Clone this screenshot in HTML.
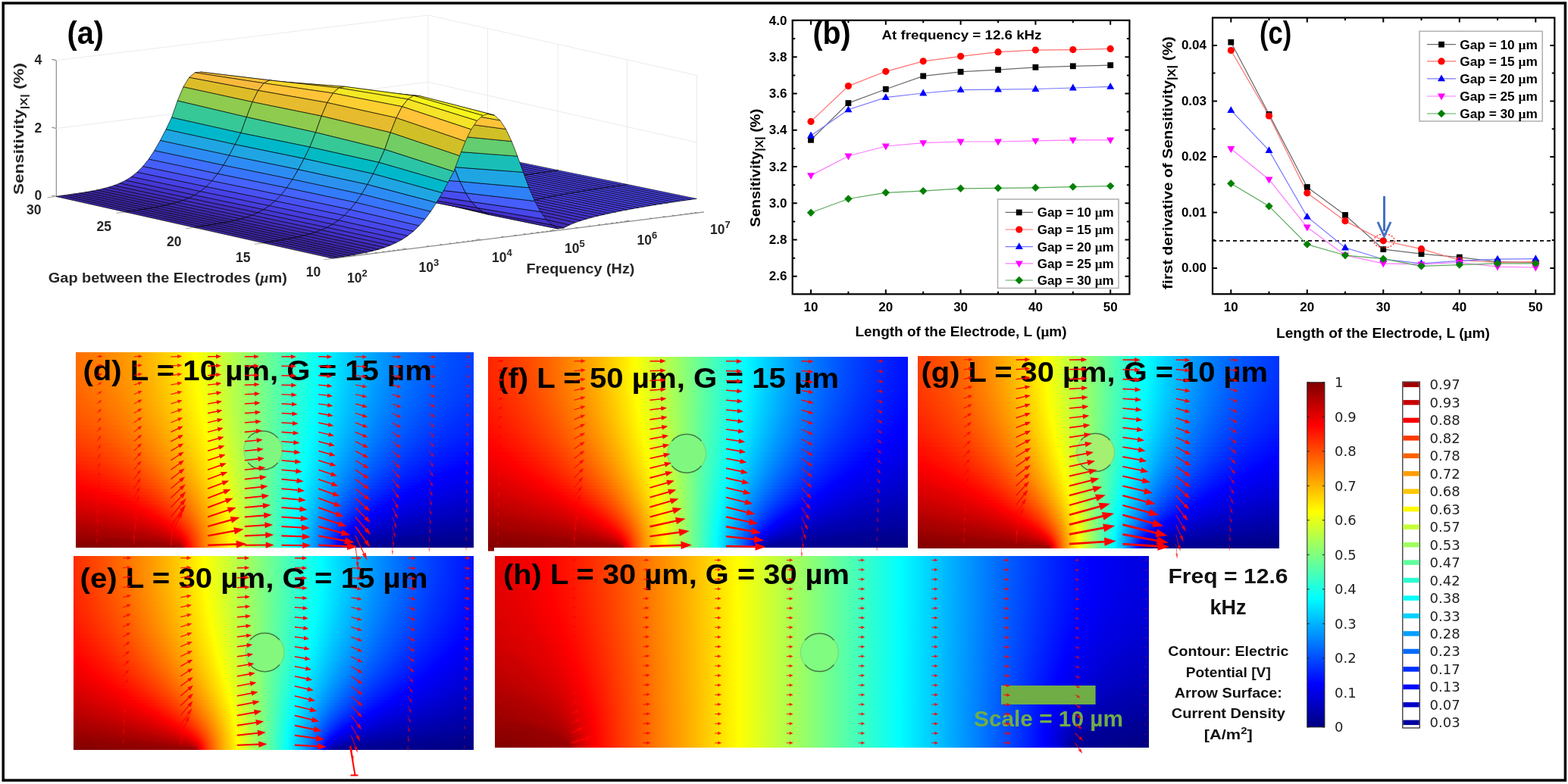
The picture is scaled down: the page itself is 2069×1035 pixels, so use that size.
<!DOCTYPE html><html><head><meta charset="utf-8"><style>
*{margin:0;padding:0}
html{overflow:hidden;background:#fff}
body{width:2069px;height:1035px;overflow:hidden;background:#fff;position:relative}
.fp{position:absolute;overflow:hidden}
.fp i{position:absolute;left:0;right:0;display:block}
svg{position:absolute;left:0;top:0}
text{font-family:"Liberation Sans",Arial,sans-serif}
.cb{font-size:18px;fill:#222;font-family:"DejaVu Sans",sans-serif}
.fq{font-size:27px;font-weight:bold;fill:#111}
.ct{font-size:17.5px;font-weight:bold;fill:#111}
.pl{font-size:37px;font-weight:bold;fill:#000}
.sc{font-size:30px;font-weight:bold;fill:#70ad47}
.lab{fill:#000;font-weight:bold}
.tk{font-size:17.5px;font-weight:bold;fill:#262626}
.al{font-size:18px;font-weight:bold;fill:#262626}
.ptk{font-size:17px;font-weight:bold;fill:#000}
.pal{font-size:19px;font-weight:bold;fill:#000}
.lg{font-size:17px;font-weight:bold;fill:#000}
.ann{font-size:17px;font-weight:bold;fill:#000}
</style></head><body>
<div class="fp" style="left:99.6px;top:464.6px;width:525.5px;height:258.7px"><i style="top:0px;height:7px;background:linear-gradient(90deg,#ff6e00 0px,#ff8000 33.6px,#ff9900 67.6px,#ffb200 94.4px,#ffcc00 117.4px,#ffe500 138.1px,#ffff00 157.2px,#e6ff19 175.2px,#ccff33 192.4px,#b3ff4c 209.1px,#99ff66 225.4px,#80ff80 241.4px,#66ff99 257.4px,#4dffb2 273.5px,#33ffcc 289.7px,#1affe5 306.3px,#00ffff 323.4px,#00e6ff 341.2px,#00ccff 359.9px,#00b3ff 380.1px,#0099ff 402.1px,#0080ff 427.1px,#0066ff 456.7px,#004dff 496.1px,#0040ff 525.5px)"></i><i style="top:6px;height:7px;background:linear-gradient(90deg,#ff6e00 0px,#ff8000 34px,#ff9900 67.9px,#ffb200 94.6px,#ffcc00 117.6px,#ffe500 138.3px,#ffff00 157.3px,#e6ff19 175.3px,#ccff33 192.5px,#b3ff4c 209.1px,#99ff66 225.4px,#80ff80 241.4px,#66ff99 257.4px,#4dffb2 273.4px,#33ffcc 289.7px,#1affe5 306.2px,#00ffff 323.3px,#00e6ff 341px,#00ccff 359.8px,#00b3ff 379.9px,#0099ff 401.9px,#0080ff 426.8px,#0066ff 456.4px,#004dff 495.6px,#003fff 525.5px)"></i><i style="top:12px;height:7px;background:linear-gradient(90deg,#ff6d00 0px,#ff8000 34.8px,#ff9900 68.5px,#ffb200 95.1px,#ffcc00 118px,#ffe500 138.5px,#ffff00 157.6px,#e6ff19 175.5px,#ccff33 192.6px,#b3ff4c 209.2px,#99ff66 225.4px,#80ff80 241.5px,#66ff99 257.4px,#4dffb2 273.4px,#33ffcc 289.6px,#1affe5 306.1px,#00ffff 323.1px,#00e6ff 340.8px,#00ccff 359.5px,#00b3ff 379.6px,#0099ff 401.5px,#0080ff 426.4px,#0066ff 455.9px,#004dff 494.8px,#003fff 525.5px)"></i><i style="top:18px;height:7px;background:linear-gradient(90deg,#ff6d00 0px,#ff8000 36px,#ff9900 69.3px,#ffb200 95.7px,#ffcc00 118.5px,#ffe500 139px,#ffff00 157.9px,#e6ff19 175.8px,#ccff33 192.8px,#b3ff4c 209.4px,#99ff66 225.5px,#80ff80 241.5px,#66ff99 257.4px,#4dffb2 273.3px,#33ffcc 289.4px,#1affe5 305.9px,#00ffff 322.8px,#00e6ff 340.5px,#00ccff 359.1px,#00b3ff 379.1px,#0099ff 401px,#0080ff 425.7px,#0066ff 455px,#004dff 493.5px,#003eff 525.5px)"></i><i style="top:24px;height:7px;background:linear-gradient(90deg,#ff6c00 0px,#ff8000 37.5px,#ff9900 70.4px,#ffb200 96.6px,#ffcc00 119.2px,#ffe500 139.6px,#ffff00 158.4px,#e6ff19 176.1px,#ccff33 193.1px,#b3ff4c 209.6px,#99ff66 225.7px,#80ff80 241.5px,#66ff99 257.3px,#4dffb2 273.2px,#33ffcc 289.3px,#1affe5 305.6px,#00ffff 322.5px,#00e6ff 340.1px,#00ccff 358.6px,#00b3ff 378.5px,#0099ff 400.2px,#0080ff 424.7px,#0066ff 453.8px,#004dff 491.9px,#003dff 525.5px)"></i><i style="top:30px;height:7px;background:linear-gradient(90deg,#ff6a00 0px,#ff8000 39.4px,#ff9900 71.8px,#ffb200 97.7px,#ffcc00 120.1px,#ffe500 140.3px,#ffff00 159px,#e6ff19 176.6px,#ccff33 193.5px,#b3ff4c 209.8px,#99ff66 225.8px,#80ff80 241.6px,#66ff99 257.3px,#4dffb2 273.1px,#33ffcc 289px,#1affe5 305.3px,#00ffff 322.1px,#00e6ff 339.5px,#00ccff 358px,#00b3ff 377.7px,#0099ff 399.3px,#0080ff 423.6px,#0066ff 452.4px,#004dff 489.9px,#003cff 525.5px)"></i><i style="top:36px;height:7px;background:linear-gradient(90deg,#ff6900 0px,#ff8000 41.6px,#ff9900 73.4px,#ffb200 99px,#ffcc00 121.1px,#ffe500 141.1px,#ffff00 159.6px,#e6ff19 177.1px,#ccff33 193.9px,#b3ff4c 210.1px,#99ff66 226px,#80ff80 241.7px,#66ff99 257.3px,#4dffb2 272.9px,#33ffcc 288.8px,#1affe5 304.9px,#00ffff 321.6px,#00e6ff 338.9px,#00ccff 357.2px,#00b3ff 376.8px,#0099ff 398.2px,#0080ff 422.3px,#0066ff 450.7px,#004dff 487.6px,#003bff 525.5px)"></i><i style="top:42px;height:7px;background:linear-gradient(90deg,#ff6700 0px,#ff8000 44.1px,#ff9900 75.2px,#ffb200 100.4px,#ffcc00 122.3px,#ffe500 142.1px,#ffff00 160.4px,#e6ff19 177.7px,#ccff33 194.3px,#b3ff4c 210.4px,#99ff66 226.2px,#80ff80 241.7px,#66ff99 257.2px,#4dffb2 272.7px,#33ffcc 288.5px,#1affe5 304.5px,#00ffff 321px,#00e6ff 338.2px,#00ccff 356.3px,#00b3ff 375.7px,#0099ff 396.9px,#0080ff 420.7px,#0066ff 448.8px,#004dff 484.9px,#0039ff 525.5px)"></i><i style="top:48px;height:7px;background:linear-gradient(90deg,#ff6500 0px,#ff6600 2.2px,#ff8000 46.9px,#ff9900 77.3px,#ffb200 102.1px,#ffcc00 123.7px,#ffe500 143.2px,#ffff00 161.3px,#e6ff19 178.4px,#ccff33 194.9px,#b3ff4c 210.8px,#99ff66 226.4px,#80ff80 241.8px,#66ff99 257.1px,#4dffb2 272.5px,#33ffcc 288.1px,#1affe5 304px,#00ffff 320.4px,#00e6ff 337.4px,#00ccff 355.3px,#00b3ff 374.5px,#0099ff 395.4px,#0080ff 419px,#0066ff 446.6px,#004dff 481.9px,#0038ff 525.5px)"></i><i style="top:54px;height:7px;background:linear-gradient(90deg,#ff6300 0px,#ff6600 7.4px,#ff8000 49.9px,#ff9900 79.6px,#ffb200 103.9px,#ffcc00 125.1px,#ffe500 144.4px,#ffff00 162.3px,#e6ff19 179.2px,#ccff33 195.5px,#b3ff4c 211.2px,#99ff66 226.6px,#80ff80 241.9px,#66ff99 257.1px,#4dffb2 272.3px,#33ffcc 287.7px,#1affe5 303.5px,#00ffff 319.6px,#00e6ff 336.5px,#00ccff 354.2px,#00b3ff 373.1px,#0099ff 393.8px,#0080ff 417px,#0066ff 444.2px,#004dff 478.7px,#0036ff 525.5px)"></i><i style="top:60px;height:7px;background:linear-gradient(90deg,#ff6000 0px,#ff6600 12.8px,#ff8000 53.2px,#ff9900 82.1px,#ffb200 105.9px,#ffcc00 126.8px,#ffe500 145.7px,#ffff00 163.4px,#e6ff19 180.1px,#ccff33 196.1px,#b3ff4c 211.7px,#99ff66 226.9px,#80ff80 242px,#66ff99 257px,#4dffb2 272.1px,#33ffcc 287.3px,#1affe5 302.9px,#00ffff 318.8px,#00e6ff 335.5px,#00ccff 353px,#00b3ff 371.7px,#0099ff 392px,#0080ff 414.9px,#0066ff 441.6px,#004dff 475.2px,#0034ff 525.5px)"></i><i style="top:66px;height:7px;background:linear-gradient(90deg,#ff5e00 0px,#ff6600 18.3px,#ff8000 56.7px,#ff9900 84.8px,#ffb200 108px,#ffcc00 128.5px,#ffe500 147.2px,#ffff00 164.5px,#e6ff19 181px,#ccff33 196.8px,#b3ff4c 212.2px,#99ff66 227.2px,#80ff80 242.1px,#66ff99 256.9px,#4dffb2 271.8px,#33ffcc 286.9px,#1affe5 302.2px,#00ffff 318px,#00e6ff 334.4px,#00ccff 351.6px,#00b3ff 370.1px,#0099ff 390.1px,#0080ff 412.6px,#0066ff 438.7px,#004dff 471.4px,#0033ff 520.8px,#0031ff 525.5px)"></i><i style="top:72px;height:7px;background:linear-gradient(90deg,#ff5b00 0px,#ff6600 23.9px,#ff8000 60.4px,#ff9900 87.6px,#ffb200 110.3px,#ffcc00 130.4px,#ffe500 148.7px,#ffff00 165.8px,#e6ff19 182px,#ccff33 197.5px,#b3ff4c 212.7px,#99ff66 227.5px,#80ff80 242.2px,#66ff99 256.8px,#4dffb2 271.5px,#33ffcc 286.4px,#1affe5 301.5px,#00ffff 317.1px,#00e6ff 333.2px,#00ccff 350.2px,#00b3ff 368.3px,#0099ff 388.1px,#0080ff 410.1px,#0066ff 435.7px,#004dff 467.4px,#0033ff 514px,#002fff 525.5px)"></i><i style="top:78px;height:7px;background:linear-gradient(90deg,#ff5700 0px,#ff6600 29.6px,#ff8000 64.3px,#ff9900 90.6px,#ffb200 112.8px,#ffcc00 132.4px,#ffe500 150.3px,#ffff00 167.1px,#e6ff19 183px,#ccff33 198.3px,#b3ff4c 213.2px,#99ff66 227.9px,#80ff80 242.3px,#66ff99 256.7px,#4dffb2 271.2px,#33ffcc 285.8px,#1affe5 300.8px,#00ffff 316.1px,#00e6ff 332px,#00ccff 348.7px,#00b3ff 366.5px,#0099ff 385.9px,#0080ff 407.5px,#0066ff 432.4px,#004dff 463.2px,#0033ff 507.2px,#002cff 525.5px)"></i><i style="top:84px;height:7px;background:linear-gradient(90deg,#ff5400 0px,#ff6600 35.4px,#ff8000 68.3px,#ff9900 93.8px,#ffb200 115.3px,#ffcc00 134.5px,#ffe500 152px,#ffff00 168.5px,#e6ff19 184.1px,#ccff33 199.2px,#b3ff4c 213.8px,#99ff66 228.2px,#80ff80 242.4px,#66ff99 256.6px,#4dffb2 270.9px,#33ffcc 285.3px,#1affe5 300px,#00ffff 315px,#00e6ff 330.7px,#00ccff 347.1px,#00b3ff 364.6px,#0099ff 383.6px,#0080ff 404.7px,#0066ff 429px,#004dff 458.8px,#0033ff 500.5px,#0029ff 525.5px)"></i><i style="top:90px;height:7px;background:linear-gradient(90deg,#ff5000 0px,#ff6600 41.2px,#ff8000 72.5px,#ff9900 97px,#ffb200 118px,#ffcc00 136.7px,#ffe500 153.8px,#ffff00 169.9px,#e6ff19 185.2px,#ccff33 200px,#b3ff4c 214.4px,#99ff66 228.6px,#80ff80 242.6px,#66ff99 256.5px,#4dffb2 270.5px,#33ffcc 284.7px,#1affe5 299.1px,#00ffff 313.9px,#00e6ff 329.3px,#00ccff 345.4px,#00b3ff 362.5px,#0099ff 381.1px,#0080ff 401.7px,#0066ff 425.5px,#004dff 454.3px,#0033ff 493.7px,#0026ff 525.5px)"></i><i style="top:96px;height:7px;background:linear-gradient(90deg,#ff4c00 0px,#ff4c00 1.2px,#ff6600 47.1px,#ff8000 76.8px,#ff9900 100.4px,#ffb200 120.7px,#ffcc00 138.9px,#ffe500 155.7px,#ffff00 171.4px,#e6ff19 186.4px,#ccff33 200.9px,#b3ff4c 215px,#99ff66 228.9px,#80ff80 242.7px,#66ff99 256.4px,#4dffb2 270.2px,#33ffcc 284.1px,#1affe5 298.3px,#00ffff 312.8px,#00e6ff 327.9px,#00ccff 343.6px,#00b3ff 360.4px,#0099ff 378.6px,#0080ff 398.7px,#0066ff 421.7px,#004dff 449.6px,#0033ff 487px,#0022ff 525.5px)"></i><i style="top:102px;height:7px;background:linear-gradient(90deg,#ff4800 0px,#ff4c00 11.7px,#ff6600 53px,#ff8000 81.2px,#ff9900 103.9px,#ffb200 123.6px,#ffcc00 141.3px,#ffe500 157.6px,#ffff00 173px,#e6ff19 187.6px,#ccff33 201.8px,#b3ff4c 215.7px,#99ff66 229.3px,#80ff80 242.8px,#66ff99 256.3px,#4dffb2 269.8px,#33ffcc 283.5px,#1affe5 297.4px,#00ffff 311.6px,#00e6ff 326.4px,#00ccff 341.8px,#00b3ff 358.2px,#0099ff 375.9px,#0080ff 395.5px,#0066ff 417.9px,#004dff 444.8px,#0033ff 480.2px,#001fff 525.5px)"></i><i style="top:108px;height:7px;background:linear-gradient(90deg,#ff4300 0px,#ff4c00 21.3px,#ff6600 58.8px,#ff8000 85.6px,#ff9900 107.5px,#ffb200 126.5px,#ffcc00 143.7px,#ffe500 159.6px,#ffff00 174.6px,#e6ff19 188.9px,#ccff33 202.8px,#b3ff4c 216.4px,#99ff66 229.7px,#80ff80 243px,#66ff99 256.2px,#4dffb2 269.4px,#33ffcc 282.8px,#1affe5 296.4px,#00ffff 310.4px,#00e6ff 324.8px,#00ccff 339.9px,#00b3ff 355.9px,#0099ff 373.2px,#0080ff 392.2px,#0066ff 413.9px,#004dff 439.8px,#0033ff 473.5px,#001bff 525.5px)"></i><i style="top:114px;height:7px;background:linear-gradient(90deg,#ff3e00 0px,#ff4c00 30.2px,#ff6600 64.7px,#ff8000 90.1px,#ff9900 111.1px,#ffb200 129.5px,#ffcc00 146.1px,#ffe500 161.6px,#ffff00 176.2px,#e6ff19 190.2px,#ccff33 203.8px,#b3ff4c 217px,#99ff66 230.1px,#80ff80 243.1px,#66ff99 256.1px,#4dffb2 269px,#33ffcc 282.2px,#1affe5 295.5px,#00ffff 309.1px,#00e6ff 323.2px,#00ccff 337.9px,#00b3ff 353.5px,#0099ff 370.3px,#0080ff 388.8px,#0066ff 409.8px,#004dff 434.8px,#0033ff 466.7px,#001aff 516.7px,#0017ff 525.5px)"></i><i style="top:120px;height:7px;background:linear-gradient(90deg,#ff3900 0px,#ff4c00 38.8px,#ff6600 70.6px,#ff8000 94.7px,#ff9900 114.8px,#ffb200 132.5px,#ffcc00 148.6px,#ffe500 163.6px,#ffff00 177.8px,#e6ff19 191.5px,#ccff33 204.7px,#b3ff4c 217.7px,#99ff66 230.5px,#80ff80 243.2px,#66ff99 255.9px,#4dffb2 268.6px,#33ffcc 281.5px,#1affe5 294.5px,#00ffff 307.8px,#00e6ff 321.6px,#00ccff 335.9px,#00b3ff 351.1px,#0099ff 367.4px,#0080ff 385.3px,#0066ff 405.6px,#004dff 429.6px,#0033ff 459.9px,#001aff 505.1px,#0012ff 525.5px)"></i><i style="top:126px;height:7px;background:linear-gradient(90deg,#ff3400 0px,#ff4c00 47px,#ff6600 76.5px,#ff8000 99.3px,#ff9900 118.6px,#ffb200 135.6px,#ffcc00 151.2px,#ffe500 165.7px,#ffff00 179.5px,#e6ff19 192.8px,#ccff33 205.8px,#b3ff4c 218.4px,#99ff66 230.9px,#80ff80 243.4px,#66ff99 255.8px,#4dffb2 268.2px,#33ffcc 280.8px,#1affe5 293.5px,#00ffff 306.5px,#00e6ff 319.9px,#00ccff 333.9px,#00b3ff 348.6px,#0099ff 364.4px,#0080ff 381.8px,#0066ff 401.3px,#004dff 424.3px,#0033ff 453.1px,#001aff 494.5px,#000eff 525.5px)"></i><i style="top:132px;height:7px;background:linear-gradient(90deg,#ff2e00 0px,#ff3300 13.2px,#ff4c00 54.9px,#ff6600 82.3px,#ff8000 103.9px,#ff9900 122.4px,#ffb200 138.7px,#ffcc00 153.8px,#ffe500 167.8px,#ffff00 181.2px,#e6ff19 194.2px,#ccff33 206.8px,#b3ff4c 219.1px,#99ff66 231.4px,#80ff80 243.5px,#66ff99 255.6px,#4dffb2 267.8px,#33ffcc 280.1px,#1affe5 292.5px,#00ffff 305.2px,#00e6ff 318.3px,#00ccff 331.8px,#00b3ff 346.1px,#0099ff 361.4px,#0080ff 378.2px,#0066ff 397px,#004dff 419px,#0033ff 446.3px,#001aff 484.4px,#0009ff 525.5px)"></i><i style="top:138px;height:7px;background:linear-gradient(90deg,#ff2800 0px,#ff3300 26px,#ff4c00 62.6px,#ff6600 88.1px,#ff8000 108.6px,#ff9900 126.1px,#ffb200 141.9px,#ffcc00 156.3px,#ffe500 169.9px,#ffff00 182.9px,#e6ff19 195.5px,#ccff33 207.8px,#b3ff4c 219.8px,#99ff66 231.8px,#80ff80 243.6px,#66ff99 255.5px,#4dffb2 267.4px,#33ffcc 279.4px,#1affe5 291.5px,#00ffff 303.9px,#00e6ff 316.6px,#00ccff 329.7px,#00b3ff 343.6px,#0099ff 358.4px,#0080ff 374.5px,#0066ff 392.6px,#004dff 413.6px,#0033ff 439.5px,#001aff 474.8px,#0004ff 525.5px)"></i><i style="top:144px;height:5px;background:linear-gradient(90deg,#ff2300 0px,#ff3300 35.5px,#ff4c00 68.8px,#ff6600 92.9px,#ff8000 112.4px,#ff9900 129.3px,#ffb200 144.5px,#ffcc00 158.5px,#ffe500 171.7px,#ffff00 184.3px,#e6ff19 196.6px,#ccff33 208.6px,#b3ff4c 220.4px,#99ff66 232.1px,#80ff80 243.8px,#66ff99 255.4px,#4dffb2 267px,#33ffcc 278.8px,#1affe5 290.7px,#00ffff 302.7px,#00e6ff 315.1px,#00ccff 328px,#00b3ff 341.4px,#0099ff 355.8px,#0080ff 371.4px,#0066ff 388.8px,#004dff 409.1px,#0033ff 433.8px,#001aff 467px,#0000ff 524.9px)"></i><i style="top:148px;height:5px;background:linear-gradient(90deg,#ff1e00 0px,#ff3300 42.7px,#ff4c00 73.7px,#ff6600 96.7px,#ff8000 115.5px,#ff9900 131.8px,#ffb200 146.6px,#ffcc00 160.2px,#ffe500 173.1px,#ffff00 185.5px,#e6ff19 197.5px,#ccff33 209.3px,#b3ff4c 220.9px,#99ff66 232.4px,#80ff80 243.8px,#66ff99 255.3px,#4dffb2 266.8px,#33ffcc 278.3px,#1affe5 290px,#00ffff 301.8px,#00e6ff 314px,#00ccff 326.6px,#00b3ff 339.7px,#0099ff 353.7px,#0080ff 368.9px,#0066ff 385.8px,#004dff 405.4px,#0033ff 429.3px,#001aff 460.9px,#0000ff 512.7px,#0000fb 525.5px)"></i><i style="top:152px;height:5px;background:linear-gradient(90deg,#ff1a00 0px,#ff3300 49.5px,#ff4c00 78.5px,#ff6600 100.4px,#ff8000 118.5px,#ff9900 134.3px,#ffb200 148.6px,#ffcc00 161.9px,#ffe500 174.5px,#ffff00 186.6px,#e6ff19 198.4px,#ccff33 209.9px,#b3ff4c 221.3px,#99ff66 232.7px,#80ff80 243.9px,#66ff99 255.2px,#4dffb2 266.5px,#33ffcc 277.8px,#1affe5 289.3px,#00ffff 300.9px,#00e6ff 312.9px,#00ccff 325.2px,#00b3ff 338px,#0099ff 351.6px,#0080ff 366.4px,#0066ff 382.8px,#004dff 401.8px,#0033ff 424.8px,#001aff 454.9px,#0000ff 502.1px,#0000f8 525.5px)"></i><i style="top:156px;height:5px;background:linear-gradient(90deg,#ff1500 0px,#ff1900 12.1px,#ff3300 56px,#ff4c00 83.3px,#ff6600 104.2px,#ff8000 121.6px,#ff9900 136.8px,#ffb200 150.7px,#ffcc00 163.6px,#ffe500 175.9px,#ffff00 187.7px,#e6ff19 199.3px,#ccff33 210.6px,#b3ff4c 221.8px,#99ff66 232.9px,#80ff80 244px,#66ff99 255.1px,#4dffb2 266.2px,#33ffcc 277.4px,#1affe5 288.6px,#00ffff 300.1px,#00e6ff 311.7px,#00ccff 323.7px,#00b3ff 336.3px,#0099ff 349.5px,#0080ff 363.9px,#0066ff 379.8px,#004dff 398.1px,#0033ff 420.2px,#001aff 448.9px,#0000ff 492.4px,#0000f4 525.5px)"></i><i style="top:160px;height:5px;background:linear-gradient(90deg,#ff1100 0px,#ff1900 23.3px,#ff3300 62.4px,#ff4c00 88px,#ff6600 107.9px,#ff8000 124.6px,#ff9900 139.3px,#ffb200 152.7px,#ffcc00 165.3px,#ffe500 177.3px,#ffff00 188.8px,#e6ff19 200.1px,#ccff33 211.3px,#b3ff4c 222.3px,#99ff66 233.2px,#80ff80 244.1px,#66ff99 255px,#4dffb2 265.9px,#33ffcc 276.9px,#1affe5 288px,#00ffff 299.2px,#00e6ff 310.6px,#00ccff 322.3px,#00b3ff 334.6px,#0099ff 347.5px,#0080ff 361.4px,#0066ff 376.8px,#004dff 394.4px,#0033ff 415.7px,#001aff 443.1px,#0000ff 483.4px,#0000f0 525.5px)"></i><i style="top:164px;height:5px;background:linear-gradient(90deg,#ff0c00 0px,#ff1900 33.2px,#ff3300 68.5px,#ff4c00 92.6px,#ff6600 111.6px,#ff8000 127.6px,#ff9900 141.8px,#ffb200 154.8px,#ffcc00 167px,#ffe500 178.6px,#ffff00 189.9px,#e6ff19 201px,#ccff33 211.9px,#b3ff4c 222.7px,#99ff66 233.5px,#80ff80 244.2px,#66ff99 254.9px,#4dffb2 265.6px,#33ffcc 276.4px,#1affe5 287.3px,#00ffff 298.3px,#00e6ff 309.5px,#00ccff 321px,#00b3ff 332.9px,#0099ff 345.4px,#0080ff 358.9px,#0066ff 373.8px,#004dff 390.8px,#0033ff 411.2px,#001aff 437.2px,#0000ff 474.9px,#0000ec 525.5px)"></i><i style="top:168px;height:5px;background:linear-gradient(90deg,#ff0700 0px,#ff1900 42.2px,#ff3300 74.4px,#ff4c00 97.1px,#ff6600 115.2px,#ff8000 130.5px,#ff9900 144.2px,#ffb200 156.8px,#ffcc00 168.6px,#ffe500 180px,#ffff00 191px,#e6ff19 201.8px,#ccff33 212.5px,#b3ff4c 223.1px,#99ff66 233.7px,#80ff80 244.3px,#66ff99 254.8px,#4dffb2 265.4px,#33ffcc 276px,#1affe5 286.6px,#00ffff 297.4px,#00e6ff 308.4px,#00ccff 319.6px,#00b3ff 331.2px,#0099ff 343.4px,#0080ff 356.4px,#0066ff 370.8px,#004dff 387.1px,#0033ff 406.6px,#001aff 431.5px,#0000ff 466.7px,#0000e8 525.5px)"></i><i style="top:172px;height:5px;background:linear-gradient(90deg,#ff0200 0px,#ff1900 50.6px,#ff3300 80.2px,#ff4c00 101.6px,#ff6600 118.8px,#ff8000 133.4px,#ff9900 146.6px,#ffb200 158.7px,#ffcc00 170.2px,#ffe500 181.3px,#ffff00 192.1px,#e6ff19 202.7px,#ccff33 213.1px,#b3ff4c 223.6px,#99ff66 234px,#80ff80 244.3px,#66ff99 254.7px,#4dffb2 265.1px,#33ffcc 275.5px,#1affe5 286px,#00ffff 296.5px,#00e6ff 307.3px,#00ccff 318.2px,#00b3ff 329.5px,#0099ff 341.3px,#0080ff 353.9px,#0066ff 367.8px,#004dff 383.5px,#0033ff 402.1px,#001aff 425.7px,#0000ff 458.7px,#0000e6 519.7px,#0000e4 525.5px)"></i><i style="top:176px;height:5px;background:linear-gradient(90deg,#fc0000 0px,#ff0000 11.2px,#ff1900 58.6px,#ff3300 85.9px,#ff4c00 106px,#ff6600 122.3px,#ff8000 136.3px,#ff9900 148.9px,#ffb200 160.7px,#ffcc00 171.8px,#ffe500 182.6px,#ffff00 193.1px,#e6ff19 203.5px,#ccff33 213.8px,#b3ff4c 224px,#99ff66 234.2px,#80ff80 244.4px,#66ff99 254.6px,#4dffb2 264.8px,#33ffcc 275.1px,#1affe5 285.3px,#00ffff 295.7px,#00e6ff 306.2px,#00ccff 316.9px,#00b3ff 327.8px,#0099ff 339.3px,#0080ff 351.5px,#0066ff 364.8px,#004dff 379.9px,#0033ff 397.7px,#001aff 420.1px,#0000ff 451px,#0000e6 504.2px,#0000e0 525.5px)"></i><i style="top:180px;height:5px;background:linear-gradient(90deg,#f60000 0px,#ff0000 25.5px,#ff1900 66.1px,#ff3300 91.4px,#ff4c00 110.3px,#ff6600 125.7px,#ff8000 139.1px,#ff9900 151.2px,#ffb200 162.6px,#ffcc00 173.4px,#ffe500 183.8px,#ffff00 194.1px,#e6ff19 204.3px,#ccff33 214.4px,#b3ff4c 224.4px,#99ff66 234.4px,#80ff80 244.5px,#66ff99 254.5px,#4dffb2 264.6px,#33ffcc 274.6px,#1affe5 284.7px,#00ffff 294.9px,#00e6ff 305.1px,#00ccff 315.5px,#00b3ff 326.2px,#0099ff 337.3px,#0080ff 349.1px,#0066ff 361.9px,#004dff 376.3px,#0033ff 393.2px,#001aff 414.5px,#0000ff 443.5px,#0000e6 491.1px,#0000dc 525.5px)"></i><i style="top:184px;height:5px;background:linear-gradient(90deg,#f10000 0px,#ff0000 37.5px,#ff1900 73.4px,#ff3300 96.7px,#ff4c00 114.5px,#ff6600 129.1px,#ff8000 141.9px,#ff9900 153.5px,#ffb200 164.4px,#ffcc00 174.9px,#ffe500 185.1px,#ffff00 195.1px,#e6ff19 205px,#ccff33 214.9px,#b3ff4c 224.8px,#99ff66 234.7px,#80ff80 244.5px,#66ff99 254.4px,#4dffb2 264.3px,#33ffcc 274.2px,#1affe5 284.1px,#00ffff 294.1px,#00e6ff 304.1px,#00ccff 314.2px,#00b3ff 324.6px,#0099ff 335.4px,#0080ff 346.7px,#0066ff 359px,#004dff 372.7px,#0033ff 388.8px,#001aff 408.9px,#0000ff 436.1px,#0000e6 479.2px,#0000d7 525.5px)"></i><i style="top:188px;height:5px;background:linear-gradient(90deg,#eb0000 0px,#ff0000 48.3px,#ff1900 80.3px,#ff3300 102px,#ff4c00 118.6px,#ff6600 132.4px,#ff8000 144.6px,#ff9900 155.7px,#ffb200 166.2px,#ffcc00 176.4px,#ffe500 186.3px,#ffff00 196.1px,#e6ff19 205.8px,#ccff33 215.5px,#b3ff4c 225.2px,#99ff66 234.9px,#80ff80 244.6px,#66ff99 254.3px,#4dffb2 264.1px,#33ffcc 273.8px,#1affe5 283.5px,#00ffff 293.3px,#00e6ff 303.1px,#00ccff 313px,#00b3ff 323.1px,#0099ff 333.5px,#0080ff 344.4px,#0066ff 356.1px,#004dff 369.2px,#0033ff 384.5px,#001aff 403.4px,#0000ff 428.9px,#0000e6 468.2px,#0000d3 525.5px)"></i><i style="top:192px;height:5px;background:linear-gradient(90deg,#e60000 0px,#ff0000 58.2px,#ff1900 87.1px,#ff3300 107px,#ff4c00 122.6px,#ff6600 135.6px,#ff8000 147.2px,#ff9900 157.8px,#ffb200 168px,#ffcc00 177.8px,#ffe500 187.4px,#ffff00 197px,#e6ff19 206.5px,#ccff33 216px,#b3ff4c 225.6px,#99ff66 235.1px,#80ff80 244.7px,#66ff99 254.2px,#4dffb2 263.8px,#33ffcc 273.4px,#1affe5 282.9px,#00ffff 292.5px,#00e6ff 302.1px,#00ccff 311.8px,#00b3ff 321.6px,#0099ff 331.6px,#0080ff 342.1px,#0066ff 353.3px,#004dff 365.8px,#0033ff 380.2px,#001aff 398px,#0000ff 421.7px,#0000e6 457.8px,#0000cf 525.5px)"></i><i style="top:196px;height:5px;background:linear-gradient(90deg,#e00000 0px,#e50000 20.2px,#ff0000 67.4px,#ff1900 93.5px,#ff3300 112px,#ff4c00 126.5px,#ff6600 138.7px,#ff8000 149.7px,#ff9900 159.9px,#ffb200 169.7px,#ffcc00 179.2px,#ffe500 188.5px,#ffff00 197.9px,#e6ff19 207.2px,#ccff33 216.5px,#b3ff4c 225.9px,#99ff66 235.3px,#80ff80 244.7px,#66ff99 254.2px,#4dffb2 263.6px,#33ffcc 273px,#1affe5 282.4px,#00ffff 291.8px,#00e6ff 301.1px,#00ccff 310.6px,#00b3ff 320.1px,#0099ff 329.8px,#0080ff 339.9px,#0066ff 350.6px,#004dff 362.4px,#0033ff 376px,#001aff 392.6px,#0000ff 414.7px,#0000e6 447.8px,#0000cc 515.2px,#0000ca 525.5px)"></i><i style="top:200px;height:4px;background:linear-gradient(90deg,#db0000 0px,#e50000 34.5px,#ff0000 75.1px,#ff1900 99px,#ff3300 116.2px,#ff4c00 129.8px,#ff6600 141.4px,#ff8000 151.9px,#ff9900 161.7px,#ffb200 171.1px,#ffcc00 180.3px,#ffe500 189.5px,#ffff00 198.6px,#e6ff19 207.8px,#ccff33 217px,#b3ff4c 226.2px,#99ff66 235.5px,#80ff80 244.8px,#66ff99 254.1px,#4dffb2 263.4px,#33ffcc 272.7px,#1affe5 281.9px,#00ffff 291.1px,#00e6ff 300.3px,#00ccff 309.6px,#00b3ff 318.8px,#0099ff 328.3px,#0080ff 338px,#0066ff 348.3px,#004dff 359.5px,#0033ff 372.4px,#001aff 388px,#0000ff 408.7px,#0000e6 439.4px,#0000cc 497.4px,#0000c6 525.5px)"></i><i style="top:203px;height:4px;background:linear-gradient(90deg,#d70000 0px,#e50000 45.1px,#ff0000 81.4px,#ff1900 103.6px,#ff3300 119.7px,#ff4c00 132.5px,#ff6600 143.6px,#ff8000 153.6px,#ff9900 163.1px,#ffb200 172.3px,#ffcc00 181.3px,#ffe500 190.3px,#ffff00 199.2px,#e6ff19 208.3px,#ccff33 217.3px,#b3ff4c 226.5px,#99ff66 235.6px,#80ff80 244.8px,#66ff99 254px,#4dffb2 263.2px,#33ffcc 272.4px,#1affe5 281.5px,#00ffff 290.6px,#00e6ff 299.7px,#00ccff 308.7px,#00b3ff 317.8px,#0099ff 327px,#0080ff 336.4px,#0066ff 346.3px,#004dff 357.1px,#0033ff 369.3px,#001aff 384.1px,#0000ff 403.6px,#0000e6 432.3px,#0000cc 484.5px,#0000c3 525.5px)"></i><i style="top:206px;height:4px;background:linear-gradient(90deg,#d20000 0px,#e50000 54.8px,#ff0000 87.5px,#ff1900 108px,#ff3300 123px,#ff4c00 135.2px,#ff6600 145.7px,#ff8000 155.3px,#ff9900 164.5px,#ffb200 173.4px,#ffcc00 182.2px,#ffe500 191px,#ffff00 199.8px,#e6ff19 208.7px,#ccff33 217.7px,#b3ff4c 226.7px,#99ff66 235.8px,#80ff80 244.9px,#66ff99 254px,#4dffb2 263.1px,#33ffcc 272.1px,#1affe5 281.2px,#00ffff 290.1px,#00e6ff 299.1px,#00ccff 307.9px,#00b3ff 316.8px,#0099ff 325.8px,#0080ff 334.9px,#0066ff 344.5px,#004dff 354.7px,#0033ff 366.4px,#001aff 380.3px,#0000ff 398.6px,#0000e6 425.4px,#0000cc 472.7px,#0000bf 525.5px)"></i><i style="top:209px;height:4px;background:linear-gradient(90deg,#cd0000 0px,#e50000 63.8px,#ff0000 93.4px,#ff1900 112.3px,#ff3300 126.3px,#ff4c00 137.8px,#ff6600 147.8px,#ff8000 157px,#ff9900 165.8px,#ffb200 174.5px,#ffcc00 183.1px,#ffe500 191.7px,#ffff00 200.4px,#e6ff19 209.2px,#ccff33 218px,#b3ff4c 226.9px,#99ff66 235.9px,#80ff80 244.9px,#66ff99 253.9px,#4dffb2 262.9px,#33ffcc 271.9px,#1affe5 280.8px,#00ffff 289.7px,#00e6ff 298.4px,#00ccff 307.2px,#00b3ff 315.9px,#0099ff 324.6px,#0080ff 333.4px,#0066ff 342.6px,#004dff 352.5px,#0033ff 363.5px,#001aff 376.6px,#0000ff 393.7px,#0000e6 418.6px,#0000cc 461.7px,#0000bc 525.5px)"></i><i style="top:212px;height:4px;background:linear-gradient(90deg,#c90000 0px,#cc0000 15.7px,#e50000 72.3px,#ff0000 99.1px,#ff1900 116.5px,#ff3300 129.5px,#ff4c00 140.2px,#ff6600 149.7px,#ff8000 158.6px,#ff9900 167.1px,#ffb200 175.5px,#ffcc00 183.9px,#ffe500 192.4px,#ffff00 200.9px,#e6ff19 209.6px,#ccff33 218.3px,#b3ff4c 227.1px,#99ff66 236px,#80ff80 244.9px,#66ff99 253.9px,#4dffb2 262.8px,#33ffcc 271.6px,#1affe5 280.5px,#00ffff 289.2px,#00e6ff 297.9px,#00ccff 306.4px,#00b3ff 314.9px,#0099ff 323.4px,#0080ff 332px,#0066ff 340.9px,#004dff 350.2px,#0033ff 360.6px,#001aff 373px,#0000ff 388.9px,#0000e6 411.9px,#0000cc 451.3px,#0000b8 525.5px)"></i><i style="top:215px;height:4px;background:linear-gradient(90deg,#c40000 0px,#cc0000 33px,#e50000 80.3px,#ff0000 104.5px,#ff1900 120.5px,#ff3300 132.5px,#ff4c00 142.6px,#ff6600 151.6px,#ff8000 160.1px,#ff9900 168.3px,#ffb200 176.5px,#ffcc00 184.7px,#ffe500 193px,#ffff00 201.5px,#e6ff19 210px,#ccff33 218.6px,#b3ff4c 227.3px,#99ff66 236.1px,#80ff80 245px,#66ff99 253.8px,#4dffb2 262.6px,#33ffcc 271.4px,#1affe5 280.1px,#00ffff 288.8px,#00e6ff 297.3px,#00ccff 305.7px,#00b3ff 314.1px,#0099ff 322.4px,#0080ff 330.7px,#0066ff 339.2px,#004dff 348.1px,#0033ff 357.9px,#001aff 369.4px,#0000ff 384.2px,#0000e6 405.4px,#0000cc 441.3px,#0000b4 525.5px)"></i><i style="top:218px;height:4px;background:linear-gradient(90deg,#c00000 0px,#cc0000 47.3px,#e50000 88px,#ff0000 109.8px,#ff1900 124.3px,#ff3300 135.5px,#ff4c00 144.9px,#ff6600 153.4px,#ff8000 161.5px,#ff9900 169.5px,#ffb200 177.5px,#ffcc00 185.5px,#ffe500 193.6px,#ffff00 201.9px,#e6ff19 210.4px,#ccff33 218.9px,#b3ff4c 227.5px,#99ff66 236.2px,#80ff80 245px,#66ff99 253.8px,#4dffb2 262.5px,#33ffcc 271.2px,#1affe5 279.8px,#00ffff 288.4px,#00e6ff 296.8px,#00ccff 305.1px,#00b3ff 313.2px,#0099ff 321.3px,#0080ff 329.4px,#0066ff 337.6px,#004dff 346.1px,#0033ff 355.3px,#001aff 366px,#0000ff 379.6px,#0000e6 399px,#0000cc 431.7px,#0000b2 511.7px,#0000b1 525.5px)"></i><i style="top:221px;height:4px;background:linear-gradient(90deg,#bb0000 0px,#cc0000 60px,#e50000 95.3px,#ff0000 114.8px,#ff1900 128px,#ff3300 138.2px,#ff4c00 147px,#ff6600 155.1px,#ff8000 162.9px,#ff9900 170.6px,#ffb200 178.3px,#ffcc00 186.2px,#ffe500 194.2px,#ffff00 202.4px,#e6ff19 210.7px,#ccff33 219.2px,#b3ff4c 227.7px,#99ff66 236.3px,#80ff80 245px,#66ff99 253.7px,#4dffb2 262.4px,#33ffcc 271px,#1affe5 279.5px,#00ffff 288px,#00e6ff 296.3px,#00ccff 304.4px,#00b3ff 312.5px,#0099ff 320.4px,#0080ff 328.2px,#0066ff 336px,#004dff 344.1px,#0033ff 352.8px,#001aff 362.7px,#0000ff 375.2px,#0000e6 392.8px,#0000cc 422.3px,#0000b2 489.6px,#0000ad 525.5px)"></i><i style="top:224px;height:4px;background:linear-gradient(90deg,#b60000 0px,#cc0000 71.6px,#e50000 102.3px,#ff0000 119.6px,#ff1900 131.5px,#ff3300 140.9px,#ff4c00 149px,#ff6600 156.7px,#ff8000 164.1px,#ff9900 171.6px,#ffb200 179.2px,#ffcc00 186.9px,#ffe500 194.8px,#ffff00 202.8px,#e6ff19 211px,#ccff33 219.4px,#b3ff4c 227.9px,#99ff66 236.4px,#80ff80 245px,#66ff99 253.7px,#4dffb2 262.3px,#33ffcc 270.8px,#1affe5 279.3px,#00ffff 287.6px,#00e6ff 295.8px,#00ccff 303.9px,#00b3ff 311.7px,#0099ff 319.4px,#0080ff 327px,#0066ff 334.6px,#004dff 342.3px,#0033ff 350.5px,#001aff 359.6px,#0000ff 370.9px,#0000e6 386.8px,#0000cc 413.2px,#0000b2 471.3px,#0000a9 525.5px)"></i><i style="top:227px;height:4px;background:linear-gradient(90deg,#b10000 0px,#b20000 9.9px,#cc0000 82.3px,#e50000 108.8px,#ff0000 124.1px,#ff1900 134.7px,#ff3300 143.3px,#ff4c00 150.9px,#ff6600 158.2px,#ff8000 165.3px,#ff9900 172.5px,#ffb200 179.9px,#ffcc00 187.5px,#ffe500 195.2px,#ffff00 203.2px,#e6ff19 211.3px,#ccff33 219.6px,#b3ff4c 228px,#99ff66 236.5px,#80ff80 245.1px,#66ff99 253.6px,#4dffb2 262.2px,#33ffcc 270.6px,#1affe5 279px,#00ffff 287.3px,#00e6ff 295.4px,#00ccff 303.3px,#00b3ff 311.1px,#0099ff 318.6px,#0080ff 326px,#0066ff 333.3px,#004dff 340.6px,#0033ff 348.2px,#001aff 356.7px,#0000ff 366.9px,#0000e6 381px,#0000cc 404.5px,#0000b2 454.9px,#0000a6 525.5px)"></i><i style="top:230px;height:4px;background:linear-gradient(90deg,#ac0000 0px,#b20000 36.7px,#cc0000 92.3px,#e50000 115px,#ff0000 128.3px,#ff1900 137.8px,#ff3300 145.6px,#ff4c00 152.7px,#ff6600 159.5px,#ff8000 166.4px,#ff9900 173.4px,#ffb200 180.6px,#ffcc00 188px,#ffe500 195.7px,#ffff00 203.6px,#e6ff19 211.6px,#ccff33 219.8px,#b3ff4c 228.2px,#99ff66 236.6px,#80ff80 245.1px,#66ff99 253.6px,#4dffb2 262.1px,#33ffcc 270.5px,#1affe5 278.8px,#00ffff 287px,#00e6ff 295px,#00ccff 302.8px,#00b3ff 310.4px,#0099ff 317.8px,#0080ff 325px,#0066ff 332px,#004dff 339px,#0033ff 346.2px,#001aff 353.9px,#0000ff 363.1px,#0000e6 375.5px,#0000cc 396px,#0000b2 439.6px,#0000a2 525.5px)"></i><i style="top:233px;height:4px;background:linear-gradient(90deg,#a80000 0px,#b20000 57px,#cc0000 101.6px,#e50000 120.8px,#ff0000 132.2px,#ff1900 140.6px,#ff3300 147.7px,#ff4c00 154.3px,#ff6600 160.8px,#ff8000 167.4px,#ff9900 174.2px,#ffb200 181.2px,#ffcc00 188.6px,#ffe500 196.1px,#ffff00 203.9px,#e6ff19 211.9px,#ccff33 220px,#b3ff4c 228.3px,#99ff66 236.7px,#80ff80 245.1px,#66ff99 253.6px,#4dffb2 262px,#33ffcc 270.3px,#1affe5 278.6px,#00ffff 286.7px,#00e6ff 294.6px,#00ccff 302.4px,#00b3ff 309.9px,#0099ff 317.1px,#0080ff 324.1px,#0066ff 330.9px,#004dff 337.6px,#0033ff 344.3px,#001aff 351.3px,#0000ff 359.5px,#0000e6 370.3px,#0000cc 387.9px,#0000b2 425.2px,#00009e 525.5px)"></i><i style="top:236px;height:4px;background:linear-gradient(90deg,#a30000 0px,#b20000 74.4px,#cc0000 110.3px,#e50000 126.2px,#ff0000 135.8px,#ff1900 143.1px,#ff3300 149.5px,#ff4c00 155.7px,#ff6600 161.9px,#ff8000 168.3px,#ff9900 174.9px,#ffb200 181.8px,#ffcc00 189px,#ffe500 196.5px,#ffff00 204.2px,#e6ff19 212.1px,#ccff33 220.2px,#b3ff4c 228.4px,#99ff66 236.7px,#80ff80 245.1px,#66ff99 253.5px,#4dffb2 261.9px,#33ffcc 270.2px,#1affe5 278.4px,#00ffff 286.5px,#00e6ff 294.3px,#00ccff 302px,#00b3ff 309.4px,#0099ff 316.5px,#0080ff 323.3px,#0066ff 329.9px,#004dff 336.3px,#0033ff 342.6px,#001aff 349px,#0000ff 356.2px,#0000e6 365.5px,#0000cc 380.2px,#0000b2 411.4px,#00009a 525.5px)"></i><i style="top:239px;height:4px;background:linear-gradient(90deg,#9e0000 0px,#b20000 89.9px,#cc0000 118.2px,#e50000 131px,#ff0000 139px,#ff1900 145.4px,#ff3300 151.2px,#ff4c00 156.9px,#ff6600 162.9px,#ff8000 169px,#ff9900 175.5px,#ffb200 182.3px,#ffcc00 189.4px,#ffe500 196.8px,#ffff00 204.4px,#e6ff19 212.3px,#ccff33 220.3px,#b3ff4c 228.5px,#99ff66 236.8px,#80ff80 245.1px,#66ff99 253.5px,#4dffb2 261.8px,#33ffcc 270.1px,#1affe5 278.3px,#00ffff 286.3px,#00e6ff 294.1px,#00ccff 301.6px,#00b3ff 308.9px,#0099ff 315.9px,#0080ff 322.6px,#0066ff 329px,#004dff 335.1px,#0033ff 341px,#001aff 346.9px,#0000ff 353.3px,#0000e6 361.1px,#0000cc 373.1px,#0000b2 398.4px,#000099 493.9px,#000097 525.5px)"></i><i style="top:242px;height:4px;background:linear-gradient(90deg,#990000 0px,#990000 4.1px,#b20000 103.9px,#cc0000 125.3px,#e50000 135.3px,#ff0000 141.8px,#ff1900 147.3px,#ff3300 152.6px,#ff4c00 158px,#ff6600 163.7px,#ff8000 169.7px,#ff9900 176px,#ffb200 182.7px,#ffcc00 189.7px,#ffe500 197.1px,#ffff00 204.6px,#e6ff19 212.4px,#ccff33 220.4px,#b3ff4c 228.6px,#99ff66 236.8px,#80ff80 245.2px,#66ff99 253.5px,#4dffb2 261.8px,#33ffcc 270px,#1affe5 278.1px,#00ffff 286.1px,#00e6ff 293.8px,#00ccff 301.3px,#00b3ff 308.6px,#0099ff 315.5px,#0080ff 322px,#0066ff 328.2px,#004dff 334.1px,#0033ff 339.7px,#001aff 345.2px,#0000ff 350.7px,#0000e6 357.2px,#0000cc 366.6px,#0000b2 386.3px,#000099 457.9px,#000093 525.5px)"></i><i style="top:245px;height:4px;background:linear-gradient(90deg,#940000 0px,#990000 54.1px,#b20000 116.2px,#cc0000 131.5px,#e50000 138.8px,#ff0000 144.1px,#ff1900 148.9px,#ff3300 153.8px,#ff4c00 158.9px,#ff6600 164.4px,#ff8000 170.2px,#ff9900 176.5px,#ffb200 183.1px,#ffcc00 190px,#ffe500 197.3px,#ffff00 204.8px,#e6ff19 212.6px,#ccff33 220.5px,#b3ff4c 228.7px,#99ff66 236.9px,#80ff80 245.2px,#66ff99 253.5px,#4dffb2 261.7px,#33ffcc 269.9px,#1affe5 278px,#00ffff 285.9px,#00e6ff 293.6px,#00ccff 301.1px,#00b3ff 308.2px,#0099ff 315.1px,#0080ff 321.5px,#0066ff 327.6px,#004dff 333.3px,#0033ff 338.6px,#001aff 343.6px,#0000ff 348.6px,#0000e6 353.9px,#0000cc 361px,#0000b2 375.2px,#000099 427.7px,#00008f 525.5px)"></i><i style="top:248px;height:4px;background:linear-gradient(90deg,#8f0000 0px,#990000 87.7px,#b20000 126.6px,#cc0000 136.5px,#e50000 141.8px,#ff0000 146px,#ff1900 150.2px,#ff3300 154.7px,#ff4c00 159.6px,#ff6600 164.9px,#ff8000 170.7px,#ff9900 176.8px,#ffb200 183.3px,#ffcc00 190.2px,#ffe500 197.5px,#ffff00 205px,#e6ff19 212.7px,#ccff33 220.6px,#b3ff4c 228.7px,#99ff66 236.9px,#80ff80 245.2px,#66ff99 253.5px,#4dffb2 261.7px,#33ffcc 269.9px,#1affe5 277.9px,#00ffff 285.8px,#00e6ff 293.5px,#00ccff 300.9px,#00b3ff 308px,#0099ff 314.8px,#0080ff 321.1px,#0066ff 327.1px,#004dff 332.7px,#0033ff 337.8px,#001aff 342.4px,#0000ff 346.8px,#0000e6 351.2px,#0000cc 356.3px,#0000b2 365.7px,#000099 400.6px,#00008b 525.5px)"></i><i style="top:251px;height:4px;background:linear-gradient(90deg,#8a0000 0px,#990000 114.3px,#b20000 134.7px,#cc0000 140.3px,#e50000 143.9px,#ff0000 147.4px,#ff1900 151.2px,#ff3300 155.4px,#ff4c00 160.1px,#ff6600 165.3px,#ff8000 171px,#ff9900 177.1px,#ffb200 183.5px,#ffcc00 190.4px,#ffe500 197.6px,#ffff00 205.1px,#e6ff19 212.8px,#ccff33 220.7px,#b3ff4c 228.8px,#99ff66 236.9px,#80ff80 245.2px,#66ff99 253.4px,#4dffb2 261.7px,#33ffcc 269.8px,#1affe5 277.9px,#00ffff 285.7px,#00e6ff 293.4px,#00ccff 300.7px,#00b3ff 307.8px,#0099ff 314.5px,#0080ff 320.9px,#0066ff 326.7px,#004dff 332.2px,#0033ff 337.1px,#001aff 341.6px,#0000ff 345.6px,#0000e6 349.2px,#0000cc 352.9px,#0000b2 358.3px,#000099 377.1px,#000087 525.5px)"></i><i style="top:254px;height:4px;background:linear-gradient(90deg,#850000 0px,#990000 133.2px,#b20000 140.1px,#cc0000 142.6px,#e50000 145.2px,#ff0000 148.2px,#ff1900 151.8px,#ff3300 155.8px,#ff4c00 160.5px,#ff6600 165.6px,#ff8000 171.2px,#ff9900 177.2px,#ffb200 183.7px,#ffcc00 190.5px,#ffe500 197.7px,#ffff00 205.1px,#e6ff19 212.8px,#ccff33 220.7px,#b3ff4c 228.8px,#99ff66 236.9px,#80ff80 245.2px,#66ff99 253.4px,#4dffb2 261.7px,#33ffcc 269.8px,#1affe5 277.8px,#00ffff 285.7px,#00e6ff 293.3px,#00ccff 300.7px,#00b3ff 307.7px,#0099ff 314.4px,#0080ff 320.7px,#0066ff 326.5px,#004dff 331.9px,#0033ff 336.7px,#001aff 341px,#0000ff 344.8px,#0000e6 348px,#0000cc 350.7px,#0000b2 353.3px,#000099 359.7px,#000084 525.5px)"></i><i style="top:257px;height:3px;background:linear-gradient(90deg,#810000 0px,#990000 140.4px,#b20000 141.6px,#cc0000 143.4px,#e50000 145.6px,#ff0000 148.5px,#ff1900 152px,#ff3300 156px,#ff4c00 160.6px,#ff6600 165.7px,#ff8000 171.2px,#ff9900 177.3px,#ffb200 183.7px,#ffcc00 190.5px,#ffe500 197.7px,#ffff00 205.1px,#e6ff19 212.8px,#ccff33 220.7px,#b3ff4c 228.8px,#99ff66 237px,#80ff80 245.2px,#66ff99 253.4px,#4dffb2 261.7px,#33ffcc 269.8px,#1affe5 277.8px,#00ffff 285.7px,#00e6ff 293.3px,#00ccff 300.6px,#00b3ff 307.7px,#0099ff 314.4px,#0080ff 320.6px,#0066ff 326.5px,#004dff 331.8px,#0033ff 336.6px,#001aff 340.8px,#0000ff 344.5px,#0000e6 347.6px,#0000cc 350px,#0000b2 351.8px,#000099 353.1px,#000081 525.5px)"></i></div>
<div class="fp" style="left:644.0px;top:470.7px;width:554.3px;height:252.8px"><i style="top:0px;height:7px;background:linear-gradient(90deg,#ff2400 0px,#ff3300 23.5px,#ff4c00 55.6px,#ff6600 81.9px,#ff8000 104.7px,#ff9900 125.1px,#ffb200 143.8px,#ffcc00 161.2px,#ffe500 177.6px,#ffff00 193.3px,#e6ff19 208.5px,#ccff33 223.2px,#b3ff4c 237.7px,#99ff66 251.9px,#80ff80 266px,#66ff99 280.2px,#4dffb2 294.4px,#33ffcc 308.7px,#1affe5 323.4px,#00ffff 338.4px,#00e6ff 353.9px,#00ccff 370.1px,#00b3ff 387.1px,#0099ff 405.3px,#0080ff 425px,#0066ff 446.7px,#004dff 471.2px,#0033ff 500.1px,#001aff 536.4px,#000fff 554.3px)"></i><i style="top:6px;height:7px;background:linear-gradient(90deg,#ff2400 0px,#ff3300 23.8px,#ff4c00 55.8px,#ff6600 82.1px,#ff8000 104.8px,#ff9900 125.2px,#ffb200 143.9px,#ffcc00 161.3px,#ffe500 177.7px,#ffff00 193.4px,#e6ff19 208.5px,#ccff33 223.3px,#b3ff4c 237.7px,#99ff66 251.9px,#80ff80 266px,#66ff99 280.1px,#4dffb2 294.3px,#33ffcc 308.7px,#1affe5 323.3px,#00ffff 338.3px,#00e6ff 353.8px,#00ccff 370px,#00b3ff 387px,#0099ff 405.2px,#0080ff 424.8px,#0066ff 446.5px,#004dff 471px,#0033ff 499.9px,#001aff 536.1px,#000fff 554.3px)"></i><i style="top:12px;height:7px;background:linear-gradient(90deg,#ff2400 0px,#ff3300 24.3px,#ff4c00 56.3px,#ff6600 82.5px,#ff8000 105.2px,#ff9900 125.5px,#ffb200 144.1px,#ffcc00 161.5px,#ffe500 177.9px,#ffff00 193.6px,#e6ff19 208.7px,#ccff33 223.4px,#b3ff4c 237.8px,#99ff66 251.9px,#80ff80 266px,#66ff99 280.1px,#4dffb2 294.3px,#33ffcc 308.6px,#1affe5 323.2px,#00ffff 338.1px,#00e6ff 353.6px,#00ccff 369.8px,#00b3ff 386.8px,#0099ff 404.9px,#0080ff 424.5px,#0066ff 446.2px,#004dff 470.6px,#0033ff 499.4px,#001aff 535.6px,#000fff 554.3px)"></i><i style="top:18px;height:7px;background:linear-gradient(90deg,#ff2300 0px,#ff3300 25.1px,#ff4c00 56.9px,#ff6600 83.1px,#ff8000 105.7px,#ff9900 126px,#ffb200 144.5px,#ffcc00 161.8px,#ffe500 178.2px,#ffff00 193.8px,#e6ff19 208.9px,#ccff33 223.5px,#b3ff4c 237.9px,#99ff66 252px,#80ff80 266px,#66ff99 280.1px,#4dffb2 294.2px,#33ffcc 308.5px,#1affe5 323px,#00ffff 337.9px,#00e6ff 353.4px,#00ccff 369.4px,#00b3ff 386.4px,#0099ff 404.5px,#0080ff 424px,#0066ff 445.6px,#004dff 470px,#0033ff 498.7px,#001aff 534.7px,#000eff 554.3px)"></i><i style="top:24px;height:7px;background:linear-gradient(90deg,#ff2200 0px,#ff3300 26.3px,#ff4c00 57.9px,#ff6600 83.9px,#ff8000 106.4px,#ff9900 126.6px,#ffb200 145.1px,#ffcc00 162.3px,#ffe500 178.6px,#ffff00 194.1px,#e6ff19 209.1px,#ccff33 223.7px,#b3ff4c 238px,#99ff66 252.1px,#80ff80 266.1px,#66ff99 280px,#4dffb2 294.1px,#33ffcc 308.3px,#1affe5 322.8px,#00ffff 337.6px,#00e6ff 353px,#00ccff 369px,#00b3ff 385.9px,#0099ff 403.9px,#0080ff 423.4px,#0066ff 444.9px,#004dff 469.2px,#0033ff 497.7px,#001aff 533.5px,#000eff 554.3px)"></i><i style="top:30px;height:7px;background:linear-gradient(90deg,#ff2100 0px,#ff3300 27.7px,#ff4c00 59px,#ff6600 84.9px,#ff8000 107.3px,#ff9900 127.3px,#ffb200 145.7px,#ffcc00 162.9px,#ffe500 179.1px,#ffff00 194.5px,#e6ff19 209.4px,#ccff33 223.9px,#b3ff4c 238.1px,#99ff66 252.2px,#80ff80 266.1px,#66ff99 280px,#4dffb2 293.9px,#33ffcc 308.1px,#1affe5 322.5px,#00ffff 337.2px,#00e6ff 352.5px,#00ccff 368.5px,#00b3ff 385.3px,#0099ff 403.2px,#0080ff 422.6px,#0066ff 443.9px,#004dff 468.1px,#0033ff 496.5px,#001aff 532.1px,#000dff 554.3px)"></i><i style="top:36px;height:7px;background:linear-gradient(90deg,#ff2000 0px,#ff3300 29.3px,#ff4c00 60.4px,#ff6600 86.1px,#ff8000 108.3px,#ff9900 128.3px,#ffb200 146.5px,#ffcc00 163.6px,#ffe500 179.7px,#ffff00 195px,#e6ff19 209.8px,#ccff33 224.2px,#b3ff4c 238.3px,#99ff66 252.3px,#80ff80 266.1px,#66ff99 279.9px,#4dffb2 293.8px,#33ffcc 307.8px,#1affe5 322.1px,#00ffff 336.8px,#00e6ff 352px,#00ccff 367.8px,#00b3ff 384.5px,#0099ff 402.3px,#0080ff 421.6px,#0066ff 442.8px,#004dff 466.9px,#0033ff 495.1px,#001aff 530.3px,#000cff 554.3px)"></i><i style="top:42px;height:7px;background:linear-gradient(90deg,#ff1f00 0px,#ff3300 31.3px,#ff4c00 62.1px,#ff6600 87.5px,#ff8000 109.6px,#ff9900 129.4px,#ffb200 147.5px,#ffcc00 164.4px,#ffe500 180.3px,#ffff00 195.6px,#e6ff19 210.3px,#ccff33 224.6px,#b3ff4c 238.6px,#99ff66 252.4px,#80ff80 266.1px,#66ff99 279.8px,#4dffb2 293.6px,#33ffcc 307.5px,#1affe5 321.7px,#00ffff 336.3px,#00e6ff 351.3px,#00ccff 367.1px,#00b3ff 383.6px,#0099ff 401.3px,#0080ff 420.4px,#0066ff 441.5px,#004dff 465.4px,#0033ff 493.4px,#001aff 528.3px,#000bff 554.3px)"></i><i style="top:48px;height:7px;background:linear-gradient(90deg,#ff1d00 0px,#ff3300 33.5px,#ff4c00 64px,#ff6600 89.1px,#ff8000 111px,#ff9900 130.6px,#ffb200 148.6px,#ffcc00 165.3px,#ffe500 181.1px,#ffff00 196.2px,#e6ff19 210.8px,#ccff33 225px,#b3ff4c 238.8px,#99ff66 252.5px,#80ff80 266.1px,#66ff99 279.7px,#4dffb2 293.3px,#33ffcc 307.2px,#1affe5 321.2px,#00ffff 335.7px,#00e6ff 350.6px,#00ccff 366.2px,#00b3ff 382.6px,#0099ff 400.1px,#0080ff 419.1px,#0066ff 440px,#004dff 463.7px,#0033ff 491.4px,#001aff 526px,#0009ff 554.3px)"></i><i style="top:54px;height:7px;background:linear-gradient(90deg,#ff1c00 0px,#ff3300 36px,#ff4c00 66.1px,#ff6600 90.9px,#ff8000 112.6px,#ff9900 132px,#ffb200 149.8px,#ffcc00 166.3px,#ffe500 182px,#ffff00 197px,#e6ff19 211.4px,#ccff33 225.4px,#b3ff4c 239.1px,#99ff66 252.7px,#80ff80 266.1px,#66ff99 279.6px,#4dffb2 293.1px,#33ffcc 306.8px,#1affe5 320.7px,#00ffff 335px,#00e6ff 349.8px,#00ccff 365.2px,#00b3ff 381.5px,#0099ff 398.8px,#0080ff 417.6px,#0066ff 438.4px,#004dff 461.8px,#0033ff 489.3px,#001aff 523.3px,#0008ff 554.3px)"></i><i style="top:60px;height:7px;background:linear-gradient(90deg,#ff1a00 0px,#ff3300 38.8px,#ff4c00 68.4px,#ff6600 93px,#ff8000 114.3px,#ff9900 133.5px,#ffb200 151.1px,#ffcc00 167.5px,#ffe500 183px,#ffff00 197.7px,#e6ff19 212px,#ccff33 225.9px,#b3ff4c 239.4px,#99ff66 252.8px,#80ff80 266.2px,#66ff99 279.4px,#4dffb2 292.8px,#33ffcc 306.3px,#1affe5 320.1px,#00ffff 334.3px,#00e6ff 348.9px,#00ccff 364.1px,#00b3ff 380.2px,#0099ff 397.4px,#0080ff 416px,#0066ff 436.5px,#004dff 459.7px,#0033ff 486.8px,#001aff 520.5px,#0006ff 554.3px)"></i><i style="top:66px;height:7px;background:linear-gradient(90deg,#ff1700 0px,#ff1900 3.7px,#ff3300 41.8px,#ff4c00 70.9px,#ff6600 95.2px,#ff8000 116.3px,#ff9900 135.2px,#ffb200 152.6px,#ffcc00 168.7px,#ffe500 184px,#ffff00 198.6px,#e6ff19 212.7px,#ccff33 226.4px,#b3ff4c 239.8px,#99ff66 253px,#80ff80 266.2px,#66ff99 279.3px,#4dffb2 292.5px,#33ffcc 305.9px,#1affe5 319.5px,#00ffff 333.4px,#00e6ff 347.9px,#00ccff 363px,#00b3ff 378.9px,#0099ff 395.8px,#0080ff 414.2px,#0066ff 434.5px,#004dff 457.4px,#0033ff 484.2px,#001aff 517.3px,#0004ff 554.3px)"></i><i style="top:72px;height:7px;background:linear-gradient(90deg,#ff1500 0px,#ff1900 7.8px,#ff3300 45px,#ff4c00 73.7px,#ff6600 97.5px,#ff8000 118.4px,#ff9900 137px,#ffb200 154.1px,#ffcc00 170.1px,#ffe500 185.2px,#ffff00 199.6px,#e6ff19 213.4px,#ccff33 226.9px,#b3ff4c 240.2px,#99ff66 253.2px,#80ff80 266.2px,#66ff99 279.2px,#4dffb2 292.2px,#33ffcc 305.4px,#1affe5 318.8px,#00ffff 332.6px,#00e6ff 346.8px,#00ccff 361.7px,#00b3ff 377.4px,#0099ff 394.1px,#0080ff 412.2px,#0066ff 432.3px,#004dff 454.9px,#0033ff 481.3px,#001aff 513.9px,#0002ff 554.3px)"></i><i style="top:78px;height:7px;background:linear-gradient(90deg,#ff1300 0px,#ff1900 12.2px,#ff3300 48.5px,#ff4c00 76.6px,#ff6600 100.1px,#ff8000 120.6px,#ff9900 139px,#ffb200 155.8px,#ffcc00 171.5px,#ffe500 186.4px,#ffff00 200.6px,#e6ff19 214.2px,#ccff33 227.5px,#b3ff4c 240.6px,#99ff66 253.4px,#80ff80 266.2px,#66ff99 279px,#4dffb2 291.8px,#33ffcc 304.8px,#1affe5 318.1px,#00ffff 331.6px,#00e6ff 345.7px,#00ccff 360.3px,#00b3ff 375.8px,#0099ff 392.3px,#0080ff 410.1px,#0066ff 429.9px,#004dff 452.2px,#0033ff 478.2px,#001aff 510.2px,#0000ff 553.8px)"></i><i style="top:84px;height:7px;background:linear-gradient(90deg,#ff1000 0px,#ff1900 16.9px,#ff3300 52.3px,#ff4c00 79.8px,#ff6600 102.9px,#ff8000 123px,#ff9900 141.1px,#ffb200 157.6px,#ffcc00 173.1px,#ffe500 187.7px,#ffff00 201.6px,#e6ff19 215.1px,#ccff33 228.2px,#b3ff4c 241px,#99ff66 253.7px,#80ff80 266.3px,#66ff99 278.8px,#4dffb2 291.5px,#33ffcc 304.3px,#1affe5 317.3px,#00ffff 330.6px,#00e6ff 344.5px,#00ccff 358.9px,#00b3ff 374.1px,#0099ff 390.3px,#0080ff 407.9px,#0066ff 427.3px,#004dff 449.3px,#0033ff 474.9px,#001aff 506.3px,#0000ff 548.7px,#0000fc 554.3px)"></i><i style="top:90px;height:7px;background:linear-gradient(90deg,#ff0d00 0px,#ff1900 21.8px,#ff3300 56.2px,#ff4c00 83.2px,#ff6600 105.8px,#ff8000 125.5px,#ff9900 143.3px,#ffb200 159.6px,#ffcc00 174.7px,#ffe500 189px,#ffff00 202.7px,#e6ff19 216px,#ccff33 228.8px,#b3ff4c 241.5px,#99ff66 253.9px,#80ff80 266.3px,#66ff99 278.6px,#4dffb2 291.1px,#33ffcc 303.7px,#1affe5 316.5px,#00ffff 329.6px,#00e6ff 343.2px,#00ccff 357.3px,#00b3ff 372.3px,#0099ff 388.2px,#0080ff 405.5px,#0066ff 424.6px,#004dff 446.2px,#0033ff 471.3px,#001aff 502.1px,#0000ff 543.4px,#0000fa 554.3px)"></i><i style="top:96px;height:7px;background:linear-gradient(90deg,#ff0a00 0px,#ff1900 27px,#ff3300 60.4px,#ff4c00 86.7px,#ff6600 108.9px,#ff8000 128.2px,#ff9900 145.6px,#ffb200 161.6px,#ffcc00 176.4px,#ffe500 190.5px,#ffff00 203.9px,#e6ff19 216.9px,#ccff33 229.5px,#b3ff4c 241.9px,#99ff66 254.2px,#80ff80 266.3px,#66ff99 278.5px,#4dffb2 290.7px,#33ffcc 303px,#1affe5 315.6px,#00ffff 328.5px,#00e6ff 341.8px,#00ccff 355.7px,#00b3ff 370.4px,#0099ff 386px,#0080ff 403px,#0066ff 421.7px,#004dff 442.9px,#0033ff 467.6px,#001aff 497.7px,#0000ff 537.8px,#0000f7 554.3px)"></i><i style="top:102px;height:7px;background:linear-gradient(90deg,#ff0700 0px,#ff1900 32.4px,#ff3300 64.8px,#ff4c00 90.5px,#ff6600 112.1px,#ff8000 131.1px,#ff9900 148.1px,#ffb200 163.7px,#ffcc00 178.2px,#ffe500 192px,#ffff00 205.2px,#e6ff19 217.9px,#ccff33 230.3px,#b3ff4c 242.4px,#99ff66 254.4px,#80ff80 266.3px,#66ff99 278.3px,#4dffb2 290.2px,#33ffcc 302.4px,#1affe5 314.7px,#00ffff 327.3px,#00e6ff 340.4px,#00ccff 354px,#00b3ff 368.4px,#0099ff 383.7px,#0080ff 400.3px,#0066ff 418.7px,#004dff 439.4px,#0033ff 463.6px,#001aff 493.1px,#0000ff 532px,#0000f4 554.3px)"></i><i style="top:108px;height:7px;background:linear-gradient(90deg,#ff0300 0px,#ff1900 38px,#ff3300 69.4px,#ff4c00 94.4px,#ff6600 115.5px,#ff8000 134px,#ff9900 150.6px,#ffb200 165.9px,#ffcc00 180.1px,#ffe500 193.6px,#ffff00 206.4px,#e6ff19 218.9px,#ccff33 231px,#b3ff4c 242.9px,#99ff66 254.7px,#80ff80 266.4px,#66ff99 278.1px,#4dffb2 289.8px,#33ffcc 301.7px,#1affe5 313.7px,#00ffff 326.1px,#00e6ff 338.9px,#00ccff 352.2px,#00b3ff 366.3px,#0099ff 381.3px,#0080ff 397.5px,#0066ff 415.5px,#004dff 435.8px,#0033ff 459.4px,#001aff 488.2px,#0000ff 525.9px,#0000f1 554.3px)"></i><i style="top:114px;height:7px;background:linear-gradient(90deg,#fe0000 0px,#ff0000 1.3px,#ff1900 43.8px,#ff3300 74.2px,#ff4c00 98.5px,#ff6600 119.1px,#ff8000 137.1px,#ff9900 153.3px,#ffb200 168.2px,#ffcc00 182.1px,#ffe500 195.2px,#ffff00 207.8px,#e6ff19 219.9px,#ccff33 231.8px,#b3ff4c 243.4px,#99ff66 255px,#80ff80 266.4px,#66ff99 277.8px,#4dffb2 289.3px,#33ffcc 301px,#1affe5 312.8px,#00ffff 324.9px,#00e6ff 337.4px,#00ccff 350.4px,#00b3ff 364.1px,#0099ff 378.7px,#0080ff 394.6px,#0066ff 412.1px,#004dff 431.9px,#0033ff 455px,#001aff 483.1px,#0000ff 519.6px,#0000ee 554.3px)"></i><i style="top:120px;height:7px;background:linear-gradient(90deg,#fa0000 0px,#ff0000 9.3px,#ff1900 49.8px,#ff3300 79.2px,#ff4c00 102.8px,#ff6600 122.8px,#ff8000 140.3px,#ff9900 156.1px,#ffb200 170.5px,#ffcc00 184.1px,#ffe500 196.9px,#ffff00 209.1px,#e6ff19 221px,#ccff33 232.6px,#b3ff4c 244px,#99ff66 255.2px,#80ff80 266.4px,#66ff99 277.6px,#4dffb2 288.9px,#33ffcc 300.2px,#1affe5 311.8px,#00ffff 323.6px,#00e6ff 335.8px,#00ccff 348.5px,#00b3ff 361.8px,#0099ff 376.1px,#0080ff 391.5px,#0066ff 408.6px,#004dff 427.9px,#0033ff 450.4px,#001aff 477.7px,#0000ff 513.1px,#0000ea 554.3px)"></i><i style="top:126px;height:7px;background:linear-gradient(90deg,#f60000 0px,#ff0000 17.4px,#ff1900 56px,#ff3300 84.4px,#ff4c00 107.3px,#ff6600 126.6px,#ff8000 143.6px,#ff9900 158.9px,#ffb200 173px,#ffcc00 186.1px,#ffe500 198.6px,#ffff00 210.5px,#e6ff19 222.1px,#ccff33 233.4px,#b3ff4c 244.5px,#99ff66 255.5px,#80ff80 266.5px,#66ff99 277.4px,#4dffb2 288.4px,#33ffcc 299.5px,#1affe5 310.7px,#00ffff 322.3px,#00e6ff 334.1px,#00ccff 346.5px,#00b3ff 359.5px,#0099ff 373.4px,#0080ff 388.4px,#0066ff 405px,#004dff 423.7px,#0033ff 445.6px,#001aff 472.1px,#0000ff 506.4px,#0000e7 554.3px)"></i><i style="top:132px;height:7px;background:linear-gradient(90deg,#f20000 0px,#ff0000 25.6px,#ff1900 62.4px,#ff3300 89.7px,#ff4c00 111.9px,#ff6600 130.6px,#ff8000 147.1px,#ff9900 161.9px,#ffb200 175.5px,#ffcc00 188.2px,#ffe500 200.3px,#ffff00 212px,#e6ff19 223.2px,#ccff33 234.2px,#b3ff4c 245.1px,#99ff66 255.8px,#80ff80 266.5px,#66ff99 277.2px,#4dffb2 287.9px,#33ffcc 298.7px,#1affe5 309.7px,#00ffff 320.9px,#00e6ff 332.5px,#00ccff 344.5px,#00b3ff 357.1px,#0099ff 370.6px,#0080ff 385.1px,#0066ff 401.2px,#004dff 419.4px,#0033ff 440.6px,#001aff 466.3px,#0000ff 499.4px,#0000e6 547.4px,#0000e3 554.3px)"></i><i style="top:138px;height:5px;background:linear-gradient(90deg,#ee0000 0px,#ff0000 32.6px,#ff1900 67.9px,#ff3300 94.3px,#ff4c00 115.8px,#ff6600 134px,#ff8000 150px,#ff9900 164.4px,#ffb200 177.6px,#ffcc00 190px,#ffe500 201.8px,#ffff00 213.2px,#e6ff19 224.2px,#ccff33 234.9px,#b3ff4c 245.6px,#99ff66 256.1px,#80ff80 266.5px,#66ff99 277px,#4dffb2 287.5px,#33ffcc 298.1px,#1affe5 308.8px,#00ffff 319.8px,#00e6ff 331.1px,#00ccff 342.8px,#00b3ff 355.1px,#0099ff 368.2px,#0080ff 382.3px,#0066ff 398px,#004dff 415.7px,#0033ff 436.3px,#001aff 461.3px,#0000ff 493.4px,#0000e6 539.4px,#0000df 554.3px)"></i><i style="top:142px;height:5px;background:linear-gradient(90deg,#eb0000 0px,#ff0000 38.2px,#ff1900 72.3px,#ff3300 98.1px,#ff4c00 119px,#ff6600 136.8px,#ff8000 152.3px,#ff9900 166.4px,#ffb200 179.3px,#ffcc00 191.5px,#ffe500 203px,#ffff00 214.1px,#e6ff19 224.9px,#ccff33 235.5px,#b3ff4c 245.9px,#99ff66 256.3px,#80ff80 266.5px,#66ff99 276.8px,#4dffb2 287.1px,#33ffcc 297.5px,#1affe5 308.1px,#00ffff 318.9px,#00e6ff 329.9px,#00ccff 341.4px,#00b3ff 353.4px,#0099ff 366.2px,#0080ff 380.1px,#0066ff 395.4px,#004dff 412.6px,#0033ff 432.8px,#001aff 457.2px,#0000ff 488.5px,#0000e6 532.9px,#0000dd 554.3px)"></i><i style="top:146px;height:5px;background:linear-gradient(90deg,#e80000 0px,#ff0000 43.8px,#ff1900 76.9px,#ff3300 101.9px,#ff4c00 122.3px,#ff6600 139.6px,#ff8000 154.7px,#ff9900 168.4px,#ffb200 181.1px,#ffcc00 192.9px,#ffe500 204.2px,#ffff00 215.1px,#e6ff19 225.7px,#ccff33 236.1px,#b3ff4c 246.3px,#99ff66 256.5px,#80ff80 266.6px,#66ff99 276.7px,#4dffb2 286.8px,#33ffcc 297px,#1affe5 307.4px,#00ffff 317.9px,#00e6ff 328.8px,#00ccff 340px,#00b3ff 351.8px,#0099ff 364.3px,#0080ff 377.8px,#0066ff 392.7px,#004dff 409.5px,#0033ff 429.2px,#001aff 453px,#0000ff 483.5px,#0000e6 526.5px,#0000da 554.3px)"></i><i style="top:150px;height:5px;background:linear-gradient(90deg,#e50000 0px,#e50000 1.3px,#ff0000 49.6px,#ff1900 81.5px,#ff3300 105.8px,#ff4c00 125.6px,#ff6600 142.4px,#ff8000 157.2px,#ff9900 170.5px,#ffb200 182.8px,#ffcc00 194.4px,#ffe500 205.4px,#ffff00 216.1px,#e6ff19 226.5px,#ccff33 236.6px,#b3ff4c 246.7px,#99ff66 256.7px,#80ff80 266.6px,#66ff99 276.5px,#4dffb2 286.5px,#33ffcc 296.5px,#1affe5 306.7px,#00ffff 317px,#00e6ff 327.6px,#00ccff 338.6px,#00b3ff 350.1px,#0099ff 362.3px,#0080ff 375.4px,#0066ff 390px,#004dff 406.4px,#0033ff 425.5px,#001aff 448.7px,#0000ff 478.4px,#0000e6 519.9px,#0000d7 554.3px)"></i><i style="top:154px;height:5px;background:linear-gradient(90deg,#e20000 0px,#e50000 9.5px,#ff0000 55.3px,#ff1900 86.2px,#ff3300 109.8px,#ff4c00 129px,#ff6600 145.3px,#ff8000 159.6px,#ff9900 172.6px,#ffb200 184.6px,#ffcc00 195.9px,#ffe500 206.6px,#ffff00 217.1px,#e6ff19 227.2px,#ccff33 237.2px,#b3ff4c 247.1px,#99ff66 256.9px,#80ff80 266.6px,#66ff99 276.3px,#4dffb2 286.1px,#33ffcc 296px,#1affe5 305.9px,#00ffff 316.1px,#00e6ff 326.5px,#00ccff 337.2px,#00b3ff 348.4px,#0099ff 360.3px,#0080ff 373.1px,#0066ff 387.2px,#004dff 403.2px,#0033ff 421.8px,#001aff 444.3px,#0000ff 473.2px,#0000e6 513.3px,#0000d4 554.3px)"></i><i style="top:158px;height:5px;background:linear-gradient(90deg,#de0000 0px,#e50000 17.6px,#ff0000 61.2px,#ff1900 91px,#ff3300 113.8px,#ff4c00 132.4px,#ff6600 148.2px,#ff8000 162.1px,#ff9900 174.7px,#ffb200 186.3px,#ffcc00 197.3px,#ffe500 207.9px,#ffff00 218px,#e6ff19 228px,#ccff33 237.8px,#b3ff4c 247.4px,#99ff66 257px,#80ff80 266.6px,#66ff99 276.2px,#4dffb2 285.8px,#33ffcc 295.5px,#1affe5 305.2px,#00ffff 315.2px,#00e6ff 325.3px,#00ccff 335.8px,#00b3ff 346.7px,#0099ff 358.3px,#0080ff 370.7px,#0066ff 384.4px,#004dff 399.9px,#0033ff 418px,#001aff 439.9px,#0000ff 467.9px,#0000e6 506.7px,#0000d1 554.3px)"></i><i style="top:162px;height:5px;background:linear-gradient(90deg,#db0000 0px,#e50000 25.5px,#ff0000 67.1px,#ff1900 95.9px,#ff3300 117.9px,#ff4c00 135.8px,#ff6600 151.1px,#ff8000 164.6px,#ff9900 176.8px,#ffb200 188.1px,#ffcc00 198.8px,#ffe500 209.1px,#ffff00 219px,#e6ff19 228.7px,#ccff33 238.3px,#b3ff4c 247.8px,#99ff66 257.2px,#80ff80 266.6px,#66ff99 276px,#4dffb2 285.5px,#33ffcc 294.9px,#1affe5 304.5px,#00ffff 314.2px,#00e6ff 324.1px,#00ccff 334.4px,#00b3ff 345px,#0099ff 356.2px,#0080ff 368.3px,#0066ff 381.6px,#004dff 396.6px,#0033ff 414.1px,#001aff 435.3px,#0000ff 462.4px,#0000e6 499.9px,#0000ce 554.3px)"></i><i style="top:166px;height:5px;background:linear-gradient(90deg,#d70000 0px,#e50000 33.5px,#ff0000 73.1px,#ff1900 100.8px,#ff3300 122px,#ff4c00 139.3px,#ff6600 154.1px,#ff8000 167.1px,#ff9900 178.9px,#ffb200 189.9px,#ffcc00 200.3px,#ffe500 210.3px,#ffff00 220px,#e6ff19 229.5px,#ccff33 238.9px,#b3ff4c 248.2px,#99ff66 257.4px,#80ff80 266.7px,#66ff99 275.9px,#4dffb2 285.1px,#33ffcc 294.4px,#1affe5 303.8px,#00ffff 313.3px,#00e6ff 323px,#00ccff 333px,#00b3ff 343.3px,#0099ff 354.2px,#0080ff 365.9px,#0066ff 378.8px,#004dff 393.2px,#0033ff 410.1px,#001aff 430.7px,#0000ff 456.9px,#0000e6 493.1px,#0000cc 551.7px,#0000cb 554.3px)"></i><i style="top:170px;height:5px;background:linear-gradient(90deg,#d40000 0px,#e50000 41.4px,#ff0000 79.2px,#ff1900 105.8px,#ff3300 126.2px,#ff4c00 142.8px,#ff6600 157px,#ff8000 169.6px,#ff9900 181px,#ffb200 191.6px,#ffcc00 201.7px,#ffe500 211.5px,#ffff00 220.9px,#e6ff19 230.2px,#ccff33 239.4px,#b3ff4c 248.5px,#99ff66 257.6px,#80ff80 266.7px,#66ff99 275.7px,#4dffb2 284.8px,#33ffcc 293.9px,#1affe5 303.1px,#00ffff 312.4px,#00e6ff 321.8px,#00ccff 331.6px,#00b3ff 341.6px,#0099ff 352.2px,#0080ff 363.5px,#0066ff 375.9px,#004dff 389.9px,#0033ff 406.2px,#001aff 425.9px,#0000ff 451.3px,#0000e6 486.1px,#0000cc 541.6px,#0000c8 554.3px)"></i><i style="top:174px;height:5px;background:linear-gradient(90deg,#d00000 0px,#e50000 49.3px,#ff0000 85.3px,#ff1900 110.8px,#ff3300 130.4px,#ff4c00 146.4px,#ff6600 160px,#ff8000 172.1px,#ff9900 183.1px,#ffb200 193.4px,#ffcc00 203.2px,#ffe500 212.6px,#ffff00 221.9px,#e6ff19 231px,#ccff33 240px,#b3ff4c 248.9px,#99ff66 257.8px,#80ff80 266.7px,#66ff99 275.6px,#4dffb2 284.5px,#33ffcc 293.4px,#1affe5 302.4px,#00ffff 311.5px,#00e6ff 320.7px,#00ccff 330.2px,#00b3ff 339.9px,#0099ff 350.2px,#0080ff 361.1px,#0066ff 373px,#004dff 386.5px,#0033ff 402.1px,#001aff 421.2px,#0000ff 445.5px,#0000e6 479px,#0000cc 531.7px,#0000c5 554.3px)"></i><i style="top:178px;height:5px;background:linear-gradient(90deg,#cc0000 0px,#e50000 57.2px,#ff0000 91.6px,#ff1900 115.9px,#ff3300 134.6px,#ff4c00 149.9px,#ff6600 162.9px,#ff8000 174.5px,#ff9900 185.1px,#ffb200 195.1px,#ffcc00 204.6px,#ffe500 213.8px,#ffff00 222.8px,#e6ff19 231.7px,#ccff33 240.5px,#b3ff4c 249.3px,#99ff66 258px,#80ff80 266.7px,#66ff99 275.4px,#4dffb2 284.2px,#33ffcc 292.9px,#1affe5 301.7px,#00ffff 310.6px,#00e6ff 319.6px,#00ccff 328.8px,#00b3ff 338.3px,#0099ff 348.2px,#0080ff 358.7px,#0066ff 370.2px,#004dff 383.1px,#0033ff 398.1px,#001aff 416.3px,#0000ff 439.7px,#0000e6 471.8px,#0000cc 521.9px,#0000c2 554.3px)"></i><i style="top:182px;height:5px;background:linear-gradient(90deg,#c80000 0px,#cc0000 11.3px,#e50000 65.2px,#ff0000 97.8px,#ff1900 121px,#ff3300 138.8px,#ff4c00 153.4px,#ff6600 165.9px,#ff8000 177px,#ff9900 187.2px,#ffb200 196.8px,#ffcc00 206px,#ffe500 214.9px,#ffff00 223.7px,#e6ff19 232.4px,#ccff33 241px,#b3ff4c 249.6px,#99ff66 258.2px,#80ff80 266.7px,#66ff99 275.3px,#4dffb2 283.8px,#33ffcc 292.4px,#1affe5 301px,#00ffff 309.7px,#00e6ff 318.5px,#00ccff 327.4px,#00b3ff 336.6px,#0099ff 346.2px,#0080ff 356.3px,#0066ff 367.3px,#004dff 379.7px,#0033ff 394px,#001aff 411.4px,#0000ff 433.7px,#0000e6 464.5px,#0000cc 512.1px,#0000be 554.3px)"></i><i style="top:186px;height:5px;background:linear-gradient(90deg,#c50000 0px,#cc0000 23.1px,#e50000 73.3px,#ff0000 104.2px,#ff1900 126.2px,#ff3300 143.1px,#ff4c00 156.9px,#ff6600 168.8px,#ff8000 179.4px,#ff9900 189.2px,#ffb200 198.5px,#ffcc00 207.4px,#ffe500 216.1px,#ffff00 224.6px,#e6ff19 233.1px,#ccff33 241.5px,#b3ff4c 249.9px,#99ff66 258.3px,#80ff80 266.7px,#66ff99 275.1px,#4dffb2 283.5px,#33ffcc 292px,#1affe5 300.4px,#00ffff 308.9px,#00e6ff 317.4px,#00ccff 326.1px,#00b3ff 335px,#0099ff 344.2px,#0080ff 354px,#0066ff 364.5px,#004dff 376.3px,#0033ff 389.9px,#001aff 406.4px,#0000ff 427.7px,#0000e6 457.1px,#0000cc 502.3px,#0000bb 554.3px)"></i><i style="top:190px;height:5px;background:linear-gradient(90deg,#c10000 0px,#cc0000 34.6px,#e50000 81.4px,#ff0000 110.6px,#ff1900 131.3px,#ff3300 147.3px,#ff4c00 160.4px,#ff6600 171.7px,#ff8000 181.8px,#ff9900 191.2px,#ffb200 200.1px,#ffcc00 208.7px,#ffe500 217.1px,#ffff00 225.5px,#e6ff19 233.8px,#ccff33 242px,#b3ff4c 250.3px,#99ff66 258.5px,#80ff80 266.8px,#66ff99 275px,#4dffb2 283.2px,#33ffcc 291.5px,#1affe5 299.8px,#00ffff 308px,#00e6ff 316.4px,#00ccff 324.8px,#00b3ff 333.4px,#0099ff 342.3px,#0080ff 351.7px,#0066ff 361.7px,#004dff 372.9px,#0033ff 385.8px,#001aff 401.5px,#0000ff 421.6px,#0000e6 449.5px,#0000cc 492.4px,#0000b8 554.3px)"></i><i style="top:194px;height:4px;background:linear-gradient(90deg,#bd0000 0px,#cc0000 44.5px,#e50000 88.5px,#ff0000 116.2px,#ff1900 135.8px,#ff3300 151px,#ff4c00 163.4px,#ff6600 174.2px,#ff8000 183.8px,#ff9900 192.9px,#ffb200 201.5px,#ffcc00 209.8px,#ffe500 218.1px,#ffff00 226.2px,#e6ff19 234.3px,#ccff33 242.4px,#b3ff4c 250.5px,#99ff66 258.6px,#80ff80 266.8px,#66ff99 274.9px,#4dffb2 283px,#33ffcc 291.1px,#1affe5 299.2px,#00ffff 307.3px,#00e6ff 315.5px,#00ccff 323.7px,#00b3ff 332.1px,#0099ff 340.7px,#0080ff 349.7px,#0066ff 359.3px,#004dff 370px,#0033ff 382.2px,#001aff 397.1px,#0000ff 416.3px,#0000e6 442.8px,#0000cc 483.7px,#0000b4 554.3px)"></i><i style="top:197px;height:4px;background:linear-gradient(90deg,#ba0000 0px,#cc0000 52.9px,#e50000 94.7px,#ff0000 121px,#ff1900 139.7px,#ff3300 154.1px,#ff4c00 166px,#ff6600 176.2px,#ff8000 185.6px,#ff9900 194.3px,#ffb200 202.6px,#ffcc00 210.8px,#ffe500 218.8px,#ffff00 226.8px,#e6ff19 234.8px,#ccff33 242.8px,#b3ff4c 250.8px,#99ff66 258.8px,#80ff80 266.8px,#66ff99 274.8px,#4dffb2 282.8px,#33ffcc 290.8px,#1affe5 298.8px,#00ffff 306.8px,#00e6ff 314.8px,#00ccff 322.8px,#00b3ff 331px,#0099ff 339.3px,#0080ff 348px,#0066ff 357.3px,#004dff 367.5px,#0033ff 379.2px,#001aff 393.4px,#0000ff 411.6px,#0000e6 437px,#0000cc 476.1px,#0000b2 551.3px,#0000b2 554.3px)"></i><i style="top:200px;height:4px;background:linear-gradient(90deg,#b70000 0px,#cc0000 61.3px,#e50000 100.8px,#ff0000 125.8px,#ff1900 143.5px,#ff3300 157.2px,#ff4c00 168.5px,#ff6600 178.3px,#ff8000 187.2px,#ff9900 195.6px,#ffb200 203.8px,#ffcc00 211.7px,#ffe500 219.6px,#ffff00 227.4px,#e6ff19 235.2px,#ccff33 243.1px,#b3ff4c 251px,#99ff66 258.9px,#80ff80 266.8px,#66ff99 274.7px,#4dffb2 282.6px,#33ffcc 290.5px,#1affe5 298.3px,#00ffff 306.2px,#00e6ff 314px,#00ccff 321.9px,#00b3ff 329.9px,#0099ff 338px,#0080ff 346.4px,#0066ff 355.3px,#004dff 365.1px,#0033ff 376.2px,#001aff 389.7px,#0000ff 407px,#0000e6 431.1px,#0000cc 468.4px,#0000b2 538.9px,#0000af 554.3px)"></i><i style="top:203px;height:4px;background:linear-gradient(90deg,#b40000 0px,#cc0000 69.7px,#e50000 107.1px,#ff0000 130.6px,#ff1900 147.3px,#ff3300 160.2px,#ff4c00 170.9px,#ff6600 180.3px,#ff8000 188.9px,#ff9900 197px,#ffb200 204.8px,#ffcc00 212.6px,#ffe500 220.3px,#ffff00 228px,#e6ff19 235.7px,#ccff33 243.4px,#b3ff4c 251.2px,#99ff66 259px,#80ff80 266.8px,#66ff99 274.6px,#4dffb2 282.4px,#33ffcc 290.2px,#1affe5 297.9px,#00ffff 305.6px,#00e6ff 313.4px,#00ccff 321.1px,#00b3ff 328.8px,#0099ff 336.7px,#0080ff 344.8px,#0066ff 353.4px,#004dff 362.7px,#0033ff 373.2px,#001aff 386px,#0000ff 402.3px,#0000e6 425.2px,#0000cc 460.7px,#0000b2 527px,#0000ad 554.3px)"></i><i style="top:206px;height:4px;background:linear-gradient(90deg,#b10000 0px,#b20000 7.9px,#cc0000 78.1px,#e50000 113.3px,#ff0000 135.4px,#ff1900 151.1px,#ff3300 163.2px,#ff4c00 173.3px,#ff6600 182.2px,#ff8000 190.4px,#ff9900 198.3px,#ffb200 205.9px,#ffcc00 213.4px,#ffe500 221px,#ffff00 228.5px,#e6ff19 236.1px,#ccff33 243.7px,#b3ff4c 251.4px,#99ff66 259.1px,#80ff80 266.8px,#66ff99 274.5px,#4dffb2 282.2px,#33ffcc 289.9px,#1affe5 297.5px,#00ffff 305.1px,#00e6ff 312.7px,#00ccff 320.2px,#00b3ff 327.8px,#0099ff 335.4px,#0080ff 343.3px,#0066ff 351.5px,#004dff 360.3px,#0033ff 370.3px,#001aff 382.3px,#0000ff 397.7px,#0000e6 419.2px,#0000cc 452.8px,#0000b2 515.2px,#0000aa 554.3px)"></i><i style="top:209px;height:4px;background:linear-gradient(90deg,#ae0000 0px,#b20000 22px,#cc0000 86.6px,#e50000 119.5px,#ff0000 140.2px,#ff1900 154.8px,#ff3300 166.2px,#ff4c00 175.6px,#ff6600 184.1px,#ff8000 192px,#ff9900 199.5px,#ffb200 206.9px,#ffcc00 214.3px,#ffe500 221.6px,#ffff00 229px,#e6ff19 236.5px,#ccff33 244px,#b3ff4c 251.6px,#99ff66 259.2px,#80ff80 266.8px,#66ff99 274.4px,#4dffb2 282px,#33ffcc 289.6px,#1affe5 297.1px,#00ffff 304.6px,#00e6ff 312.1px,#00ccff 319.4px,#00b3ff 326.8px,#0099ff 334.2px,#0080ff 341.8px,#0066ff 349.6px,#004dff 358px,#0033ff 367.5px,#001aff 378.7px,#0000ff 393.1px,#0000e6 413.3px,#0000cc 444.8px,#0000b2 503.5px,#0000a7 554.3px)"></i><i style="top:212px;height:4px;background:linear-gradient(90deg,#ab0000 0px,#b20000 35.5px,#cc0000 95.1px,#e50000 125.7px,#ff0000 144.9px,#ff1900 158.4px,#ff3300 169px,#ff4c00 177.9px,#ff6600 185.9px,#ff8000 193.4px,#ff9900 200.7px,#ffb200 207.9px,#ffcc00 215px,#ffe500 222.3px,#ffff00 229.5px,#e6ff19 236.9px,#ccff33 244.3px,#b3ff4c 251.8px,#99ff66 259.3px,#80ff80 266.8px,#66ff99 274.4px,#4dffb2 281.9px,#33ffcc 289.4px,#1affe5 296.8px,#00ffff 304.1px,#00e6ff 311.4px,#00ccff 318.7px,#00b3ff 325.9px,#0099ff 333.1px,#0080ff 340.4px,#0066ff 347.9px,#004dff 355.8px,#0033ff 364.7px,#001aff 375.2px,#0000ff 388.5px,#0000e6 407.3px,#0000cc 436.8px,#0000b2 491.8px,#0000a4 554.3px)"></i><i style="top:215px;height:4px;background:linear-gradient(90deg,#a70000 0px,#b20000 48.7px,#cc0000 103.6px,#e50000 131.9px,#ff0000 149.5px,#ff1900 162px,#ff3300 171.7px,#ff4c00 180.1px,#ff6600 187.6px,#ff8000 194.8px,#ff9900 201.8px,#ffb200 208.8px,#ffcc00 215.8px,#ffe500 222.8px,#ffff00 230px,#e6ff19 237.2px,#ccff33 244.6px,#b3ff4c 251.9px,#99ff66 259.4px,#80ff80 266.8px,#66ff99 274.3px,#4dffb2 281.7px,#33ffcc 289.1px,#1affe5 296.4px,#00ffff 303.7px,#00e6ff 310.9px,#00ccff 318px,#00b3ff 325px,#0099ff 332px,#0080ff 339px,#0066ff 346.2px,#004dff 353.7px,#0033ff 362px,#001aff 371.7px,#0000ff 384px,#0000e6 401.3px,#0000cc 428.7px,#0000b2 480px,#0000a2 554.3px)"></i><i style="top:218px;height:4px;background:linear-gradient(90deg,#a40000 0px,#b20000 61.8px,#cc0000 112.1px,#e50000 137.9px,#ff0000 154px,#ff1900 165.4px,#ff3300 174.4px,#ff4c00 182.1px,#ff6600 189.3px,#ff8000 196.1px,#ff9900 202.9px,#ffb200 209.6px,#ffcc00 216.5px,#ffe500 223.4px,#ffff00 230.4px,#e6ff19 237.6px,#ccff33 244.8px,#b3ff4c 252.1px,#99ff66 259.5px,#80ff80 266.8px,#66ff99 274.2px,#4dffb2 281.6px,#33ffcc 288.9px,#1affe5 296.1px,#00ffff 303.3px,#00e6ff 310.3px,#00ccff 317.3px,#00b3ff 324.2px,#0099ff 330.9px,#0080ff 337.7px,#0066ff 344.6px,#004dff 351.7px,#0033ff 359.5px,#001aff 368.4px,#0000ff 379.6px,#0000e6 395.4px,#0000cc 420.5px,#0000b2 468.1px,#00009f 554.3px)"></i><i style="top:221px;height:4px;background:linear-gradient(90deg,#a10000 0px,#b20000 74.8px,#cc0000 120.6px,#e50000 143.9px,#ff0000 158.3px,#ff1900 168.6px,#ff3300 176.8px,#ff4c00 184.1px,#ff6600 190.8px,#ff8000 197.3px,#ff9900 203.9px,#ffb200 210.4px,#ffcc00 217.1px,#ffe500 223.9px,#ffff00 230.8px,#e6ff19 237.9px,#ccff33 245px,#b3ff4c 252.3px,#99ff66 259.5px,#80ff80 266.8px,#66ff99 274.1px,#4dffb2 281.4px,#33ffcc 288.7px,#1affe5 295.8px,#00ffff 302.9px,#00e6ff 309.8px,#00ccff 316.7px,#00b3ff 323.4px,#0099ff 330px,#0080ff 336.5px,#0066ff 343.1px,#004dff 349.8px,#0033ff 357px,#001aff 365.2px,#0000ff 375.4px,#0000e6 389.6px,#0000cc 412.4px,#0000b2 456.1px,#00009c 554.3px)"></i><i style="top:224px;height:4px;background:linear-gradient(90deg,#9e0000 0px,#b20000 87.8px,#cc0000 128.9px,#e50000 149.7px,#ff0000 162.5px,#ff1900 171.7px,#ff3300 179.2px,#ff4c00 185.9px,#ff6600 192.2px,#ff8000 198.5px,#ff9900 204.8px,#ffb200 211.2px,#ffcc00 217.7px,#ffe500 224.4px,#ffff00 231.2px,#e6ff19 238.2px,#ccff33 245.2px,#b3ff4c 252.4px,#99ff66 259.6px,#80ff80 266.8px,#66ff99 274.1px,#4dffb2 281.3px,#33ffcc 288.5px,#1affe5 295.6px,#00ffff 302.5px,#00e6ff 309.4px,#00ccff 316.1px,#00b3ff 322.7px,#0099ff 329.1px,#0080ff 335.4px,#0066ff 341.7px,#004dff 348px,#0033ff 354.7px,#001aff 362.2px,#0000ff 371.3px,#0000e6 383.9px,#0000cc 404.2px,#0000b2 443.8px,#000099 554.3px)"></i><i style="top:227px;height:4px;background:linear-gradient(90deg,#9a0000 0px,#b20000 100.8px,#cc0000 137.2px,#e50000 155.3px,#ff0000 166.4px,#ff1900 174.6px,#ff3300 181.4px,#ff4c00 187.6px,#ff6600 193.5px,#ff8000 199.5px,#ff9900 205.6px,#ffb200 211.8px,#ffcc00 218.2px,#ffe500 224.8px,#ffff00 231.6px,#e6ff19 238.4px,#ccff33 245.4px,#b3ff4c 252.5px,#99ff66 259.7px,#80ff80 266.8px,#66ff99 274px,#4dffb2 281.2px,#33ffcc 288.3px,#1affe5 295.3px,#00ffff 302.2px,#00e6ff 309px,#00ccff 315.6px,#00b3ff 322px,#0099ff 328.3px,#0080ff 334.4px,#0066ff 340.4px,#004dff 346.4px,#0033ff 352.6px,#001aff 359.4px,#0000ff 367.5px,#0000e6 378.5px,#0000cc 396.2px,#0000b2 431.5px,#000099 531.8px,#000097 554.3px)"></i><i style="top:230px;height:4px;background:linear-gradient(90deg,#970000 0px,#990000 17.5px,#b20000 113.8px,#cc0000 145.2px,#e50000 160.6px,#ff0000 170.1px,#ff1900 177.2px,#ff3300 183.3px,#ff4c00 189.1px,#ff6600 194.7px,#ff8000 200.5px,#ff9900 206.4px,#ffb200 212.4px,#ffcc00 218.7px,#ffe500 225.2px,#ffff00 231.9px,#e6ff19 238.7px,#ccff33 245.6px,#b3ff4c 252.6px,#99ff66 259.7px,#80ff80 266.8px,#66ff99 274px,#4dffb2 281.1px,#33ffcc 288.1px,#1affe5 295.1px,#00ffff 301.9px,#00e6ff 308.6px,#00ccff 315.1px,#00b3ff 321.4px,#0099ff 327.5px,#0080ff 333.5px,#0066ff 339.2px,#004dff 344.9px,#0033ff 350.7px,#001aff 356.8px,#0000ff 363.9px,#0000e6 373.3px,#0000cc 388.4px,#0000b2 419px,#000099 507.4px,#000094 554.3px)"></i><i style="top:233px;height:4px;background:linear-gradient(90deg,#940000 0px,#990000 45.2px,#b20000 126.6px,#cc0000 152.8px,#e50000 165.5px,#ff0000 173.5px,#ff1900 179.6px,#ff3300 185.1px,#ff4c00 190.4px,#ff6600 195.8px,#ff8000 201.3px,#ff9900 207px,#ffb200 213px,#ffcc00 219.2px,#ffe500 225.5px,#ffff00 232.1px,#e6ff19 238.9px,#ccff33 245.7px,#b3ff4c 252.7px,#99ff66 259.8px,#80ff80 266.9px,#66ff99 273.9px,#4dffb2 281px,#33ffcc 288px,#1affe5 294.9px,#00ffff 301.7px,#00e6ff 308.3px,#00ccff 314.7px,#00b3ff 320.9px,#0099ff 326.9px,#0080ff 332.6px,#0066ff 338.2px,#004dff 343.6px,#0033ff 348.9px,#001aff 354.4px,#0000ff 360.6px,#0000e6 368.5px,#0000cc 381px,#0000b2 406.6px,#000099 483.4px,#000091 554.3px)"></i><i style="top:236px;height:4px;background:linear-gradient(90deg,#900000 0px,#990000 71.7px,#b20000 139px,#cc0000 159.9px,#e50000 169.9px,#ff0000 176.4px,#ff1900 181.7px,#ff3300 186.7px,#ff4c00 191.6px,#ff6600 196.7px,#ff8000 202px,#ff9900 207.6px,#ffb200 213.4px,#ffcc00 219.5px,#ffe500 225.8px,#ffff00 232.3px,#e6ff19 239px,#ccff33 245.9px,#b3ff4c 252.8px,#99ff66 259.8px,#80ff80 266.9px,#66ff99 273.9px,#4dffb2 280.9px,#33ffcc 287.9px,#1affe5 294.7px,#00ffff 301.4px,#00e6ff 308px,#00ccff 314.3px,#00b3ff 320.5px,#0099ff 326.3px,#0080ff 331.9px,#0066ff 337.3px,#004dff 342.4px,#0033ff 347.4px,#001aff 352.3px,#0000ff 357.6px,#0000e6 364.1px,#0000cc 374.1px,#0000b2 394.5px,#000099 459px,#00008e 554.3px)"></i><i style="top:239px;height:4px;background:linear-gradient(90deg,#8d0000 0px,#990000 98.1px,#b20000 150.7px,#cc0000 166.2px,#e50000 173.8px,#ff0000 179px,#ff1900 183.5px,#ff3300 188px,#ff4c00 192.6px,#ff6600 197.5px,#ff8000 202.6px,#ff9900 208.1px,#ffb200 213.8px,#ffcc00 219.8px,#ffe500 226.1px,#ffff00 232.5px,#e6ff19 239.2px,#ccff33 246px,#b3ff4c 252.9px,#99ff66 259.8px,#80ff80 266.9px,#66ff99 273.9px,#4dffb2 280.9px,#33ffcc 287.8px,#1affe5 294.6px,#00ffff 301.3px,#00e6ff 307.7px,#00ccff 314px,#00b3ff 320.1px,#0099ff 325.9px,#0080ff 331.4px,#0066ff 336.6px,#004dff 341.5px,#0033ff 346.1px,#001aff 350.6px,#0000ff 355.2px,#0000e6 360.4px,#0000cc 367.8px,#0000b2 383.1px,#000099 434.1px,#00008b 554.3px)"></i><i style="top:242px;height:4px;background:linear-gradient(90deg,#8a0000 0px,#990000 124.1px,#b20000 161.2px,#cc0000 171.6px,#e50000 176.9px,#ff0000 181px,#ff1900 184.9px,#ff3300 189px,#ff4c00 193.4px,#ff6600 198px,#ff8000 203.1px,#ff9900 208.4px,#ffb200 214.1px,#ffcc00 220.1px,#ffe500 226.3px,#ffff00 232.7px,#e6ff19 239.3px,#ccff33 246px,#b3ff4c 252.9px,#99ff66 259.9px,#80ff80 266.9px,#66ff99 273.9px,#4dffb2 280.8px,#33ffcc 287.7px,#1affe5 294.5px,#00ffff 301.1px,#00e6ff 307.6px,#00ccff 313.8px,#00b3ff 319.8px,#0099ff 325.5px,#0080ff 330.9px,#0066ff 336px,#004dff 340.7px,#0033ff 345.1px,#001aff 349.2px,#0000ff 353.1px,#0000e6 357.3px,#0000cc 362.5px,#0000b2 372.8px,#000099 409px,#000088 554.3px)"></i><i style="top:245px;height:4px;background:linear-gradient(90deg,#870000 0px,#990000 148.6px,#b20000 169.8px,#cc0000 175.7px,#e50000 179.3px,#ff0000 182.5px,#ff1900 186px,#ff3300 189.8px,#ff4c00 193.9px,#ff6600 198.5px,#ff8000 203.4px,#ff9900 208.7px,#ffb200 214.3px,#ffcc00 220.2px,#ffe500 226.4px,#ffff00 232.8px,#e6ff19 239.4px,#ccff33 246.1px,#b3ff4c 253px,#99ff66 259.9px,#80ff80 266.9px,#66ff99 273.8px,#4dffb2 280.8px,#33ffcc 287.6px,#1affe5 294.4px,#00ffff 301px,#00e6ff 307.4px,#00ccff 313.6px,#00b3ff 319.6px,#0099ff 325.2px,#0080ff 330.6px,#0066ff 335.5px,#004dff 340.1px,#0033ff 344.3px,#001aff 348.2px,#0000ff 351.7px,#0000e6 354.9px,#0000cc 358.5px,#0000b2 364.3px,#000099 385.2px,#000086 554.3px)"></i><i style="top:248px;height:4px;background:linear-gradient(90deg,#830000 0px,#990000 168.2px,#b20000 175.8px,#cc0000 178.3px,#e50000 180.7px,#ff0000 183.5px,#ff1900 186.6px,#ff3300 190.2px,#ff4c00 194.3px,#ff6600 198.8px,#ff8000 203.6px,#ff9900 208.9px,#ffb200 214.5px,#ffcc00 220.3px,#ffe500 226.5px,#ffff00 232.9px,#e6ff19 239.4px,#ccff33 246.1px,#b3ff4c 253px,#99ff66 259.9px,#80ff80 266.9px,#66ff99 273.8px,#4dffb2 280.8px,#33ffcc 287.6px,#1affe5 294.3px,#00ffff 300.9px,#00e6ff 307.3px,#00ccff 313.5px,#00b3ff 319.4px,#0099ff 325.1px,#0080ff 330.4px,#0066ff 335.3px,#004dff 339.8px,#0033ff 343.9px,#001aff 347.5px,#0000ff 350.7px,#0000e6 353.5px,#0000cc 355.9px,#0000b2 358.4px,#000099 366px,#000083 554.3px)"></i><i style="top:251px;height:3px;background:linear-gradient(90deg,#810000 0px,#990000 176.5px,#b20000 177.7px,#cc0000 179.3px,#e50000 181.3px,#ff0000 183.8px,#ff1900 186.9px,#ff3300 190.4px,#ff4c00 194.4px,#ff6600 198.9px,#ff8000 203.7px,#ff9900 208.9px,#ffb200 214.5px,#ffcc00 220.4px,#ffe500 226.5px,#ffff00 232.9px,#e6ff19 239.4px,#ccff33 246.2px,#b3ff4c 253px,#99ff66 259.9px,#80ff80 266.9px,#66ff99 273.8px,#4dffb2 280.7px,#33ffcc 287.6px,#1affe5 294.3px,#00ffff 300.9px,#00e6ff 307.3px,#00ccff 313.5px,#00b3ff 319.4px,#0099ff 325px,#0080ff 330.3px,#0066ff 335.2px,#004dff 339.7px,#0033ff 343.7px,#001aff 347.3px,#0000ff 350.4px,#0000e6 352.9px,#0000cc 355px,#0000b2 356.6px,#000099 357.8px,#000080 554.3px)"></i></div>
<div class="fp" style="left:1211.4px;top:469.5px;width:477.0px;height:254.3px"><i style="top:0px;height:7px;background:linear-gradient(90deg,#ff3c00 0px,#ff4c00 27.1px,#ff6600 57.9px,#ff8000 82.1px,#ff9900 102.8px,#ffb200 121.1px,#ffcc00 137.8px,#ffe500 153.4px,#ffff00 168.1px,#e6ff19 182.1px,#ccff33 195.7px,#b3ff4c 209px,#99ff66 222px,#80ff80 234.9px,#66ff99 247.9px,#4dffb2 260.9px,#33ffcc 274.1px,#1affe5 287.6px,#00ffff 301.6px,#00e6ff 316.2px,#00ccff 331.5px,#00b3ff 348px,#0099ff 366px,#0080ff 386.1px,#0066ff 409.3px,#004dff 438px,#0034ff 477px)"></i><i style="top:6px;height:7px;background:linear-gradient(90deg,#ff3c00 0px,#ff4c00 27.5px,#ff6600 58.1px,#ff8000 82.3px,#ff9900 102.9px,#ffb200 121.2px,#ffcc00 137.9px,#ffe500 153.5px,#ffff00 168.1px,#e6ff19 182.2px,#ccff33 195.8px,#b3ff4c 209px,#99ff66 222px,#80ff80 234.9px,#66ff99 247.8px,#4dffb2 260.8px,#33ffcc 274px,#1affe5 287.6px,#00ffff 301.5px,#00e6ff 316.1px,#00ccff 331.4px,#00b3ff 347.9px,#0099ff 365.8px,#0080ff 385.9px,#0066ff 409.1px,#004dff 437.7px,#0034ff 477px)"></i><i style="top:12px;height:7px;background:linear-gradient(90deg,#ff3c00 0px,#ff4c00 28.1px,#ff6600 58.7px,#ff8000 82.8px,#ff9900 103.3px,#ffb200 121.5px,#ffcc00 138.2px,#ffe500 153.7px,#ffff00 168.3px,#e6ff19 182.3px,#ccff33 195.9px,#b3ff4c 209.1px,#99ff66 222.1px,#80ff80 234.9px,#66ff99 247.8px,#4dffb2 260.8px,#33ffcc 273.9px,#1affe5 287.4px,#00ffff 301.3px,#00e6ff 315.8px,#00ccff 331.2px,#00b3ff 347.6px,#0099ff 365.5px,#0080ff 385.5px,#0066ff 408.6px,#004dff 437.1px,#0033ff 477px)"></i><i style="top:18px;height:7px;background:linear-gradient(90deg,#ff3b00 0px,#ff4c00 29.1px,#ff6600 59.4px,#ff8000 83.4px,#ff9900 103.8px,#ffb200 122px,#ffcc00 138.6px,#ffe500 154px,#ffff00 168.6px,#e6ff19 182.6px,#ccff33 196px,#b3ff4c 209.2px,#99ff66 222.1px,#80ff80 234.9px,#66ff99 247.8px,#4dffb2 260.7px,#33ffcc 273.8px,#1affe5 287.2px,#00ffff 301.1px,#00e6ff 315.5px,#00ccff 330.8px,#00b3ff 347.1px,#0099ff 365px,#0080ff 384.9px,#0066ff 407.9px,#004dff 436.3px,#0033ff 476.6px)"></i><i style="top:24px;height:7px;background:linear-gradient(90deg,#ff3a00 0px,#ff4c00 30.4px,#ff6600 60.4px,#ff8000 84.2px,#ff9900 104.5px,#ffb200 122.6px,#ffcc00 139.1px,#ffe500 154.5px,#ffff00 169px,#e6ff19 182.8px,#ccff33 196.2px,#b3ff4c 209.3px,#99ff66 222.2px,#80ff80 234.9px,#66ff99 247.7px,#4dffb2 260.5px,#33ffcc 273.6px,#1affe5 286.9px,#00ffff 300.7px,#00e6ff 315.1px,#00ccff 330.3px,#00b3ff 346.6px,#0099ff 364.3px,#0080ff 384.1px,#0066ff 407px,#004dff 435.1px,#0033ff 474.9px,#0032ff 477px)"></i><i style="top:30px;height:7px;background:linear-gradient(90deg,#ff3900 0px,#ff4c00 32px,#ff6600 61.6px,#ff8000 85.2px,#ff9900 105.4px,#ffb200 123.4px,#ffcc00 139.8px,#ffe500 155px,#ffff00 169.4px,#e6ff19 183.2px,#ccff33 196.5px,#b3ff4c 209.5px,#99ff66 222.3px,#80ff80 235px,#66ff99 247.6px,#4dffb2 260.4px,#33ffcc 273.3px,#1affe5 286.6px,#00ffff 300.3px,#00e6ff 314.6px,#00ccff 329.7px,#00b3ff 345.8px,#0099ff 363.4px,#0080ff 383.1px,#0066ff 405.8px,#004dff 433.6px,#0033ff 472.7px,#0031ff 477px)"></i><i style="top:36px;height:7px;background:linear-gradient(90deg,#ff3800 0px,#ff4c00 33.9px,#ff6600 63.1px,#ff8000 86.5px,#ff9900 106.5px,#ffb200 124.3px,#ffcc00 140.5px,#ffe500 155.7px,#ffff00 170px,#e6ff19 183.6px,#ccff33 196.8px,#b3ff4c 209.7px,#99ff66 222.4px,#80ff80 235px,#66ff99 247.5px,#4dffb2 260.2px,#33ffcc 273px,#1affe5 286.2px,#00ffff 299.8px,#00e6ff 313.9px,#00ccff 328.9px,#00b3ff 344.9px,#0099ff 362.4px,#0080ff 381.9px,#0066ff 404.4px,#004dff 431.9px,#0033ff 470.1px,#0030ff 477px)"></i><i style="top:42px;height:7px;background:linear-gradient(90deg,#ff3600 0px,#ff4c00 36.1px,#ff6600 64.8px,#ff8000 87.9px,#ff9900 107.7px,#ffb200 125.3px,#ffcc00 141.4px,#ffe500 156.4px,#ffff00 170.6px,#e6ff19 184.1px,#ccff33 197.2px,#b3ff4c 210px,#99ff66 222.5px,#80ff80 235px,#66ff99 247.4px,#4dffb2 260px,#33ffcc 272.7px,#1affe5 285.7px,#00ffff 299.2px,#00e6ff 313.2px,#00ccff 328.1px,#00b3ff 343.9px,#0099ff 361.2px,#0080ff 380.5px,#0066ff 402.8px,#004dff 429.9px,#0033ff 467.3px,#002eff 477px)"></i><i style="top:48px;height:7px;background:linear-gradient(90deg,#ff3400 0px,#ff4c00 38.5px,#ff6600 66.8px,#ff8000 89.5px,#ff9900 109.1px,#ffb200 126.5px,#ffcc00 142.4px,#ffe500 157.3px,#ffff00 171.3px,#e6ff19 184.7px,#ccff33 197.6px,#b3ff4c 210.2px,#99ff66 222.7px,#80ff80 235px,#66ff99 247.3px,#4dffb2 259.7px,#33ffcc 272.3px,#1affe5 285.2px,#00ffff 298.5px,#00e6ff 312.4px,#00ccff 327.1px,#00b3ff 342.8px,#0099ff 359.9px,#0080ff 379px,#0066ff 401px,#004dff 427.7px,#0033ff 464.1px,#002cff 477px)"></i><i style="top:54px;height:7px;background:linear-gradient(90deg,#ff3200 0px,#ff3300 1.6px,#ff4c00 41.2px,#ff6600 68.9px,#ff8000 91.3px,#ff9900 110.6px,#ffb200 127.8px,#ffcc00 143.6px,#ffe500 158.2px,#ffff00 172.1px,#e6ff19 185.3px,#ccff33 198.1px,#b3ff4c 210.6px,#99ff66 222.8px,#80ff80 235px,#66ff99 247.2px,#4dffb2 259.4px,#33ffcc 271.8px,#1affe5 284.6px,#00ffff 297.7px,#00e6ff 311.5px,#00ccff 326px,#00b3ff 341.5px,#0099ff 358.4px,#0080ff 377.3px,#0066ff 398.9px,#004dff 425.2px,#0033ff 460.6px,#002aff 477px)"></i><i style="top:60px;height:7px;background:linear-gradient(90deg,#ff3000 0px,#ff3300 6.1px,#ff4c00 44.2px,#ff6600 71.3px,#ff8000 93.3px,#ff9900 112.3px,#ffb200 129.3px,#ffcc00 144.8px,#ffe500 159.3px,#ffff00 172.9px,#e6ff19 186px,#ccff33 198.6px,#b3ff4c 210.9px,#99ff66 223px,#80ff80 235px,#66ff99 247px,#4dffb2 259.1px,#33ffcc 271.4px,#1affe5 283.9px,#00ffff 296.9px,#00e6ff 310.5px,#00ccff 324.8px,#00b3ff 340.1px,#0099ff 356.8px,#0080ff 375.4px,#0066ff 396.7px,#004dff 422.4px,#0033ff 456.8px,#0028ff 477px)"></i><i style="top:66px;height:7px;background:linear-gradient(90deg,#ff2e00 0px,#ff3300 10.8px,#ff4c00 47.4px,#ff6600 73.9px,#ff8000 95.5px,#ff9900 114.2px,#ffb200 130.9px,#ffcc00 146.2px,#ffe500 160.4px,#ffff00 173.9px,#e6ff19 186.7px,#ccff33 199.2px,#b3ff4c 211.3px,#99ff66 223.2px,#80ff80 235px,#66ff99 246.8px,#4dffb2 258.7px,#33ffcc 270.8px,#1affe5 283.2px,#00ffff 296px,#00e6ff 309.3px,#00ccff 323.5px,#00b3ff 338.5px,#0099ff 355px,#0080ff 373.3px,#0066ff 394.3px,#004dff 419.5px,#0033ff 452.8px,#0026ff 477px)"></i><i style="top:72px;height:7px;background:linear-gradient(90deg,#ff2b00 0px,#ff3300 15.6px,#ff4c00 50.8px,#ff6600 76.6px,#ff8000 97.8px,#ff9900 116.2px,#ffb200 132.6px,#ffcc00 147.7px,#ffe500 161.7px,#ffff00 174.9px,#e6ff19 187.5px,#ccff33 199.8px,#b3ff4c 211.7px,#99ff66 223.4px,#80ff80 235px,#66ff99 246.7px,#4dffb2 258.4px,#33ffcc 270.3px,#1affe5 282.4px,#00ffff 295px,#00e6ff 308.2px,#00ccff 322px,#00b3ff 336.9px,#0099ff 353.1px,#0080ff 371px,#0066ff 391.6px,#004dff 416.3px,#0033ff 448.6px,#0023ff 477px)"></i><i style="top:78px;height:7px;background:linear-gradient(90deg,#ff2800 0px,#ff3300 20.7px,#ff4c00 54.4px,#ff6600 79.6px,#ff8000 100.3px,#ff9900 118.4px,#ffb200 134.5px,#ffcc00 149.2px,#ffe500 163px,#ffff00 176px,#e6ff19 188.4px,#ccff33 200.4px,#b3ff4c 212.1px,#99ff66 223.6px,#80ff80 235.1px,#66ff99 246.5px,#4dffb2 258px,#33ffcc 269.7px,#1affe5 281.6px,#00ffff 294px,#00e6ff 306.9px,#00ccff 320.5px,#00b3ff 335.1px,#0099ff 351px,#0080ff 368.6px,#0066ff 388.8px,#004dff 412.9px,#0033ff 444.1px,#0021ff 477px)"></i><i style="top:84px;height:7px;background:linear-gradient(90deg,#ff2500 0px,#ff3300 25.9px,#ff4c00 58.2px,#ff6600 82.7px,#ff8000 103px,#ff9900 120.6px,#ffb200 136.4px,#ffcc00 150.9px,#ffe500 164.4px,#ffff00 177.1px,#e6ff19 189.3px,#ccff33 201.1px,#b3ff4c 212.6px,#99ff66 223.9px,#80ff80 235.1px,#66ff99 246.3px,#4dffb2 257.5px,#33ffcc 269px,#1affe5 280.7px,#00ffff 292.9px,#00e6ff 305.5px,#00ccff 318.9px,#00b3ff 333.2px,#0099ff 348.8px,#0080ff 366.1px,#0066ff 385.8px,#004dff 409.3px,#0033ff 439.5px,#001eff 477px)"></i><i style="top:90px;height:7px;background:linear-gradient(90deg,#ff2100 0px,#ff3300 31.2px,#ff4c00 62.2px,#ff6600 86px,#ff8000 105.8px,#ff9900 123px,#ffb200 138.5px,#ffcc00 152.7px,#ffe500 165.9px,#ffff00 178.3px,#e6ff19 190.3px,#ccff33 201.8px,#b3ff4c 213px,#99ff66 224.1px,#80ff80 235.1px,#66ff99 246.1px,#4dffb2 257.1px,#33ffcc 268.3px,#1affe5 279.8px,#00ffff 291.7px,#00e6ff 304.1px,#00ccff 317.2px,#00b3ff 331.2px,#0099ff 346.4px,#0080ff 363.4px,#0066ff 382.7px,#004dff 405.6px,#0033ff 434.7px,#001aff 477px)"></i><i style="top:96px;height:7px;background:linear-gradient(90deg,#ff1e00 0px,#ff3300 36.6px,#ff4c00 66.4px,#ff6600 89.5px,#ff8000 108.8px,#ff9900 125.6px,#ffb200 140.7px,#ffcc00 154.5px,#ffe500 167.4px,#ffff00 179.6px,#e6ff19 191.3px,#ccff33 202.5px,#b3ff4c 213.5px,#99ff66 224.4px,#80ff80 235.1px,#66ff99 245.8px,#4dffb2 256.6px,#33ffcc 267.6px,#1affe5 278.9px,#00ffff 290.5px,#00e6ff 302.6px,#00ccff 315.4px,#00b3ff 329.1px,#0099ff 344px,#0080ff 360.5px,#0066ff 379.4px,#004dff 401.6px,#0033ff 429.7px,#001aff 471px,#0017ff 477px)"></i><i style="top:102px;height:7px;background:linear-gradient(90deg,#ff1a00 0px,#ff3300 42.2px,#ff4c00 70.8px,#ff6600 93.1px,#ff8000 111.9px,#ff9900 128.2px,#ffb200 143px,#ffcc00 156.4px,#ffe500 169px,#ffff00 180.9px,#e6ff19 192.3px,#ccff33 203.3px,#b3ff4c 214.1px,#99ff66 224.6px,#80ff80 235.1px,#66ff99 245.6px,#4dffb2 256.2px,#33ffcc 266.9px,#1affe5 277.8px,#00ffff 289.2px,#00e6ff 301px,#00ccff 313.5px,#00b3ff 326.9px,#0099ff 341.4px,#0080ff 357.5px,#0066ff 375.9px,#004dff 397.5px,#0033ff 424.6px,#001aff 463.2px,#0013ff 477px)"></i><i style="top:108px;height:7px;background:linear-gradient(90deg,#ff1600 0px,#ff1900 7.7px,#ff3300 47.9px,#ff4c00 75.2px,#ff6600 96.9px,#ff8000 115.1px,#ff9900 131px,#ffb200 145.3px,#ffcc00 158.5px,#ffe500 170.7px,#ffff00 182.3px,#e6ff19 193.4px,#ccff33 204.1px,#b3ff4c 214.6px,#99ff66 224.9px,#80ff80 235.1px,#66ff99 245.4px,#4dffb2 255.7px,#33ffcc 266.1px,#1affe5 276.8px,#00ffff 287.8px,#00e6ff 299.4px,#00ccff 311.6px,#00b3ff 324.6px,#0099ff 338.7px,#0080ff 354.4px,#0066ff 372.3px,#004dff 393.2px,#0033ff 419.3px,#001aff 455.7px,#000fff 477px)"></i><i style="top:114px;height:7px;background:linear-gradient(90deg,#ff1200 0px,#ff1900 16.4px,#ff3300 53.7px,#ff4c00 79.9px,#ff6600 100.8px,#ff8000 118.4px,#ff9900 133.9px,#ffb200 147.8px,#ffcc00 160.5px,#ffe500 172.5px,#ffff00 183.7px,#e6ff19 194.5px,#ccff33 205px,#b3ff4c 215.2px,#99ff66 225.2px,#80ff80 235.2px,#66ff99 245.1px,#4dffb2 255.1px,#33ffcc 265.3px,#1affe5 275.7px,#00ffff 286.5px,#00e6ff 297.7px,#00ccff 309.5px,#00b3ff 322.2px,#0099ff 335.9px,#0080ff 351.2px,#0066ff 368.5px,#004dff 388.8px,#0033ff 413.9px,#001aff 448.2px,#000bff 477px)"></i><i style="top:120px;height:7px;background:linear-gradient(90deg,#ff0d00 0px,#ff1900 24.8px,#ff3300 59.6px,#ff4c00 84.7px,#ff6600 104.8px,#ff8000 121.9px,#ff9900 136.8px,#ffb200 150.3px,#ffcc00 162.7px,#ffe500 174.3px,#ffff00 185.2px,#e6ff19 195.7px,#ccff33 205.8px,#b3ff4c 215.7px,#99ff66 225.5px,#80ff80 235.2px,#66ff99 244.8px,#4dffb2 254.6px,#33ffcc 264.5px,#1affe5 274.6px,#00ffff 285px,#00e6ff 295.9px,#00ccff 307.4px,#00b3ff 319.7px,#0099ff 333.1px,#0080ff 347.8px,#0066ff 364.6px,#004dff 384.2px,#0033ff 408.4px,#001aff 440.7px,#0007ff 477px)"></i><i style="top:126px;height:7px;background:linear-gradient(90deg,#ff0900 0px,#ff1900 33px,#ff3300 65.6px,#ff4c00 89.6px,#ff6600 108.9px,#ff8000 125.4px,#ff9900 139.9px,#ffb200 152.9px,#ffcc00 164.9px,#ffe500 176.1px,#ffff00 186.7px,#e6ff19 196.9px,#ccff33 206.7px,#b3ff4c 216.3px,#99ff66 225.8px,#80ff80 235.2px,#66ff99 244.6px,#4dffb2 254px,#33ffcc 263.6px,#1affe5 273.5px,#00ffff 283.6px,#00e6ff 294.1px,#00ccff 305.3px,#00b3ff 317.2px,#0099ff 330.1px,#0080ff 344.4px,#0066ff 360.6px,#004dff 379.5px,#0033ff 402.7px,#001aff 433.3px,#0002ff 477px)"></i><i style="top:132px;height:7px;background:linear-gradient(90deg,#ff0400 0px,#ff1900 41.1px,#ff3300 71.7px,#ff4c00 94.6px,#ff6600 113.2px,#ff8000 129.1px,#ff9900 143px,#ffb200 155.6px,#ffcc00 167.2px,#ffe500 178px,#ffff00 188.2px,#e6ff19 198.1px,#ccff33 207.6px,#b3ff4c 216.9px,#99ff66 226.1px,#80ff80 235.2px,#66ff99 244.3px,#4dffb2 253.5px,#33ffcc 262.8px,#1affe5 272.3px,#00ffff 282.1px,#00e6ff 292.3px,#00ccff 303.1px,#00b3ff 314.6px,#0099ff 327px,#0080ff 340.8px,#0066ff 356.4px,#004dff 374.7px,#0033ff 396.9px,#001aff 425.9px,#0000ff 471.2px,#0000fd 477px)"></i><i style="top:138px;height:5px;background:linear-gradient(90deg,#ff0000 0px,#ff0000 1px,#ff1900 47.8px,#ff3300 76.9px,#ff4c00 98.9px,#ff6600 116.8px,#ff8000 132.2px,#ff9900 145.7px,#ffb200 157.9px,#ffcc00 169.1px,#ffe500 179.6px,#ffff00 189.5px,#e6ff19 199.1px,#ccff33 208.4px,#b3ff4c 217.4px,#99ff66 226.3px,#80ff80 235.2px,#66ff99 244.1px,#4dffb2 253px,#33ffcc 262.1px,#1affe5 271.3px,#00ffff 280.8px,#00e6ff 290.8px,#00ccff 301.2px,#00b3ff 312.3px,#0099ff 324.4px,#0080ff 337.8px,#0066ff 352.9px,#004dff 370.5px,#0033ff 391.9px,#001aff 419.7px,#0000ff 461.4px,#0000f9 477px)"></i><i style="top:142px;height:5px;background:linear-gradient(90deg,#fb0000 0px,#ff0000 9.9px,#ff1900 53.1px,#ff3300 81px,#ff4c00 102.4px,#ff6600 119.8px,#ff8000 134.7px,#ff9900 147.9px,#ffb200 159.7px,#ffcc00 170.6px,#ffe500 180.9px,#ffff00 190.6px,#e6ff19 199.9px,#ccff33 209px,#b3ff4c 217.8px,#99ff66 226.6px,#80ff80 235.2px,#66ff99 243.9px,#4dffb2 252.6px,#33ffcc 261.5px,#1affe5 270.5px,#00ffff 279.8px,#00e6ff 289.5px,#00ccff 299.7px,#00b3ff 310.5px,#0099ff 322.3px,#0080ff 335.3px,#0066ff 350px,#004dff 367.2px,#0033ff 387.9px,#001aff 414.7px,#0000ff 453.9px,#0000f5 477px)"></i><i style="top:146px;height:5px;background:linear-gradient(90deg,#f80000 0px,#ff0000 18.2px,#ff1900 58.5px,#ff3300 85.3px,#ff4c00 105.9px,#ff6600 122.8px,#ff8000 137.3px,#ff9900 150px,#ffb200 161.6px,#ffcc00 172.2px,#ffe500 182.2px,#ffff00 191.6px,#e6ff19 200.7px,#ccff33 209.6px,#b3ff4c 218.2px,#99ff66 226.8px,#80ff80 235.2px,#66ff99 243.7px,#4dffb2 252.2px,#33ffcc 260.9px,#1affe5 269.7px,#00ffff 278.8px,#00e6ff 288.2px,#00ccff 298.1px,#00b3ff 308.7px,#0099ff 320.2px,#0080ff 332.8px,#0066ff 347.1px,#004dff 363.7px,#0033ff 383.9px,#001aff 409.7px,#0000ff 446.8px,#0000f2 477px)"></i><i style="top:150px;height:5px;background:linear-gradient(90deg,#f40000 0px,#ff0000 26.1px,#ff1900 63.8px,#ff3300 89.5px,#ff4c00 109.4px,#ff6600 125.8px,#ff8000 139.9px,#ff9900 152.3px,#ffb200 163.5px,#ffcc00 173.8px,#ffe500 183.5px,#ffff00 192.7px,#e6ff19 201.6px,#ccff33 210.2px,#b3ff4c 218.6px,#99ff66 227px,#80ff80 235.3px,#66ff99 243.5px,#4dffb2 251.9px,#33ffcc 260.3px,#1affe5 268.9px,#00ffff 277.7px,#00e6ff 286.9px,#00ccff 296.6px,#00b3ff 306.9px,#0099ff 318px,#0080ff 330.3px,#0066ff 344.1px,#004dff 360.3px,#0033ff 379.8px,#001aff 404.6px,#0000ff 439.8px,#0000ee 477px)"></i><i style="top:154px;height:5px;background:linear-gradient(90deg,#f00000 0px,#ff0000 33.7px,#ff1900 69.1px,#ff3300 93.8px,#ff4c00 113.1px,#ff6600 128.9px,#ff8000 142.5px,#ff9900 154.5px,#ffb200 165.4px,#ffcc00 175.4px,#ffe500 184.8px,#ffff00 193.8px,#e6ff19 202.4px,#ccff33 210.8px,#b3ff4c 219.1px,#99ff66 227.2px,#80ff80 235.3px,#66ff99 243.3px,#4dffb2 251.5px,#33ffcc 259.7px,#1affe5 268.1px,#00ffff 276.7px,#00e6ff 285.6px,#00ccff 295px,#00b3ff 305px,#0099ff 315.8px,#0080ff 327.7px,#0066ff 341.2px,#004dff 356.8px,#0033ff 375.6px,#001aff 399.5px,#0000ff 432.9px,#0000eb 477px)"></i><i style="top:158px;height:5px;background:linear-gradient(90deg,#ec0000 0px,#ff0000 41px,#ff1900 74.5px,#ff3300 98.2px,#ff4c00 116.7px,#ff6600 132px,#ff8000 145.1px,#ff9900 156.7px,#ffb200 167.3px,#ffcc00 177px,#ffe500 186.1px,#ffff00 194.8px,#e6ff19 203.3px,#ccff33 211.4px,#b3ff4c 219.5px,#99ff66 227.4px,#80ff80 235.3px,#66ff99 243.2px,#4dffb2 251.1px,#33ffcc 259.1px,#1affe5 267.3px,#00ffff 275.7px,#00e6ff 284.4px,#00ccff 293.5px,#00b3ff 303.2px,#0099ff 313.6px,#0080ff 325.1px,#0066ff 338.1px,#004dff 353.2px,#0033ff 371.4px,#001aff 394.4px,#0000ff 426.2px,#0000e7 477px)"></i><i style="top:162px;height:5px;background:linear-gradient(90deg,#e80000 0px,#ff0000 48.2px,#ff1900 79.8px,#ff3300 102.6px,#ff4c00 120.4px,#ff6600 135.1px,#ff8000 147.8px,#ff9900 159px,#ffb200 169.2px,#ffcc00 178.6px,#ffe500 187.5px,#ffff00 195.9px,#e6ff19 204.1px,#ccff33 212.1px,#b3ff4c 219.9px,#99ff66 227.6px,#80ff80 235.3px,#66ff99 243px,#4dffb2 250.7px,#33ffcc 258.5px,#1affe5 266.5px,#00ffff 274.6px,#00e6ff 283.1px,#00ccff 291.9px,#00b3ff 301.3px,#0099ff 311.4px,#0080ff 322.5px,#0066ff 335.1px,#004dff 349.6px,#0033ff 367.1px,#001aff 389.3px,#0000ff 419.5px,#0000e6 470.4px,#0000e3 477px)"></i><i style="top:166px;height:5px;background:linear-gradient(90deg,#e40000 0px,#e50000 3.6px,#ff0000 55.2px,#ff1900 85.2px,#ff3300 107px,#ff4c00 124.1px,#ff6600 138.3px,#ff8000 150.5px,#ff9900 161.3px,#ffb200 171.1px,#ffcc00 180.2px,#ffe500 188.8px,#ffff00 197px,#e6ff19 204.9px,#ccff33 212.7px,#b3ff4c 220.3px,#99ff66 227.8px,#80ff80 235.3px,#66ff99 242.8px,#4dffb2 250.3px,#33ffcc 257.9px,#1affe5 265.7px,#00ffff 273.6px,#00e6ff 281.8px,#00ccff 290.3px,#00b3ff 299.4px,#0099ff 309.2px,#0080ff 319.9px,#0066ff 332px,#004dff 346px,#0033ff 362.8px,#001aff 384.1px,#0000ff 412.9px,#0000e6 459.4px,#0000e0 477px)"></i><i style="top:170px;height:5px;background:linear-gradient(90deg,#e00000 0px,#e50000 15.7px,#ff0000 62.2px,#ff1900 90.6px,#ff3300 111.4px,#ff4c00 127.8px,#ff6600 141.4px,#ff8000 153.1px,#ff9900 163.5px,#ffb200 173px,#ffcc00 181.8px,#ffe500 190.1px,#ffff00 198.1px,#e6ff19 205.8px,#ccff33 213.3px,#b3ff4c 220.7px,#99ff66 228px,#80ff80 235.3px,#66ff99 242.6px,#4dffb2 249.9px,#33ffcc 257.3px,#1affe5 264.8px,#00ffff 272.5px,#00e6ff 280.5px,#00ccff 288.8px,#00b3ff 297.5px,#0099ff 306.9px,#0080ff 317.3px,#0066ff 328.9px,#004dff 342.4px,#0033ff 358.5px,#001aff 378.9px,#0000ff 406.3px,#0000e6 449.2px,#0000dc 477px)"></i><i style="top:174px;height:5px;background:linear-gradient(90deg,#dc0000 0px,#e50000 26.6px,#ff0000 69.1px,#ff1900 96px,#ff3300 115.9px,#ff4c00 131.6px,#ff6600 144.6px,#ff8000 155.8px,#ff9900 165.8px,#ffb200 174.9px,#ffcc00 183.4px,#ffe500 191.4px,#ffff00 199.1px,#e6ff19 206.6px,#ccff33 213.9px,#b3ff4c 221.1px,#99ff66 228.2px,#80ff80 235.3px,#66ff99 242.4px,#4dffb2 249.5px,#33ffcc 256.7px,#1affe5 264px,#00ffff 271.5px,#00e6ff 279.2px,#00ccff 287.2px,#00b3ff 295.6px,#0099ff 304.7px,#0080ff 314.6px,#0066ff 325.8px,#004dff 338.7px,#0033ff 354.2px,#001aff 373.6px,#0000ff 399.7px,#0000e6 439.5px,#0000d8 477px)"></i><i style="top:178px;height:5px;background:linear-gradient(90deg,#d80000 0px,#e50000 36.8px,#ff0000 76px,#ff1900 101.5px,#ff3300 120.4px,#ff4c00 135.3px,#ff6600 147.8px,#ff8000 158.5px,#ff9900 168.1px,#ffb200 176.8px,#ffcc00 185px,#ffe500 192.7px,#ffff00 200.2px,#e6ff19 207.4px,#ccff33 214.5px,#b3ff4c 221.5px,#99ff66 228.4px,#80ff80 235.3px,#66ff99 242.2px,#4dffb2 249.2px,#33ffcc 256.2px,#1affe5 263.2px,#00ffff 270.5px,#00e6ff 277.9px,#00ccff 285.6px,#00b3ff 293.8px,#0099ff 302.5px,#0080ff 312px,#0066ff 322.7px,#004dff 335px,#0033ff 349.8px,#001aff 368.3px,#0000ff 393.1px,#0000e6 430.3px,#0000d4 477px)"></i><i style="top:182px;height:5px;background:linear-gradient(90deg,#d40000 0px,#e50000 46.5px,#ff0000 82.9px,#ff1900 106.9px,#ff3300 124.9px,#ff4c00 139.1px,#ff6600 150.9px,#ff8000 161.2px,#ff9900 170.3px,#ffb200 178.7px,#ffcc00 186.5px,#ffe500 194px,#ffff00 201.2px,#e6ff19 208.2px,#ccff33 215.1px,#b3ff4c 221.9px,#99ff66 228.6px,#80ff80 235.3px,#66ff99 242.1px,#4dffb2 248.8px,#33ffcc 255.6px,#1affe5 262.5px,#00ffff 269.5px,#00e6ff 276.7px,#00ccff 284.1px,#00b3ff 291.9px,#0099ff 300.3px,#0080ff 309.4px,#0066ff 319.6px,#004dff 331.3px,#0033ff 345.4px,#001aff 363px,#0000ff 386.5px,#0000e6 421.3px,#0000d0 477px)"></i><i style="top:186px;height:5px;background:linear-gradient(90deg,#cf0000 0px,#e50000 55.9px,#ff0000 89.7px,#ff1900 112.4px,#ff3300 129.4px,#ff4c00 142.8px,#ff6600 154.1px,#ff8000 163.8px,#ff9900 172.5px,#ffb200 180.6px,#ffcc00 188.1px,#ffe500 195.3px,#ffff00 202.2px,#e6ff19 209px,#ccff33 215.7px,#b3ff4c 222.3px,#99ff66 228.8px,#80ff80 235.3px,#66ff99 241.9px,#4dffb2 248.4px,#33ffcc 255px,#1affe5 261.7px,#00ffff 268.5px,#00e6ff 275.4px,#00ccff 282.6px,#00b3ff 290.1px,#0099ff 298.1px,#0080ff 306.8px,#0066ff 316.5px,#004dff 327.6px,#0033ff 340.9px,#001aff 357.6px,#0000ff 379.9px,#0000e6 412.4px,#0000cc 474.4px,#0000cb 477px)"></i><i style="top:190px;height:5px;background:linear-gradient(90deg,#cb0000 0px,#cc0000 5.2px,#e50000 65.1px,#ff0000 96.6px,#ff1900 117.9px,#ff3300 133.9px,#ff4c00 146.6px,#ff6600 157.2px,#ff8000 166.4px,#ff9900 174.7px,#ffb200 182.4px,#ffcc00 189.6px,#ffe500 196.5px,#ffff00 203.2px,#e6ff19 209.8px,#ccff33 216.2px,#b3ff4c 222.6px,#99ff66 229px,#80ff80 235.3px,#66ff99 241.7px,#4dffb2 248.1px,#33ffcc 254.5px,#1affe5 260.9px,#00ffff 267.5px,#00e6ff 274.2px,#00ccff 281.1px,#00b3ff 288.3px,#0099ff 295.9px,#0080ff 304.2px,#0066ff 313.4px,#004dff 323.9px,#0033ff 336.5px,#001aff 352.3px,#0000ff 373.2px,#0000e6 403.7px,#0000cc 458.2px,#0000c7 477px)"></i><i style="top:194px;height:5px;background:linear-gradient(90deg,#c60000 0px,#cc0000 21.8px,#e50000 74.2px,#ff0000 103.4px,#ff1900 123.4px,#ff3300 138.4px,#ff4c00 150.3px,#ff6600 160.3px,#ff8000 169px,#ff9900 176.9px,#ffb200 184.2px,#ffcc00 191.1px,#ffe500 197.7px,#ffff00 204.2px,#e6ff19 210.5px,#ccff33 216.8px,#b3ff4c 223px,#99ff66 229.2px,#80ff80 235.4px,#66ff99 241.5px,#4dffb2 247.7px,#33ffcc 253.9px,#1affe5 260.2px,#00ffff 266.5px,#00e6ff 273px,#00ccff 279.6px,#00b3ff 286.5px,#0099ff 293.8px,#0080ff 301.6px,#0066ff 310.3px,#004dff 320.2px,#0033ff 332.1px,#001aff 346.9px,#0000ff 366.5px,#0000e6 395px,#0000cc 443.9px,#0000c3 477px)"></i><i style="top:198px;height:4px;background:linear-gradient(90deg,#c20000 0px,#cc0000 34.6px,#e50000 82px,#ff0000 109.4px,#ff1900 128.2px,#ff3300 142.3px,#ff4c00 153.5px,#ff6600 163px,#ff8000 171.3px,#ff9900 178.8px,#ffb200 185.7px,#ffcc00 192.4px,#ffe500 198.7px,#ffff00 205px,#e6ff19 211.1px,#ccff33 217.2px,#b3ff4c 223.3px,#99ff66 229.3px,#80ff80 235.4px,#66ff99 241.4px,#4dffb2 247.4px,#33ffcc 253.5px,#1affe5 259.6px,#00ffff 265.7px,#00e6ff 272px,#00ccff 278.4px,#00b3ff 285px,#0099ff 292px,#0080ff 299.4px,#0066ff 307.7px,#004dff 317.1px,#0033ff 328.2px,#001aff 342.2px,#0000ff 360.7px,#0000e6 387.4px,#0000cc 432.4px,#0000bf 477px)"></i><i style="top:201px;height:4px;background:linear-gradient(90deg,#bf0000 0px,#cc0000 44.9px,#e50000 88.7px,#ff0000 114.5px,#ff1900 132.3px,#ff3300 145.6px,#ff4c00 156.3px,#ff6600 165.3px,#ff8000 173.1px,#ff9900 180.3px,#ffb200 187px,#ffcc00 193.4px,#ffe500 199.6px,#ffff00 205.7px,#e6ff19 211.7px,#ccff33 217.6px,#b3ff4c 223.6px,#99ff66 229.5px,#80ff80 235.4px,#66ff99 241.3px,#4dffb2 247.2px,#33ffcc 253.1px,#1affe5 259.1px,#00ffff 265.1px,#00e6ff 271.1px,#00ccff 277.3px,#00b3ff 283.7px,#0099ff 290.4px,#0080ff 297.6px,#0066ff 305.4px,#004dff 314.4px,#0033ff 324.9px,#001aff 338.1px,#0000ff 355.7px,#0000e6 381px,#0000cc 422.9px,#0000bc 477px)"></i><i style="top:204px;height:4px;background:linear-gradient(90deg,#bb0000 0px,#cc0000 54.8px,#e50000 95.3px,#ff0000 119.6px,#ff1900 136.4px,#ff3300 148.9px,#ff4c00 159px,#ff6600 167.5px,#ff8000 175px,#ff9900 181.8px,#ffb200 188.3px,#ffcc00 194.4px,#ffe500 200.4px,#ffff00 206.4px,#e6ff19 212.2px,#ccff33 218px,#b3ff4c 223.8px,#99ff66 229.6px,#80ff80 235.4px,#66ff99 241.2px,#4dffb2 246.9px,#33ffcc 252.7px,#1affe5 258.6px,#00ffff 264.4px,#00e6ff 270.3px,#00ccff 276.3px,#00b3ff 282.5px,#0099ff 288.9px,#0080ff 295.8px,#0066ff 303.2px,#004dff 311.7px,#0033ff 321.7px,#001aff 334.1px,#0000ff 350.7px,#0000e6 374.5px,#0000cc 413.6px,#0000b8 477px)"></i><i style="top:207px;height:4px;background:linear-gradient(90deg,#b80000 0px,#cc0000 64.3px,#e50000 102px,#ff0000 124.7px,#ff1900 140.4px,#ff3300 152.2px,#ff4c00 161.6px,#ff6600 169.7px,#ff8000 176.8px,#ff9900 183.3px,#ffb200 189.5px,#ffcc00 195.4px,#ffe500 201.3px,#ffff00 207px,#e6ff19 212.7px,#ccff33 218.4px,#b3ff4c 224px,#99ff66 229.7px,#80ff80 235.4px,#66ff99 241px,#4dffb2 246.7px,#33ffcc 252.4px,#1affe5 258.1px,#00ffff 263.8px,#00e6ff 269.5px,#00ccff 275.3px,#00b3ff 281.3px,#0099ff 287.4px,#0080ff 294px,#0066ff 301.1px,#004dff 309.1px,#0033ff 318.5px,#001aff 330.2px,#0000ff 345.7px,#0000e6 368px,#0000cc 404.5px,#0000b5 477px)"></i><i style="top:210px;height:4px;background:linear-gradient(90deg,#b40000 0px,#cc0000 73.7px,#e50000 108.6px,#ff0000 129.8px,#ff1900 144.4px,#ff3300 155.4px,#ff4c00 164.2px,#ff6600 171.8px,#ff8000 178.5px,#ff9900 184.8px,#ffb200 190.7px,#ffcc00 196.4px,#ffe500 202px,#ffff00 207.6px,#e6ff19 213.2px,#ccff33 218.7px,#b3ff4c 224.3px,#99ff66 229.8px,#80ff80 235.4px,#66ff99 240.9px,#4dffb2 246.5px,#33ffcc 252px,#1affe5 257.6px,#00ffff 263.2px,#00e6ff 268.7px,#00ccff 274.4px,#00b3ff 280.1px,#0099ff 286px,#0080ff 292.2px,#0066ff 299px,#004dff 306.5px,#0033ff 315.3px,#001aff 326.2px,#0000ff 340.7px,#0000e6 361.6px,#0000cc 395.5px,#0000b2 471.7px,#0000b2 477px)"></i><i style="top:213px;height:4px;background:linear-gradient(90deg,#b10000 0px,#b20000 11.1px,#cc0000 82.9px,#e50000 115.1px,#ff0000 134.8px,#ff1900 148.3px,#ff3300 158.5px,#ff4c00 166.8px,#ff6600 173.8px,#ff8000 180.2px,#ff9900 186.1px,#ffb200 191.8px,#ffcc00 197.3px,#ffe500 202.8px,#ffff00 208.2px,#e6ff19 213.6px,#ccff33 219.1px,#b3ff4c 224.5px,#99ff66 229.9px,#80ff80 235.4px,#66ff99 240.8px,#4dffb2 246.3px,#33ffcc 251.7px,#1affe5 257.1px,#00ffff 262.6px,#00e6ff 268px,#00ccff 273.5px,#00b3ff 279px,#0099ff 284.7px,#0080ff 290.6px,#0066ff 296.9px,#004dff 304px,#0033ff 312.2px,#001aff 322.3px,#0000ff 335.8px,#0000e6 355.1px,#0000cc 386.6px,#0000b2 453.3px,#0000ae 477px)"></i><i style="top:216px;height:4px;background:linear-gradient(90deg,#ad0000 0px,#b20000 29.4px,#cc0000 92.1px,#e50000 121.7px,#ff0000 139.7px,#ff1900 152.2px,#ff3300 161.6px,#ff4c00 169.2px,#ff6600 175.8px,#ff8000 181.8px,#ff9900 187.5px,#ffb200 192.9px,#ffcc00 198.2px,#ffe500 203.5px,#ffff00 208.8px,#e6ff19 214.1px,#ccff33 219.4px,#b3ff4c 224.7px,#99ff66 230px,#80ff80 235.4px,#66ff99 240.7px,#4dffb2 246.1px,#33ffcc 251.4px,#1affe5 256.7px,#00ffff 262px,#00e6ff 267.3px,#00ccff 272.6px,#00b3ff 277.9px,#0099ff 283.3px,#0080ff 289px,#0066ff 295px,#004dff 301.5px,#0033ff 309.2px,#001aff 318.5px,#0000ff 330.8px,#0000e6 348.7px,#0000cc 377.8px,#0000b2 437.3px,#0000ab 477px)"></i><i style="top:219px;height:4px;background:linear-gradient(90deg,#a90000 0px,#b20000 45.5px,#cc0000 101.1px,#e50000 128.2px,#ff0000 144.6px,#ff1900 156px,#ff3300 164.6px,#ff4c00 171.6px,#ff6600 177.7px,#ff8000 183.4px,#ff9900 188.7px,#ffb200 193.9px,#ffcc00 199.1px,#ffe500 204.2px,#ffff00 209.3px,#e6ff19 214.5px,#ccff33 219.7px,#b3ff4c 224.9px,#99ff66 230.1px,#80ff80 235.4px,#66ff99 240.7px,#4dffb2 245.9px,#33ffcc 251.1px,#1affe5 256.3px,#00ffff 261.5px,#00e6ff 266.6px,#00ccff 271.8px,#00b3ff 276.9px,#0099ff 282.1px,#0080ff 287.4px,#0066ff 293.1px,#004dff 299.2px,#0033ff 306.2px,#001aff 314.8px,#0000ff 326px,#0000e6 342.3px,#0000cc 368.9px,#0000b2 422.5px,#0000a7 477px)"></i><i style="top:222px;height:4px;background:linear-gradient(90deg,#a60000 0px,#b20000 60.5px,#cc0000 110.1px,#e50000 134.5px,#ff0000 149.4px,#ff1900 159.6px,#ff3300 167.4px,#ff4c00 173.9px,#ff6600 179.6px,#ff8000 184.8px,#ff9900 189.9px,#ffb200 194.9px,#ffcc00 199.9px,#ffe500 204.8px,#ffff00 209.8px,#e6ff19 214.9px,#ccff33 220px,#b3ff4c 225.1px,#99ff66 230.2px,#80ff80 235.4px,#66ff99 240.6px,#4dffb2 245.7px,#33ffcc 250.8px,#1affe5 255.9px,#00ffff 261px,#00e6ff 266px,#00ccff 271px,#00b3ff 275.9px,#0099ff 280.9px,#0080ff 286px,#0066ff 291.3px,#004dff 297px,#0033ff 303.4px,#001aff 311.2px,#0000ff 321.3px,#0000e6 336px,#0000cc 360.1px,#0000b2 408.3px,#0000a4 477px)"></i><i style="top:225px;height:4px;background:linear-gradient(90deg,#a20000 0px,#b20000 74.8px,#cc0000 119px,#e50000 140.8px,#ff0000 154px,#ff1900 163.1px,#ff3300 170.1px,#ff4c00 176px,#ff6600 181.3px,#ff8000 186.2px,#ff9900 191px,#ffb200 195.8px,#ffcc00 200.6px,#ffe500 205.4px,#ffff00 210.3px,#e6ff19 215.2px,#ccff33 220.2px,#b3ff4c 225.2px,#99ff66 230.3px,#80ff80 235.4px,#66ff99 240.5px,#4dffb2 245.6px,#33ffcc 250.6px,#1affe5 255.6px,#00ffff 260.5px,#00e6ff 265.4px,#00ccff 270.2px,#00b3ff 275px,#0099ff 279.8px,#0080ff 284.6px,#0066ff 289.6px,#004dff 294.8px,#0033ff 300.7px,#001aff 307.7px,#0000ff 316.7px,#0000e6 329.8px,#0000cc 351.4px,#0000b2 394.5px,#0000a0 477px)"></i><i style="top:228px;height:4px;background:linear-gradient(90deg,#9e0000 0px,#b20000 88.9px,#cc0000 127.8px,#e50000 146.9px,#ff0000 158.5px,#ff1900 166.5px,#ff3300 172.7px,#ff4c00 178px,#ff6600 182.9px,#ff8000 187.5px,#ff9900 192.1px,#ffb200 196.6px,#ffcc00 201.3px,#ffe500 205.9px,#ffff00 210.7px,#e6ff19 215.5px,#ccff33 220.4px,#b3ff4c 225.4px,#99ff66 230.4px,#80ff80 235.4px,#66ff99 240.4px,#4dffb2 245.4px,#33ffcc 250.4px,#1affe5 255.3px,#00ffff 260.1px,#00e6ff 264.9px,#00ccff 269.6px,#00b3ff 274.2px,#0099ff 278.8px,#0080ff 283.4px,#0066ff 288px,#004dff 292.9px,#0033ff 298.2px,#001aff 304.4px,#0000ff 312.3px,#0000e6 323.8px,#0000cc 342.7px,#0000b2 380.9px,#00009d 477px)"></i><i style="top:231px;height:4px;background:linear-gradient(90deg,#9b0000 0px,#b20000 102.7px,#cc0000 136.4px,#e50000 152.8px,#ff0000 162.7px,#ff1900 169.6px,#ff3300 175.1px,#ff4c00 179.8px,#ff6600 184.3px,#ff8000 188.7px,#ff9900 193px,#ffb200 197.4px,#ffcc00 201.9px,#ffe500 206.4px,#ffff00 211.1px,#e6ff19 215.8px,#ccff33 220.7px,#b3ff4c 225.5px,#99ff66 230.5px,#80ff80 235.4px,#66ff99 240.3px,#4dffb2 245.3px,#33ffcc 250.2px,#1affe5 255px,#00ffff 259.7px,#00e6ff 264.4px,#00ccff 269px,#00b3ff 273.5px,#0099ff 277.9px,#0080ff 282.2px,#0066ff 286.6px,#004dff 291px,#0033ff 295.8px,#001aff 301.3px,#0000ff 308.2px,#0000e6 318px,#0000cc 334.2px,#0000b2 367.4px,#000099 477px)"></i><i style="top:234px;height:4px;background:linear-gradient(90deg,#970000 0px,#990000 22.2px,#b20000 116.3px,#cc0000 144.7px,#e50000 158.4px,#ff0000 166.6px,#ff1900 172.5px,#ff3300 177.2px,#ff4c00 181.5px,#ff6600 185.6px,#ff8000 189.7px,#ff9900 193.8px,#ffb200 198.1px,#ffcc00 202.4px,#ffe500 206.9px,#ffff00 211.4px,#e6ff19 216.1px,#ccff33 220.9px,#b3ff4c 225.7px,#99ff66 230.5px,#80ff80 235.4px,#66ff99 240.3px,#4dffb2 245.2px,#33ffcc 250px,#1affe5 254.7px,#00ffff 259.4px,#00e6ff 264px,#00ccff 268.4px,#00b3ff 272.8px,#0099ff 277px,#0080ff 281.2px,#0066ff 285.3px,#004dff 289.4px,#0033ff 293.7px,#001aff 298.4px,#0000ff 304.3px,#0000e6 312.4px,#0000cc 326px,#0000b2 354.1px,#000099 443.7px,#000096 477px)"></i><i style="top:237px;height:4px;background:linear-gradient(90deg,#930000 0px,#990000 54.9px,#b20000 129.6px,#cc0000 152.6px,#e50000 163.5px,#ff0000 170.1px,#ff1900 175px,#ff3300 179.1px,#ff4c00 183px,#ff6600 186.8px,#ff8000 190.6px,#ff9900 194.6px,#ffb200 198.7px,#ffcc00 202.9px,#ffe500 207.2px,#ffff00 211.7px,#e6ff19 216.3px,#ccff33 221px,#b3ff4c 225.8px,#99ff66 230.6px,#80ff80 235.4px,#66ff99 240.2px,#4dffb2 245px,#33ffcc 249.8px,#1affe5 254.5px,#00ffff 259.1px,#00e6ff 263.6px,#00ccff 268px,#00b3ff 272.2px,#0099ff 276.3px,#0080ff 280.3px,#0066ff 284.1px,#004dff 287.9px,#0033ff 291.8px,#001aff 295.9px,#0000ff 300.7px,#0000e6 307.4px,#0000cc 318.2px,#0000b2 341px,#000099 413.6px,#000092 477px)"></i><i style="top:240px;height:4px;background:linear-gradient(90deg,#900000 0px,#990000 84px,#b20000 142.4px,#cc0000 159.9px,#e50000 168.1px,#ff0000 173.2px,#ff1900 177.2px,#ff3300 180.8px,#ff4c00 184.2px,#ff6600 187.7px,#ff8000 191.4px,#ff9900 195.2px,#ffb200 199.1px,#ffcc00 203.3px,#ffe500 207.6px,#ffff00 212px,#e6ff19 216.5px,#ccff33 221.2px,#b3ff4c 225.9px,#99ff66 230.6px,#80ff80 235.4px,#66ff99 240.2px,#4dffb2 245px,#33ffcc 249.7px,#1affe5 254.3px,#00ffff 258.9px,#00e6ff 263.3px,#00ccff 267.6px,#00b3ff 271.7px,#0099ff 275.7px,#0080ff 279.5px,#0066ff 283.2px,#004dff 286.7px,#0033ff 290.2px,#001aff 293.7px,#0000ff 297.7px,#0000e6 302.8px,#0000cc 310.9px,#0000b2 328.3px,#000099 385.7px,#00008f 477px)"></i><i style="top:243px;height:4px;background:linear-gradient(90deg,#8c0000 0px,#990000 111.8px,#b20000 154.3px,#cc0000 166.4px,#e50000 172.1px,#ff0000 175.8px,#ff1900 179px,#ff3300 182.1px,#ff4c00 185.2px,#ff6600 188.5px,#ff8000 192px,#ff9900 195.7px,#ffb200 199.5px,#ffcc00 203.6px,#ffe500 207.8px,#ffff00 212.2px,#e6ff19 216.7px,#ccff33 221.3px,#b3ff4c 225.9px,#99ff66 230.7px,#80ff80 235.4px,#66ff99 240.2px,#4dffb2 244.9px,#33ffcc 249.6px,#1affe5 254.2px,#00ffff 258.7px,#00e6ff 263px,#00ccff 267.3px,#00b3ff 271.3px,#0099ff 275.2px,#0080ff 278.9px,#0066ff 282.4px,#004dff 285.7px,#0033ff 288.8px,#001aff 291.9px,#0000ff 295.1px,#0000e6 298.9px,#0000cc 304.5px,#0000b2 316.5px,#000099 358.5px,#00008b 477px)"></i><i style="top:246px;height:4px;background:linear-gradient(90deg,#880000 0px,#990000 138.3px,#b20000 164.5px,#cc0000 171.5px,#e50000 175.1px,#ff0000 177.8px,#ff1900 180.4px,#ff3300 183.1px,#ff4c00 186px,#ff6600 189.1px,#ff8000 192.5px,#ff9900 196px,#ffb200 199.8px,#ffcc00 203.8px,#ffe500 208px,#ffff00 212.3px,#e6ff19 216.8px,#ccff33 221.3px,#b3ff4c 226px,#99ff66 230.7px,#80ff80 235.4px,#66ff99 240.1px,#4dffb2 244.8px,#33ffcc 249.5px,#1affe5 254.1px,#00ffff 258.5px,#00e6ff 262.9px,#00ccff 267px,#00b3ff 271px,#0099ff 274.9px,#0080ff 278.4px,#0066ff 281.8px,#004dff 284.9px,#0033ff 287.8px,#001aff 290.6px,#0000ff 293.2px,#0000e6 295.9px,#0000cc 299.4px,#0000b2 306.4px,#000099 332.4px,#000088 477px)"></i><i style="top:249px;height:4px;background:linear-gradient(90deg,#840000 0px,#990000 161.3px,#b20000 172.2px,#cc0000 175.1px,#e50000 177.1px,#ff0000 179.1px,#ff1900 181.3px,#ff3300 183.8px,#ff4c00 186.5px,#ff6600 189.5px,#ff8000 192.8px,#ff9900 196.3px,#ffb200 200px,#ffcc00 204px,#ffe500 208.1px,#ffff00 212.4px,#e6ff19 216.8px,#ccff33 221.4px,#b3ff4c 226px,#99ff66 230.7px,#80ff80 235.4px,#66ff99 240.1px,#4dffb2 244.8px,#33ffcc 249.4px,#1affe5 254px,#00ffff 258.4px,#00e6ff 262.7px,#00ccff 266.9px,#00b3ff 270.9px,#0099ff 274.6px,#0080ff 278.1px,#0066ff 281.4px,#004dff 284.5px,#0033ff 287.2px,#001aff 289.7px,#0000ff 291.9px,#0000e6 293.9px,#0000cc 295.9px,#0000b2 298.8px,#000099 309.6px,#000084 477px)"></i><i style="top:252px;height:3px;background:linear-gradient(90deg,#810000 0px,#990000 174.4px,#b20000 175.4px,#cc0000 176.5px,#e50000 177.9px,#ff0000 179.7px,#ff1900 181.7px,#ff3300 184px,#ff4c00 186.7px,#ff6600 189.6px,#ff8000 192.9px,#ff9900 196.4px,#ffb200 200.1px,#ffcc00 204px,#ffe500 208.2px,#ffff00 212.4px,#e6ff19 216.9px,#ccff33 221.4px,#b3ff4c 226px,#99ff66 230.7px,#80ff80 235.4px,#66ff99 240.1px,#4dffb2 244.8px,#33ffcc 249.4px,#1affe5 254px,#00ffff 258.4px,#00e6ff 262.7px,#00ccff 266.8px,#00b3ff 270.8px,#0099ff 274.5px,#0080ff 278px,#0066ff 281.3px,#004dff 284.2px,#0033ff 286.9px,#001aff 289.3px,#0000ff 291.3px,#0000e6 293px,#0000cc 294.5px,#0000b2 295.6px,#000099 296.6px,#000081 477px)"></i></div>
<div class="fp" style="left:96.7px;top:733.7px;width:528.0px;height:256.5px"><i style="top:0px;height:7px;background:linear-gradient(90deg,#ff2c00 0px,#ff3300 8.6px,#ff4c00 35.6px,#ff6600 59.8px,#ff8000 81.7px,#ff9900 102px,#ffb200 120.9px,#ffcc00 138.8px,#ffe500 155.9px,#ffff00 172.3px,#e6ff19 188.3px,#ccff33 203.8px,#b3ff4c 219.1px,#99ff66 234.2px,#80ff80 249.2px,#66ff99 264.2px,#4dffb2 279.3px,#33ffcc 294.6px,#1affe5 310px,#00ffff 325.9px,#00e6ff 342.2px,#00ccff 359.2px,#00b3ff 376.9px,#0099ff 395.5px,#0080ff 415.4px,#0066ff 436.9px,#004dff 460.3px,#0033ff 486.4px,#001aff 515.9px,#0010ff 528px)"></i><i style="top:6px;height:7px;background:linear-gradient(90deg,#ff2b00 0px,#ff3300 8.8px,#ff4c00 35.8px,#ff6600 59.9px,#ff8000 81.9px,#ff9900 102.1px,#ffb200 121px,#ffcc00 138.9px,#ffe500 156px,#ffff00 172.4px,#e6ff19 188.4px,#ccff33 203.9px,#b3ff4c 219.2px,#99ff66 234.3px,#80ff80 249.2px,#66ff99 264.2px,#4dffb2 279.3px,#33ffcc 294.5px,#1affe5 310px,#00ffff 325.8px,#00e6ff 342.1px,#00ccff 359.1px,#00b3ff 376.7px,#0099ff 395.4px,#0080ff 415.3px,#0066ff 436.7px,#004dff 460.1px,#0033ff 486.2px,#001aff 515.7px,#0010ff 528px)"></i><i style="top:12px;height:7px;background:linear-gradient(90deg,#ff2b00 0px,#ff3300 9.2px,#ff4c00 36.2px,#ff6600 60.3px,#ff8000 82.2px,#ff9900 102.4px,#ffb200 121.3px,#ffcc00 139.2px,#ffe500 156.2px,#ffff00 172.6px,#e6ff19 188.5px,#ccff33 204px,#b3ff4c 219.2px,#99ff66 234.3px,#80ff80 249.2px,#66ff99 264.2px,#4dffb2 279.2px,#33ffcc 294.4px,#1affe5 309.9px,#00ffff 325.7px,#00e6ff 341.9px,#00ccff 358.8px,#00b3ff 376.5px,#0099ff 395.1px,#0080ff 415px,#0066ff 436.4px,#004dff 459.8px,#0033ff 485.8px,#001aff 515.3px,#0010ff 528px)"></i><i style="top:18px;height:7px;background:linear-gradient(90deg,#ff2a00 0px,#ff3300 9.8px,#ff4c00 36.8px,#ff6600 60.8px,#ff8000 82.7px,#ff9900 102.9px,#ffb200 121.7px,#ffcc00 139.5px,#ffe500 156.5px,#ffff00 172.9px,#e6ff19 188.7px,#ccff33 204.2px,#b3ff4c 219.3px,#99ff66 234.3px,#80ff80 249.2px,#66ff99 264.1px,#4dffb2 279.1px,#33ffcc 294.3px,#1affe5 309.7px,#00ffff 325.4px,#00e6ff 341.6px,#00ccff 358.5px,#00b3ff 376.1px,#0099ff 394.7px,#0080ff 414.5px,#0066ff 435.8px,#004dff 459.2px,#0033ff 485.2px,#001aff 514.6px,#000fff 528px)"></i><i style="top:24px;height:7px;background:linear-gradient(90deg,#ff2a00 0px,#ff3300 10.7px,#ff4c00 37.6px,#ff6600 61.6px,#ff8000 83.4px,#ff9900 103.5px,#ffb200 122.2px,#ffcc00 140px,#ffe500 156.9px,#ffff00 173.2px,#e6ff19 189px,#ccff33 204.4px,#b3ff4c 219.5px,#99ff66 234.4px,#80ff80 249.3px,#66ff99 264.1px,#4dffb2 279px,#33ffcc 294.1px,#1affe5 309.4px,#00ffff 325.1px,#00e6ff 341.3px,#00ccff 358px,#00b3ff 375.6px,#0099ff 394.1px,#0080ff 413.8px,#0066ff 435.1px,#004dff 458.4px,#0033ff 484.4px,#001aff 513.8px,#000eff 528px)"></i><i style="top:30px;height:7px;background:linear-gradient(90deg,#ff2900 0px,#ff3300 11.7px,#ff4c00 38.6px,#ff6600 62.5px,#ff8000 84.2px,#ff9900 104.2px,#ffb200 122.9px,#ffcc00 140.6px,#ffe500 157.4px,#ffff00 173.6px,#e6ff19 189.3px,#ccff33 204.6px,#b3ff4c 219.6px,#99ff66 234.5px,#80ff80 249.3px,#66ff99 264px,#4dffb2 278.8px,#33ffcc 293.8px,#1affe5 309.1px,#00ffff 324.7px,#00e6ff 340.8px,#00ccff 357.5px,#00b3ff 374.9px,#0099ff 393.4px,#0080ff 413.1px,#0066ff 434.3px,#004dff 457.5px,#0033ff 483.4px,#001aff 512.7px,#000eff 528px)"></i><i style="top:36px;height:7px;background:linear-gradient(90deg,#ff2800 0px,#ff3300 13px,#ff4c00 39.8px,#ff6600 63.6px,#ff8000 85.2px,#ff9900 105.1px,#ffb200 123.7px,#ffcc00 141.3px,#ffe500 158px,#ffff00 174.1px,#e6ff19 189.7px,#ccff33 204.9px,#b3ff4c 219.9px,#99ff66 234.6px,#80ff80 249.3px,#66ff99 263.9px,#4dffb2 278.7px,#33ffcc 293.6px,#1affe5 308.7px,#00ffff 324.2px,#00e6ff 340.2px,#00ccff 356.8px,#00b3ff 374.2px,#0099ff 392.5px,#0080ff 412.1px,#0066ff 433.2px,#004dff 456.4px,#0033ff 482.2px,#001aff 511.5px,#000dff 528px)"></i><i style="top:42px;height:7px;background:linear-gradient(90deg,#ff2600 0px,#ff3300 14.5px,#ff4c00 41.1px,#ff6600 64.8px,#ff8000 86.3px,#ff9900 106.1px,#ffb200 124.6px,#ffcc00 142.1px,#ffe500 158.7px,#ffff00 174.7px,#e6ff19 190.2px,#ccff33 205.3px,#b3ff4c 220.1px,#99ff66 234.7px,#80ff80 249.3px,#66ff99 263.8px,#4dffb2 278.4px,#33ffcc 293.2px,#1affe5 308.3px,#00ffff 323.7px,#00e6ff 339.5px,#00ccff 356px,#00b3ff 373.3px,#0099ff 391.5px,#0080ff 411px,#0066ff 432px,#004dff 455.1px,#0033ff 480.7px,#001aff 510px,#000bff 528px)"></i><i style="top:48px;height:7px;background:linear-gradient(90deg,#ff2500 0px,#ff3300 16.2px,#ff4c00 42.7px,#ff6600 66.3px,#ff8000 87.6px,#ff9900 107.3px,#ffb200 125.7px,#ffcc00 143px,#ffe500 159.5px,#ffff00 175.3px,#e6ff19 190.7px,#ccff33 205.7px,#b3ff4c 220.4px,#99ff66 234.9px,#80ff80 249.3px,#66ff99 263.7px,#4dffb2 278.2px,#33ffcc 292.9px,#1affe5 307.8px,#00ffff 323px,#00e6ff 338.8px,#00ccff 355.1px,#00b3ff 372.3px,#0099ff 390.4px,#0080ff 409.7px,#0066ff 430.6px,#004dff 453.6px,#0033ff 479.1px,#001aff 508.3px,#000aff 528px)"></i><i style="top:54px;height:7px;background:linear-gradient(90deg,#ff2300 0px,#ff3300 18.1px,#ff4c00 44.5px,#ff6600 67.9px,#ff8000 89.1px,#ff9900 108.6px,#ffb200 126.9px,#ffcc00 144px,#ffe500 160.4px,#ffff00 176.1px,#e6ff19 191.3px,#ccff33 206.1px,#b3ff4c 220.7px,#99ff66 235px,#80ff80 249.3px,#66ff99 263.6px,#4dffb2 277.9px,#33ffcc 292.4px,#1affe5 307.2px,#00ffff 322.3px,#00e6ff 337.9px,#00ccff 354.2px,#00b3ff 371.1px,#0099ff 389.1px,#0080ff 408.3px,#0066ff 429.1px,#004dff 451.9px,#0033ff 477.3px,#001aff 506.3px,#0009ff 528px)"></i><i style="top:60px;height:7px;background:linear-gradient(90deg,#ff2200 0px,#ff3300 20.2px,#ff4c00 46.4px,#ff6600 69.7px,#ff8000 90.8px,#ff9900 110.1px,#ffb200 128.2px,#ffcc00 145.2px,#ffe500 161.3px,#ffff00 176.9px,#e6ff19 191.9px,#ccff33 206.6px,#b3ff4c 221px,#99ff66 235.2px,#80ff80 249.3px,#66ff99 263.4px,#4dffb2 277.6px,#33ffcc 292px,#1affe5 306.6px,#00ffff 321.6px,#00e6ff 337px,#00ccff 353.1px,#00b3ff 369.9px,#0099ff 387.7px,#0080ff 406.7px,#0066ff 427.3px,#004dff 450px,#0033ff 475.3px,#001aff 504.2px,#0007ff 528px)"></i><i style="top:66px;height:7px;background:linear-gradient(90deg,#ff2000 0px,#ff3300 22.6px,#ff4c00 48.6px,#ff6600 71.7px,#ff8000 92.6px,#ff9900 111.7px,#ffb200 129.6px,#ffcc00 146.4px,#ffe500 162.4px,#ffff00 177.8px,#e6ff19 192.6px,#ccff33 207.1px,#b3ff4c 221.3px,#99ff66 235.4px,#80ff80 249.3px,#66ff99 263.3px,#4dffb2 277.3px,#33ffcc 291.5px,#1affe5 305.9px,#00ffff 320.7px,#00e6ff 336px,#00ccff 351.9px,#00b3ff 368.5px,#0099ff 386.1px,#0080ff 405px,#0066ff 425.4px,#004dff 447.9px,#0033ff 473.1px,#001aff 501.8px,#0005ff 528px)"></i><i style="top:72px;height:7px;background:linear-gradient(90deg,#ff1d00 0px,#ff3300 25.2px,#ff4c00 51px,#ff6600 73.9px,#ff8000 94.5px,#ff9900 113.5px,#ffb200 131.2px,#ffcc00 147.8px,#ffe500 163.6px,#ffff00 178.7px,#e6ff19 193.4px,#ccff33 207.7px,#b3ff4c 221.7px,#99ff66 235.6px,#80ff80 249.4px,#66ff99 263.1px,#4dffb2 277px,#33ffcc 291px,#1affe5 305.2px,#00ffff 319.8px,#00e6ff 334.9px,#00ccff 350.5px,#00b3ff 367px,#0099ff 384.4px,#0080ff 403.1px,#0066ff 423.3px,#004dff 445.6px,#0033ff 470.6px,#001aff 499.2px,#0003ff 528px)"></i><i style="top:78px;height:7px;background:linear-gradient(90deg,#ff1b00 0px,#ff3300 28px,#ff4c00 53.6px,#ff6600 76.2px,#ff8000 96.7px,#ff9900 115.4px,#ffb200 132.8px,#ffcc00 149.2px,#ffe500 164.8px,#ffff00 179.8px,#e6ff19 194.2px,#ccff33 208.3px,#b3ff4c 222.1px,#99ff66 235.8px,#80ff80 249.4px,#66ff99 262.9px,#4dffb2 276.6px,#33ffcc 290.4px,#1affe5 304.4px,#00ffff 318.8px,#00e6ff 333.7px,#00ccff 349.1px,#00b3ff 365.4px,#0099ff 382.6px,#0080ff 401px,#0066ff 421.1px,#004dff 443.2px,#0033ff 467.9px,#001aff 496.3px,#0001ff 528px)"></i><i style="top:84px;height:7px;background:linear-gradient(90deg,#ff1800 0px,#ff1900 1.5px,#ff3300 31px,#ff4c00 56.4px,#ff6600 78.8px,#ff8000 99px,#ff9900 117.4px,#ffb200 134.6px,#ffcc00 150.8px,#ffe500 166.1px,#ffff00 180.9px,#e6ff19 195.1px,#ccff33 209px,#b3ff4c 222.6px,#99ff66 236px,#80ff80 249.4px,#66ff99 262.7px,#4dffb2 276.2px,#33ffcc 289.8px,#1affe5 303.6px,#00ffff 317.8px,#00e6ff 332.4px,#00ccff 347.6px,#00b3ff 363.6px,#0099ff 380.6px,#0080ff 398.8px,#0066ff 418.6px,#004dff 440.5px,#0033ff 465px,#001aff 493.2px,#0000ff 526.5px,#0000fe 528px)"></i><i style="top:90px;height:7px;background:linear-gradient(90deg,#ff1600 0px,#ff1900 5.1px,#ff3300 34.3px,#ff4c00 59.4px,#ff6600 81.5px,#ff8000 101.4px,#ff9900 119.6px,#ffb200 136.5px,#ffcc00 152.4px,#ffe500 167.5px,#ffff00 182px,#e6ff19 196px,#ccff33 209.7px,#b3ff4c 223.1px,#99ff66 236.3px,#80ff80 249.4px,#66ff99 262.5px,#4dffb2 275.7px,#33ffcc 289.1px,#1affe5 302.7px,#00ffff 316.6px,#00e6ff 331px,#00ccff 346px,#00b3ff 361.8px,#0099ff 378.5px,#0080ff 396.5px,#0066ff 416px,#004dff 437.6px,#0033ff 461.9px,#001aff 489.9px,#0000ff 523px,#0000fc 528px)"></i><i style="top:96px;height:7px;background:linear-gradient(90deg,#ff1300 0px,#ff1900 8.9px,#ff3300 37.8px,#ff4c00 62.6px,#ff6600 84.4px,#ff8000 104px,#ff9900 121.9px,#ffb200 138.6px,#ffcc00 154.2px,#ffe500 169px,#ffff00 183.3px,#e6ff19 197px,#ccff33 210.4px,#b3ff4c 223.6px,#99ff66 236.5px,#80ff80 249.4px,#66ff99 262.3px,#4dffb2 275.3px,#33ffcc 288.4px,#1affe5 301.8px,#00ffff 315.5px,#00e6ff 329.6px,#00ccff 344.3px,#00b3ff 359.8px,#0099ff 376.3px,#0080ff 394px,#0066ff 413.2px,#004dff 434.6px,#0033ff 458.6px,#001aff 486.3px,#0000ff 519.1px,#0000f9 528px)"></i><i style="top:102px;height:7px;background:linear-gradient(90deg,#ff0f00 0px,#ff1900 12.9px,#ff3300 41.5px,#ff4c00 66px,#ff6600 87.5px,#ff8000 106.8px,#ff9900 124.4px,#ffb200 140.7px,#ffcc00 156.1px,#ffe500 170.6px,#ffff00 184.5px,#e6ff19 198px,#ccff33 211.2px,#b3ff4c 224.1px,#99ff66 236.8px,#80ff80 249.5px,#66ff99 262.1px,#4dffb2 274.8px,#33ffcc 287.7px,#1affe5 300.8px,#00ffff 314.2px,#00e6ff 328.1px,#00ccff 342.6px,#00b3ff 357.8px,#0099ff 373.9px,#0080ff 391.3px,#0066ff 410.3px,#004dff 431.3px,#0033ff 455px,#001aff 482.4px,#0000ff 515px,#0000f6 528px)"></i><i style="top:108px;height:7px;background:linear-gradient(90deg,#ff0c00 0px,#ff1900 17.3px,#ff3300 45.5px,#ff4c00 69.6px,#ff6600 90.7px,#ff8000 109.7px,#ff9900 127px,#ffb200 143px,#ffcc00 158px,#ffe500 172.2px,#ffff00 185.9px,#e6ff19 199.1px,#ccff33 212px,#b3ff4c 224.6px,#99ff66 237.1px,#80ff80 249.5px,#66ff99 261.9px,#4dffb2 274.3px,#33ffcc 286.9px,#1affe5 299.8px,#00ffff 312.9px,#00e6ff 326.5px,#00ccff 340.7px,#00b3ff 355.6px,#0099ff 371.4px,#0080ff 388.5px,#0066ff 407.1px,#004dff 427.8px,#0033ff 451.2px,#001aff 478.3px,#0000ff 510.6px,#0000f3 528px)"></i><i style="top:114px;height:7px;background:linear-gradient(90deg,#ff0800 0px,#ff1900 21.9px,#ff3300 49.7px,#ff4c00 73.4px,#ff6600 94.2px,#ff8000 112.7px,#ff9900 129.7px,#ffb200 145.3px,#ffcc00 160px,#ffe500 173.9px,#ffff00 187.3px,#e6ff19 200.2px,#ccff33 212.8px,#b3ff4c 225.2px,#99ff66 237.4px,#80ff80 249.5px,#66ff99 261.6px,#4dffb2 273.8px,#33ffcc 286.2px,#1affe5 298.7px,#00ffff 311.6px,#00e6ff 324.9px,#00ccff 338.7px,#00b3ff 353.3px,#0099ff 368.8px,#0080ff 385.5px,#0066ff 403.8px,#004dff 424.1px,#0033ff 447.2px,#001aff 473.9px,#0000ff 505.9px,#0000f0 528px)"></i><i style="top:120px;height:7px;background:linear-gradient(90deg,#ff0500 0px,#ff1900 26.8px,#ff3300 54.2px,#ff4c00 77.4px,#ff6600 97.8px,#ff8000 115.9px,#ff9900 132.5px,#ffb200 147.8px,#ffcc00 162.1px,#ffe500 175.7px,#ffff00 188.8px,#e6ff19 201.4px,#ccff33 213.7px,#b3ff4c 225.7px,#99ff66 237.7px,#80ff80 249.5px,#66ff99 261.4px,#4dffb2 273.3px,#33ffcc 285.3px,#1affe5 297.6px,#00ffff 310.2px,#00e6ff 323.2px,#00ccff 336.7px,#00b3ff 350.9px,#0099ff 366.1px,#0080ff 382.4px,#0066ff 400.3px,#004dff 420.3px,#0033ff 442.9px,#001aff 469.3px,#0000ff 500.8px,#0000ed 528px)"></i><i style="top:126px;height:7px;background:linear-gradient(90deg,#ff0100 0px,#ff1900 32px,#ff3300 58.9px,#ff4c00 81.7px,#ff6600 101.5px,#ff8000 119.3px,#ff9900 135.4px,#ffb200 150.3px,#ffcc00 164.3px,#ffe500 177.5px,#ffff00 190.3px,#e6ff19 202.5px,#ccff33 214.5px,#b3ff4c 226.3px,#99ff66 238px,#80ff80 249.5px,#66ff99 261.1px,#4dffb2 272.7px,#33ffcc 284.5px,#1affe5 296.5px,#00ffff 308.7px,#00e6ff 321.4px,#00ccff 334.6px,#00b3ff 348.5px,#0099ff 363.2px,#0080ff 379.2px,#0066ff 396.7px,#004dff 416.2px,#0033ff 438.4px,#001aff 464.3px,#0000ff 495.5px,#0000e9 528px)"></i><i style="top:132px;height:7px;background:linear-gradient(90deg,#fb0000 0px,#ff0000 5.4px,#ff1900 37.5px,#ff3300 63.8px,#ff4c00 86.1px,#ff6600 105.5px,#ff8000 122.8px,#ff9900 138.4px,#ffb200 152.9px,#ffcc00 166.5px,#ffe500 179.4px,#ffff00 191.8px,#e6ff19 203.8px,#ccff33 215.4px,#b3ff4c 226.9px,#99ff66 238.3px,#80ff80 249.6px,#66ff99 260.8px,#4dffb2 272.2px,#33ffcc 283.7px,#1affe5 295.3px,#00ffff 307.3px,#00e6ff 319.6px,#00ccff 332.4px,#00b3ff 345.9px,#0099ff 360.3px,#0080ff 375.8px,#0066ff 392.8px,#004dff 411.9px,#0033ff 433.6px,#001aff 459.1px,#0000ff 489.8px,#0000e6 528px)"></i><i style="top:138px;height:5px;background:linear-gradient(90deg,#f80000 0px,#ff0000 10.7px,#ff1900 42.3px,#ff3300 68.1px,#ff4c00 89.9px,#ff6600 108.9px,#ff8000 125.7px,#ff9900 141.1px,#ffb200 155.2px,#ffcc00 168.4px,#ffe500 181px,#ffff00 193.1px,#e6ff19 204.8px,#ccff33 216.2px,#b3ff4c 227.4px,#99ff66 238.5px,#80ff80 249.6px,#66ff99 260.6px,#4dffb2 271.7px,#33ffcc 282.9px,#1affe5 294.3px,#00ffff 306px,#00e6ff 318px,#00ccff 330.5px,#00b3ff 343.7px,#0099ff 357.7px,#0080ff 372.9px,#0066ff 389.5px,#004dff 408.2px,#0033ff 429.5px,#001aff 454.5px,#0000ff 484.8px,#0000e6 522.8px,#0000e3 528px)"></i><i style="top:142px;height:5px;background:linear-gradient(90deg,#f50000 0px,#ff0000 15.1px,#ff1900 46.3px,#ff3300 71.7px,#ff4c00 93.1px,#ff6600 111.7px,#ff8000 128.2px,#ff9900 143.2px,#ffb200 157px,#ffcc00 170px,#ffe500 182.3px,#ffff00 194.2px,#e6ff19 205.6px,#ccff33 216.8px,#b3ff4c 227.9px,#99ff66 238.8px,#80ff80 249.6px,#66ff99 260.4px,#4dffb2 271.3px,#33ffcc 282.3px,#1affe5 293.5px,#00ffff 305px,#00e6ff 316.8px,#00ccff 329px,#00b3ff 341.9px,#0099ff 355.7px,#0080ff 370.5px,#0066ff 386.8px,#004dff 405.1px,#0033ff 426.1px,#001aff 450.7px,#0000ff 480.6px,#0000e6 518.3px,#0000e0 528px)"></i><i style="top:146px;height:5px;background:linear-gradient(90deg,#f10000 0px,#ff0000 19.7px,#ff1900 50.4px,#ff3300 75.3px,#ff4c00 96.3px,#ff6600 114.5px,#ff8000 130.7px,#ff9900 145.4px,#ffb200 158.9px,#ffcc00 171.6px,#ffe500 183.6px,#ffff00 195.2px,#e6ff19 206.5px,#ccff33 217.5px,#b3ff4c 228.3px,#99ff66 239px,#80ff80 249.6px,#66ff99 260.3px,#4dffb2 270.9px,#33ffcc 281.7px,#1affe5 292.7px,#00ffff 303.9px,#00e6ff 315.5px,#00ccff 327.5px,#00b3ff 340.1px,#0099ff 353.5px,#0080ff 368.1px,#0066ff 384px,#004dff 402px,#0033ff 422.5px,#001aff 446.8px,#0000ff 476.2px,#0000e6 513.5px,#0000dd 528px)"></i><i style="top:150px;height:5px;background:linear-gradient(90deg,#ee0000 0px,#ff0000 24.5px,#ff1900 54.7px,#ff3300 79.1px,#ff4c00 99.7px,#ff6600 117.5px,#ff8000 133.3px,#ff9900 147.6px,#ffb200 160.8px,#ffcc00 173.2px,#ffe500 185px,#ffff00 196.3px,#e6ff19 207.3px,#ccff33 218.1px,#b3ff4c 228.7px,#99ff66 239.2px,#80ff80 249.6px,#66ff99 260.1px,#4dffb2 270.6px,#33ffcc 281.1px,#1affe5 291.9px,#00ffff 302.9px,#00e6ff 314.2px,#00ccff 325.9px,#00b3ff 338.3px,#0099ff 351.4px,#0080ff 365.6px,#0066ff 381.2px,#004dff 398.7px,#0033ff 418.9px,#001aff 442.7px,#0000ff 471.7px,#0000e6 508.6px,#0000da 528px)"></i><i style="top:154px;height:5px;background:linear-gradient(90deg,#eb0000 0px,#ff0000 29.4px,#ff1900 59px,#ff3300 83px,#ff4c00 103.1px,#ff6600 120.5px,#ff8000 135.8px,#ff9900 149.8px,#ffb200 162.7px,#ffcc00 174.8px,#ffe500 186.3px,#ffff00 197.4px,#e6ff19 208.2px,#ccff33 218.7px,#b3ff4c 229.1px,#99ff66 239.4px,#80ff80 249.6px,#66ff99 259.9px,#4dffb2 270.2px,#33ffcc 280.5px,#1affe5 291.1px,#00ffff 301.8px,#00e6ff 312.9px,#00ccff 324.4px,#00b3ff 336.4px,#0099ff 349.2px,#0080ff 363.1px,#0066ff 378.3px,#004dff 395.4px,#0033ff 415.1px,#001aff 438.5px,#0000ff 467px,#0000e6 503.4px,#0000d8 528px)"></i><i style="top:158px;height:5px;background:linear-gradient(90deg,#e70000 0px,#ff0000 34.5px,#ff1900 63.5px,#ff3300 87px,#ff4c00 106.6px,#ff6600 123.5px,#ff8000 138.5px,#ff9900 152.1px,#ffb200 164.6px,#ffcc00 176.4px,#ffe500 187.7px,#ffff00 198.5px,#e6ff19 209px,#ccff33 219.4px,#b3ff4c 229.5px,#99ff66 239.6px,#80ff80 249.7px,#66ff99 259.7px,#4dffb2 269.8px,#33ffcc 279.9px,#1affe5 290.2px,#00ffff 300.8px,#00e6ff 311.6px,#00ccff 322.8px,#00b3ff 334.5px,#0099ff 347px,#0080ff 360.5px,#0066ff 375.3px,#004dff 392px,#0033ff 411.3px,#001aff 434.1px,#0000ff 462.2px,#0000e6 498.1px,#0000d5 528px)"></i><i style="top:162px;height:5px;background:linear-gradient(90deg,#e40000 0px,#e50000 2.6px,#ff0000 39.8px,#ff1900 68.2px,#ff3300 91px,#ff4c00 110.1px,#ff6600 126.6px,#ff8000 141.1px,#ff9900 154.4px,#ffb200 166.6px,#ffcc00 178.1px,#ffe500 189px,#ffff00 199.6px,#e6ff19 209.9px,#ccff33 220px,#b3ff4c 230px,#99ff66 239.8px,#80ff80 249.7px,#66ff99 259.5px,#4dffb2 269.4px,#33ffcc 279.3px,#1affe5 289.4px,#00ffff 299.7px,#00e6ff 310.2px,#00ccff 321.2px,#00b3ff 332.6px,#0099ff 344.8px,#0080ff 357.9px,#0066ff 372.3px,#004dff 388.6px,#0033ff 407.3px,#001aff 429.7px,#0000ff 457.2px,#0000e6 492.5px,#0000d2 528px)"></i><i style="top:166px;height:5px;background:linear-gradient(90deg,#e00000 0px,#e50000 8.8px,#ff0000 45.2px,#ff1900 73px,#ff3300 95.2px,#ff4c00 113.7px,#ff6600 129.7px,#ff8000 143.9px,#ff9900 156.7px,#ffb200 168.5px,#ffcc00 179.7px,#ffe500 190.4px,#ffff00 200.7px,#e6ff19 210.8px,#ccff33 220.6px,#b3ff4c 230.4px,#99ff66 240px,#80ff80 249.7px,#66ff99 259.3px,#4dffb2 269px,#33ffcc 278.7px,#1affe5 288.6px,#00ffff 298.6px,#00e6ff 308.9px,#00ccff 319.6px,#00b3ff 330.7px,#0099ff 342.5px,#0080ff 355.2px,#0066ff 369.3px,#004dff 385px,#0033ff 403.3px,#001aff 425.1px,#0000ff 452px,#0000e6 486.7px,#0000cf 528px)"></i><i style="top:170px;height:5px;background:linear-gradient(90deg,#dd0000 0px,#e50000 15.2px,#ff0000 50.8px,#ff1900 77.8px,#ff3300 99.5px,#ff4c00 117.4px,#ff6600 132.9px,#ff8000 146.6px,#ff9900 159px,#ffb200 170.5px,#ffcc00 181.4px,#ffe500 191.7px,#ffff00 201.8px,#e6ff19 211.6px,#ccff33 221.3px,#b3ff4c 230.8px,#99ff66 240.3px,#80ff80 249.7px,#66ff99 259.1px,#4dffb2 268.6px,#33ffcc 278.1px,#1affe5 287.8px,#00ffff 297.6px,#00e6ff 307.6px,#00ccff 318px,#00b3ff 328.8px,#0099ff 340.2px,#0080ff 352.6px,#0066ff 366.2px,#004dff 381.4px,#0033ff 399.2px,#001aff 420.3px,#0000ff 446.6px,#0000e6 480.7px,#0000cc 527.5px)"></i><i style="top:174px;height:5px;background:linear-gradient(90deg,#d90000 0px,#e50000 21.8px,#ff0000 56.6px,#ff1900 82.8px,#ff3300 103.8px,#ff4c00 121.2px,#ff6600 136.1px,#ff8000 149.3px,#ff9900 161.3px,#ffb200 172.5px,#ffcc00 183px,#ffe500 193.1px,#ffff00 202.9px,#e6ff19 212.5px,#ccff33 221.9px,#b3ff4c 231.2px,#99ff66 240.5px,#80ff80 249.7px,#66ff99 258.9px,#4dffb2 268.2px,#33ffcc 277.5px,#1affe5 286.9px,#00ffff 296.5px,#00e6ff 306.3px,#00ccff 316.4px,#00b3ff 326.9px,#0099ff 338px,#0080ff 349.9px,#0066ff 363px,#004dff 377.8px,#0033ff 394.9px,#001aff 415.5px,#0000ff 441.1px,#0000e6 474.4px,#0000cc 520.5px,#0000c9 528px)"></i><i style="top:178px;height:5px;background:linear-gradient(90deg,#d50000 0px,#e50000 28.7px,#ff0000 62.5px,#ff1900 88px,#ff3300 108.2px,#ff4c00 124.9px,#ff6600 139.3px,#ff8000 152.1px,#ff9900 163.6px,#ffb200 174.4px,#ffcc00 184.6px,#ffe500 194.4px,#ffff00 204px,#e6ff19 213.3px,#ccff33 222.5px,#b3ff4c 231.6px,#99ff66 240.7px,#80ff80 249.7px,#66ff99 258.8px,#4dffb2 267.8px,#33ffcc 276.9px,#1affe5 286.1px,#00ffff 295.5px,#00e6ff 305px,#00ccff 314.8px,#00b3ff 324.9px,#0099ff 335.7px,#0080ff 347.2px,#0066ff 359.9px,#004dff 374.1px,#0033ff 390.6px,#001aff 410.5px,#0000ff 435.4px,#0000e6 467.9px,#0000cc 513.2px,#0000c5 528px)"></i><i style="top:182px;height:5px;background:linear-gradient(90deg,#d10000 0px,#e50000 35.8px,#ff0000 68.6px,#ff1900 93.2px,#ff3300 112.7px,#ff4c00 128.8px,#ff6600 142.6px,#ff8000 154.8px,#ff9900 166px,#ffb200 176.4px,#ffcc00 186.3px,#ffe500 195.8px,#ffff00 205px,#e6ff19 214.1px,#ccff33 223.1px,#b3ff4c 232px,#99ff66 240.9px,#80ff80 249.7px,#66ff99 258.6px,#4dffb2 267.4px,#33ffcc 276.3px,#1affe5 285.3px,#00ffff 294.4px,#00e6ff 303.7px,#00ccff 313.2px,#00b3ff 323px,#0099ff 333.4px,#0080ff 344.5px,#0066ff 356.7px,#004dff 370.4px,#0033ff 386.3px,#001aff 405.4px,#0000ff 429.5px,#0000e6 461.1px,#0000cc 505.5px,#0000c2 528px)"></i><i style="top:186px;height:5px;background:linear-gradient(90deg,#cd0000 0px,#e50000 43.1px,#ff0000 74.8px,#ff1900 98.5px,#ff3300 117.2px,#ff4c00 132.6px,#ff6600 145.8px,#ff8000 157.6px,#ff9900 168.3px,#ffb200 178.3px,#ffcc00 187.9px,#ffe500 197.1px,#ffff00 206.1px,#e6ff19 215px,#ccff33 223.7px,#b3ff4c 232.4px,#99ff66 241.1px,#80ff80 249.7px,#66ff99 258.4px,#4dffb2 267.1px,#33ffcc 275.8px,#1affe5 284.5px,#00ffff 293.4px,#00e6ff 302.4px,#00ccff 311.6px,#00b3ff 321.1px,#0099ff 331.1px,#0080ff 341.8px,#0066ff 353.5px,#004dff 366.6px,#0033ff 381.8px,#001aff 400.2px,#0000ff 423.4px,#0000e6 454.1px,#0000cc 497.5px,#0000bf 528px)"></i><i style="top:190px;height:5px;background:linear-gradient(90deg,#c90000 0px,#cc0000 6.4px,#e50000 50.7px,#ff0000 81.3px,#ff1900 103.9px,#ff3300 121.8px,#ff4c00 136.4px,#ff6600 149.1px,#ff8000 160.3px,#ff9900 170.6px,#ffb200 180.2px,#ffcc00 189.4px,#ffe500 198.4px,#ffff00 207.1px,#e6ff19 215.8px,#ccff33 224.3px,#b3ff4c 232.8px,#99ff66 241.3px,#80ff80 249.8px,#66ff99 258.2px,#4dffb2 266.7px,#33ffcc 275.2px,#1affe5 283.8px,#00ffff 292.4px,#00e6ff 301.1px,#00ccff 310.1px,#00b3ff 319.3px,#0099ff 328.9px,#0080ff 339.1px,#0066ff 350.3px,#004dff 362.8px,#0033ff 377.4px,#001aff 394.9px,#0000ff 417.2px,#0000e6 446.9px,#0000cc 489.1px,#0000bb 528px)"></i><i style="top:194px;height:5px;background:linear-gradient(90deg,#c50000 0px,#cc0000 15.7px,#e50000 58.5px,#ff0000 87.8px,#ff1900 109.4px,#ff3300 126.4px,#ff4c00 140.3px,#ff6600 152.3px,#ff8000 163px,#ff9900 172.8px,#ffb200 182.1px,#ffcc00 191px,#ffe500 199.6px,#ffff00 208.1px,#e6ff19 216.5px,#ccff33 224.9px,#b3ff4c 233.2px,#99ff66 241.5px,#80ff80 249.8px,#66ff99 258px,#4dffb2 266.3px,#33ffcc 274.7px,#1affe5 283px,#00ffff 291.4px,#00e6ff 299.9px,#00ccff 308.5px,#00b3ff 317.4px,#0099ff 326.7px,#0080ff 336.5px,#0066ff 347.1px,#004dff 359px,#0033ff 372.9px,#001aff 389.6px,#0000ff 410.8px,#0000e6 439.4px,#0000cc 480.3px,#0000b8 528px)"></i><i style="top:198px;height:4px;background:linear-gradient(90deg,#c10000 0px,#cc0000 24.2px,#e50000 65.5px,#ff0000 93.6px,#ff1900 114.3px,#ff3300 130.4px,#ff4c00 143.7px,#ff6600 155.1px,#ff8000 165.3px,#ff9900 174.8px,#ffb200 183.7px,#ffcc00 192.3px,#ffe500 200.7px,#ffff00 209px,#e6ff19 217.2px,#ccff33 225.4px,#b3ff4c 233.5px,#99ff66 241.6px,#80ff80 249.8px,#66ff99 257.9px,#4dffb2 266px,#33ffcc 274.2px,#1affe5 282.4px,#00ffff 290.6px,#00e6ff 298.8px,#00ccff 307.2px,#00b3ff 315.8px,#0099ff 324.8px,#0080ff 334.2px,#0066ff 344.4px,#004dff 355.7px,#0033ff 368.9px,#001aff 384.8px,#0000ff 405.1px,#0000e6 432.6px,#0000cc 472.3px,#0000b5 528px)"></i><i style="top:201px;height:4px;background:linear-gradient(90deg,#be0000 0px,#cc0000 31.7px,#e50000 71.7px,#ff0000 98.7px,#ff1900 118.5px,#ff3300 133.9px,#ff4c00 146.5px,#ff6600 157.5px,#ff8000 167.3px,#ff9900 176.4px,#ffb200 185px,#ffcc00 193.4px,#ffe500 201.6px,#ffff00 209.7px,#e6ff19 217.7px,#ccff33 225.8px,#b3ff4c 233.8px,#99ff66 241.8px,#80ff80 249.8px,#66ff99 257.8px,#4dffb2 265.8px,#33ffcc 273.8px,#1affe5 281.8px,#00ffff 289.9px,#00e6ff 298px,#00ccff 306.2px,#00b3ff 314.5px,#0099ff 323.2px,#0080ff 332.3px,#0066ff 342.1px,#004dff 352.9px,#0033ff 365.5px,#001aff 380.7px,#0000ff 400.2px,#0000e6 426.6px,#0000cc 465.2px,#0000b2 527.5px)"></i><i style="top:204px;height:4px;background:linear-gradient(90deg,#bb0000 0px,#cc0000 39.4px,#e50000 78px,#ff0000 103.8px,#ff1900 122.6px,#ff3300 137.3px,#ff4c00 149.3px,#ff6600 159.8px,#ff8000 169.2px,#ff9900 178px,#ffb200 186.4px,#ffcc00 194.5px,#ffe500 202.5px,#ffff00 210.4px,#e6ff19 218.3px,#ccff33 226.2px,#b3ff4c 234px,#99ff66 241.9px,#80ff80 249.8px,#66ff99 257.7px,#4dffb2 265.5px,#33ffcc 273.4px,#1affe5 281.3px,#00ffff 289.2px,#00e6ff 297.1px,#00ccff 305.1px,#00b3ff 313.2px,#0099ff 321.6px,#0080ff 330.4px,#0066ff 339.8px,#004dff 350.2px,#0033ff 362.1px,#001aff 376.6px,#0000ff 395.2px,#0000e6 420.6px,#0000cc 457.9px,#0000b2 518.7px,#0000b0 528px)"></i><i style="top:207px;height:4px;background:linear-gradient(90deg,#b80000 0px,#cc0000 47.3px,#e50000 84.3px,#ff0000 109px,#ff1900 126.8px,#ff3300 140.7px,#ff4c00 152.1px,#ff6600 162.1px,#ff8000 171.1px,#ff9900 179.5px,#ffb200 187.6px,#ffcc00 195.5px,#ffe500 203.3px,#ffff00 211.1px,#e6ff19 218.8px,#ccff33 226.5px,#b3ff4c 234.3px,#99ff66 242px,#80ff80 249.8px,#66ff99 257.6px,#4dffb2 265.3px,#33ffcc 273.1px,#1affe5 280.8px,#00ffff 288.5px,#00e6ff 296.3px,#00ccff 304.1px,#00b3ff 312px,#0099ff 320.1px,#0080ff 328.5px,#0066ff 337.5px,#004dff 347.4px,#0033ff 358.8px,#001aff 372.5px,#0000ff 390.1px,#0000e6 414.3px,#0000cc 450.3px,#0000b2 509.6px,#0000ad 528px)"></i><i style="top:210px;height:4px;background:linear-gradient(90deg,#b40000 0px,#cc0000 55.4px,#e50000 90.8px,#ff0000 114.2px,#ff1900 131px,#ff3300 144.1px,#ff4c00 154.9px,#ff6600 164.3px,#ff8000 172.9px,#ff9900 181px,#ffb200 188.9px,#ffcc00 196.5px,#ffe500 204.1px,#ffff00 211.7px,#e6ff19 219.3px,#ccff33 226.9px,#b3ff4c 234.5px,#99ff66 242.2px,#80ff80 249.8px,#66ff99 257.4px,#4dffb2 265.1px,#33ffcc 272.7px,#1affe5 280.3px,#00ffff 287.9px,#00e6ff 295.5px,#00ccff 303.1px,#00b3ff 310.8px,#0099ff 318.6px,#0080ff 326.7px,#0066ff 335.3px,#004dff 344.7px,#0033ff 355.5px,#001aff 368.4px,#0000ff 385px,#0000e6 408px,#0000cc 442.5px,#0000b2 500.1px,#0000aa 528px)"></i><i style="top:213px;height:4px;background:linear-gradient(90deg,#b10000 0px,#b20000 5.3px,#cc0000 63.7px,#e50000 97.4px,#ff0000 119.4px,#ff1900 135.1px,#ff3300 147.4px,#ff4c00 157.6px,#ff6600 166.5px,#ff8000 174.7px,#ff9900 182.5px,#ffb200 190.1px,#ffcc00 197.5px,#ffe500 204.9px,#ffff00 212.3px,#e6ff19 219.8px,#ccff33 227.2px,#b3ff4c 234.7px,#99ff66 242.3px,#80ff80 249.8px,#66ff99 257.3px,#4dffb2 264.9px,#33ffcc 272.4px,#1affe5 279.8px,#00ffff 287.3px,#00e6ff 294.7px,#00ccff 302.1px,#00b3ff 309.6px,#0099ff 317.2px,#0080ff 324.9px,#0066ff 333.1px,#004dff 342.1px,#0033ff 352.2px,#001aff 364.3px,#0000ff 379.9px,#0000e6 401.6px,#0000cc 434.5px,#0000b2 490.1px,#0000a8 528px)"></i><i style="top:216px;height:4px;background:linear-gradient(90deg,#ad0000 0px,#b20000 16.5px,#cc0000 72.3px,#e50000 104px,#ff0000 124.5px,#ff1900 139.2px,#ff3300 150.6px,#ff4c00 160.2px,#ff6600 168.6px,#ff8000 176.4px,#ff9900 183.9px,#ffb200 191.2px,#ffcc00 198.4px,#ffe500 205.7px,#ffff00 212.9px,#e6ff19 220.2px,#ccff33 227.6px,#b3ff4c 235px,#99ff66 242.4px,#80ff80 249.8px,#66ff99 257.2px,#4dffb2 264.7px,#33ffcc 272.1px,#1affe5 279.4px,#00ffff 286.7px,#00e6ff 294px,#00ccff 301.2px,#00b3ff 308.5px,#0099ff 315.8px,#0080ff 323.3px,#0066ff 331.1px,#004dff 339.5px,#0033ff 349px,#001aff 360.3px,#0000ff 374.9px,#0000e6 395.1px,#0000cc 426.2px,#0000b2 479.7px,#0000a5 528px)"></i><i style="top:219px;height:4px;background:linear-gradient(90deg,#aa0000 0px,#b20000 28.1px,#cc0000 81px,#e50000 110.6px,#ff0000 129.7px,#ff1900 143.2px,#ff3300 153.8px,#ff4c00 162.7px,#ff6600 170.6px,#ff8000 178.1px,#ff9900 185.2px,#ffb200 192.3px,#ffcc00 199.3px,#ffe500 206.4px,#ffff00 213.5px,#e6ff19 220.7px,#ccff33 227.9px,#b3ff4c 235.2px,#99ff66 242.5px,#80ff80 249.8px,#66ff99 257.1px,#4dffb2 264.5px,#33ffcc 271.8px,#1affe5 279px,#00ffff 286.2px,#00e6ff 293.3px,#00ccff 300.4px,#00b3ff 307.4px,#0099ff 314.5px,#0080ff 321.6px,#0066ff 329.1px,#004dff 337px,#0033ff 345.9px,#001aff 356.4px,#0000ff 369.8px,#0000e6 388.6px,#0000cc 417.7px,#0000b2 468.8px,#0000a2 528px)"></i><i style="top:222px;height:4px;background:linear-gradient(90deg,#a70000 0px,#b20000 40px,#cc0000 89.8px,#e50000 117.3px,#ff0000 134.7px,#ff1900 147.1px,#ff3300 156.8px,#ff4c00 165.1px,#ff6600 172.6px,#ff8000 179.6px,#ff9900 186.5px,#ffb200 193.3px,#ffcc00 200.2px,#ffe500 207px,#ffff00 214px,#e6ff19 221.1px,#ccff33 228.2px,#b3ff4c 235.4px,#99ff66 242.6px,#80ff80 249.8px,#66ff99 257.1px,#4dffb2 264.3px,#33ffcc 271.5px,#1affe5 278.6px,#00ffff 285.7px,#00e6ff 292.6px,#00ccff 299.5px,#00b3ff 306.4px,#0099ff 313.2px,#0080ff 320.1px,#0066ff 327.2px,#004dff 334.6px,#0033ff 342.9px,#001aff 352.5px,#0000ff 364.8px,#0000e6 382.1px,#0000cc 409.1px,#0000b2 457.4px,#00009f 528px)"></i><i style="top:225px;height:4px;background:linear-gradient(90deg,#a30000 0px,#b20000 52.5px,#cc0000 98.8px,#e50000 123.9px,#ff0000 139.7px,#ff1900 150.9px,#ff3300 159.8px,#ff4c00 167.4px,#ff6600 174.4px,#ff8000 181.1px,#ff9900 187.7px,#ffb200 194.3px,#ffcc00 200.9px,#ffe500 207.7px,#ffff00 214.5px,#e6ff19 221.4px,#ccff33 228.5px,#b3ff4c 235.5px,#99ff66 242.7px,#80ff80 249.8px,#66ff99 257px,#4dffb2 264.1px,#33ffcc 271.2px,#1affe5 278.2px,#00ffff 285.2px,#00e6ff 292px,#00ccff 298.8px,#00b3ff 305.4px,#0099ff 312px,#0080ff 318.6px,#0066ff 325.4px,#004dff 332.4px,#0033ff 340px,#001aff 348.8px,#0000ff 359.9px,#0000e6 375.6px,#0000cc 400.3px,#0000b2 445.4px,#00009c 528px)"></i><i style="top:228px;height:4px;background:linear-gradient(90deg,#a00000 0px,#b20000 65.3px,#cc0000 107.9px,#e50000 130.4px,#ff0000 144.4px,#ff1900 154.5px,#ff3300 162.5px,#ff4c00 169.5px,#ff6600 176.1px,#ff8000 182.5px,#ff9900 188.8px,#ffb200 195.2px,#ffcc00 201.6px,#ffe500 208.2px,#ffff00 215px,#e6ff19 221.8px,#ccff33 228.7px,#b3ff4c 235.7px,#99ff66 242.7px,#80ff80 249.8px,#66ff99 256.9px,#4dffb2 264px,#33ffcc 271px,#1affe5 277.9px,#00ffff 284.7px,#00e6ff 291.5px,#00ccff 298.1px,#00b3ff 304.6px,#0099ff 311px,#0080ff 317.3px,#0066ff 323.7px,#004dff 330.2px,#0033ff 337.3px,#001aff 345.3px,#0000ff 355.3px,#0000e6 369.2px,#0000cc 391.4px,#0000b2 433px,#00009a 528px)"></i><i style="top:231px;height:4px;background:linear-gradient(90deg,#9c0000 0px,#b20000 78.6px,#cc0000 116.9px,#e50000 136.7px,#ff0000 149px,#ff1900 157.9px,#ff3300 165.1px,#ff4c00 171.5px,#ff6600 177.7px,#ff8000 183.7px,#ff9900 189.8px,#ffb200 196px,#ffcc00 202.3px,#ffe500 208.8px,#ffff00 215.4px,#e6ff19 222.1px,#ccff33 228.9px,#b3ff4c 235.8px,#99ff66 242.8px,#80ff80 249.8px,#66ff99 256.8px,#4dffb2 263.8px,#33ffcc 270.7px,#1affe5 277.6px,#00ffff 284.3px,#00e6ff 290.9px,#00ccff 297.4px,#00b3ff 303.8px,#0099ff 310px,#0080ff 316.1px,#0066ff 322.1px,#004dff 328.3px,#0033ff 334.7px,#001aff 341.9px,#0000ff 350.7px,#0000e6 362.9px,#0000cc 382.5px,#0000b2 420.1px,#000099 512.7px,#000097 528px)"></i><i style="top:234px;height:4px;background:linear-gradient(90deg,#990000 0px,#990000 2.6px,#b20000 92.2px,#cc0000 125.8px,#e50000 142.8px,#ff0000 153.3px,#ff1900 161px,#ff3300 167.5px,#ff4c00 173.4px,#ff6600 179.1px,#ff8000 184.8px,#ff9900 190.7px,#ffb200 196.7px,#ffcc00 202.9px,#ffe500 209.2px,#ffff00 215.7px,#e6ff19 222.4px,#ccff33 229.1px,#b3ff4c 236px,#99ff66 242.9px,#80ff80 249.8px,#66ff99 256.8px,#4dffb2 263.7px,#33ffcc 270.5px,#1affe5 277.3px,#00ffff 284px,#00e6ff 290.5px,#00ccff 296.9px,#00b3ff 303px,#0099ff 309.1px,#0080ff 314.9px,#0066ff 320.7px,#004dff 326.5px,#0033ff 332.4px,#001aff 338.8px,#0000ff 346.5px,#0000e6 356.9px,#0000cc 373.7px,#0000b2 406.9px,#000099 492.7px,#000094 528px)"></i><i style="top:237px;height:4px;background:linear-gradient(90deg,#950000 0px,#990000 25.9px,#b20000 105.9px,#cc0000 134.4px,#e50000 148.5px,#ff0000 157.2px,#ff1900 163.9px,#ff3300 169.6px,#ff4c00 175px,#ff6600 180.4px,#ff8000 185.8px,#ff9900 191.5px,#ffb200 197.4px,#ffcc00 203.4px,#ffe500 209.6px,#ffff00 216.1px,#e6ff19 222.6px,#ccff33 229.3px,#b3ff4c 236.1px,#99ff66 243px,#80ff80 249.8px,#66ff99 256.7px,#4dffb2 263.6px,#33ffcc 270.4px,#1affe5 277.1px,#00ffff 283.7px,#00e6ff 290.1px,#00ccff 296.3px,#00b3ff 302.4px,#0099ff 308.3px,#0080ff 314px,#0066ff 319.5px,#004dff 324.8px,#0033ff 330.3px,#001aff 336px,#0000ff 342.6px,#0000e6 351.3px,#0000cc 365.3px,#0000b2 393.4px,#000099 470.9px,#000091 528px)"></i><i style="top:240px;height:4px;background:linear-gradient(90deg,#910000 0px,#990000 50.7px,#b20000 119.6px,#cc0000 142.5px,#e50000 153.7px,#ff0000 160.8px,#ff1900 166.4px,#ff3300 171.4px,#ff4c00 176.4px,#ff6600 181.5px,#ff8000 186.7px,#ff9900 192.2px,#ffb200 197.9px,#ffcc00 203.8px,#ffe500 210px,#ffff00 216.3px,#e6ff19 222.8px,#ccff33 229.5px,#b3ff4c 236.2px,#99ff66 243px,#80ff80 249.8px,#66ff99 256.7px,#4dffb2 263.5px,#33ffcc 270.2px,#1affe5 276.9px,#00ffff 283.4px,#00e6ff 289.7px,#00ccff 295.9px,#00b3ff 301.9px,#0099ff 307.6px,#0080ff 313.1px,#0066ff 318.4px,#004dff 323.4px,#0033ff 328.4px,#001aff 333.5px,#0000ff 339.1px,#0000e6 346.2px,#0000cc 357.2px,#0000b2 379.9px,#000099 447.2px,#00008e 528px)"></i><i style="top:243px;height:4px;background:linear-gradient(90deg,#8e0000 0px,#990000 77.1px,#b20000 132.8px,#cc0000 149.9px,#e50000 158.2px,#ff0000 163.8px,#ff1900 168.5px,#ff3300 173px,#ff4c00 177.6px,#ff6600 182.4px,#ff8000 187.4px,#ff9900 192.8px,#ffb200 198.4px,#ffcc00 204.2px,#ffe500 210.3px,#ffff00 216.6px,#e6ff19 223px,#ccff33 229.6px,#b3ff4c 236.3px,#99ff66 243px,#80ff80 249.8px,#66ff99 256.6px,#4dffb2 263.4px,#33ffcc 270.1px,#1affe5 276.7px,#00ffff 283.2px,#00e6ff 289.5px,#00ccff 295.5px,#00b3ff 301.4px,#0099ff 307px,#0080ff 312.4px,#0066ff 317.5px,#004dff 322.3px,#0033ff 326.9px,#001aff 331.4px,#0000ff 336.1px,#0000e6 341.7px,#0000cc 349.9px,#0000b2 366.9px,#000099 421.6px,#00008b 528px)"></i><i style="top:246px;height:4px;background:linear-gradient(90deg,#8a0000 0px,#990000 104.7px,#b20000 144.8px,#cc0000 156.2px,#e50000 162px,#ff0000 166.2px,#ff1900 170.2px,#ff3300 174.2px,#ff4c00 178.5px,#ff6600 183.1px,#ff8000 188px,#ff9900 193.2px,#ffb200 198.7px,#ffcc00 204.5px,#ffe500 210.5px,#ffff00 216.7px,#e6ff19 223.1px,#ccff33 229.7px,#b3ff4c 236.3px,#99ff66 243.1px,#80ff80 249.8px,#66ff99 256.6px,#4dffb2 263.3px,#33ffcc 270px,#1affe5 276.6px,#00ffff 283px,#00e6ff 289.2px,#00ccff 295.3px,#00b3ff 301.1px,#0099ff 306.6px,#0080ff 311.8px,#0066ff 316.7px,#004dff 321.3px,#0033ff 325.6px,#001aff 329.7px,#0000ff 333.7px,#0000e6 337.9px,#0000cc 343.7px,#0000b2 355.1px,#000099 394.6px,#000088 528px)"></i><i style="top:249px;height:4px;background:linear-gradient(90deg,#870000 0px,#990000 131.8px,#b20000 154.7px,#cc0000 161.1px,#e50000 164.8px,#ff0000 168px,#ff1900 171.4px,#ff3300 175.2px,#ff4c00 179.2px,#ff6600 183.6px,#ff8000 188.4px,#ff9900 193.5px,#ffb200 199px,#ffcc00 204.7px,#ffe500 210.7px,#ffff00 216.9px,#e6ff19 223.2px,#ccff33 229.8px,#b3ff4c 236.4px,#99ff66 243.1px,#80ff80 249.8px,#66ff99 256.6px,#4dffb2 263.3px,#33ffcc 269.9px,#1affe5 276.5px,#00ffff 282.9px,#00e6ff 289.1px,#00ccff 295.1px,#00b3ff 300.8px,#0099ff 306.3px,#0080ff 311.4px,#0066ff 316.2px,#004dff 320.7px,#0033ff 324.7px,#001aff 328.5px,#0000ff 331.9px,#0000e6 335.2px,#0000cc 338.9px,#0000b2 345.2px,#000099 367.9px,#000085 528px)"></i><i style="top:252px;height:4px;background:linear-gradient(90deg,#830000 0px,#990000 153.9px,#b20000 161.6px,#cc0000 164.1px,#e50000 166.5px,#ff0000 169.2px,#ff1900 172.2px,#ff3300 175.7px,#ff4c00 179.6px,#ff6600 183.9px,#ff8000 188.7px,#ff9900 193.7px,#ffb200 199.1px,#ffcc00 204.8px,#ffe500 210.8px,#ffff00 216.9px,#e6ff19 223.3px,#ccff33 229.8px,#b3ff4c 236.4px,#99ff66 243.1px,#80ff80 249.8px,#66ff99 256.6px,#4dffb2 263.3px,#33ffcc 269.9px,#1affe5 276.4px,#00ffff 282.8px,#00e6ff 289px,#00ccff 294.9px,#00b3ff 300.6px,#0099ff 306.1px,#0080ff 311.2px,#0066ff 315.9px,#004dff 320.3px,#0033ff 324.2px,#001aff 327.7px,#0000ff 330.8px,#0000e6 333.5px,#0000cc 335.9px,#0000b2 338.4px,#000099 346px,#000082 528px)"></i><i style="top:255px;height:2px;background:linear-gradient(90deg,#800000 0px,#990000 162.4px,#b20000 163.6px,#cc0000 165.1px,#e50000 167.1px,#ff0000 169.5px,#ff1900 172.5px,#ff3300 175.9px,#ff4c00 179.7px,#ff6600 184px,#ff8000 188.7px,#ff9900 193.8px,#ffb200 199.2px,#ffcc00 204.9px,#ffe500 210.8px,#ffff00 217px,#e6ff19 223.3px,#ccff33 229.8px,#b3ff4c 236.4px,#99ff66 243.1px,#80ff80 249.8px,#66ff99 256.6px,#4dffb2 263.3px,#33ffcc 269.9px,#1affe5 276.4px,#00ffff 282.8px,#00e6ff 288.9px,#00ccff 294.9px,#00b3ff 300.6px,#0099ff 306px,#0080ff 311.1px,#0066ff 315.8px,#004dff 320.1px,#0033ff 324px,#001aff 327.5px,#0000ff 330.4px,#0000e6 332.9px,#0000cc 334.9px,#0000b2 336.4px,#000099 337.6px,#000080 528px)"></i></div>
<div class="fp" style="left:652.9px;top:733.8px;width:863.3px;height:252.9px"><i style="top:0px;height:7px;background:linear-gradient(90deg,#e50000 0px,#e50000 3.5px,#ff0000 67.5px,#ff1900 104.6px,#ff3300 134.7px,#ff4c00 161.5px,#ff6600 186.2px,#ff8000 209.8px,#ff9900 232.7px,#ffb200 255.1px,#ffcc00 277.1px,#ffe500 298.9px,#ffff00 320.5px,#e6ff19 342.1px,#ccff33 363.6px,#b3ff4c 385px,#99ff66 406.4px,#80ff80 427.8px,#66ff99 449.2px,#4dffb2 470.6px,#33ffcc 492px,#1affe5 513.5px,#00ffff 535.1px,#00e6ff 556.7px,#00ccff 578.5px,#00b3ff 600.5px,#0099ff 622.8px,#0080ff 645.5px,#0066ff 669px,#004dff 693.6px,#0033ff 719.9px,#001aff 749.3px,#0000ff 784.7px,#0000e6 837.7px,#0000df 863.3px)"></i><i style="top:6px;height:7px;background:linear-gradient(90deg,#e50000 0px,#e50000 4px,#ff0000 67.7px,#ff1900 104.8px,#ff3300 134.8px,#ff4c00 161.5px,#ff6600 186.3px,#ff8000 209.9px,#ff9900 232.7px,#ffb200 255.1px,#ffcc00 277.1px,#ffe500 298.9px,#ffff00 320.5px,#e6ff19 342.1px,#ccff33 363.6px,#b3ff4c 385px,#99ff66 406.4px,#80ff80 427.8px,#66ff99 449.2px,#4dffb2 470.6px,#33ffcc 492px,#1affe5 513.5px,#00ffff 535.1px,#00e6ff 556.7px,#00ccff 578.5px,#00b3ff 600.4px,#0099ff 622.7px,#0080ff 645.5px,#0066ff 669px,#004dff 693.5px,#0033ff 719.8px,#001aff 749.2px,#0000ff 784.5px,#0000e6 837.3px,#0000df 863.3px)"></i><i style="top:12px;height:7px;background:linear-gradient(90deg,#e40000 0px,#e50000 5.1px,#ff0000 68px,#ff1900 105px,#ff3300 135px,#ff4c00 161.6px,#ff6600 186.3px,#ff8000 209.9px,#ff9900 232.8px,#ffb200 255.1px,#ffcc00 277.1px,#ffe500 298.9px,#ffff00 320.6px,#e6ff19 342.1px,#ccff33 363.6px,#b3ff4c 385px,#99ff66 406.4px,#80ff80 427.8px,#66ff99 449.2px,#4dffb2 470.6px,#33ffcc 492px,#1affe5 513.5px,#00ffff 535px,#00e6ff 556.7px,#00ccff 578.4px,#00b3ff 600.4px,#0099ff 622.7px,#0080ff 645.5px,#0066ff 668.9px,#004dff 693.4px,#0033ff 719.7px,#001aff 749px,#0000ff 784.2px,#0000e6 836.7px,#0000df 863.3px)"></i><i style="top:18px;height:7px;background:linear-gradient(90deg,#e40000 0px,#e50000 6.6px,#ff0000 68.6px,#ff1900 105.3px,#ff3300 135.2px,#ff4c00 161.8px,#ff6600 186.5px,#ff8000 210px,#ff9900 232.8px,#ffb200 255.1px,#ffcc00 277.1px,#ffe500 298.9px,#ffff00 320.6px,#e6ff19 342.1px,#ccff33 363.6px,#b3ff4c 385px,#99ff66 406.4px,#80ff80 427.8px,#66ff99 449.2px,#4dffb2 470.6px,#33ffcc 492px,#1affe5 513.5px,#00ffff 535px,#00e6ff 556.7px,#00ccff 578.4px,#00b3ff 600.4px,#0099ff 622.7px,#0080ff 645.4px,#0066ff 668.8px,#004dff 693.3px,#0033ff 719.5px,#001aff 748.7px,#0000ff 783.7px,#0000e6 835.7px,#0000de 863.3px)"></i><i style="top:24px;height:7px;background:linear-gradient(90deg,#e40000 0px,#e50000 8.5px,#ff0000 69.3px,#ff1900 105.8px,#ff3300 135.5px,#ff4c00 162px,#ff6600 186.6px,#ff8000 210.1px,#ff9900 232.9px,#ffb200 255.2px,#ffcc00 277.2px,#ffe500 298.9px,#ffff00 320.6px,#e6ff19 342.1px,#ccff33 363.6px,#b3ff4c 385px,#99ff66 406.4px,#80ff80 427.8px,#66ff99 449.2px,#4dffb2 470.6px,#33ffcc 492px,#1affe5 513.5px,#00ffff 535px,#00e6ff 556.6px,#00ccff 578.4px,#00b3ff 600.3px,#0099ff 622.6px,#0080ff 645.3px,#0066ff 668.7px,#004dff 693.1px,#0033ff 719.2px,#001aff 748.3px,#0000ff 783.1px,#0000e6 834.5px,#0000de 863.3px)"></i><i style="top:30px;height:7px;background:linear-gradient(90deg,#e30000 0px,#e50000 10.8px,#ff0000 70.1px,#ff1900 106.3px,#ff3300 135.9px,#ff4c00 162.2px,#ff6600 186.8px,#ff8000 210.2px,#ff9900 233px,#ffb200 255.2px,#ffcc00 277.2px,#ffe500 299px,#ffff00 320.6px,#e6ff19 342.1px,#ccff33 363.6px,#b3ff4c 385px,#99ff66 406.4px,#80ff80 427.8px,#66ff99 449.2px,#4dffb2 470.6px,#33ffcc 492px,#1affe5 513.5px,#00ffff 535px,#00e6ff 556.6px,#00ccff 578.4px,#00b3ff 600.3px,#0099ff 622.5px,#0080ff 645.2px,#0066ff 668.5px,#004dff 692.8px,#0033ff 718.8px,#001aff 747.7px,#0000ff 782.3px,#0000e6 832.9px,#0000dd 863.3px)"></i><i style="top:36px;height:7px;background:linear-gradient(90deg,#e20000 0px,#e50000 13.4px,#ff0000 71.2px,#ff1900 107px,#ff3300 136.3px,#ff4c00 162.5px,#ff6600 187px,#ff8000 210.4px,#ff9900 233.1px,#ffb200 255.3px,#ffcc00 277.3px,#ffe500 299px,#ffff00 320.6px,#e6ff19 342.1px,#ccff33 363.6px,#b3ff4c 385px,#99ff66 406.4px,#80ff80 427.8px,#66ff99 449.2px,#4dffb2 470.6px,#33ffcc 492px,#1affe5 513.5px,#00ffff 535px,#00e6ff 556.6px,#00ccff 578.3px,#00b3ff 600.2px,#0099ff 622.4px,#0080ff 645px,#0066ff 668.3px,#004dff 692.5px,#0033ff 718.4px,#001aff 747.1px,#0000ff 781.4px,#0000e6 831.1px,#0000dd 863.3px)"></i><i style="top:42px;height:7px;background:linear-gradient(90deg,#e20000 0px,#e50000 16.3px,#ff0000 72.4px,#ff1900 107.7px,#ff3300 136.8px,#ff4c00 162.9px,#ff6600 187.2px,#ff8000 210.5px,#ff9900 233.2px,#ffb200 255.4px,#ffcc00 277.3px,#ffe500 299px,#ffff00 320.6px,#e6ff19 342.2px,#ccff33 363.6px,#b3ff4c 385px,#99ff66 406.4px,#80ff80 427.8px,#66ff99 449.2px,#4dffb2 470.6px,#33ffcc 492px,#1affe5 513.5px,#00ffff 535px,#00e6ff 556.5px,#00ccff 578.3px,#00b3ff 600.1px,#0099ff 622.3px,#0080ff 644.9px,#0066ff 668.1px,#004dff 692.2px,#0033ff 717.9px,#001aff 746.4px,#0000ff 780.3px,#0000e6 829px,#0000dc 863.3px)"></i><i style="top:48px;height:7px;background:linear-gradient(90deg,#e10000 0px,#e50000 19.4px,#ff0000 73.7px,#ff1900 108.6px,#ff3300 137.4px,#ff4c00 163.3px,#ff6600 187.5px,#ff8000 210.7px,#ff9900 233.3px,#ffb200 255.5px,#ffcc00 277.4px,#ffe500 299.1px,#ffff00 320.7px,#e6ff19 342.2px,#ccff33 363.6px,#b3ff4c 385px,#99ff66 406.4px,#80ff80 427.8px,#66ff99 449.2px,#4dffb2 470.6px,#33ffcc 492px,#1affe5 513.4px,#00ffff 534.9px,#00e6ff 556.5px,#00ccff 578.2px,#00b3ff 600.1px,#0099ff 622.2px,#0080ff 644.7px,#0066ff 667.8px,#004dff 691.8px,#0033ff 717.4px,#001aff 745.6px,#0000ff 779.1px,#0000e6 826.8px,#0000db 863.3px)"></i><i style="top:54px;height:7px;background:linear-gradient(90deg,#e00000 0px,#e50000 22.7px,#ff0000 75.2px,#ff1900 109.5px,#ff3300 138.1px,#ff4c00 163.8px,#ff6600 187.8px,#ff8000 211px,#ff9900 233.5px,#ffb200 255.6px,#ffcc00 277.5px,#ffe500 299.1px,#ffff00 320.7px,#e6ff19 342.2px,#ccff33 363.6px,#b3ff4c 385.1px,#99ff66 406.4px,#80ff80 427.8px,#66ff99 449.2px,#4dffb2 470.6px,#33ffcc 492px,#1affe5 513.4px,#00ffff 534.9px,#00e6ff 556.5px,#00ccff 578.1px,#00b3ff 600px,#0099ff 622px,#0080ff 644.5px,#0066ff 667.5px,#004dff 691.4px,#0033ff 716.8px,#001aff 744.8px,#0000ff 777.8px,#0000e6 824.3px,#0000da 863.3px)"></i><i style="top:60px;height:7px;background:linear-gradient(90deg,#df0000 0px,#e50000 26.1px,#ff0000 76.8px,#ff1900 110.6px,#ff3300 138.8px,#ff4c00 164.2px,#ff6600 188.2px,#ff8000 211.2px,#ff9900 233.6px,#ffb200 255.7px,#ffcc00 277.5px,#ffe500 299.2px,#ffff00 320.7px,#e6ff19 342.2px,#ccff33 363.7px,#b3ff4c 385.1px,#99ff66 406.4px,#80ff80 427.8px,#66ff99 449.2px,#4dffb2 470.6px,#33ffcc 492px,#1affe5 513.4px,#00ffff 534.9px,#00e6ff 556.4px,#00ccff 578px,#00b3ff 599.8px,#0099ff 621.9px,#0080ff 644.3px,#0066ff 667.2px,#004dff 691px,#0033ff 716.1px,#001aff 743.8px,#0000ff 776.4px,#0000e6 821.7px,#0000d9 863.3px)"></i><i style="top:66px;height:7px;background:linear-gradient(90deg,#dd0000 0px,#e50000 29.6px,#ff0000 78.5px,#ff1900 111.7px,#ff3300 139.5px,#ff4c00 164.8px,#ff6600 188.5px,#ff8000 211.4px,#ff9900 233.8px,#ffb200 255.8px,#ffcc00 277.6px,#ffe500 299.3px,#ffff00 320.8px,#e6ff19 342.3px,#ccff33 363.7px,#b3ff4c 385.1px,#99ff66 406.4px,#80ff80 427.8px,#66ff99 449.2px,#4dffb2 470.6px,#33ffcc 491.9px,#1affe5 513.4px,#00ffff 534.8px,#00e6ff 556.3px,#00ccff 578px,#00b3ff 599.7px,#0099ff 621.7px,#0080ff 644px,#0066ff 666.8px,#004dff 690.5px,#0033ff 715.4px,#001aff 742.8px,#0000ff 774.8px,#0000e6 818.9px,#0000d8 863.3px)"></i><i style="top:72px;height:7px;background:linear-gradient(90deg,#dc0000 0px,#e50000 33.3px,#ff0000 80.3px,#ff1900 112.9px,#ff3300 140.3px,#ff4c00 165.3px,#ff6600 188.9px,#ff8000 211.7px,#ff9900 234px,#ffb200 256px,#ffcc00 277.7px,#ffe500 299.3px,#ffff00 320.8px,#e6ff19 342.3px,#ccff33 363.7px,#b3ff4c 385.1px,#99ff66 406.5px,#80ff80 427.8px,#66ff99 449.2px,#4dffb2 470.5px,#33ffcc 491.9px,#1affe5 513.3px,#00ffff 534.8px,#00e6ff 556.3px,#00ccff 577.9px,#00b3ff 599.6px,#0099ff 621.5px,#0080ff 643.8px,#0066ff 666.5px,#004dff 689.9px,#0033ff 714.7px,#001aff 741.7px,#0000ff 773.1px,#0000e6 816px,#0000d7 863.3px)"></i><i style="top:78px;height:7px;background:linear-gradient(90deg,#db0000 0px,#e50000 37px,#ff0000 82.2px,#ff1900 114.1px,#ff3300 141.2px,#ff4c00 165.9px,#ff6600 189.3px,#ff8000 212px,#ff9900 234.2px,#ffb200 256.1px,#ffcc00 277.8px,#ffe500 299.4px,#ffff00 320.9px,#e6ff19 342.3px,#ccff33 363.7px,#b3ff4c 385.1px,#99ff66 406.5px,#80ff80 427.8px,#66ff99 449.2px,#4dffb2 470.5px,#33ffcc 491.9px,#1affe5 513.3px,#00ffff 534.7px,#00e6ff 556.2px,#00ccff 577.8px,#00b3ff 599.5px,#0099ff 621.3px,#0080ff 643.5px,#0066ff 666.1px,#004dff 689.4px,#0033ff 713.9px,#001aff 740.5px,#0000ff 771.4px,#0000e6 812.9px,#0000d5 863.3px)"></i><i style="top:84px;height:7px;background:linear-gradient(90deg,#d90000 0px,#e50000 40.8px,#ff0000 84.3px,#ff1900 115.5px,#ff3300 142.1px,#ff4c00 166.5px,#ff6600 189.8px,#ff8000 212.3px,#ff9900 234.4px,#ffb200 256.2px,#ffcc00 277.9px,#ffe500 299.4px,#ffff00 320.9px,#e6ff19 342.3px,#ccff33 363.7px,#b3ff4c 385.1px,#99ff66 406.5px,#80ff80 427.8px,#66ff99 449.2px,#4dffb2 470.5px,#33ffcc 491.9px,#1affe5 513.3px,#00ffff 534.7px,#00e6ff 556.2px,#00ccff 577.7px,#00b3ff 599.3px,#0099ff 621.1px,#0080ff 643.2px,#0066ff 665.7px,#004dff 688.8px,#0033ff 713px,#001aff 739.2px,#0000ff 769.5px,#0000e6 809.7px,#0000d4 863.3px)"></i><i style="top:90px;height:7px;background:linear-gradient(90deg,#d70000 0px,#e50000 44.6px,#ff0000 86.4px,#ff1900 116.8px,#ff3300 143.1px,#ff4c00 167.2px,#ff6600 190.2px,#ff8000 212.6px,#ff9900 234.6px,#ffb200 256.4px,#ffcc00 278px,#ffe500 299.5px,#ffff00 321px,#e6ff19 342.4px,#ccff33 363.8px,#b3ff4c 385.1px,#99ff66 406.5px,#80ff80 427.8px,#66ff99 449.2px,#4dffb2 470.5px,#33ffcc 491.9px,#1affe5 513.2px,#00ffff 534.6px,#00e6ff 556.1px,#00ccff 577.6px,#00b3ff 599.2px,#0099ff 620.9px,#0080ff 642.9px,#0066ff 665.2px,#004dff 688.2px,#0033ff 712.1px,#001aff 738px,#0000ff 767.6px,#0000e6 806.5px,#0000d2 863.3px)"></i><i style="top:96px;height:7px;background:linear-gradient(90deg,#d60000 0px,#e50000 48.4px,#ff0000 88.5px,#ff1900 118.3px,#ff3300 144px,#ff4c00 167.9px,#ff6600 190.7px,#ff8000 212.9px,#ff9900 234.8px,#ffb200 256.5px,#ffcc00 278.1px,#ffe500 299.6px,#ffff00 321px,#e6ff19 342.4px,#ccff33 363.8px,#b3ff4c 385.1px,#99ff66 406.5px,#80ff80 427.8px,#66ff99 449.2px,#4dffb2 470.5px,#33ffcc 491.8px,#1affe5 513.2px,#00ffff 534.6px,#00e6ff 556px,#00ccff 577.5px,#00b3ff 599.1px,#0099ff 620.7px,#0080ff 642.6px,#0066ff 664.8px,#004dff 687.5px,#0033ff 711.2px,#001aff 736.6px,#0000ff 765.6px,#0000e6 803.2px,#0000d0 863.3px)"></i><i style="top:102px;height:7px;background:linear-gradient(90deg,#d40000 0px,#e50000 52.3px,#ff0000 90.8px,#ff1900 119.8px,#ff3300 145px,#ff4c00 168.6px,#ff6600 191.2px,#ff8000 213.3px,#ff9900 235.1px,#ffb200 256.7px,#ffcc00 278.2px,#ffe500 299.7px,#ffff00 321.1px,#e6ff19 342.4px,#ccff33 363.8px,#b3ff4c 385.1px,#99ff66 406.5px,#80ff80 427.8px,#66ff99 449.1px,#4dffb2 470.5px,#33ffcc 491.8px,#1affe5 513.2px,#00ffff 534.6px,#00e6ff 556px,#00ccff 577.4px,#00b3ff 598.9px,#0099ff 620.5px,#0080ff 642.3px,#0066ff 664.3px,#004dff 686.9px,#0033ff 710.2px,#001aff 735.2px,#0000ff 763.5px,#0000e6 799.8px,#0000ce 863.3px)"></i><i style="top:108px;height:7px;background:linear-gradient(90deg,#d10000 0px,#e50000 56.2px,#ff0000 93.1px,#ff1900 121.3px,#ff3300 146.1px,#ff4c00 169.3px,#ff6600 191.7px,#ff8000 213.6px,#ff9900 235.3px,#ffb200 256.9px,#ffcc00 278.3px,#ffe500 299.7px,#ffff00 321.1px,#e6ff19 342.5px,#ccff33 363.8px,#b3ff4c 385.2px,#99ff66 406.5px,#80ff80 427.8px,#66ff99 449.1px,#4dffb2 470.5px,#33ffcc 491.8px,#1affe5 513.1px,#00ffff 534.5px,#00e6ff 555.9px,#00ccff 577.3px,#00b3ff 598.7px,#0099ff 620.3px,#0080ff 642px,#0066ff 663.9px,#004dff 686.2px,#0033ff 709.3px,#001aff 733.8px,#0000ff 761.4px,#0000e6 796.4px,#0000cc 863.3px)"></i><i style="top:114px;height:7px;background:linear-gradient(90deg,#cf0000 0px,#e50000 60.1px,#ff0000 95.4px,#ff1900 122.8px,#ff3300 147.1px,#ff4c00 170px,#ff6600 192.2px,#ff8000 214px,#ff9900 235.6px,#ffb200 257px,#ffcc00 278.4px,#ffe500 299.8px,#ffff00 321.2px,#e6ff19 342.5px,#ccff33 363.9px,#b3ff4c 385.2px,#99ff66 406.5px,#80ff80 427.8px,#66ff99 449.1px,#4dffb2 470.5px,#33ffcc 491.8px,#1affe5 513.1px,#00ffff 534.5px,#00e6ff 555.8px,#00ccff 577.2px,#00b3ff 598.6px,#0099ff 620.1px,#0080ff 641.6px,#0066ff 663.4px,#004dff 685.5px,#0033ff 708.3px,#001aff 732.4px,#0000ff 759.3px,#0000e6 793px,#0000cc 854.2px,#0000ca 863.3px)"></i><i style="top:120px;height:7px;background:linear-gradient(90deg,#cd0000 0px,#e50000 64px,#ff0000 97.7px,#ff1900 124.4px,#ff3300 148.2px,#ff4c00 170.7px,#ff6600 192.7px,#ff8000 214.3px,#ff9900 235.8px,#ffb200 257.2px,#ffcc00 278.6px,#ffe500 299.9px,#ffff00 321.2px,#e6ff19 342.6px,#ccff33 363.9px,#b3ff4c 385.2px,#99ff66 406.5px,#80ff80 427.8px,#66ff99 449.1px,#4dffb2 470.4px,#33ffcc 491.8px,#1affe5 513.1px,#00ffff 534.4px,#00e6ff 555.7px,#00ccff 577.1px,#00b3ff 598.4px,#0099ff 619.8px,#0080ff 641.3px,#0066ff 662.9px,#004dff 684.8px,#0033ff 707.3px,#001aff 730.9px,#0000ff 757.1px,#0000e6 789.5px,#0000cc 844.7px,#0000c8 863.3px)"></i><i style="top:126px;height:7px;background:linear-gradient(90deg,#cb0000 0px,#cc0000 8.2px,#e50000 67.8px,#ff0000 100.1px,#ff1900 126px,#ff3300 149.3px,#ff4c00 171.5px,#ff6600 193.2px,#ff8000 214.7px,#ff9900 236px,#ffb200 257.4px,#ffcc00 278.7px,#ffe500 300px,#ffff00 321.3px,#e6ff19 342.6px,#ccff33 363.9px,#b3ff4c 385.2px,#99ff66 406.5px,#80ff80 427.8px,#66ff99 449.1px,#4dffb2 470.4px,#33ffcc 491.7px,#1affe5 513px,#00ffff 534.3px,#00e6ff 555.7px,#00ccff 577px,#00b3ff 598.3px,#0099ff 619.6px,#0080ff 641px,#0066ff 662.4px,#004dff 684.1px,#0033ff 706.2px,#001aff 729.4px,#0000ff 754.9px,#0000e6 786px,#0000cc 836.5px,#0000c6 863.3px)"></i><i style="top:132px;height:7px;background:linear-gradient(90deg,#c80000 0px,#cc0000 18.9px,#e50000 71.6px,#ff0000 102.5px,#ff1900 127.5px,#ff3300 150.3px,#ff4c00 172.2px,#ff6600 193.7px,#ff8000 215px,#ff9900 236.3px,#ffb200 257.5px,#ffcc00 278.8px,#ffe500 300.1px,#ffff00 321.3px,#e6ff19 342.6px,#ccff33 363.9px,#b3ff4c 385.2px,#99ff66 406.5px,#80ff80 427.8px,#66ff99 449.1px,#4dffb2 470.4px,#33ffcc 491.7px,#1affe5 513px,#00ffff 534.3px,#00e6ff 555.6px,#00ccff 576.8px,#00b3ff 598.1px,#0099ff 619.4px,#0080ff 640.6px,#0066ff 662px,#004dff 683.4px,#0033ff 705.2px,#001aff 727.9px,#0000ff 752.6px,#0000e6 782.5px,#0000cc 829px,#0000c3 863.3px)"></i><i style="top:138px;height:5px;background:linear-gradient(90deg,#c60000 0px,#cc0000 26.5px,#e50000 74.8px,#ff0000 104.4px,#ff1900 128.8px,#ff3300 151.2px,#ff4c00 172.8px,#ff6600 194.1px,#ff8000 215.3px,#ff9900 236.5px,#ffb200 257.7px,#ffcc00 278.9px,#ffe500 300.1px,#ffff00 321.4px,#e6ff19 342.7px,#ccff33 363.9px,#b3ff4c 385.2px,#99ff66 406.5px,#80ff80 427.8px,#66ff99 449.1px,#4dffb2 470.4px,#33ffcc 491.7px,#1affe5 513px,#00ffff 534.3px,#00e6ff 555.5px,#00ccff 576.8px,#00b3ff 598px,#0099ff 619.2px,#0080ff 640.4px,#0066ff 661.5px,#004dff 682.8px,#0033ff 704.4px,#001aff 726.7px,#0000ff 750.8px,#0000e6 779.6px,#0000cc 823.2px,#0000c1 863.3px)"></i><i style="top:142px;height:5px;background:linear-gradient(90deg,#c40000 0px,#cc0000 32px,#e50000 77.3px,#ff0000 106px,#ff1900 129.9px,#ff3300 151.9px,#ff4c00 173.3px,#ff6600 194.4px,#ff8000 215.5px,#ff9900 236.6px,#ffb200 257.8px,#ffcc00 279px,#ffe500 300.2px,#ffff00 321.4px,#e6ff19 342.7px,#ccff33 364px,#b3ff4c 385.2px,#99ff66 406.5px,#80ff80 427.8px,#66ff99 449.1px,#4dffb2 470.4px,#33ffcc 491.7px,#1affe5 513px,#00ffff 534.2px,#00e6ff 555.5px,#00ccff 576.7px,#00b3ff 597.9px,#0099ff 619px,#0080ff 640.1px,#0066ff 661.2px,#004dff 682.4px,#0033ff 703.7px,#001aff 725.7px,#0000ff 749.3px,#0000e6 777.3px,#0000cc 818.8px,#0000bf 863.3px)"></i><i style="top:146px;height:5px;background:linear-gradient(90deg,#c20000 0px,#cc0000 37.1px,#e50000 79.8px,#ff0000 107.6px,#ff1900 130.9px,#ff3300 152.6px,#ff4c00 173.8px,#ff6600 194.8px,#ff8000 215.8px,#ff9900 236.8px,#ffb200 257.9px,#ffcc00 279px,#ffe500 300.2px,#ffff00 321.5px,#e6ff19 342.7px,#ccff33 364px,#b3ff4c 385.3px,#99ff66 406.5px,#80ff80 427.8px,#66ff99 449.1px,#4dffb2 470.4px,#33ffcc 491.7px,#1affe5 512.9px,#00ffff 534.2px,#00e6ff 555.4px,#00ccff 576.6px,#00b3ff 597.8px,#0099ff 618.9px,#0080ff 639.9px,#0066ff 660.9px,#004dff 681.9px,#0033ff 703px,#001aff 724.7px,#0000ff 747.8px,#0000e6 775px,#0000cc 814.5px,#0000be 863.3px)"></i><i style="top:150px;height:5px;background:linear-gradient(90deg,#c00000 0px,#cc0000 42px,#e50000 82.3px,#ff0000 109.1px,#ff1900 132px,#ff3300 153.3px,#ff4c00 174.3px,#ff6600 195.1px,#ff8000 216px,#ff9900 237px,#ffb200 258px,#ffcc00 279.1px,#ffe500 300.3px,#ffff00 321.5px,#e6ff19 342.7px,#ccff33 364px,#b3ff4c 385.3px,#99ff66 406.5px,#80ff80 427.8px,#66ff99 449.1px,#4dffb2 470.4px,#33ffcc 491.7px,#1affe5 512.9px,#00ffff 534.2px,#00e6ff 555.4px,#00ccff 576.5px,#00b3ff 597.7px,#0099ff 618.7px,#0080ff 639.7px,#0066ff 660.6px,#004dff 681.5px,#0033ff 702.4px,#001aff 723.7px,#0000ff 746.4px,#0000e6 772.7px,#0000cc 810.3px,#0000bc 863.3px)"></i><i style="top:154px;height:5px;background:linear-gradient(90deg,#be0000 0px,#cc0000 46.7px,#e50000 84.7px,#ff0000 110.7px,#ff1900 133px,#ff3300 154px,#ff4c00 174.7px,#ff6600 195.4px,#ff8000 216.2px,#ff9900 237.1px,#ffb200 258.1px,#ffcc00 279.2px,#ffe500 300.3px,#ffff00 321.5px,#e6ff19 342.8px,#ccff33 364px,#b3ff4c 385.3px,#99ff66 406.5px,#80ff80 427.8px,#66ff99 449.1px,#4dffb2 470.4px,#33ffcc 491.6px,#1affe5 512.9px,#00ffff 534.1px,#00e6ff 555.3px,#00ccff 576.5px,#00b3ff 597.6px,#0099ff 618.6px,#0080ff 639.5px,#0066ff 660.3px,#004dff 681px,#0033ff 701.7px,#001aff 722.7px,#0000ff 744.9px,#0000e6 770.4px,#0000cc 806.2px,#0000ba 863.3px)"></i><i style="top:158px;height:5px;background:linear-gradient(90deg,#bc0000 0px,#cc0000 51.1px,#e50000 87.1px,#ff0000 112.2px,#ff1900 134px,#ff3300 154.7px,#ff4c00 175.2px,#ff6600 195.7px,#ff8000 216.4px,#ff9900 237.3px,#ffb200 258.2px,#ffcc00 279.3px,#ffe500 300.4px,#ffff00 321.6px,#e6ff19 342.8px,#ccff33 364px,#b3ff4c 385.3px,#99ff66 406.5px,#80ff80 427.8px,#66ff99 449.1px,#4dffb2 470.4px,#33ffcc 491.6px,#1affe5 512.9px,#00ffff 534.1px,#00e6ff 555.3px,#00ccff 576.4px,#00b3ff 597.5px,#0099ff 618.4px,#0080ff 639.3px,#0066ff 660px,#004dff 680.6px,#0033ff 701.1px,#001aff 721.8px,#0000ff 743.5px,#0000e6 768.2px,#0000cc 802.3px,#0000b8 863.3px)"></i><i style="top:162px;height:5px;background:linear-gradient(90deg,#ba0000 0px,#cc0000 55.4px,#e50000 89.4px,#ff0000 113.7px,#ff1900 135px,#ff3300 155.4px,#ff4c00 175.7px,#ff6600 196.1px,#ff8000 216.6px,#ff9900 237.4px,#ffb200 258.3px,#ffcc00 279.3px,#ffe500 300.4px,#ffff00 321.6px,#e6ff19 342.8px,#ccff33 364px,#b3ff4c 385.3px,#99ff66 406.6px,#80ff80 427.8px,#66ff99 449.1px,#4dffb2 470.4px,#33ffcc 491.6px,#1affe5 512.8px,#00ffff 534.1px,#00e6ff 555.2px,#00ccff 576.3px,#00b3ff 597.4px,#0099ff 618.3px,#0080ff 639.1px,#0066ff 659.7px,#004dff 680.1px,#0033ff 700.4px,#001aff 720.9px,#0000ff 742.1px,#0000e6 766px,#0000cc 798.4px,#0000b6 863.3px)"></i><i style="top:166px;height:5px;background:linear-gradient(90deg,#b80000 0px,#cc0000 59.6px,#e50000 91.7px,#ff0000 115.1px,#ff1900 135.9px,#ff3300 156px,#ff4c00 176.1px,#ff6600 196.4px,#ff8000 216.8px,#ff9900 237.5px,#ffb200 258.4px,#ffcc00 279.4px,#ffe500 300.5px,#ffff00 321.6px,#e6ff19 342.8px,#ccff33 364px,#b3ff4c 385.3px,#99ff66 406.6px,#80ff80 427.8px,#66ff99 449.1px,#4dffb2 470.3px,#33ffcc 491.6px,#1affe5 512.8px,#00ffff 534px,#00e6ff 555.2px,#00ccff 576.3px,#00b3ff 597.3px,#0099ff 618.2px,#0080ff 638.9px,#0066ff 659.4px,#004dff 679.7px,#0033ff 699.8px,#001aff 719.9px,#0000ff 740.7px,#0000e6 763.8px,#0000cc 794.7px,#0000b4 863.3px)"></i><i style="top:170px;height:5px;background:linear-gradient(90deg,#b50000 0px,#cc0000 63.6px,#e50000 94px,#ff0000 116.6px,#ff1900 136.9px,#ff3300 156.7px,#ff4c00 176.5px,#ff6600 196.7px,#ff8000 217.1px,#ff9900 237.7px,#ffb200 258.5px,#ffcc00 279.5px,#ffe500 300.5px,#ffff00 321.7px,#e6ff19 342.8px,#ccff33 364.1px,#b3ff4c 385.3px,#99ff66 406.6px,#80ff80 427.8px,#66ff99 449.1px,#4dffb2 470.3px,#33ffcc 491.6px,#1affe5 512.8px,#00ffff 534px,#00e6ff 555.1px,#00ccff 576.2px,#00b3ff 597.2px,#0099ff 618px,#0080ff 638.7px,#0066ff 659.1px,#004dff 679.3px,#0033ff 699.2px,#001aff 719px,#0000ff 739.3px,#0000e6 761.7px,#0000cc 791px,#0000b2 857.8px,#0000b2 863.3px)"></i><i style="top:174px;height:5px;background:linear-gradient(90deg,#b30000 0px,#cc0000 67.5px,#e50000 96.2px,#ff0000 118px,#ff1900 137.8px,#ff3300 157.3px,#ff4c00 176.9px,#ff6600 196.9px,#ff8000 217.2px,#ff9900 237.8px,#ffb200 258.6px,#ffcc00 279.5px,#ffe500 300.6px,#ffff00 321.7px,#e6ff19 342.9px,#ccff33 364.1px,#b3ff4c 385.3px,#99ff66 406.6px,#80ff80 427.8px,#66ff99 449.1px,#4dffb2 470.3px,#33ffcc 491.6px,#1affe5 512.8px,#00ffff 534px,#00e6ff 555.1px,#00ccff 576.2px,#00b3ff 597.1px,#0099ff 617.9px,#0080ff 638.5px,#0066ff 658.9px,#004dff 678.9px,#0033ff 698.6px,#001aff 718.2px,#0000ff 738px,#0000e6 759.6px,#0000cc 787.4px,#0000b2 845.3px,#0000b0 863.3px)"></i><i style="top:178px;height:5px;background:linear-gradient(90deg,#b10000 0px,#b20000 11.8px,#cc0000 71.2px,#e50000 98.3px,#ff0000 119.3px,#ff1900 138.7px,#ff3300 157.9px,#ff4c00 177.4px,#ff6600 197.2px,#ff8000 217.4px,#ff9900 238px,#ffb200 258.7px,#ffcc00 279.6px,#ffe500 300.6px,#ffff00 321.7px,#e6ff19 342.9px,#ccff33 364.1px,#b3ff4c 385.3px,#99ff66 406.6px,#80ff80 427.8px,#66ff99 449.1px,#4dffb2 470.3px,#33ffcc 491.6px,#1affe5 512.8px,#00ffff 533.9px,#00e6ff 555.1px,#00ccff 576.1px,#00b3ff 597px,#0099ff 617.8px,#0080ff 638.3px,#0066ff 658.6px,#004dff 678.5px,#0033ff 698.1px,#001aff 717.3px,#0000ff 736.7px,#0000e6 757.5px,#0000cc 783.9px,#0000b2 835.5px,#0000ad 863.3px)"></i><i style="top:182px;height:5px;background:linear-gradient(90deg,#ae0000 0px,#b20000 23.3px,#cc0000 74.9px,#e50000 100.4px,#ff0000 120.6px,#ff1900 139.5px,#ff3300 158.4px,#ff4c00 177.7px,#ff6600 197.5px,#ff8000 217.6px,#ff9900 238.1px,#ffb200 258.8px,#ffcc00 279.6px,#ffe500 300.7px,#ffff00 321.7px,#e6ff19 342.9px,#ccff33 364.1px,#b3ff4c 385.3px,#99ff66 406.6px,#80ff80 427.8px,#66ff99 449.1px,#4dffb2 470.3px,#33ffcc 491.5px,#1affe5 512.8px,#00ffff 533.9px,#00e6ff 555px,#00ccff 576px,#00b3ff 596.9px,#0099ff 617.7px,#0080ff 638.2px,#0066ff 658.3px,#004dff 678.1px,#0033ff 697.5px,#001aff 716.5px,#0000ff 735.5px,#0000e6 755.5px,#0000cc 780.5px,#0000b2 827.1px,#0000ab 863.3px)"></i><i style="top:186px;height:5px;background:linear-gradient(90deg,#ac0000 0px,#b20000 32.6px,#cc0000 78.4px,#e50000 102.5px,#ff0000 121.9px,#ff1900 140.4px,#ff3300 159px,#ff4c00 178.1px,#ff6600 197.7px,#ff8000 217.8px,#ff9900 238.2px,#ffb200 258.9px,#ffcc00 279.7px,#ffe500 300.7px,#ffff00 321.8px,#e6ff19 342.9px,#ccff33 364.1px,#b3ff4c 385.3px,#99ff66 406.6px,#80ff80 427.8px,#66ff99 449.1px,#4dffb2 470.3px,#33ffcc 491.5px,#1affe5 512.7px,#00ffff 533.9px,#00e6ff 555px,#00ccff 576px,#00b3ff 596.9px,#0099ff 617.5px,#0080ff 638px,#0066ff 658.1px,#004dff 677.8px,#0033ff 697px,#001aff 715.7px,#0000ff 734.2px,#0000e6 753.6px,#0000cc 777.2px,#0000b2 819.5px,#0000a9 863.3px)"></i><i style="top:190px;height:5px;background:linear-gradient(90deg,#a90000 0px,#b20000 40.7px,#cc0000 81.8px,#e50000 104.4px,#ff0000 123.1px,#ff1900 141.1px,#ff3300 159.5px,#ff4c00 178.5px,#ff6600 198px,#ff8000 218px,#ff9900 238.3px,#ffb200 258.9px,#ffcc00 279.8px,#ffe500 300.7px,#ffff00 321.8px,#e6ff19 342.9px,#ccff33 364.1px,#b3ff4c 385.3px,#99ff66 406.6px,#80ff80 427.8px,#66ff99 449.1px,#4dffb2 470.3px,#33ffcc 491.5px,#1affe5 512.7px,#00ffff 533.9px,#00e6ff 554.9px,#00ccff 575.9px,#00b3ff 596.8px,#0099ff 617.4px,#0080ff 637.8px,#0066ff 657.9px,#004dff 677.4px,#0033ff 696.5px,#001aff 715px,#0000ff 733.1px,#0000e6 751.8px,#0000cc 774.1px,#0000b2 812.6px,#0000a7 863.3px)"></i><i style="top:194px;height:4px;background:linear-gradient(90deg,#a70000 0px,#b20000 47.2px,#cc0000 84.6px,#e50000 106px,#ff0000 124.1px,#ff1900 141.8px,#ff3300 160px,#ff4c00 178.8px,#ff6600 198.2px,#ff8000 218.1px,#ff9900 238.4px,#ffb200 259px,#ffcc00 279.8px,#ffe500 300.8px,#ffff00 321.8px,#e6ff19 343px,#ccff33 364.1px,#b3ff4c 385.3px,#99ff66 406.6px,#80ff80 427.8px,#66ff99 449.1px,#4dffb2 470.3px,#33ffcc 491.5px,#1affe5 512.7px,#00ffff 533.8px,#00e6ff 554.9px,#00ccff 575.9px,#00b3ff 596.7px,#0099ff 617.3px,#0080ff 637.7px,#0066ff 657.7px,#004dff 677.2px,#0033ff 696.1px,#001aff 714.3px,#0000ff 732.1px,#0000e6 750.2px,#0000cc 771.4px,#0000b2 806.8px,#0000a5 863.3px)"></i><i style="top:197px;height:4px;background:linear-gradient(90deg,#a50000 0px,#b20000 52.4px,#cc0000 86.9px,#e50000 107.4px,#ff0000 124.9px,#ff1900 142.4px,#ff3300 160.3px,#ff4c00 179px,#ff6600 198.4px,#ff8000 218.2px,#ff9900 238.5px,#ffb200 259.1px,#ffcc00 279.8px,#ffe500 300.8px,#ffff00 321.8px,#e6ff19 343px,#ccff33 364.1px,#b3ff4c 385.4px,#99ff66 406.6px,#80ff80 427.8px,#66ff99 449.1px,#4dffb2 470.3px,#33ffcc 491.5px,#1affe5 512.7px,#00ffff 533.8px,#00e6ff 554.9px,#00ccff 575.9px,#00b3ff 596.7px,#0099ff 617.3px,#0080ff 637.6px,#0066ff 657.5px,#004dff 676.9px,#0033ff 695.7px,#001aff 713.8px,#0000ff 731.3px,#0000e6 748.9px,#0000cc 769.1px,#0000b2 802.1px,#0000a3 863.3px)"></i><i style="top:200px;height:4px;background:linear-gradient(90deg,#a30000 0px,#b20000 57.3px,#cc0000 89.2px,#e50000 108.7px,#ff0000 125.8px,#ff1900 142.9px,#ff3300 160.7px,#ff4c00 179.2px,#ff6600 198.5px,#ff8000 218.3px,#ff9900 238.6px,#ffb200 259.1px,#ffcc00 279.9px,#ffe500 300.8px,#ffff00 321.9px,#e6ff19 343px,#ccff33 364.1px,#b3ff4c 385.4px,#99ff66 406.6px,#80ff80 427.8px,#66ff99 449.1px,#4dffb2 470.3px,#33ffcc 491.5px,#1affe5 512.7px,#00ffff 533.8px,#00e6ff 554.9px,#00ccff 575.8px,#00b3ff 596.6px,#0099ff 617.2px,#0080ff 637.5px,#0066ff 657.4px,#004dff 676.7px,#0033ff 695.4px,#001aff 713.3px,#0000ff 730.5px,#0000e6 747.7px,#0000cc 767px,#0000b2 797.7px,#0000a1 863.3px)"></i><i style="top:203px;height:4px;background:linear-gradient(90deg,#a10000 0px,#b20000 62px,#cc0000 91.4px,#e50000 109.9px,#ff0000 126.5px,#ff1900 143.4px,#ff3300 161px,#ff4c00 179.5px,#ff6600 198.7px,#ff8000 218.4px,#ff9900 238.6px,#ffb200 259.2px,#ffcc00 279.9px,#ffe500 300.8px,#ffff00 321.9px,#e6ff19 343px,#ccff33 364.2px,#b3ff4c 385.4px,#99ff66 406.6px,#80ff80 427.8px,#66ff99 449.1px,#4dffb2 470.3px,#33ffcc 491.5px,#1affe5 512.7px,#00ffff 533.8px,#00e6ff 554.8px,#00ccff 575.8px,#00b3ff 596.6px,#0099ff 617.1px,#0080ff 637.4px,#0066ff 657.2px,#004dff 676.5px,#0033ff 695.1px,#001aff 712.8px,#0000ff 729.8px,#0000e6 746.5px,#0000cc 764.9px,#0000b2 793.3px,#00009f 863.3px)"></i><i style="top:206px;height:4px;background:linear-gradient(90deg,#9f0000 0px,#b20000 66.4px,#cc0000 93.5px,#e50000 111.1px,#ff0000 127.2px,#ff1900 143.8px,#ff3300 161.3px,#ff4c00 179.7px,#ff6600 198.8px,#ff8000 218.5px,#ff9900 238.7px,#ffb200 259.2px,#ffcc00 279.9px,#ffe500 300.9px,#ffff00 321.9px,#e6ff19 343px,#ccff33 364.2px,#b3ff4c 385.4px,#99ff66 406.6px,#80ff80 427.8px,#66ff99 449.1px,#4dffb2 470.3px,#33ffcc 491.5px,#1affe5 512.7px,#00ffff 533.8px,#00e6ff 554.8px,#00ccff 575.8px,#00b3ff 596.5px,#0099ff 617.1px,#0080ff 637.3px,#0066ff 657.1px,#004dff 676.3px,#0033ff 694.8px,#001aff 712.4px,#0000ff 729.1px,#0000e6 745.4px,#0000cc 762.9px,#0000b2 789.2px,#00009d 863.3px)"></i><i style="top:209px;height:4px;background:linear-gradient(90deg,#9d0000 0px,#b20000 70.6px,#cc0000 95.5px,#e50000 112.2px,#ff0000 127.9px,#ff1900 144.3px,#ff3300 161.6px,#ff4c00 179.9px,#ff6600 198.9px,#ff8000 218.6px,#ff9900 238.8px,#ffb200 259.2px,#ffcc00 280px,#ffe500 300.9px,#ffff00 321.9px,#e6ff19 343px,#ccff33 364.2px,#b3ff4c 385.4px,#99ff66 406.6px,#80ff80 427.8px,#66ff99 449.1px,#4dffb2 470.3px,#33ffcc 491.5px,#1affe5 512.7px,#00ffff 533.8px,#00e6ff 554.8px,#00ccff 575.7px,#00b3ff 596.5px,#0099ff 617px,#0080ff 637.2px,#0066ff 657px,#004dff 676.1px,#0033ff 694.5px,#001aff 712px,#0000ff 728.4px,#0000e6 744.3px,#0000cc 761px,#0000b2 785.3px,#00009b 863.3px)"></i><i style="top:212px;height:4px;background:linear-gradient(90deg,#9b0000 0px,#b20000 74.6px,#cc0000 97.3px,#e50000 113.3px,#ff0000 128.6px,#ff1900 144.7px,#ff3300 161.9px,#ff4c00 180.1px,#ff6600 199.1px,#ff8000 218.7px,#ff9900 238.8px,#ffb200 259.3px,#ffcc00 280px,#ffe500 300.9px,#ffff00 321.9px,#e6ff19 343px,#ccff33 364.2px,#b3ff4c 385.4px,#99ff66 406.6px,#80ff80 427.8px,#66ff99 449.1px,#4dffb2 470.3px,#33ffcc 491.5px,#1affe5 512.6px,#00ffff 533.8px,#00e6ff 554.8px,#00ccff 575.7px,#00b3ff 596.4px,#0099ff 616.9px,#0080ff 637.1px,#0066ff 656.8px,#004dff 675.9px,#0033ff 694.2px,#001aff 711.6px,#0000ff 727.8px,#0000e6 743.3px,#0000cc 759.2px,#0000b2 781.5px,#000099 863.3px)"></i><i style="top:215px;height:4px;background:linear-gradient(90deg,#990000 0px,#b20000 78.3px,#cc0000 99.1px,#e50000 114.3px,#ff0000 129.2px,#ff1900 145.1px,#ff3300 162.1px,#ff4c00 180.2px,#ff6600 199.2px,#ff8000 218.8px,#ff9900 238.9px,#ffb200 259.3px,#ffcc00 280px,#ffe500 300.9px,#ffff00 321.9px,#e6ff19 343px,#ccff33 364.2px,#b3ff4c 385.4px,#99ff66 406.6px,#80ff80 427.8px,#66ff99 449.1px,#4dffb2 470.3px,#33ffcc 491.5px,#1affe5 512.6px,#00ffff 533.7px,#00e6ff 554.8px,#00ccff 575.7px,#00b3ff 596.4px,#0099ff 616.9px,#0080ff 637px,#0066ff 656.7px,#004dff 675.8px,#0033ff 694px,#001aff 711.2px,#0000ff 727.2px,#0000e6 742.3px,#0000cc 757.5px,#0000b2 777.9px,#000099 846.4px,#000098 863.3px)"></i><i style="top:218px;height:4px;background:linear-gradient(90deg,#970000 0px,#990000 18.7px,#b20000 81.9px,#cc0000 100.8px,#e50000 115.2px,#ff0000 129.8px,#ff1900 145.5px,#ff3300 162.4px,#ff4c00 180.4px,#ff6600 199.3px,#ff8000 218.9px,#ff9900 238.9px,#ffb200 259.4px,#ffcc00 280.1px,#ffe500 300.9px,#ffff00 321.9px,#e6ff19 343px,#ccff33 364.2px,#b3ff4c 385.4px,#99ff66 406.6px,#80ff80 427.8px,#66ff99 449.1px,#4dffb2 470.3px,#33ffcc 491.5px,#1affe5 512.6px,#00ffff 533.7px,#00e6ff 554.8px,#00ccff 575.7px,#00b3ff 596.4px,#0099ff 616.8px,#0080ff 637px,#0066ff 656.6px,#004dff 675.6px,#0033ff 693.7px,#001aff 710.8px,#0000ff 726.7px,#0000e6 741.4px,#0000cc 755.9px,#0000b2 774.5px,#000099 831.5px,#000096 863.3px)"></i><i style="top:221px;height:4px;background:linear-gradient(90deg,#950000 0px,#990000 33.4px,#b20000 85.2px,#cc0000 102.3px,#e50000 116.1px,#ff0000 130.3px,#ff1900 145.8px,#ff3300 162.6px,#ff4c00 180.6px,#ff6600 199.4px,#ff8000 218.9px,#ff9900 239px,#ffb200 259.4px,#ffcc00 280.1px,#ffe500 300.9px,#ffff00 321.9px,#e6ff19 343px,#ccff33 364.2px,#b3ff4c 385.4px,#99ff66 406.6px,#80ff80 427.8px,#66ff99 449.1px,#4dffb2 470.3px,#33ffcc 491.5px,#1affe5 512.6px,#00ffff 533.7px,#00e6ff 554.7px,#00ccff 575.6px,#00b3ff 596.3px,#0099ff 616.8px,#0080ff 636.9px,#0066ff 656.5px,#004dff 675.5px,#0033ff 693.5px,#001aff 710.5px,#0000ff 726.2px,#0000e6 740.6px,#0000cc 754.4px,#0000b2 771.3px,#000099 819.6px,#000094 863.3px)"></i><i style="top:224px;height:4px;background:linear-gradient(90deg,#930000 0px,#990000 45.3px,#b20000 88.3px,#cc0000 103.8px,#e50000 116.8px,#ff0000 130.8px,#ff1900 146.1px,#ff3300 162.8px,#ff4c00 180.7px,#ff6600 199.5px,#ff8000 219px,#ff9900 239px,#ffb200 259.4px,#ffcc00 280.1px,#ffe500 301px,#ffff00 322px,#e6ff19 343px,#ccff33 364.2px,#b3ff4c 385.4px,#99ff66 406.6px,#80ff80 427.8px,#66ff99 449.1px,#4dffb2 470.3px,#33ffcc 491.5px,#1affe5 512.6px,#00ffff 533.7px,#00e6ff 554.7px,#00ccff 575.6px,#00b3ff 596.3px,#0099ff 616.8px,#0080ff 636.8px,#0066ff 656.4px,#004dff 675.3px,#0033ff 693.3px,#001aff 710.2px,#0000ff 725.7px,#0000e6 739.8px,#0000cc 753px,#0000b2 768.4px,#000099 809.2px,#000092 863.3px)"></i><i style="top:227px;height:4px;background:linear-gradient(90deg,#910000 0px,#990000 55.5px,#b20000 91.2px,#cc0000 105.1px,#e50000 117.5px,#ff0000 131.2px,#ff1900 146.4px,#ff3300 163px,#ff4c00 180.8px,#ff6600 199.6px,#ff8000 219.1px,#ff9900 239.1px,#ffb200 259.5px,#ffcc00 280.1px,#ffe500 301px,#ffff00 322px,#e6ff19 343px,#ccff33 364.2px,#b3ff4c 385.4px,#99ff66 406.6px,#80ff80 427.8px,#66ff99 449.1px,#4dffb2 470.3px,#33ffcc 491.5px,#1affe5 512.6px,#00ffff 533.7px,#00e6ff 554.7px,#00ccff 575.6px,#00b3ff 596.3px,#0099ff 616.7px,#0080ff 636.8px,#0066ff 656.3px,#004dff 675.2px,#0033ff 693.2px,#001aff 709.9px,#0000ff 725.3px,#0000e6 739.1px,#0000cc 751.8px,#0000b2 765.6px,#000099 799.8px,#000090 863.3px)"></i><i style="top:230px;height:4px;background:linear-gradient(90deg,#8f0000 0px,#990000 64.6px,#b20000 93.8px,#cc0000 106.2px,#e50000 118.2px,#ff0000 131.6px,#ff1900 146.6px,#ff3300 163.2px,#ff4c00 180.9px,#ff6600 199.6px,#ff8000 219.1px,#ff9900 239.1px,#ffb200 259.5px,#ffcc00 280.1px,#ffe500 301px,#ffff00 322px,#e6ff19 343.1px,#ccff33 364.2px,#b3ff4c 385.4px,#99ff66 406.6px,#80ff80 427.8px,#66ff99 449px,#4dffb2 470.3px,#33ffcc 491.5px,#1affe5 512.6px,#00ffff 533.7px,#00e6ff 554.7px,#00ccff 575.6px,#00b3ff 596.3px,#0099ff 616.7px,#0080ff 636.7px,#0066ff 656.3px,#004dff 675.1px,#0033ff 693px,#001aff 709.7px,#0000ff 724.9px,#0000e6 738.5px,#0000cc 750.6px,#0000b2 763.1px,#000099 791.3px,#00008e 863.3px)"></i><i style="top:233px;height:4px;background:linear-gradient(90deg,#8d0000 0px,#990000 72.7px,#b20000 96px,#cc0000 107.2px,#e50000 118.7px,#ff0000 131.9px,#ff1900 146.8px,#ff3300 163.3px,#ff4c00 181px,#ff6600 199.7px,#ff8000 219.1px,#ff9900 239.1px,#ffb200 259.5px,#ffcc00 280.1px,#ffe500 301px,#ffff00 322px,#e6ff19 343.1px,#ccff33 364.2px,#b3ff4c 385.4px,#99ff66 406.6px,#80ff80 427.8px,#66ff99 449px,#4dffb2 470.3px,#33ffcc 491.5px,#1affe5 512.6px,#00ffff 533.7px,#00e6ff 554.7px,#00ccff 575.6px,#00b3ff 596.2px,#0099ff 616.7px,#0080ff 636.7px,#0066ff 656.2px,#004dff 675px,#0033ff 692.9px,#001aff 709.5px,#0000ff 724.6px,#0000e6 738px,#0000cc 749.7px,#0000b2 760.9px,#000099 783.6px,#00008c 863.3px)"></i><i style="top:236px;height:4px;background:linear-gradient(90deg,#8b0000 0px,#990000 79.9px,#b20000 98px,#cc0000 108.1px,#e50000 119.2px,#ff0000 132.2px,#ff1900 147px,#ff3300 163.4px,#ff4c00 181.1px,#ff6600 199.8px,#ff8000 219.2px,#ff9900 239.2px,#ffb200 259.5px,#ffcc00 280.2px,#ffe500 301px,#ffff00 322px,#e6ff19 343.1px,#ccff33 364.2px,#b3ff4c 385.4px,#99ff66 406.6px,#80ff80 427.8px,#66ff99 449px,#4dffb2 470.3px,#33ffcc 491.5px,#1affe5 512.6px,#00ffff 533.7px,#00e6ff 554.7px,#00ccff 575.6px,#00b3ff 596.2px,#0099ff 616.6px,#0080ff 636.7px,#0066ff 656.2px,#004dff 674.9px,#0033ff 692.8px,#001aff 709.3px,#0000ff 724.3px,#0000e6 737.5px,#0000cc 748.8px,#0000b2 759px,#000099 776.8px,#00008a 863.3px)"></i><i style="top:239px;height:4px;background:linear-gradient(90deg,#880000 0px,#990000 86px,#b20000 99.6px,#cc0000 108.8px,#e50000 119.6px,#ff0000 132.4px,#ff1900 147.2px,#ff3300 163.5px,#ff4c00 181.2px,#ff6600 199.8px,#ff8000 219.2px,#ff9900 239.2px,#ffb200 259.5px,#ffcc00 280.2px,#ffe500 301px,#ffff00 322px,#e6ff19 343.1px,#ccff33 364.2px,#b3ff4c 385.4px,#99ff66 406.6px,#80ff80 427.8px,#66ff99 449px,#4dffb2 470.3px,#33ffcc 491.4px,#1affe5 512.6px,#00ffff 533.7px,#00e6ff 554.7px,#00ccff 575.5px,#00b3ff 596.2px,#0099ff 616.6px,#0080ff 636.6px,#0066ff 656.1px,#004dff 674.9px,#0033ff 692.7px,#001aff 709.2px,#0000ff 724.1px,#0000e6 737.1px,#0000cc 748.1px,#0000b2 757.4px,#000099 770.9px,#000088 863.3px)"></i><i style="top:242px;height:4px;background:linear-gradient(90deg,#860000 0px,#990000 91.1px,#b20000 100.9px,#cc0000 109.4px,#e50000 119.9px,#ff0000 132.6px,#ff1900 147.3px,#ff3300 163.6px,#ff4c00 181.2px,#ff6600 199.8px,#ff8000 219.2px,#ff9900 239.2px,#ffb200 259.5px,#ffcc00 280.2px,#ffe500 301px,#ffff00 322px,#e6ff19 343.1px,#ccff33 364.2px,#b3ff4c 385.4px,#99ff66 406.6px,#80ff80 427.8px,#66ff99 449px,#4dffb2 470.3px,#33ffcc 491.4px,#1affe5 512.6px,#00ffff 533.7px,#00e6ff 554.7px,#00ccff 575.5px,#00b3ff 596.2px,#0099ff 616.6px,#0080ff 636.6px,#0066ff 656.1px,#004dff 674.8px,#0033ff 692.6px,#001aff 709.1px,#0000ff 723.9px,#0000e6 736.8px,#0000cc 747.6px,#0000b2 756.2px,#000099 766px,#000086 863.3px)"></i><i style="top:245px;height:4px;background:linear-gradient(90deg,#840000 0px,#990000 94.9px,#b20000 101.9px,#cc0000 109.8px,#e50000 120.1px,#ff0000 132.8px,#ff1900 147.4px,#ff3300 163.6px,#ff4c00 181.3px,#ff6600 199.9px,#ff8000 219.3px,#ff9900 239.2px,#ffb200 259.5px,#ffcc00 280.2px,#ffe500 301px,#ffff00 322px,#e6ff19 343.1px,#ccff33 364.2px,#b3ff4c 385.4px,#99ff66 406.6px,#80ff80 427.8px,#66ff99 449px,#4dffb2 470.3px,#33ffcc 491.4px,#1affe5 512.6px,#00ffff 533.7px,#00e6ff 554.7px,#00ccff 575.5px,#00b3ff 596.2px,#0099ff 616.6px,#0080ff 636.6px,#0066ff 656.1px,#004dff 674.8px,#0033ff 692.5px,#001aff 709px,#0000ff 723.8px,#0000e6 736.6px,#0000cc 747.1px,#0000b2 755.3px,#000099 762.3px,#000084 863.3px)"></i><i style="top:248px;height:4px;background:linear-gradient(90deg,#820000 0px,#990000 97.2px,#b20000 102.5px,#cc0000 110.1px,#e50000 120.3px,#ff0000 132.8px,#ff1900 147.4px,#ff3300 163.7px,#ff4c00 181.3px,#ff6600 199.9px,#ff8000 219.3px,#ff9900 239.2px,#ffb200 259.6px,#ffcc00 280.2px,#ffe500 301px,#ffff00 322px,#e6ff19 343.1px,#ccff33 364.2px,#b3ff4c 385.4px,#99ff66 406.6px,#80ff80 427.8px,#66ff99 449px,#4dffb2 470.3px,#33ffcc 491.4px,#1affe5 512.6px,#00ffff 533.7px,#00e6ff 554.7px,#00ccff 575.5px,#00b3ff 596.2px,#0099ff 616.6px,#0080ff 636.6px,#0066ff 656px,#004dff 674.8px,#0033ff 692.5px,#001aff 708.9px,#0000ff 723.7px,#0000e6 736.5px,#0000cc 746.9px,#0000b2 754.7px,#000099 760.1px,#000082 863.3px)"></i><i style="top:251px;height:3px;background:linear-gradient(90deg,#800000 0px,#990000 98px,#b20000 102.7px,#cc0000 110.2px,#e50000 120.3px,#ff0000 132.9px,#ff1900 147.4px,#ff3300 163.7px,#ff4c00 181.3px,#ff6600 199.9px,#ff8000 219.3px,#ff9900 239.2px,#ffb200 259.6px,#ffcc00 280.2px,#ffe500 301px,#ffff00 322px,#e6ff19 343.1px,#ccff33 364.2px,#b3ff4c 385.4px,#99ff66 406.6px,#80ff80 427.8px,#66ff99 449px,#4dffb2 470.3px,#33ffcc 491.4px,#1affe5 512.6px,#00ffff 533.7px,#00e6ff 554.7px,#00ccff 575.5px,#00b3ff 596.2px,#0099ff 616.6px,#0080ff 636.6px,#0066ff 656px,#004dff 674.8px,#0033ff 692.5px,#001aff 708.9px,#0000ff 723.7px,#0000e6 736.4px,#0000cc 746.8px,#0000b2 754.4px,#000099 759.3px,#000080 863.3px)"></i></div>
<svg width="2069" height="1035" viewBox="0 0 2069 1035">
<path d="M74.3 79.7V259.4M74.3 79.7l-6 -1.4M74.3 169.5l-6 -1.4M74.3 259.4l-6 -1.4" stroke="#8a8a8a" stroke-width="1.2" fill="none"/>
<path d="M74.3 169.5L565 108.4L919.5 188M74.3 79.7L565 20L919.5 99.5V262M565 20V198M643.4 37.6V215M736 58.4V236M827.5 79V256" stroke="#ebebeb" stroke-width="1" fill="none"/>
<path d="M74 259.4L438.6 341.3" stroke="#9a9a9a" stroke-width="1" fill="none"/>
<path d="M438.6 341.3L929 279.9" stroke="#8a8a8a" stroke-width="1.2" fill="none"/>
<path d="M438.6 341.3l-4.8 -1.1M468.1 337.6l-2.9 -0.7M485.4 335.4l-2.9 -0.7M497.7 333.9l-2.9 -0.7M507.2 332.7l-2.9 -0.7M514.9 331.7l-2.9 -0.7M521.5 330.9l-2.9 -0.7M527.2 330.2l-2.9 -0.7M532.2 329.6l-2.9 -0.7M536.7 329.0l-4.8 -1.1M566.2 325.3l-2.9 -0.7M583.5 323.2l-2.9 -0.7M595.8 321.6l-2.9 -0.7M605.3 320.4l-2.9 -0.7M613.0 319.5l-2.9 -0.7M619.6 318.6l-2.9 -0.7M625.3 317.9l-2.9 -0.7M630.3 317.3l-2.9 -0.7M634.8 316.7l-4.8 -1.1M664.3 313.0l-2.9 -0.7M681.6 310.9l-2.9 -0.7M693.9 309.3l-2.9 -0.7M703.4 308.2l-2.9 -0.7M711.1 307.2l-2.9 -0.7M717.7 306.4l-2.9 -0.7M723.4 305.7l-2.9 -0.7M728.4 305.0l-2.9 -0.7M732.9 304.5l-4.8 -1.1M762.4 300.8l-2.9 -0.7M779.7 298.6l-2.9 -0.7M792.0 297.1l-2.9 -0.7M801.5 295.9l-2.9 -0.7M809.2 294.9l-2.9 -0.7M815.8 294.1l-2.9 -0.7M821.5 293.4l-2.9 -0.7M826.5 292.7l-2.9 -0.7M831.0 292.2l-4.8 -1.1M860.5 288.5l-2.9 -0.7M877.8 286.3l-2.9 -0.7M890.1 284.8l-2.9 -0.7M899.6 283.6l-2.9 -0.7M907.3 282.6l-2.9 -0.7M913.9 281.8l-2.9 -0.7M919.6 281.1l-2.9 -0.7" stroke="#777" stroke-width="1" fill="none"/>
<path d="M74.0 259.4l-11.5 1.45M165.2 279.9l-11.5 1.45M256.3 300.3l-11.5 1.45M347.4 320.8l-11.5 1.45M438.6 341.3l-11.5 1.45" stroke="#b0b0b0" stroke-width="1.2" fill="none"/>
<g stroke="#000" stroke-width="0.90" stroke-opacity="0.72" stroke-linejoin="round"><polygon points="547.1,188.4 638.2,207.2 645.8,206.1 554.7,187.4" fill="#4537d5"/><polygon points="539.4,189.5 630.6,208.2 638.2,207.2 547.1,188.4" fill="#4537d5"/><polygon points="531.8,190.5 623.0,209.3 630.6,208.2 539.4,189.5" fill="#4537d5"/><polygon points="524.2,191.6 615.3,210.4 623.0,209.3 531.8,190.5" fill="#4537d5"/><polygon points="516.5,192.6 607.7,211.4 615.3,210.4 524.2,191.6" fill="#4537d5"/><polygon points="508.9,193.7 600.1,212.6 607.7,211.4 516.5,192.6" fill="#4537d5"/><polygon points="501.3,194.8 592.4,213.7 600.1,212.6 508.9,193.7" fill="#4537d5"/><polygon points="493.6,196.0 584.8,214.9 592.4,213.7 501.3,194.8" fill="#4537d5"/><polygon points="486.0,197.1 577.2,216.0 584.8,214.9 493.6,196.0" fill="#4537d5"/><polygon points="478.4,198.3 569.5,217.3 577.2,216.0 486.0,197.1" fill="#4537d5"/><polygon points="470.8,199.5 561.9,218.5 569.5,217.3 478.4,198.3" fill="#4537d5"/><polygon points="463.1,200.8 554.3,219.8 561.9,218.5 470.8,199.5" fill="#4537d5"/><polygon points="455.5,202.0 546.6,221.1 554.3,219.8 463.1,200.8" fill="#4332cb"/><polygon points="447.9,203.3 539.0,222.5 546.6,221.1 455.5,202.0" fill="#4332cb"/><polygon points="440.2,204.7 531.4,223.9 539.0,222.5 447.9,203.3" fill="#4332cb"/><polygon points="432.6,206.1 523.8,225.3 531.4,223.9 440.2,204.7" fill="#4332cb"/><polygon points="425.0,207.5 516.1,226.8 523.8,225.3 432.6,206.1" fill="#4332cb"/><polygon points="417.3,208.9 508.5,228.3 516.1,226.8 425.0,207.5" fill="#4332cb"/><polygon points="409.7,210.4 500.9,229.9 508.5,228.3 417.3,208.9" fill="#422ec0"/><polygon points="402.1,212.0 493.2,231.6 500.9,229.9 409.7,210.4" fill="#422ec0"/><polygon points="394.5,213.6 485.6,233.4 493.2,231.6 402.1,212.0" fill="#422ec0"/><polygon points="386.8,215.3 478.0,235.4 485.6,233.4 394.5,213.6" fill="#422ec0"/><polygon points="638.2,207.2 729.4,225.9 737.0,224.9 645.8,206.1" fill="#463cde"/><polygon points="379.2,217.3 470.3,237.6 478.0,235.4 386.8,215.3" fill="#402ab4"/><polygon points="630.6,208.2 721.7,227.0 729.4,225.9 638.2,207.2" fill="#463cde"/><polygon points="371.6,219.5 462.7,240.3 470.3,237.6 379.2,217.3" fill="#402ab4"/><polygon points="623.0,209.3 714.1,228.1 721.7,227.0 630.6,208.2" fill="#463cde"/><polygon points="363.9,222.1 455.1,243.5 462.7,240.3 371.6,219.5" fill="#3e26a8"/><polygon points="615.3,210.4 706.5,229.1 714.1,228.1 623.0,209.3" fill="#463cde"/><polygon points="356.3,222.7 447.5,241.2 455.1,243.5 363.9,222.1" fill="#3e26a8"/><polygon points="607.7,211.4 698.8,230.3 706.5,229.1 615.3,210.4" fill="#463cde"/><polygon points="348.7,220.4 439.8,237.5 447.5,241.2 356.3,222.7" fill="#402ab4"/><polygon points="600.1,212.6 691.2,231.4 698.8,230.3 607.7,211.4" fill="#463cde"/><polygon points="341.1,216.6 432.2,231.9 439.8,237.5 348.7,220.4" fill="#4332cb"/><polygon points="592.4,213.7 683.6,232.5 691.2,231.4 600.1,212.6" fill="#463cde"/><polygon points="333.4,210.8 424.6,223.5 432.2,231.9 341.1,216.6" fill="#4741e5"/><polygon points="584.8,214.9 676.0,233.7 683.6,232.5 592.4,213.7" fill="#463cde"/><polygon points="325.8,202.3 416.9,211.9 424.6,223.5 333.4,210.8" fill="#4852f4"/><polygon points="577.2,216.0 668.3,234.9 676.0,233.7 584.8,214.9" fill="#4537d5"/><polygon points="569.5,217.3 660.7,236.2 668.3,234.9 577.2,216.0" fill="#4537d5"/><polygon points="318.2,190.7 409.3,196.9 416.9,211.9 325.8,202.3" fill="#3e6fff"/><polygon points="561.9,218.5 653.1,237.5 660.7,236.2 569.5,217.3" fill="#4537d5"/><polygon points="310.5,175.7 401.7,178.9 409.3,196.9 318.2,190.7" fill="#2b91ef"/><polygon points="554.3,219.8 645.4,238.8 653.1,237.5 561.9,218.5" fill="#4537d5"/><polygon points="546.6,221.1 637.8,240.2 645.4,238.8 554.3,219.8" fill="#4537d5"/><polygon points="302.9,158.4 394.1,159.6 401.7,178.9 310.5,175.7" fill="#12b1d6"/><polygon points="539.0,222.5 630.2,241.6 637.8,240.2 546.6,221.1" fill="#4537d5"/><polygon points="295.3,140.1 386.4,141.1 394.1,159.6 302.9,158.4" fill="#2cc4a7"/><polygon points="531.4,223.9 622.5,243.1 630.2,241.6 539.0,222.5" fill="#4537d5"/><polygon points="523.8,225.3 614.9,244.6 622.5,243.1 531.4,223.9" fill="#4332cb"/><polygon points="287.6,123.1 378.8,125.4 386.4,141.1 295.3,140.1" fill="#72cd64"/><polygon points="516.1,226.8 607.3,246.1 614.9,244.6 523.8,225.3" fill="#4332cb"/><polygon points="508.5,228.3 599.6,247.8 607.3,246.1 516.1,226.8" fill="#4332cb"/><polygon points="280.0,109.2 371.2,113.9 378.8,125.4 287.6,123.1" fill="#c5c22a"/><polygon points="500.9,229.9 592.0,249.5 599.6,247.8 508.5,228.3" fill="#4332cb"/><polygon points="272.4,99.6 363.5,107.3 371.2,113.9 280.0,109.2" fill="#f0ba36"/><polygon points="493.2,231.6 584.4,251.4 592.0,249.5 500.9,229.9" fill="#422ec0"/><polygon points="264.8,95.0 355.9,105.9 363.5,107.3 272.4,99.6" fill="#fec338"/><polygon points="485.6,233.4 576.8,253.4 584.4,251.4 493.2,231.6" fill="#422ec0"/><polygon points="257.1,95.8 348.3,109.8 355.9,105.9 264.8,95.0" fill="#fec338"/><polygon points="478.0,235.4 569.1,255.7 576.8,253.4 485.6,233.4" fill="#422ec0"/><polygon points="249.5,102.3 340.6,119.4 348.3,109.8 257.1,95.8" fill="#f8ba3d"/><polygon points="729.4,225.9 820.5,244.7 828.1,243.6 737.0,224.9" fill="#4741e5"/><polygon points="470.3,237.6 561.5,258.4 569.1,255.7 478.0,235.4" fill="#402ab4"/><polygon points="241.9,114.8 333.0,134.6 340.6,119.4 249.5,102.3" fill="#dcbd29"/><polygon points="234.2,133.0 325.4,154.6 333.0,134.6 241.9,114.8" fill="#8fcb4e"/><polygon points="721.7,227.0 812.9,245.7 820.5,244.7 729.4,225.9" fill="#4741e5"/><polygon points="462.7,240.3 553.9,261.7 561.5,258.4 470.3,237.6" fill="#402ab4"/><polygon points="226.6,155.1 317.8,175.5 325.4,154.6 234.2,133.0" fill="#37c897"/><polygon points="219.0,170.8 310.1,190.7 317.8,175.5 226.6,155.1" fill="#01b8ca"/><polygon points="714.1,228.1 805.2,246.8 812.9,245.7 721.7,227.0" fill="#463cde"/><polygon points="455.1,243.5 546.2,262.1 553.9,261.7 462.7,240.3" fill="#3e26a8"/><polygon points="211.3,185.5 302.5,205.1 310.1,190.7 219.0,170.8" fill="#20a5e3"/><polygon points="706.5,229.1 797.6,247.9 805.2,246.8 714.1,228.1" fill="#463cde"/><polygon points="203.7,198.8 294.9,218.2 302.5,205.1 211.3,185.5" fill="#2d8cf3"/><polygon points="447.5,241.2 538.6,258.5 546.2,262.1 455.1,243.5" fill="#402ab4"/><polygon points="196.1,210.2 287.2,229.4 294.9,218.2 203.7,198.8" fill="#3e6fff"/><polygon points="698.8,230.3 790.0,249.1 797.6,247.9 706.5,229.1" fill="#463cde"/><polygon points="439.8,237.5 531.0,252.8 538.6,258.5 447.5,241.2" fill="#422ec0"/><polygon points="188.5,219.7 279.6,238.8 287.2,229.4 196.1,210.2" fill="#465efb"/><polygon points="691.2,231.4 782.4,250.2 790.0,249.1 698.8,230.3" fill="#463cde"/><polygon points="180.8,227.4 272.0,246.5 279.6,238.8 188.5,219.7" fill="#484df0"/><polygon points="432.2,231.9 523.4,244.5 531.0,252.8 439.8,237.5" fill="#463cde"/><polygon points="683.6,232.5 774.7,251.4 782.4,250.2 691.2,231.4" fill="#463cde"/><polygon points="173.2,233.4 264.3,252.7 272.0,246.5 180.8,227.4" fill="#4741e5"/><polygon points="424.6,223.5 515.7,232.9 523.4,244.5 432.2,231.9" fill="#4852f4"/><polygon points="165.6,238.2 256.7,257.6 264.3,252.7 173.2,233.4" fill="#4537d5"/><polygon points="676.0,233.7 767.1,252.6 774.7,251.4 683.6,232.5" fill="#463cde"/><polygon points="157.9,241.9 249.1,261.5 256.7,257.6 165.6,238.2" fill="#4332cb"/><polygon points="668.3,234.9 759.5,253.9 767.1,252.6 676.0,233.7" fill="#463cde"/><polygon points="416.9,211.9 508.1,217.5 515.7,232.9 424.6,223.5" fill="#4269fe"/><polygon points="150.3,244.9 241.4,264.6 249.1,261.5 157.9,241.9" fill="#422ec0"/><polygon points="660.7,236.2 751.8,255.1 759.5,253.9 668.3,234.9" fill="#463cde"/><polygon points="409.3,196.9 500.5,198.8 508.1,217.5 416.9,211.9" fill="#2d8cf3"/><polygon points="142.7,247.3 233.8,267.1 241.4,264.6 150.3,244.9" fill="#402ab4"/><polygon points="653.1,237.5 744.2,256.5 751.8,255.1 660.7,236.2" fill="#463cde"/><polygon points="135.0,249.3 226.2,269.2 233.8,267.1 142.7,247.3" fill="#402ab4"/><polygon points="645.4,238.8 736.6,257.8 744.2,256.5 653.1,237.5" fill="#463cde"/><polygon points="401.7,178.9 492.8,178.2 500.5,198.8 409.3,196.9" fill="#12b1d6"/><polygon points="127.4,251.0 218.6,271.0 226.2,269.2 135.0,249.3" fill="#3e26a8"/><polygon points="637.8,240.2 729.0,259.3 736.6,257.8 645.4,238.8" fill="#4537d5"/><polygon points="119.8,252.4 210.9,272.6 218.6,271.0 127.4,251.0" fill="#3e26a8"/><polygon points="394.1,159.6 485.2,157.9 492.8,178.2 401.7,178.9" fill="#2cc4a7"/><polygon points="630.2,241.6 721.3,260.7 729.0,259.3 637.8,240.2" fill="#4537d5"/><polygon points="112.1,253.8 203.3,274.0 210.9,272.6 119.8,252.4" fill="#3e26a8"/><polygon points="622.5,243.1 713.7,262.3 721.3,260.7 630.2,241.6" fill="#4537d5"/><polygon points="386.4,141.1 477.6,140.1 485.2,157.9 394.1,159.6" fill="#81cc59"/><polygon points="104.5,255.0 195.7,275.3 203.3,274.0 112.1,253.8" fill="#3e26a8"/><polygon points="614.9,244.6 706.1,263.9 713.7,262.3 622.5,243.1" fill="#4537d5"/><polygon points="96.9,256.1 188.0,276.4 195.7,275.3 104.5,255.0" fill="#3e26a8"/><polygon points="607.3,246.1 698.4,265.5 706.1,263.9 614.9,244.6" fill="#4537d5"/><polygon points="378.8,125.4 469.9,126.5 477.6,140.1 386.4,141.1" fill="#d1bf27"/><polygon points="89.3,257.2 180.4,277.6 188.0,276.4 96.9,256.1" fill="#3e26a8"/><polygon points="599.6,247.8 690.8,267.3 698.4,265.5 607.3,246.1" fill="#4332cb"/><polygon points="371.2,113.9 462.3,117.8 469.9,126.5 378.8,125.4" fill="#febe3c"/><polygon points="81.6,258.2 172.8,278.6 180.4,277.6 89.3,257.2" fill="#3e26a8"/><polygon points="592.0,249.5 683.2,269.2 690.8,267.3 599.6,247.8" fill="#4332cb"/><polygon points="74.0,259.3 165.2,279.7 172.8,278.6 81.6,258.2" fill="#3e26a8"/><polygon points="363.5,107.3 454.7,114.3 462.3,117.8 371.2,113.9" fill="#fad62d"/><polygon points="584.4,251.4 675.5,271.2 683.2,269.2 592.0,249.5" fill="#4332cb"/><polygon points="355.9,105.9 447.1,116.0 454.7,114.3 363.5,107.3" fill="#f7dc2a"/><polygon points="576.8,253.4 667.9,273.6 675.5,271.2 584.4,251.4" fill="#422ec0"/><polygon points="348.3,109.8 439.4,123.0 447.1,116.0 355.9,105.9" fill="#fad62d"/><polygon points="569.1,255.7 660.3,276.3 667.9,273.6 576.8,253.4" fill="#422ec0"/><polygon points="340.6,119.4 431.8,135.5 439.4,123.0 348.3,109.8" fill="#fec338"/><polygon points="820.5,244.7 911.7,263.4 919.3,262.4 828.1,243.6" fill="#4741e5"/><polygon points="561.5,258.4 652.6,279.5 660.3,276.3 569.1,255.7" fill="#402ab4"/><polygon points="333.0,134.6 424.2,153.2 431.8,135.5 340.6,119.4" fill="#e6bb2d"/><polygon points="325.4,154.6 416.5,174.8 424.2,153.2 333.0,134.6" fill="#8fcb4e"/><polygon points="812.9,245.7 904.0,264.5 911.7,263.4 820.5,244.7" fill="#4741e5"/><polygon points="553.9,261.7 645.0,283.3 652.6,279.5 561.5,258.4" fill="#3e26a8"/><polygon points="317.8,175.5 408.9,194.1 416.5,174.8 325.4,154.6" fill="#37c897"/><polygon points="310.1,190.7 401.3,209.4 408.9,194.1 317.8,175.5" fill="#01b8ca"/><polygon points="805.2,246.8 896.4,265.6 904.0,264.5 812.9,245.7" fill="#4741e5"/><polygon points="546.2,262.1 637.4,279.8 645.0,283.3 553.9,261.7" fill="#3e26a8"/><polygon points="302.5,205.1 393.6,223.8 401.3,209.4 310.1,190.7" fill="#20a5e3"/><polygon points="797.6,247.9 888.8,266.7 896.4,265.6 805.2,246.8" fill="#4741e5"/><polygon points="294.9,218.2 386.0,236.8 393.6,223.8 302.5,205.1" fill="#2d8cf3"/><polygon points="538.6,258.5 629.8,274.4 637.4,279.8 546.2,262.1" fill="#422ec0"/><polygon points="287.2,229.4 378.4,248.0 386.0,236.8 294.9,218.2" fill="#3875fe"/><polygon points="790.0,249.1 881.1,267.9 888.8,266.7 797.6,247.9" fill="#4741e5"/><polygon points="531.0,252.8 622.1,266.3 629.8,274.4 538.6,258.5" fill="#4537d5"/><polygon points="279.6,238.8 370.8,257.5 378.4,248.0 287.2,229.4" fill="#4563fd"/><polygon points="782.4,250.2 873.5,269.0 881.1,267.9 790.0,249.1" fill="#4741e5"/><polygon points="272.0,246.5 363.1,265.3 370.8,257.5 279.6,238.8" fill="#4852f4"/><polygon points="523.4,244.5 614.5,254.8 622.1,266.3 531.0,252.8" fill="#484df0"/><polygon points="774.7,251.4 865.9,270.2 873.5,269.0 782.4,250.2" fill="#4741e5"/><polygon points="264.3,252.7 355.5,271.6 363.1,265.3 272.0,246.5" fill="#4741e5"/><polygon points="256.7,257.6 347.9,276.7 355.5,271.6 264.3,252.7" fill="#463cde"/><polygon points="767.1,252.6 858.2,271.5 865.9,270.2 774.7,251.4" fill="#4741e5"/><polygon points="515.7,232.9 606.9,239.5 614.5,254.8 523.4,244.5" fill="#4269fe"/><polygon points="249.1,261.5 340.2,280.8 347.9,276.7 256.7,257.6" fill="#4332cb"/><polygon points="759.5,253.9 850.6,272.8 858.2,271.5 767.1,252.6" fill="#4741e5"/><polygon points="508.1,217.5 599.2,220.6 606.9,239.5 515.7,232.9" fill="#2d8cf3"/><polygon points="241.4,264.6 332.6,284.1 340.2,280.8 249.1,261.5" fill="#422ec0"/><polygon points="751.8,255.1 843.0,274.1 850.6,272.8 759.5,253.9" fill="#4741e5"/><polygon points="233.8,267.1 325.0,286.8 332.6,284.1 241.4,264.6" fill="#422ec0"/><polygon points="744.2,256.5 835.4,275.4 843.0,274.1 751.8,255.1" fill="#463cde"/><polygon points="500.5,198.8 591.6,199.3 599.2,220.6 508.1,217.5" fill="#18addb"/><polygon points="226.2,269.2 317.3,289.1 325.0,286.8 233.8,267.1" fill="#402ab4"/><polygon points="736.6,257.8 827.7,276.9 835.4,275.4 744.2,256.5" fill="#463cde"/><polygon points="218.6,271.0 309.7,291.0 317.3,289.1 226.2,269.2" fill="#402ab4"/><polygon points="492.8,178.2 584.0,177.7 591.6,199.3 500.5,198.8" fill="#2cc4a7"/><polygon points="729.0,259.3 820.1,278.3 827.7,276.9 736.6,257.8" fill="#463cde"/><polygon points="210.9,272.6 302.1,292.7 309.7,291.0 218.6,271.0" fill="#3e26a8"/><polygon points="721.3,260.7 812.5,279.9 820.1,278.3 729.0,259.3" fill="#463cde"/><polygon points="485.2,157.9 576.4,158.2 584.0,177.7 492.8,178.2" fill="#81cc59"/><polygon points="203.3,274.0 294.4,294.2 302.1,292.7 210.9,272.6" fill="#3e26a8"/><polygon points="713.7,262.3 804.8,281.5 812.5,279.9 721.3,260.7" fill="#463cde"/><polygon points="195.7,275.3 286.8,295.5 294.4,294.2 203.3,274.0" fill="#3e26a8"/><polygon points="706.1,263.9 797.2,283.2 804.8,281.5 713.7,262.3" fill="#4537d5"/><polygon points="477.6,140.1 568.7,142.7 576.4,158.2 485.2,157.9" fill="#e6bb2d"/><polygon points="188.0,276.4 279.2,296.7 286.8,295.5 195.7,275.3" fill="#3e26a8"/><polygon points="698.4,265.5 789.6,284.9 797.2,283.2 706.1,263.9" fill="#4537d5"/><polygon points="469.9,126.5 561.1,132.1 568.7,142.7 477.6,140.1" fill="#fec934"/><polygon points="180.4,277.6 271.6,297.9 279.2,296.7 188.0,276.4" fill="#3e26a8"/><polygon points="690.8,267.3 782.0,286.8 789.6,284.9 698.4,265.5" fill="#4537d5"/><polygon points="172.8,278.6 263.9,299.0 271.6,297.9 180.4,277.6" fill="#3e26a8"/><polygon points="462.3,117.8 553.5,126.6 561.1,132.1 469.9,126.5" fill="#f5e327"/><polygon points="683.2,269.2 774.3,288.9 782.0,286.8 690.8,267.3" fill="#4332cb"/><polygon points="165.2,279.7 256.3,300.1 263.9,299.0 172.8,278.6" fill="#3e26a8"/><polygon points="675.5,271.2 766.7,291.2 774.3,288.9 683.2,269.2" fill="#4332cb"/><polygon points="454.7,114.3 545.8,126.3 553.5,126.6 462.3,117.8" fill="#f6ef20"/><polygon points="667.9,273.6 759.1,293.8 766.7,291.2 675.5,271.2" fill="#422ec0"/><polygon points="447.1,116.0 538.2,131.0 545.8,126.3 454.7,114.3" fill="#f6ef20"/><polygon points="660.3,276.3 751.4,297.0 759.1,293.8 667.9,273.6" fill="#422ec0"/><polygon points="439.4,123.0 530.6,140.7 538.2,131.0 447.1,116.0" fill="#f5e924"/><polygon points="431.8,135.5 522.9,155.6 530.6,140.7 439.4,123.0" fill="#fccf30"/><polygon points="652.6,279.5 743.8,300.9 751.4,297.0 660.3,276.3" fill="#402ab4"/><polygon points="424.2,153.2 515.3,175.0 522.9,155.6 431.8,135.5" fill="#e6bb2d"/><polygon points="416.5,174.8 507.7,197.3 515.3,175.0 424.2,153.2" fill="#8fcb4e"/><polygon points="645.0,283.3 736.2,302.0 743.8,300.9 652.6,279.5" fill="#3e26a8"/><polygon points="408.9,194.1 500.0,214.4 507.7,197.3 416.5,174.8" fill="#37c897"/><polygon points="401.3,209.4 492.4,229.5 500.0,214.4 408.9,194.1" fill="#02bac3"/><polygon points="637.4,279.8 728.5,297.1 736.2,302.0 645.0,283.3" fill="#402ab4"/><polygon points="393.6,223.8 484.8,243.6 492.4,229.5 401.3,209.4" fill="#1ca9df"/><polygon points="386.0,236.8 477.2,256.3 484.8,243.6 393.6,223.8" fill="#2b91ef"/><polygon points="629.8,274.4 720.9,289.9 728.5,297.1 637.4,279.8" fill="#4332cb"/><polygon points="378.4,248.0 469.5,267.3 477.2,256.3 386.0,236.8" fill="#327cfc"/><polygon points="370.8,257.5 461.9,276.7 469.5,267.3 378.4,248.0" fill="#4563fd"/><polygon points="622.1,266.3 713.3,279.5 720.9,289.9 629.8,274.4" fill="#4747eb"/><polygon points="363.1,265.3 454.3,284.5 461.9,276.7 370.8,257.5" fill="#4852f4"/><polygon points="614.5,254.8 705.7,265.5 713.3,279.5 622.1,266.3" fill="#465efb"/><polygon points="355.5,271.6 446.6,290.9 454.3,284.5 363.1,265.3" fill="#4747eb"/><polygon points="347.9,276.7 439.0,296.1 446.6,290.9 355.5,271.6" fill="#463cde"/><polygon points="606.9,239.5 698.0,247.8 705.7,265.5 614.5,254.8" fill="#2f81fa"/><polygon points="340.2,280.8 431.4,300.3 439.0,296.1 347.9,276.7" fill="#4537d5"/><polygon points="332.6,284.1 423.8,303.7 431.4,300.3 340.2,280.8" fill="#4332cb"/><polygon points="599.2,220.6 690.4,227.4 698.0,247.8 606.9,239.5" fill="#20a5e3"/><polygon points="325.0,286.8 416.1,306.6 423.8,303.7 332.6,284.1" fill="#422ec0"/><polygon points="591.6,199.3 682.8,206.2 690.4,227.4 599.2,220.6" fill="#19bfb6"/><polygon points="317.3,289.1 408.5,309.0 416.1,306.6 325.0,286.8" fill="#402ab4"/><polygon points="309.7,291.0 400.9,311.0 408.5,309.0 317.3,289.1" fill="#402ab4"/><polygon points="584.0,177.7 675.1,186.6 682.8,206.2 591.6,199.3" fill="#64cd6f"/><polygon points="302.1,292.7 393.2,312.8 400.9,311.0 309.7,291.0" fill="#3e26a8"/><polygon points="294.4,294.2 385.6,314.3 393.2,312.8 302.1,292.7" fill="#3e26a8"/><polygon points="576.4,158.2 667.5,170.5 675.1,186.6 584.0,177.7" fill="#d1bf27"/><polygon points="286.8,295.5 378.0,315.7 385.6,314.3 294.4,294.2" fill="#3e26a8"/><polygon points="568.7,142.7 659.9,158.9 667.5,170.5 576.4,158.2" fill="#fec338"/><polygon points="279.2,296.7 370.3,317.0 378.0,315.7 286.8,295.5" fill="#3e26a8"/><polygon points="271.6,297.9 362.7,318.2 370.3,317.0 279.2,296.7" fill="#3e26a8"/><polygon points="561.1,132.1 652.2,152.1 659.9,158.9 568.7,142.7" fill="#f5e327"/><polygon points="263.9,299.0 355.1,319.4 362.7,318.2 271.6,297.9" fill="#3e26a8"/><polygon points="553.5,126.6 644.6,150.0 652.2,152.1 561.1,132.1" fill="#f7f51b"/><polygon points="256.3,300.1 347.4,320.5 355.1,319.4 263.9,299.0" fill="#3e26a8"/><polygon points="545.8,126.3 637.0,152.5 644.6,150.0 553.5,126.6" fill="#f7f51b"/><polygon points="538.2,131.0 629.4,159.4 637.0,152.5 545.8,126.3" fill="#f7f51b"/><polygon points="530.6,140.7 621.7,170.9 629.4,159.4 538.2,131.0" fill="#f5e327"/><polygon points="522.9,155.6 614.1,186.6 621.7,170.9 530.6,140.7" fill="#fec338"/><polygon points="515.3,175.0 606.5,205.8 614.1,186.6 522.9,155.6" fill="#d1bf27"/><polygon points="507.7,197.3 598.8,226.5 606.5,205.8 515.3,175.0" fill="#72cd64"/><polygon points="500.0,214.4 591.2,240.8 598.8,226.5 507.7,197.3" fill="#2cc4a7"/><polygon points="492.4,229.5 583.6,254.7 591.2,240.8 500.0,214.4" fill="#01b8ca"/><polygon points="484.8,243.6 575.9,267.6 583.6,254.7 492.4,229.5" fill="#20a5e3"/><polygon points="477.2,256.3 568.3,279.3 575.9,267.6 484.8,243.6" fill="#2d8cf3"/><polygon points="469.5,267.3 560.7,289.4 568.3,279.3 477.2,256.3" fill="#3875fe"/><polygon points="461.9,276.7 553.1,298.1 560.7,289.4 469.5,267.3" fill="#4563fd"/><polygon points="454.3,284.5 545.4,305.4 553.1,298.1 461.9,276.7" fill="#4852f4"/><polygon points="446.6,290.9 537.8,311.4 545.4,305.4 454.3,284.5" fill="#4747eb"/><polygon points="439.0,296.1 530.2,316.4 537.8,311.4 446.6,290.9" fill="#463cde"/><polygon points="431.4,300.3 522.5,320.5 530.2,316.4 439.0,296.1" fill="#4537d5"/><polygon points="423.8,303.7 514.9,323.9 522.5,320.5 431.4,300.3" fill="#4332cb"/><polygon points="416.1,306.6 507.3,326.8 514.9,323.9 423.8,303.7" fill="#422ec0"/><polygon points="408.5,309.0 499.6,329.2 507.3,326.8 416.1,306.6" fill="#402ab4"/><polygon points="400.9,311.0 492.0,331.2 499.6,329.2 408.5,309.0" fill="#402ab4"/><polygon points="393.2,312.8 484.4,333.0 492.0,331.2 400.9,311.0" fill="#402ab4"/><polygon points="385.6,314.3 476.8,334.6 484.4,333.0 393.2,312.8" fill="#3e26a8"/><polygon points="378.0,315.7 469.1,336.0 476.8,334.6 385.6,314.3" fill="#3e26a8"/><polygon points="370.3,317.0 461.5,337.4 469.1,336.0 378.0,315.7" fill="#3e26a8"/><polygon points="362.7,318.2 453.9,338.6 461.5,337.4 370.3,317.0" fill="#3e26a8"/><polygon points="355.1,319.4 446.2,339.7 453.9,338.6 362.7,318.2" fill="#3e26a8"/><polygon points="347.4,320.5 438.6,340.8 446.2,339.7 355.1,319.4" fill="#3e26a8"/></g>
<text x="88.5" y="58" class="lab" font-size="42.5" textLength="48.5" lengthAdjust="spacingAndGlyphs">(a)</text>
<text x="55.2" y="84.8" class="tk" text-anchor="end">4</text>
<text x="55.2" y="174.5" class="tk" text-anchor="end">2</text>
<text x="55.2" y="264.0" class="tk" text-anchor="end">0</text>
<text x="35.0" y="282.6" class="tk">30</text>
<text x="127.5" y="305.3" class="tk">25</text>
<text x="220.0" y="324.6" class="tk">20</text>
<text x="311.0" y="345.8" class="tk">15</text>
<text x="403.8" y="365.0" class="tk">10</text>
<text x="458.0" y="372.9" class="tk">10<tspan dy="-8" font-size="13">2</tspan></text>
<text x="552.6" y="359.4" class="tk">10<tspan dy="-8" font-size="13">3</tspan></text>
<text x="649.0" y="345.8" class="tk">10<tspan dy="-8" font-size="13">4</tspan></text>
<text x="745.0" y="334.2" class="tk">10<tspan dy="-8" font-size="13">5</tspan></text>
<text x="840.5" y="322.6" class="tk">10<tspan dy="-8" font-size="13">6</tspan></text>
<text x="937.0" y="309.0" class="tk">10<tspan dy="-8" font-size="13">7</tspan></text>
<text x="63.8" y="373" class="al" textLength="315" lengthAdjust="spacingAndGlyphs">Gap between the Electrodes (<tspan font-style="italic" font-family="Liberation Serif">µ</tspan>m)</text>
<text x="694.4" y="361" class="al" textLength="143" lengthAdjust="spacingAndGlyphs">Frequency (Hz)</text>
<text transform="translate(31 170) rotate(-90)" class="al" text-anchor="middle" textLength="174" lengthAdjust="spacingAndGlyphs" font-size="20">Sensitivity<tspan dy="5" font-size="13">|X|</tspan><tspan dy="-5"> (%)</tspan></text>
<rect x="1045.7" y="26.8" width="444.7" height="361.5" fill="none" stroke="#000" stroke-width="2.2"/>
<path d="M1045.7 27.0h6M1490.4 27.0h-6M1045.7 75.3h6M1490.4 75.3h-6M1045.7 123.5h6M1490.4 123.5h-6M1045.7 171.8h6M1490.4 171.8h-6M1045.7 220.0h6M1490.4 220.0h-6M1045.7 268.3h6M1490.4 268.3h-6M1045.7 316.6h6M1490.4 316.6h-6M1045.7 364.8h6M1490.4 364.8h-6M1070.0 388.3v-6M1070.0 26.8v6M1168.8 388.3v-6M1168.8 26.8v6M1267.6 388.3v-6M1267.6 26.8v6M1366.4 388.3v-6M1366.4 26.8v6M1465.2 388.3v-6M1465.2 26.8v6M1119.4 388.3v-3.5M1119.4 26.8v3.5M1218.2 388.3v-3.5M1218.2 26.8v3.5M1317.0 388.3v-3.5M1317.0 26.8v3.5M1415.8 388.3v-3.5M1415.8 26.8v3.5M1045.7 51.1h3.5M1490.4 51.1h-3.5M1045.7 99.4h3.5M1490.4 99.4h-3.5M1045.7 147.6h3.5M1490.4 147.6h-3.5M1045.7 195.9h3.5M1490.4 195.9h-3.5M1045.7 244.2h3.5M1490.4 244.2h-3.5M1045.7 292.4h3.5M1490.4 292.4h-3.5M1045.7 340.7h3.5M1490.4 340.7h-3.5" stroke="#000" stroke-width="2"/>
<text x="1038.5" y="32.5" class="ptk" text-anchor="end">4.0</text>
<text x="1038.5" y="80.8" class="ptk" text-anchor="end">3.8</text>
<text x="1038.5" y="129.0" class="ptk" text-anchor="end">3.6</text>
<text x="1038.5" y="177.3" class="ptk" text-anchor="end">3.4</text>
<text x="1038.5" y="225.5" class="ptk" text-anchor="end">3.2</text>
<text x="1038.5" y="273.8" class="ptk" text-anchor="end">3.0</text>
<text x="1038.5" y="322.1" class="ptk" text-anchor="end">2.8</text>
<text x="1038.5" y="370.3" class="ptk" text-anchor="end">2.6</text>
<text x="1070.0" y="411.0" class="ptk" text-anchor="middle">10</text>
<text x="1168.8" y="411.0" class="ptk" text-anchor="middle">20</text>
<text x="1267.6" y="411.0" class="ptk" text-anchor="middle">30</text>
<text x="1366.4" y="411.0" class="ptk" text-anchor="middle">40</text>
<text x="1465.2" y="411.0" class="ptk" text-anchor="middle">50</text>

<polyline points="1070.0,184.8 1119.4,136.1 1168.8,117.7 1218.2,100.4 1267.6,94.8 1317.0,92.2 1366.4,88.8 1415.8,87.3 1465.2,86.1" fill="none" stroke="#6a6a6a" stroke-width="1.2"/>
<polyline points="1070.0,160.4 1119.4,113.6 1168.8,94.3 1218.2,80.8 1267.6,74.3 1317.0,68.7 1366.4,66.1 1415.8,65.6 1465.2,64.4" fill="none" stroke="#ff7070" stroke-width="1.2"/>
<polyline points="1070.0,179.0 1119.4,144.8 1168.8,128.6 1218.2,123.0 1267.6,118.7 1317.0,118.2 1366.4,117.5 1415.8,116.0 1465.2,114.4" fill="none" stroke="#7878ff" stroke-width="1.2"/>
<polyline points="1070.0,231.6 1119.4,206.0 1168.8,193.0 1218.2,188.7 1267.6,187.0 1317.0,187.0 1366.4,185.8 1415.8,184.8 1465.2,184.8" fill="none" stroke="#ff78ff" stroke-width="1.2"/>
<polyline points="1070.0,280.8 1119.4,262.5 1168.8,254.3 1218.2,252.1 1267.6,248.8 1317.0,248.3 1366.4,247.8 1415.8,246.6 1465.2,245.6" fill="none" stroke="#5aaa5a" stroke-width="1.2"/>
<rect x="1066.1" y="180.9" width="7.8" height="7.8" fill="#000000"/>
<rect x="1115.5" y="132.2" width="7.8" height="7.8" fill="#000000"/>
<rect x="1164.9" y="113.8" width="7.8" height="7.8" fill="#000000"/>
<rect x="1214.3" y="96.5" width="7.8" height="7.8" fill="#000000"/>
<rect x="1263.7" y="90.9" width="7.8" height="7.8" fill="#000000"/>
<rect x="1313.1" y="88.3" width="7.8" height="7.8" fill="#000000"/>
<rect x="1362.5" y="84.9" width="7.8" height="7.8" fill="#000000"/>
<rect x="1411.9" y="83.4" width="7.8" height="7.8" fill="#000000"/>
<rect x="1461.3" y="82.2" width="7.8" height="7.8" fill="#000000"/>
<circle cx="1070.0" cy="160.4" r="4.6" fill="#ff0000"/>
<circle cx="1119.4" cy="113.6" r="4.6" fill="#ff0000"/>
<circle cx="1168.8" cy="94.3" r="4.6" fill="#ff0000"/>
<circle cx="1218.2" cy="80.8" r="4.6" fill="#ff0000"/>
<circle cx="1267.6" cy="74.3" r="4.6" fill="#ff0000"/>
<circle cx="1317.0" cy="68.7" r="4.6" fill="#ff0000"/>
<circle cx="1366.4" cy="66.1" r="4.6" fill="#ff0000"/>
<circle cx="1415.8" cy="65.6" r="4.6" fill="#ff0000"/>
<circle cx="1465.2" cy="64.4" r="4.6" fill="#ff0000"/>
<path d="M1070.0 173.6l5 8.8h-10z" fill="#0000ff"/>
<path d="M1119.4 139.4l5 8.8h-10z" fill="#0000ff"/>
<path d="M1168.8 123.2l5 8.8h-10z" fill="#0000ff"/>
<path d="M1218.2 117.6l5 8.8h-10z" fill="#0000ff"/>
<path d="M1267.6 113.3l5 8.8h-10z" fill="#0000ff"/>
<path d="M1317.0 112.8l5 8.8h-10z" fill="#0000ff"/>
<path d="M1366.4 112.1l5 8.8h-10z" fill="#0000ff"/>
<path d="M1415.8 110.6l5 8.8h-10z" fill="#0000ff"/>
<path d="M1465.2 109.0l5 8.8h-10z" fill="#0000ff"/>
<path d="M1070.0 237.0l5 -8.8h-10z" fill="#ff00ff"/>
<path d="M1119.4 211.4l5 -8.8h-10z" fill="#ff00ff"/>
<path d="M1168.8 198.4l5 -8.8h-10z" fill="#ff00ff"/>
<path d="M1218.2 194.1l5 -8.8h-10z" fill="#ff00ff"/>
<path d="M1267.6 192.4l5 -8.8h-10z" fill="#ff00ff"/>
<path d="M1317.0 192.4l5 -8.8h-10z" fill="#ff00ff"/>
<path d="M1366.4 191.2l5 -8.8h-10z" fill="#ff00ff"/>
<path d="M1415.8 190.2l5 -8.8h-10z" fill="#ff00ff"/>
<path d="M1465.2 190.2l5 -8.8h-10z" fill="#ff00ff"/>
<path d="M1070.0 275.6l5.2 5.2l-5.2 5.2l-5.2 -5.2z" fill="#008000"/>
<path d="M1119.4 257.3l5.2 5.2l-5.2 5.2l-5.2 -5.2z" fill="#008000"/>
<path d="M1168.8 249.1l5.2 5.2l-5.2 5.2l-5.2 -5.2z" fill="#008000"/>
<path d="M1218.2 246.9l5.2 5.2l-5.2 5.2l-5.2 -5.2z" fill="#008000"/>
<path d="M1267.6 243.6l5.2 5.2l-5.2 5.2l-5.2 -5.2z" fill="#008000"/>
<path d="M1317.0 243.1l5.2 5.2l-5.2 5.2l-5.2 -5.2z" fill="#008000"/>
<path d="M1366.4 242.6l5.2 5.2l-5.2 5.2l-5.2 -5.2z" fill="#008000"/>
<path d="M1415.8 241.4l5.2 5.2l-5.2 5.2l-5.2 -5.2z" fill="#008000"/>
<path d="M1465.2 240.4l5.2 5.2l-5.2 5.2l-5.2 -5.2z" fill="#008000"/>
<rect x="1316.5" y="263.0" width="159.5" height="117.4" fill="#fff" stroke="#b4b4b4" stroke-width="1.6"/>
<path d="M1326.5 280.4H1363.0" stroke="#6a6a6a" stroke-width="1.2"/>
<rect x="1340.8" y="276.5" width="7.8" height="7.8" fill="#000000"/>
<text x="1368.7" y="286.4" class="lg" textLength="101.0" lengthAdjust="spacingAndGlyphs">Gap = 10 <tspan font-family="Liberation Serif">µ</tspan>m</text>
<path d="M1326.5 303.0H1363.0" stroke="#ff7070" stroke-width="1.2"/>
<circle cx="1344.8" cy="303.0" r="4.6" fill="#ff0000"/>
<text x="1368.7" y="309.0" class="lg" textLength="101.0" lengthAdjust="spacingAndGlyphs">Gap = 15 <tspan font-family="Liberation Serif">µ</tspan>m</text>
<path d="M1326.5 325.7H1363.0" stroke="#7878ff" stroke-width="1.2"/>
<path d="M1344.8 320.3l5 8.8h-10z" fill="#0000ff"/>
<text x="1368.7" y="331.7" class="lg" textLength="101.0" lengthAdjust="spacingAndGlyphs">Gap = 20 <tspan font-family="Liberation Serif">µ</tspan>m</text>
<path d="M1326.5 347.8H1363.0" stroke="#ff78ff" stroke-width="1.2"/>
<path d="M1344.8 353.2l5 -8.8h-10z" fill="#ff00ff"/>
<text x="1368.7" y="353.8" class="lg" textLength="101.0" lengthAdjust="spacingAndGlyphs">Gap = 25 <tspan font-family="Liberation Serif">µ</tspan>m</text>
<path d="M1326.5 370.0H1363.0" stroke="#5aaa5a" stroke-width="1.2"/>
<path d="M1344.8 364.8l5.2 5.2l-5.2 5.2l-5.2 -5.2z" fill="#008000"/>
<text x="1368.7" y="376.0" class="lg" textLength="101.0" lengthAdjust="spacingAndGlyphs">Gap = 30 <tspan font-family="Liberation Serif">µ</tspan>m</text>
<text x="1072.5" y="58.3" class="lab" font-size="42" textLength="50" lengthAdjust="spacingAndGlyphs">(b)</text>
<text x="1163.5" y="52" class="ann" textLength="211" lengthAdjust="spacingAndGlyphs">At frequency = 12.6 kHz</text>
<text x="1268" y="444" class="pal" text-anchor="middle" textLength="279" lengthAdjust="spacingAndGlyphs">Length of the Electrode, L (<tspan font-family="Liberation Serif">µ</tspan>m)</text>
<text transform="translate(1003 221.7) rotate(-90)" class="pal" text-anchor="middle" textLength="156" lengthAdjust="spacingAndGlyphs">Sensitivity<tspan dy="4" font-size="15">|X|</tspan><tspan dy="-4"> (%)</tspan></text>
<rect x="1600.0" y="23.4" width="451.3" height="364.8" fill="none" stroke="#000" stroke-width="2.2"/>
<path d="M1600.0 59.9h6M2051.3 59.9h-6M1600.0 133.4h6M2051.3 133.4h-6M1600.0 206.9h6M2051.3 206.9h-6M1600.0 280.4h6M2051.3 280.4h-6M1600.0 353.9h6M2051.3 353.9h-6M1624.3 388.2v-6M1624.3 23.4v6M1724.8 388.2v-6M1724.8 23.4v6M1825.3 388.2v-6M1825.3 23.4v6M1925.8 388.2v-6M1925.8 23.4v6M2026.3 388.2v-6M2026.3 23.4v6M1674.5 388.2v-3.5M1674.5 23.4v3.5M1775.0 388.2v-3.5M1775.0 23.4v3.5M1875.5 388.2v-3.5M1875.5 23.4v3.5M1976.0 388.2v-3.5M1976.0 23.4v3.5M1600.0 96.6h3.5M2051.3 96.6h-3.5M1600.0 170.2h3.5M2051.3 170.2h-3.5M1600.0 243.6h3.5M2051.3 243.6h-3.5M1600.0 317.1h3.5M2051.3 317.1h-3.5" stroke="#000" stroke-width="2"/>
<text x="1592.0" y="65.4" class="ptk" text-anchor="end">0.04</text>
<text x="1592.0" y="138.9" class="ptk" text-anchor="end">0.03</text>
<text x="1592.0" y="212.4" class="ptk" text-anchor="end">0.02</text>
<text x="1592.0" y="285.9" class="ptk" text-anchor="end">0.01</text>
<text x="1592.0" y="359.4" class="ptk" text-anchor="end">0.00</text>
<text x="1624.3" y="411.0" class="ptk" text-anchor="middle">10</text>
<text x="1724.8" y="411.0" class="ptk" text-anchor="middle">20</text>
<text x="1825.3" y="411.0" class="ptk" text-anchor="middle">30</text>
<text x="1925.8" y="411.0" class="ptk" text-anchor="middle">40</text>
<text x="2026.3" y="411.0" class="ptk" text-anchor="middle">50</text>
<path d="M1600 317.8H2051" stroke="#000" stroke-width="1.8" stroke-dasharray="5 4"/>
<polyline points="1624.3,55.7 1674.5,150.9 1724.8,247.0 1775.0,283.9 1825.3,329.1 1875.5,335.2 1925.8,339.6 1976.0,345.7 2026.3,346.5" fill="none" stroke="#6a6a6a" stroke-width="1.2"/>
<polyline points="1624.3,66.5 1674.5,153.0 1724.8,254.8 1775.0,291.7 1825.3,317.8 1875.5,328.7 1925.8,343.5 1976.0,346.5 2026.3,345.7" fill="none" stroke="#ff7070" stroke-width="1.2"/>
<polyline points="1624.3,145.7 1674.5,198.7 1724.8,286.1 1775.0,327.0 1825.3,342.2 1875.5,347.8 1925.8,344.3 1976.0,342.2 2026.3,341.7" fill="none" stroke="#7878ff" stroke-width="1.2"/>
<polyline points="1624.3,196.5 1674.5,237.0 1724.8,300.0 1775.0,337.0 1825.3,347.8 1875.5,348.8 1925.8,346.5 1976.0,352.2 2026.3,353.0" fill="none" stroke="#ff78ff" stroke-width="1.2"/>
<polyline points="1624.3,242.2 1674.5,272.2 1724.8,322.6 1775.0,337.0 1825.3,341.7 1875.5,351.3 1925.8,349.6 1976.0,347.8 2026.3,347.8" fill="none" stroke="#5aaa5a" stroke-width="1.2"/>
<rect x="1620.4" y="51.8" width="7.8" height="7.8" fill="#000000"/>
<rect x="1670.6" y="147.0" width="7.8" height="7.8" fill="#000000"/>
<rect x="1720.9" y="243.1" width="7.8" height="7.8" fill="#000000"/>
<rect x="1771.1" y="280.0" width="7.8" height="7.8" fill="#000000"/>
<rect x="1821.4" y="325.2" width="7.8" height="7.8" fill="#000000"/>
<rect x="1871.6" y="331.3" width="7.8" height="7.8" fill="#000000"/>
<rect x="1921.9" y="335.7" width="7.8" height="7.8" fill="#000000"/>
<rect x="1972.1" y="341.8" width="7.8" height="7.8" fill="#000000"/>
<rect x="2022.4" y="342.6" width="7.8" height="7.8" fill="#000000"/>
<circle cx="1624.3" cy="66.5" r="4.6" fill="#ff0000"/>
<circle cx="1674.5" cy="153.0" r="4.6" fill="#ff0000"/>
<circle cx="1724.8" cy="254.8" r="4.6" fill="#ff0000"/>
<circle cx="1775.0" cy="291.7" r="4.6" fill="#ff0000"/>
<circle cx="1825.3" cy="317.8" r="4.6" fill="#ff0000"/>
<circle cx="1875.5" cy="328.7" r="4.6" fill="#ff0000"/>
<circle cx="1925.8" cy="343.5" r="4.6" fill="#ff0000"/>
<circle cx="1976.0" cy="346.5" r="4.6" fill="#ff0000"/>
<circle cx="2026.3" cy="345.7" r="4.6" fill="#ff0000"/>
<path d="M1624.3 140.3l5 8.8h-10z" fill="#0000ff"/>
<path d="M1674.5 193.3l5 8.8h-10z" fill="#0000ff"/>
<path d="M1724.8 280.7l5 8.8h-10z" fill="#0000ff"/>
<path d="M1775.0 321.6l5 8.8h-10z" fill="#0000ff"/>
<path d="M1825.3 336.8l5 8.8h-10z" fill="#0000ff"/>
<path d="M1875.5 342.4l5 8.8h-10z" fill="#0000ff"/>
<path d="M1925.8 338.9l5 8.8h-10z" fill="#0000ff"/>
<path d="M1976.0 336.8l5 8.8h-10z" fill="#0000ff"/>
<path d="M2026.3 336.3l5 8.8h-10z" fill="#0000ff"/>
<path d="M1624.3 201.9l5 -8.8h-10z" fill="#ff00ff"/>
<path d="M1674.5 242.4l5 -8.8h-10z" fill="#ff00ff"/>
<path d="M1724.8 305.4l5 -8.8h-10z" fill="#ff00ff"/>
<path d="M1775.0 342.4l5 -8.8h-10z" fill="#ff00ff"/>
<path d="M1825.3 353.2l5 -8.8h-10z" fill="#ff00ff"/>
<path d="M1875.5 354.2l5 -8.8h-10z" fill="#ff00ff"/>
<path d="M1925.8 351.9l5 -8.8h-10z" fill="#ff00ff"/>
<path d="M1976.0 357.6l5 -8.8h-10z" fill="#ff00ff"/>
<path d="M2026.3 358.4l5 -8.8h-10z" fill="#ff00ff"/>
<path d="M1624.3 237.0l5.2 5.2l-5.2 5.2l-5.2 -5.2z" fill="#008000"/>
<path d="M1674.5 267.0l5.2 5.2l-5.2 5.2l-5.2 -5.2z" fill="#008000"/>
<path d="M1724.8 317.4l5.2 5.2l-5.2 5.2l-5.2 -5.2z" fill="#008000"/>
<path d="M1775.0 331.8l5.2 5.2l-5.2 5.2l-5.2 -5.2z" fill="#008000"/>
<path d="M1825.3 336.5l5.2 5.2l-5.2 5.2l-5.2 -5.2z" fill="#008000"/>
<path d="M1875.5 346.1l5.2 5.2l-5.2 5.2l-5.2 -5.2z" fill="#008000"/>
<path d="M1925.8 344.4l5.2 5.2l-5.2 5.2l-5.2 -5.2z" fill="#008000"/>
<path d="M1976.0 342.6l5.2 5.2l-5.2 5.2l-5.2 -5.2z" fill="#008000"/>
<path d="M2026.3 342.6l5.2 5.2l-5.2 5.2l-5.2 -5.2z" fill="#008000"/>
<rect x="1873.0" y="41.3" width="162.2" height="118.7" fill="#fff" stroke="#b4b4b4" stroke-width="1.6"/>
<path d="M1883.0 58.7H1921.0" stroke="#6a6a6a" stroke-width="1.2"/>
<rect x="1898.1" y="54.8" width="7.8" height="7.8" fill="#000000"/>
<text x="1926.3" y="64.7" class="lg" textLength="102.5" lengthAdjust="spacingAndGlyphs">Gap = 10 <tspan font-family="Liberation Serif">µ</tspan>m</text>
<path d="M1883.0 80.9H1921.0" stroke="#ff7070" stroke-width="1.2"/>
<circle cx="1902.0" cy="80.9" r="4.6" fill="#ff0000"/>
<text x="1926.3" y="86.9" class="lg" textLength="102.5" lengthAdjust="spacingAndGlyphs">Gap = 15 <tspan font-family="Liberation Serif">µ</tspan>m</text>
<path d="M1883.0 103.9H1921.0" stroke="#7878ff" stroke-width="1.2"/>
<path d="M1902.0 98.5l5 8.8h-10z" fill="#0000ff"/>
<text x="1926.3" y="109.9" class="lg" textLength="102.5" lengthAdjust="spacingAndGlyphs">Gap = 20 <tspan font-family="Liberation Serif">µ</tspan>m</text>
<path d="M1883.0 127.0H1921.0" stroke="#ff78ff" stroke-width="1.2"/>
<path d="M1902.0 132.4l5 -8.8h-10z" fill="#ff00ff"/>
<text x="1926.3" y="133.0" class="lg" textLength="102.5" lengthAdjust="spacingAndGlyphs">Gap = 25 <tspan font-family="Liberation Serif">µ</tspan>m</text>
<path d="M1883.0 150.0H1921.0" stroke="#5aaa5a" stroke-width="1.2"/>
<path d="M1902.0 144.8l5.2 5.2l-5.2 5.2l-5.2 -5.2z" fill="#008000"/>
<text x="1926.3" y="156.0" class="lg" textLength="102.5" lengthAdjust="spacingAndGlyphs">Gap = 30 <tspan font-family="Liberation Serif">µ</tspan>m</text>
<ellipse cx="1826.5" cy="318" rx="14" ry="9" fill="none" stroke="#ff2020" stroke-width="1.3" stroke-dasharray="2 2"/>
<path d="M1826.5 259V305" stroke="#4472c4" stroke-width="3"/><path d="M1818 293L1826.5 312L1835 293" fill="none" stroke="#4472c4" stroke-width="3"/>
<text x="1662" y="57.6" class="lab" font-size="42" textLength="42.3" lengthAdjust="spacingAndGlyphs">(c)</text>
<text x="1825" y="446" class="pal" text-anchor="middle" textLength="282" lengthAdjust="spacingAndGlyphs">Length of the Electrode, L (<tspan font-family="Liberation Serif">µ</tspan>m)</text>
<text transform="translate(1547 215) rotate(-90)" class="pal" text-anchor="middle" textLength="334" lengthAdjust="spacingAndGlyphs">first derivative of Sensitivity<tspan dy="4" font-size="15">|X|</tspan><tspan dy="-4"> (%)</tspan></text>
<circle cx="347.0" cy="594.5" r="25.5" fill="#80f880" stroke="#6a8a5a" stroke-width="1" stroke-opacity="0.35"/>
<path d="M327.5 578.1A25.5 25.5 0 0 1 366.5 578.1M366.5 610.9A25.5 25.5 0 0 1 327.5 610.9" fill="none" stroke="#3d6a3d" stroke-width="1.5" stroke-opacity="0.85"/>
<circle cx="906.0" cy="598.7" r="25.5" fill="#80f880" stroke="#6a8a5a" stroke-width="1" stroke-opacity="0.35"/>
<path d="M886.5 582.3A25.5 25.5 0 0 1 925.5 582.3M925.5 615.1A25.5 25.5 0 0 1 886.5 615.1" fill="none" stroke="#3d6a3d" stroke-width="1.5" stroke-opacity="0.85"/>
<circle cx="1445.5" cy="597.3" r="25.0" fill="#a4f070" stroke="#6a8a5a" stroke-width="1" stroke-opacity="0.35"/>
<path d="M1426.3 581.2A25.0 25.0 0 0 1 1464.7 581.2M1464.7 613.4A25.0 25.0 0 0 1 1426.3 613.4" fill="none" stroke="#3d6a3d" stroke-width="1.5" stroke-opacity="0.85"/>
<circle cx="349.4" cy="861.2" r="25.5" fill="#84f87c" stroke="#6a8a5a" stroke-width="1" stroke-opacity="0.35"/>
<path d="M329.9 844.8A25.5 25.5 0 0 1 368.9 844.8M368.9 877.6A25.5 25.5 0 0 1 329.9 877.6" fill="none" stroke="#3d6a3d" stroke-width="1.5" stroke-opacity="0.85"/>
<circle cx="1081.3" cy="861.3" r="25.0" fill="#80fc80" stroke="#6a8a5a" stroke-width="1" stroke-opacity="0.35"/>
<path d="M1062.1 845.2A25.0 25.0 0 0 1 1100.5 845.2M1100.5 877.4A25.0 25.0 0 0 1 1062.1 877.4" fill="none" stroke="#3d6a3d" stroke-width="1.5" stroke-opacity="0.85"/>
<rect x="1321" y="905" width="124.6" height="25" fill="#70ad47"/>
<text x="1285" y="958.5" class="sc" textLength="197" lengthAdjust="spacingAndGlyphs">Scale = 10 µm</text>
<text x="109.4" y="501.8" class="pl" textLength="460.5" lengthAdjust="spacingAndGlyphs">(d) L = 10 µm, G = 15 µm</text>
<text x="657.0" y="511.7" class="pl" textLength="450.0" lengthAdjust="spacingAndGlyphs">(f) L = 50 µm, G = 15 µm</text>
<text x="1215.5" y="503.8" class="pl" textLength="457.5" lengthAdjust="spacingAndGlyphs">(g) L = 30 µm, G = 10 µm</text>
<text x="105.5" y="776.3" class="pl" textLength="459.0" lengthAdjust="spacingAndGlyphs">(e) L = 30 µm, G = 15 µm</text>
<text x="664.0" y="771.0" class="pl" textLength="457.0" lengthAdjust="spacingAndGlyphs">(h) L = 30 µm, G = 30 µm</text>
<path fill="#ff0000" fill-opacity="0.55" d="M128.3 707.4 128.7 701.9 129.5 702.0 128.7 696.6 127.3 701.8 128.1 701.9 127.7 707.3zM128.3 719.8 128.3 714.8 129.1 714.8 128.2 709.5 127.0 714.8 127.8 714.8 127.7 719.8zM566.0 707.4 566.4 711.9 565.6 712.0 567.2 717.0 567.8 711.8 567.0 711.9 566.6 707.3zM566.0 719.8 566.1 723.8 565.4 723.9 566.5 728.9 567.4 723.8 566.6 723.8 566.6 719.8zM614.7 657.6 615.3 660.7 614.4 660.9 616.5 665.3 616.7 660.4 615.9 660.6 615.3 657.5zM614.7 670.0 615.2 673.2 614.4 673.3 616.2 677.8 616.6 673.0 615.8 673.1 615.3 670.0zM614.7 682.5 615.1 685.6 614.3 685.7 615.9 690.3 616.4 685.5 615.6 685.5 615.3 682.4zM614.7 694.9 615.0 698.0 614.2 698.1 615.6 702.6 616.3 697.9 615.5 698.0 615.3 694.9zM614.8 707.4 614.9 710.4 614.1 710.4 615.3 714.9 616.1 710.3 615.4 710.4 615.2 707.3zM614.8 719.8 614.8 722.7 614.1 722.7 615.1 727.1 616.0 722.7 615.3 722.7 615.2 719.8z"/>
<path fill="#ff0000" fill-opacity="0.70" d="M128.2 508.6 131.0 507.2 131.7 508.5 134.9 504.6 129.9 505.0 130.5 506.3 127.8 507.7zM128.3 521.0 131.0 519.2 131.7 520.4 134.7 516.2 129.6 517.2 130.4 518.4 127.7 520.2zM128.3 533.4 131.0 531.3 131.9 532.4 134.5 527.9 129.5 529.4 130.4 530.5 127.7 532.7zM128.3 545.8 131.0 543.3 131.9 544.3 134.2 539.6 129.4 541.6 130.3 542.6 127.7 545.2zM128.3 558.2 131.0 555.2 132.0 556.1 133.9 551.2 129.3 553.8 130.3 554.7 127.7 557.7zM128.3 570.7 130.9 567.3 132.0 568.0 133.7 563.0 129.2 566.0 130.2 566.7 127.7 570.1zM128.3 583.1 130.9 579.3 131.9 580.0 133.4 574.8 129.1 578.1 130.2 578.8 127.7 582.6zM128.4 595.5 130.8 591.3 131.9 591.9 133.1 586.6 129.0 590.3 130.1 590.9 127.6 595.1zM128.4 607.9 130.7 603.3 131.8 603.8 132.8 598.4 128.9 602.4 130.0 602.9 127.6 607.6zM128.4 620.4 130.6 615.4 131.7 615.8 132.4 610.3 128.8 614.6 129.9 615.1 127.6 620.0zM128.3 632.8 130.4 627.5 131.5 627.9 132.0 622.3 128.7 626.8 129.7 627.2 127.7 632.5zM128.3 645.2 130.2 639.6 131.3 640.0 131.6 634.3 128.5 639.1 129.5 639.4 127.7 645.0zM128.3 657.6 130.0 651.8 131.0 652.1 131.1 646.4 128.3 651.3 129.3 651.6 127.7 657.5zM128.3 670.1 129.7 664.2 130.7 664.4 130.6 658.7 128.0 663.8 129.0 664.0 127.7 669.9zM128.3 682.5 129.4 676.6 130.3 676.8 130.0 671.1 127.8 676.3 128.7 676.5 127.7 682.4zM128.3 694.9 129.0 689.2 129.9 689.3 129.4 683.8 127.5 689.0 128.4 689.1 127.7 694.9zM177.1 682.6 180.7 672.4 181.9 672.9 182.5 666.0 178.6 671.7 179.9 672.2 176.3 682.3zM177.1 695.0 179.6 685.0 180.8 685.3 180.8 678.5 177.7 684.5 178.8 684.8 176.3 694.8zM177.0 707.4 178.4 698.0 179.4 698.2 179.0 691.7 176.7 697.8 177.7 697.9 176.4 707.3zM177.0 719.8 177.3 711.6 178.1 711.6 177.2 705.5 175.8 711.5 176.7 711.5 176.4 719.8zM517.2 682.6 520.7 691.9 519.5 692.4 523.4 697.9 522.7 691.2 521.5 691.6 518.0 682.3zM517.2 695.0 519.7 704.1 518.5 704.5 521.7 710.2 521.6 703.6 520.4 703.9 518.0 694.8zM517.3 707.4 518.6 715.9 517.5 716.0 519.8 721.9 520.2 715.6 519.2 715.8 517.9 707.3zM517.3 719.8 517.6 727.2 516.7 727.2 518.0 733.0 519.0 727.1 518.1 727.2 517.9 719.8zM566.0 558.3 569.5 561.4 568.5 562.4 573.7 564.4 571.1 559.5 570.1 560.6 566.6 557.6zM566.0 570.7 569.4 574.1 568.4 575.1 573.4 577.5 571.0 572.5 570.0 573.5 566.6 570.1zM566.0 583.2 569.2 586.9 568.2 587.8 573.1 590.6 571.0 585.4 569.9 586.3 566.6 582.5zM565.9 595.6 569.1 599.7 568.0 600.5 572.7 603.6 570.9 598.3 569.8 599.1 566.7 595.0zM565.9 608.0 568.9 612.5 567.9 613.2 572.3 616.7 570.7 611.3 569.7 612.0 566.7 607.5zM565.9 620.4 568.7 625.2 567.6 625.8 571.8 629.6 570.5 624.1 569.5 624.8 566.7 620.0zM565.9 632.8 568.5 637.9 567.4 638.4 571.3 642.5 570.3 636.9 569.2 637.5 566.7 632.5zM565.9 645.3 568.2 650.5 567.1 650.9 570.7 655.3 570.0 649.7 568.9 650.1 566.7 644.9zM566.0 657.7 567.9 663.0 566.8 663.4 570.1 668.0 569.6 662.4 568.6 662.8 566.6 657.4zM566.0 670.1 567.5 675.4 566.5 675.7 569.4 680.5 569.2 674.9 568.2 675.2 566.6 669.9zM566.0 682.5 567.2 687.7 566.2 687.9 568.7 692.9 568.8 687.4 567.8 687.6 566.6 682.4zM566.0 694.9 566.8 699.9 565.9 700.0 567.9 705.0 568.3 699.7 567.4 699.8 566.6 694.9zM615.0 471.3 617.0 471.5 616.9 472.9 620.1 471.3 617.2 469.1 617.1 470.5 615.0 470.3zM614.9 483.7 616.9 484.2 616.5 485.6 620.0 484.6 617.5 482.0 617.1 483.3 615.1 482.8zM614.8 496.1 616.8 497.0 616.2 498.3 619.8 497.8 617.7 494.9 617.1 496.1 615.2 495.3zM614.8 508.5 616.6 509.7 615.9 510.8 619.6 511.1 617.8 507.9 617.1 509.0 615.2 507.8zM614.7 520.9 616.5 522.4 615.6 523.4 619.4 524.2 617.8 520.7 617.0 521.7 615.3 520.3zM614.7 533.3 616.3 535.0 615.5 535.9 619.1 537.3 617.8 533.6 616.9 534.4 615.3 532.8zM614.7 545.7 616.2 547.6 615.3 548.4 618.8 550.2 617.8 546.4 616.8 547.1 615.3 545.3zM614.7 558.2 616.1 560.3 615.2 560.9 618.6 563.3 617.7 559.2 616.7 559.9 615.3 557.7zM614.7 570.6 616.0 572.9 615.1 573.4 618.3 576.1 617.6 572.0 616.6 572.5 615.3 570.2zM614.7 583.0 615.9 585.5 615.0 585.9 618.1 589.0 617.5 584.7 616.5 585.1 615.3 582.7zM614.7 595.4 615.8 598.0 614.9 598.5 617.8 601.8 617.4 597.4 616.4 597.8 615.3 595.2zM614.7 607.9 615.7 610.6 614.8 611.0 617.6 614.7 617.3 610.0 616.3 610.4 615.3 607.6zM614.7 620.3 615.6 623.2 614.7 623.5 617.3 627.4 617.2 622.7 616.2 623.0 615.3 620.1zM614.7 632.7 615.5 635.7 614.6 636.0 617.0 640.1 617.0 635.3 616.1 635.5 615.3 632.6zM614.7 645.2 615.4 648.2 614.5 648.4 616.8 652.7 616.9 647.9 616.0 648.1 615.3 645.0z"/>
<path fill="#ff0000" fill-opacity="0.85" d="M128.0 471.3 131.0 471.1 131.1 472.6 135.4 470.2 130.8 468.5 130.9 470.1 128.0 470.3zM128.1 483.8 131.0 483.1 131.4 484.6 135.3 481.7 130.5 480.6 130.8 482.1 127.9 482.7zM128.2 496.2 131.0 495.2 131.5 496.6 135.1 493.2 130.2 492.8 130.7 494.2 127.8 495.2zM176.7 471.4 182.6 471.1 182.7 472.8 188.0 470.2 182.4 468.2 182.5 469.9 176.7 470.2zM176.8 483.8 182.6 483.0 182.9 484.8 188.0 481.7 182.3 480.2 182.5 481.9 176.6 482.7zM176.8 496.3 182.7 495.0 183.1 496.7 188.0 493.2 182.1 492.1 182.5 493.8 176.6 495.1zM176.9 508.7 182.8 506.8 183.3 508.5 187.9 504.6 181.9 504.1 182.4 505.7 176.5 507.6zM176.9 521.1 182.8 518.7 183.5 520.3 187.8 516.1 181.8 516.1 182.4 517.7 176.5 520.1zM176.9 533.6 182.9 530.6 183.7 532.2 187.7 527.6 181.7 528.1 182.4 529.6 176.5 532.5zM177.0 546.0 183.0 542.5 183.8 544.0 187.6 539.2 181.6 540.1 182.4 541.5 176.4 545.0zM177.0 558.4 183.0 554.3 184.0 555.7 187.5 550.5 181.5 552.0 182.4 553.4 176.4 557.5zM177.0 570.8 183.1 566.1 184.1 567.4 187.4 562.1 181.4 564.0 182.4 565.3 176.4 570.0zM177.1 583.3 183.1 578.0 184.2 579.2 187.3 573.6 181.3 575.9 182.4 577.1 176.3 582.4zM177.1 595.7 183.1 589.8 184.3 590.9 187.1 585.1 181.2 587.8 182.4 589.0 176.3 594.9zM177.1 608.1 183.1 601.4 184.3 602.5 186.9 596.4 181.1 599.7 182.3 600.7 176.3 607.4zM177.1 620.5 183.0 613.2 184.2 614.2 186.6 607.9 181.0 611.5 182.2 612.5 176.3 619.9zM177.1 632.9 182.9 624.9 184.1 625.8 186.2 619.4 180.8 623.4 182.0 624.3 176.3 632.4zM177.1 645.4 182.6 636.7 183.9 637.5 185.7 630.9 180.5 635.3 181.7 636.1 176.3 644.8zM177.1 657.8 182.2 648.4 183.4 649.0 184.9 642.2 180.0 647.2 181.3 647.9 176.3 657.3zM177.1 670.2 181.5 660.3 182.8 660.9 183.9 654.0 179.4 659.3 180.7 659.9 176.3 669.8zM225.4 471.4 234.1 471.2 234.2 473.1 240.3 470.3 234.0 468.0 234.1 469.9 225.4 470.2zM225.5 483.9 234.2 483.1 234.4 485.1 240.3 482.0 233.9 479.9 234.1 481.9 225.3 482.6zM225.5 496.3 234.3 495.1 234.6 497.0 240.4 493.6 233.9 491.9 234.1 493.8 225.3 495.1zM225.5 508.8 234.5 507.0 234.8 508.9 240.5 505.1 233.8 503.8 234.2 505.7 225.3 507.5zM225.6 521.2 234.6 518.9 235.1 520.8 240.6 516.7 233.8 515.8 234.3 517.6 225.2 520.0zM225.6 533.7 234.8 530.8 235.4 532.6 240.8 528.3 233.9 527.7 234.5 529.6 225.2 532.4zM225.6 546.1 235.1 542.7 235.7 544.5 241.0 539.8 234.0 539.6 234.6 541.5 225.2 544.9zM225.7 558.5 235.3 554.4 236.1 556.2 241.2 551.2 234.1 551.4 234.8 553.2 225.1 557.4zM226.0 707.6 237.4 683.2 239.3 684.1 241.4 673.2 234.3 681.8 236.2 682.6 224.8 707.1zM225.9 719.9 228.4 697.8 229.8 697.9 229.0 688.2 226.1 697.5 227.5 697.7 224.9 719.7zM468.9 471.4 478.2 471.7 478.1 473.7 484.5 471.2 478.3 468.4 478.2 470.4 468.9 470.2zM468.9 483.9 478.2 484.6 478.0 486.6 484.5 484.4 478.4 481.3 478.3 483.3 468.9 482.6zM468.8 496.3 478.2 497.5 478.0 499.4 484.6 497.6 478.6 494.2 478.4 496.2 469.0 495.1zM468.8 508.8 478.3 510.5 477.9 512.4 484.7 510.9 478.8 507.2 478.5 509.2 469.0 507.5zM468.8 521.2 478.4 523.4 477.9 525.3 484.8 524.2 479.1 520.2 478.6 522.1 469.0 520.0zM468.3 707.6 479.5 730.9 477.7 731.8 484.6 740.0 482.6 729.4 480.7 730.3 469.5 707.1zM468.4 719.9 471.1 742.1 469.7 742.2 472.7 751.5 473.4 741.8 472.0 742.0 469.4 719.7zM517.6 471.4 524.2 471.7 524.1 473.5 529.8 471.3 524.3 468.7 524.2 470.5 517.6 470.2zM517.5 483.8 524.1 484.6 523.9 486.4 529.8 484.6 524.5 481.6 524.3 483.4 517.7 482.7zM517.5 496.3 524.1 497.5 523.8 499.3 529.8 497.9 524.6 494.6 524.3 496.3 517.7 495.1zM517.4 508.7 524.1 510.5 523.6 512.2 529.7 511.4 524.8 507.6 524.4 509.3 517.8 507.6zM517.4 521.2 524.0 523.4 523.5 525.1 529.7 524.7 525.0 520.6 524.4 522.3 517.8 520.0zM517.4 533.6 524.0 536.3 523.3 538.0 529.6 538.0 525.1 533.6 524.5 535.3 517.8 532.5zM517.3 546.0 524.0 549.3 523.2 550.9 529.5 551.3 525.3 546.7 524.5 548.2 517.9 545.0zM517.3 558.4 524.0 562.3 523.1 563.8 529.4 564.8 525.4 559.8 524.5 561.3 517.9 557.5zM517.3 570.9 523.9 575.3 523.0 576.7 529.2 578.1 525.5 572.9 524.6 574.4 517.9 569.9zM517.3 583.3 523.9 588.3 522.9 589.6 529.1 591.5 525.6 586.0 524.6 587.4 517.9 582.4zM517.2 595.7 523.8 601.3 522.7 602.6 528.9 604.9 525.6 599.2 524.5 600.5 518.0 594.9zM517.2 608.1 523.7 614.4 522.5 615.6 528.5 618.4 525.6 612.5 524.4 613.6 518.0 607.4zM517.2 620.6 523.5 627.5 522.3 628.5 528.2 631.8 525.5 625.7 524.3 626.7 518.0 619.8zM517.2 633.0 523.2 640.5 522.0 641.5 527.7 645.2 525.3 638.9 524.0 639.8 518.0 632.3zM517.2 645.4 522.9 653.5 521.6 654.4 527.0 658.5 524.9 652.0 523.7 652.9 518.0 644.8zM517.2 657.8 522.3 666.6 521.1 667.3 526.1 672.0 524.4 665.3 523.2 666.1 518.0 657.3zM517.2 670.2 521.6 679.4 520.4 680.0 524.9 685.1 523.7 678.4 522.5 679.0 518.0 669.8zM566.3 471.3 570.0 471.6 569.9 473.2 575.0 471.3 570.2 468.9 570.1 470.5 566.3 470.3zM566.2 483.8 569.9 484.4 569.7 486.0 574.9 484.7 570.4 481.7 570.1 483.3 566.4 482.7zM566.2 496.2 569.9 497.2 569.5 498.8 574.8 498.0 570.6 494.6 570.2 496.2 566.4 495.2zM566.1 508.6 569.8 510.1 569.2 511.6 574.6 511.4 570.8 507.6 570.2 509.1 566.5 507.7zM566.1 521.1 569.7 522.9 569.0 524.3 574.4 524.7 570.9 520.6 570.2 522.0 566.5 520.1zM566.0 533.5 569.6 535.7 568.9 537.0 574.2 537.9 571.0 533.5 570.2 534.8 566.6 532.6zM566.0 545.9 569.6 548.5 568.7 549.7 574.0 551.1 571.0 546.5 570.1 547.7 566.6 545.1z"/>
<path fill="#ff0000" fill-opacity="1.00" d="M225.7 571.0 235.7 566.2 236.5 568.0 241.5 562.7 234.2 563.3 235.1 565.0 225.1 569.8zM225.7 583.4 236.0 577.9 236.9 579.7 241.8 574.1 234.5 575.0 235.4 576.8 225.1 582.3zM225.7 595.9 236.4 589.6 237.4 591.3 242.2 585.4 234.7 586.8 235.7 588.5 225.1 594.7zM225.8 608.3 236.8 601.0 237.9 602.7 242.6 596.5 235.0 598.3 236.1 599.9 225.0 607.2zM225.8 620.7 237.3 612.5 238.5 614.2 243.0 607.6 235.3 609.8 236.5 611.4 225.0 619.7zM225.8 633.2 237.8 623.8 239.1 625.5 243.6 618.5 235.7 621.1 237.0 622.8 225.0 632.1zM225.8 645.6 238.4 635.0 239.8 636.6 244.2 629.2 236.2 632.3 237.5 633.9 225.0 644.6zM225.9 658.1 239.0 645.6 240.4 647.1 244.7 639.2 236.5 643.0 238.0 644.6 224.9 657.0zM225.9 670.5 239.6 656.0 241.2 657.5 245.2 649.0 237.0 653.6 238.6 655.1 224.9 669.5zM226.0 682.9 240.1 665.9 241.8 667.3 245.6 658.1 237.3 663.6 238.9 665.0 224.8 682.0zM226.0 695.3 239.9 674.9 241.8 676.1 245.1 666.1 236.9 672.8 238.7 674.1 224.8 694.5zM274.1 471.5 285.1 471.3 285.2 473.4 291.9 470.5 285.1 467.8 285.1 469.9 274.1 470.1zM274.1 483.9 285.2 483.4 285.3 485.5 291.9 482.4 285.0 480.0 285.1 482.0 274.1 482.6zM274.2 496.4 285.4 495.5 285.5 497.6 292.1 494.3 285.1 492.1 285.3 494.1 274.0 495.0zM274.2 508.8 285.6 507.5 285.8 509.6 292.3 506.1 285.2 504.1 285.4 506.2 274.0 507.5zM274.2 521.3 285.8 519.6 286.1 521.7 292.6 517.9 285.3 516.1 285.7 518.2 274.0 519.9zM274.2 533.7 286.2 531.7 286.6 533.8 293.0 529.8 285.6 528.2 286.0 530.3 274.0 532.4zM274.2 546.2 286.6 543.7 287.0 545.8 293.5 541.6 285.9 540.2 286.3 542.3 274.0 544.8zM274.3 558.6 287.1 555.6 287.6 557.8 294.0 553.3 286.3 552.1 286.8 554.2 273.9 557.3zM274.3 571.1 287.7 567.6 288.2 569.8 294.7 565.0 286.8 564.1 287.3 566.2 273.9 569.7zM274.3 583.6 288.4 579.6 289.0 581.7 295.5 576.7 287.3 576.0 288.0 578.1 273.9 582.1zM274.3 596.0 289.2 591.5 289.8 593.6 296.5 588.4 288.0 587.8 288.7 590.0 273.9 594.6zM274.3 608.5 290.1 603.2 290.8 605.4 297.6 599.9 288.8 599.5 289.6 601.8 273.9 607.0zM274.4 620.9 291.2 615.0 292.0 617.3 298.9 611.5 289.8 611.3 290.6 613.5 273.8 619.5zM274.4 633.4 292.4 626.8 293.3 629.1 300.4 623.0 291.0 622.9 291.9 625.3 273.8 631.9zM274.4 645.9 294.0 638.5 294.9 641.0 302.3 634.5 292.5 634.5 293.4 636.9 273.8 644.3zM274.4 658.4 295.9 650.2 296.9 652.7 304.7 645.9 294.3 646.0 295.3 648.5 273.8 656.7zM274.4 670.9 298.3 662.1 299.3 664.8 307.7 657.7 296.7 657.7 297.7 660.3 273.8 669.1zM274.4 683.4 301.4 674.3 302.4 677.2 311.6 669.9 299.8 669.6 300.8 672.4 273.8 681.5zM274.4 695.9 305.2 687.4 306.1 690.5 316.5 683.1 303.7 682.1 304.6 685.3 273.8 693.9zM274.3 708.5 309.3 702.0 309.9 705.5 321.7 698.5 308.2 696.2 308.9 699.7 273.9 706.2zM274.1 721.0 311.9 719.7 312.0 723.4 325.3 718.0 311.7 713.5 311.8 717.2 274.1 718.6zM322.8 471.5 335.0 471.4 335.1 473.6 342.1 470.7 335.0 467.9 335.0 470.0 322.8 470.1zM322.8 484.0 335.1 483.8 335.2 485.9 342.2 482.9 335.1 480.2 335.1 482.3 322.8 482.5zM322.8 496.4 335.3 496.1 335.3 498.2 342.4 495.2 335.2 492.5 335.2 494.6 322.8 495.0zM322.8 508.9 335.5 508.4 335.6 510.5 342.7 507.4 335.4 504.8 335.5 506.9 322.8 507.4zM322.8 521.3 335.9 520.7 336.0 522.9 343.1 519.6 335.7 517.0 335.8 519.2 322.8 519.9zM322.8 533.8 336.3 533.0 336.4 535.2 343.6 531.8 336.0 529.3 336.2 531.5 322.8 532.3zM322.9 546.2 336.8 545.3 336.9 547.5 344.2 544.0 336.5 541.6 336.6 543.8 322.7 544.8zM322.9 558.7 337.3 557.6 337.5 559.8 344.9 556.2 337.0 553.8 337.2 556.1 322.7 557.2zM322.9 571.2 338.0 569.8 338.2 572.2 345.7 568.4 337.7 566.0 337.9 568.3 322.7 569.6zM322.9 583.6 338.8 582.1 339.0 584.5 346.7 580.6 338.4 578.2 338.7 580.6 322.7 582.1zM322.9 596.1 339.7 594.4 339.9 596.8 347.8 592.8 339.3 590.4 339.5 592.8 322.7 594.5zM322.9 608.6 340.7 606.7 341.0 609.2 349.0 605.0 340.3 602.6 340.5 605.0 322.7 606.9zM322.9 621.0 341.8 619.0 342.1 621.5 350.4 617.2 341.4 614.8 341.6 617.3 322.7 619.4zM322.9 633.5 343.0 631.3 343.3 633.9 351.9 629.5 342.6 627.0 342.8 629.6 322.7 631.8zM322.9 646.0 344.3 643.7 344.6 646.4 353.6 641.8 343.9 639.2 344.1 641.9 322.7 644.2zM322.9 658.5 345.7 656.1 346.0 658.9 355.3 654.2 345.2 651.5 345.5 654.3 322.7 656.6zM322.9 670.9 347.1 668.7 347.4 671.6 357.0 666.8 346.7 663.9 346.9 666.8 322.7 669.1zM322.9 683.4 348.4 681.4 348.6 684.4 358.7 679.6 348.0 676.5 348.3 679.5 322.7 681.5zM322.9 695.9 349.5 694.3 349.7 697.3 360.1 692.7 349.2 689.3 349.4 692.3 322.7 693.9zM322.8 708.4 350.3 707.3 350.5 710.4 361.2 705.9 350.2 702.2 350.3 705.3 322.8 706.3zM322.8 720.8 350.7 720.6 350.7 723.7 361.7 719.5 350.7 715.5 350.7 718.6 322.8 718.8zM371.5 471.5 383.8 471.6 383.8 473.7 390.9 470.9 383.8 468.0 383.8 470.1 371.5 470.1zM371.5 484.0 383.9 484.1 383.9 486.3 391.0 483.5 383.9 480.5 383.9 482.7 371.5 482.5zM371.5 496.4 384.0 496.7 384.0 498.8 391.2 496.1 384.1 493.1 384.1 495.2 371.5 495.0zM371.5 508.9 384.3 509.3 384.2 511.4 391.5 508.7 384.4 505.6 384.3 507.8 371.5 507.4zM371.5 521.3 384.6 521.8 384.5 524.0 391.9 521.4 384.7 518.2 384.6 520.4 371.5 519.9zM371.5 533.8 385.0 534.4 384.9 536.6 392.4 534.0 385.1 530.7 385.0 532.9 371.5 532.3zM371.5 546.2 385.4 547.0 385.3 549.2 393.0 546.6 385.6 543.3 385.5 545.5 371.5 544.8zM371.5 558.7 386.0 559.6 385.9 561.9 393.7 559.3 386.2 555.8 386.1 558.1 371.5 557.2zM371.4 571.2 386.7 572.2 386.5 574.5 394.5 572.0 386.9 568.4 386.8 570.7 371.6 569.6zM371.4 583.6 387.4 584.8 387.2 587.2 395.5 584.7 387.7 580.9 387.5 583.3 371.6 582.1zM371.4 596.1 388.3 597.5 388.1 599.9 396.6 597.4 388.6 593.5 388.4 595.9 371.6 594.5zM371.4 608.6 389.3 610.2 389.0 612.6 397.8 610.1 389.6 606.0 389.4 608.5 371.6 606.9zM371.4 621.0 390.4 622.8 390.1 625.3 399.1 622.8 390.7 618.6 390.5 621.1 371.6 619.4zM371.4 633.5 391.5 635.4 391.3 638.0 400.6 635.4 392.0 631.1 391.7 633.7 371.6 631.8zM371.4 646.0 392.8 648.0 392.6 650.7 402.2 648.0 393.2 643.6 393.0 646.2 371.6 644.2zM371.4 658.5 394.2 660.6 393.9 663.3 403.9 660.5 394.6 656.0 394.3 658.7 371.6 656.6zM371.4 670.9 395.5 673.0 395.3 675.8 405.6 672.9 395.9 668.2 395.7 671.1 371.6 669.1zM371.4 683.4 396.8 685.3 396.6 688.2 407.2 685.0 397.2 680.4 397.0 683.3 371.6 681.5zM371.4 695.9 398.0 697.4 397.8 700.4 408.7 697.0 398.2 692.4 398.1 695.4 371.6 693.9zM371.5 708.4 398.8 709.3 398.7 712.4 409.7 708.7 399.0 704.2 398.9 707.3 371.5 706.3zM371.5 720.8 399.2 721.0 399.2 724.1 410.2 720.0 399.2 715.9 399.2 719.0 371.5 718.8zM420.2 471.5 431.4 471.7 431.4 473.8 438.3 471.1 431.5 468.2 431.5 470.3 420.2 470.1zM420.2 483.9 431.5 484.4 431.4 486.5 438.3 484.0 431.6 481.0 431.5 483.0 420.2 482.6zM420.2 496.4 431.6 497.2 431.4 499.3 438.5 497.0 431.8 493.7 431.7 495.8 420.2 495.0zM420.1 508.8 431.7 510.0 431.5 512.1 438.7 510.0 432.1 506.5 431.9 508.6 420.3 507.5zM420.1 521.3 432.0 522.8 431.7 524.9 439.0 523.0 432.4 519.3 432.2 521.4 420.3 519.9zM420.1 533.7 432.3 535.6 431.9 537.7 439.4 536.0 432.8 532.1 432.5 534.2 420.3 532.4zM420.1 546.2 432.6 548.4 432.2 550.6 439.8 549.0 433.3 544.9 432.9 547.0 420.3 544.8zM420.1 558.7 433.1 561.4 432.6 563.5 440.4 562.2 433.8 557.8 433.4 560.0 420.3 557.2zM420.0 571.1 433.6 574.3 433.1 576.4 441.0 575.3 434.4 570.7 433.9 572.9 420.4 569.7zM420.0 583.6 434.2 587.2 433.6 589.4 441.8 588.4 435.1 583.6 434.6 585.8 420.4 582.1zM420.0 596.0 434.9 600.2 434.3 602.4 442.7 601.6 435.9 596.6 435.3 598.8 420.4 594.6zM420.0 608.5 435.7 613.4 435.0 615.6 443.7 615.0 436.9 609.7 436.2 611.9 420.4 607.0zM420.0 621.0 436.7 626.5 436.0 628.8 445.0 628.4 438.0 622.7 437.2 625.0 420.4 619.4zM419.9 633.4 437.9 639.6 437.1 642.0 446.4 641.7 439.3 635.8 438.4 638.1 420.5 631.9zM419.9 645.9 439.4 652.9 438.5 655.3 448.3 655.1 440.8 648.8 439.9 651.3 420.5 644.3zM419.9 658.4 441.1 666.2 440.2 668.7 450.5 668.7 442.7 662.0 441.8 664.5 420.5 656.7zM419.9 670.9 443.5 679.3 442.5 682.0 453.4 681.9 445.1 674.9 444.1 677.6 420.5 669.1zM419.9 683.4 446.5 692.2 445.6 695.1 457.3 694.7 448.1 687.4 447.1 690.3 420.5 681.5zM419.9 695.9 450.4 704.4 449.6 707.5 462.2 706.5 451.9 699.1 451.0 702.3 420.5 693.9zM420.0 708.5 454.9 715.0 454.2 718.5 467.7 716.2 455.9 709.2 455.3 712.7 420.4 706.2zM420.2 721.0 458.1 722.4 457.9 726.1 471.6 721.7 458.3 716.2 458.1 720.0 420.2 718.6zM468.7 533.7 478.5 536.3 478.0 538.2 485.0 537.4 479.4 533.2 478.8 535.1 469.1 532.4zM468.7 546.1 478.7 549.3 478.1 551.2 485.2 550.7 479.7 546.2 479.1 548.1 469.1 544.9zM468.7 558.6 478.9 562.4 478.2 564.3 485.4 564.2 480.0 559.3 479.3 561.2 469.1 557.3zM468.6 571.0 479.1 575.5 478.3 577.3 485.6 577.5 480.4 572.4 479.6 574.2 469.2 569.8zM468.6 583.4 479.4 588.6 478.5 590.4 486.0 591.0 480.8 585.6 479.9 587.4 469.2 582.3zM468.6 595.9 479.7 601.8 478.7 603.5 486.3 604.5 481.2 598.8 480.3 600.6 469.2 594.7zM468.6 608.3 480.0 615.1 478.9 616.9 486.6 618.3 481.7 612.2 480.7 614.0 469.2 607.2zM468.5 620.8 480.4 628.5 479.2 630.3 487.0 632.1 482.2 625.7 481.1 627.4 469.3 619.6zM468.5 633.2 480.8 642.0 479.6 643.7 487.5 646.0 482.8 639.2 481.6 640.9 469.3 632.1zM468.5 645.6 481.2 655.8 479.9 657.4 488.0 660.2 483.4 653.0 482.1 654.7 469.3 644.6zM468.4 658.1 481.6 669.9 480.2 671.5 488.4 675.1 484.0 667.3 482.6 668.9 469.4 657.0zM468.4 670.5 482.1 684.3 480.6 685.8 488.8 690.1 484.6 681.8 483.1 683.3 469.4 669.5zM468.4 682.9 482.4 699.2 480.7 700.7 489.0 705.9 485.1 696.8 483.5 698.3 469.4 682.0zM468.3 695.3 482.1 714.9 480.3 716.1 488.4 722.6 485.0 712.8 483.3 714.0 469.5 694.5z"/>
<path fill="#ff0000" fill-opacity="0.55" d="M656.9 682.5 657.5 679.4 658.3 679.6 658.1 674.8 656.0 679.1 656.9 679.3 656.3 682.3zM656.9 695.3 657.3 692.4 658.1 692.5 657.6 687.9 655.9 692.2 656.7 692.3 656.3 695.2zM656.9 708.1 657.1 705.3 657.8 705.4 657.1 701.1 655.8 705.2 656.6 705.3 656.3 708.1zM656.8 721.0 656.9 718.3 657.6 718.3 656.7 714.4 655.7 718.3 656.4 718.3 656.4 720.9zM1156.7 695.3 1157.2 698.3 1156.4 698.4 1158.2 702.7 1158.6 698.1 1157.8 698.2 1157.3 695.2zM1156.7 708.1 1157.0 710.9 1156.2 711.0 1157.6 715.1 1158.3 710.8 1157.5 710.9 1157.3 708.1zM1156.8 721.0 1156.8 723.6 1156.1 723.6 1157.1 727.5 1158.0 723.5 1157.3 723.6 1157.2 720.9z"/>
<path fill="#ff0000" fill-opacity="0.70" d="M656.8 528.6 659.7 527.2 660.4 528.5 663.8 524.5 658.6 524.9 659.3 526.3 656.4 527.8zM656.9 541.5 659.6 539.7 660.4 540.9 663.4 536.7 658.3 537.6 659.1 538.9 656.3 540.6zM656.9 554.3 659.5 552.2 660.4 553.3 663.1 548.8 658.1 550.3 659.0 551.5 656.3 553.5zM656.9 567.1 659.4 564.8 660.3 565.8 662.7 561.1 657.9 563.1 658.8 564.1 656.3 566.4zM656.9 579.9 659.3 577.3 660.2 578.2 662.2 573.4 657.6 575.8 658.6 576.7 656.3 579.3zM656.9 592.7 659.1 589.9 660.1 590.7 661.7 585.8 657.4 588.6 658.4 589.4 656.3 592.2zM656.9 605.5 658.9 602.6 659.9 603.3 661.3 598.3 657.2 601.5 658.2 602.2 656.3 605.1zM656.9 618.3 658.7 615.3 659.7 615.8 660.7 610.8 657.0 614.3 658.0 614.9 656.3 618.0zM656.9 631.2 658.4 628.0 659.4 628.5 660.2 623.5 656.8 627.2 657.8 627.7 656.3 630.8zM656.9 644.0 658.2 640.8 659.2 641.2 659.7 636.1 656.6 640.1 657.6 640.5 656.3 643.7zM656.9 656.8 658.0 653.6 658.9 654.0 659.1 648.9 656.4 653.1 657.3 653.4 656.3 656.6zM656.9 669.6 657.7 666.5 658.6 666.8 658.6 661.8 656.2 666.1 657.1 666.4 656.3 669.5zM758.0 695.4 761.1 685.2 762.3 685.6 762.6 678.7 759.1 684.6 760.3 685.0 757.2 695.1zM757.9 708.2 759.5 698.8 760.6 698.9 760.2 692.4 757.8 698.5 758.8 698.7 757.3 708.0zM757.9 721.0 758.1 713.1 759.0 713.1 758.0 707.1 756.7 713.0 757.5 713.0 757.3 720.9zM1057.1 708.2 1059.1 718.6 1058.0 718.8 1060.7 725.1 1060.9 718.3 1059.8 718.5 1057.9 708.0zM1057.2 721.0 1057.5 729.7 1056.6 729.7 1058.0 735.8 1059.0 729.6 1058.1 729.6 1057.8 720.9zM1156.7 567.1 1159.9 569.7 1159.0 570.8 1164.2 572.4 1161.4 567.8 1160.5 568.9 1157.3 566.4zM1156.7 579.9 1159.7 582.8 1158.7 583.8 1163.7 585.9 1161.3 581.1 1160.3 582.1 1157.3 579.3zM1156.7 592.8 1159.5 595.8 1158.5 596.7 1163.2 599.2 1161.1 594.3 1160.1 595.2 1157.3 592.1zM1156.7 605.6 1159.2 608.8 1158.2 609.6 1162.7 612.5 1160.9 607.4 1159.9 608.2 1157.3 605.0zM1156.7 618.4 1158.9 621.8 1157.9 622.5 1162.1 625.7 1160.6 620.6 1159.6 621.3 1157.3 617.9zM1156.7 631.2 1158.6 634.6 1157.6 635.2 1161.5 638.8 1160.3 633.7 1159.3 634.3 1157.3 630.8zM1156.7 644.0 1158.3 647.5 1157.3 648.0 1160.8 651.8 1160.0 646.7 1159.0 647.2 1157.3 643.7zM1156.7 656.8 1158.0 660.3 1157.0 660.6 1160.1 664.7 1159.7 659.6 1158.7 660.0 1157.3 656.6zM1156.7 669.6 1157.7 673.0 1156.8 673.3 1159.5 677.5 1159.3 672.5 1158.3 672.8 1157.3 669.5zM1156.7 682.5 1157.4 685.6 1156.5 685.8 1158.8 690.2 1158.9 685.2 1158.0 685.4 1157.3 682.3z"/>
<path fill="#ff0000" fill-opacity="0.85" d="M656.6 477.3 659.8 477.2 659.8 478.8 664.5 476.5 659.7 474.6 659.7 476.1 656.6 476.3zM656.7 490.2 659.8 489.7 660.1 491.2 664.4 488.4 659.4 487.1 659.6 488.6 656.5 489.1zM656.7 503.0 659.8 502.2 660.2 503.7 664.3 500.4 659.1 499.7 659.5 501.2 656.5 502.0zM656.8 515.8 659.8 514.7 660.3 516.1 664.1 512.5 658.9 512.3 659.4 513.7 656.4 514.9zM757.6 477.4 766.6 477.2 766.6 479.2 772.8 476.4 766.5 474.0 766.5 475.9 757.6 476.2zM757.7 490.3 766.6 489.5 766.8 491.4 772.8 488.3 766.3 486.2 766.5 488.2 757.5 489.0zM757.7 503.1 766.7 501.8 766.9 503.7 772.8 500.2 766.2 498.6 766.5 500.5 757.5 501.9zM757.7 516.0 766.7 514.1 767.1 516.0 772.7 512.2 766.0 510.9 766.4 512.8 757.5 514.7zM757.8 528.8 766.7 526.3 767.3 528.1 772.7 523.9 765.9 523.2 766.4 525.1 757.4 527.6zM757.8 541.6 766.8 538.5 767.4 540.4 772.6 535.9 765.7 535.5 766.4 537.4 757.4 540.5zM757.8 554.5 766.8 550.7 767.5 552.4 772.4 547.6 765.5 547.8 766.3 549.5 757.4 553.3zM757.9 567.3 766.8 562.9 767.6 564.6 772.3 559.5 765.4 560.1 766.2 561.8 757.3 566.2zM757.9 580.1 766.7 575.0 767.7 576.6 772.1 571.2 765.2 572.3 766.1 573.9 757.3 579.1zM757.9 593.0 766.7 587.1 767.7 588.7 771.8 583.0 764.9 584.6 766.0 586.1 757.3 591.9zM758.0 605.8 766.5 599.3 767.6 600.7 771.5 594.7 764.7 596.9 765.8 598.3 757.2 604.8zM758.0 618.6 766.3 611.2 767.5 612.6 770.9 606.3 764.3 609.0 765.5 610.4 757.2 617.7zM758.0 631.4 765.9 623.3 767.2 624.6 770.3 618.1 763.9 621.3 765.1 622.5 757.2 630.6zM758.0 644.2 765.4 635.3 766.7 636.4 769.4 629.6 763.3 633.5 764.6 634.6 757.2 643.5zM758.0 657.0 764.7 647.5 766.1 648.4 768.3 641.5 762.5 645.9 763.9 646.8 757.2 656.4zM758.0 669.8 763.8 659.6 765.1 660.4 766.7 653.3 761.6 658.4 762.9 659.1 757.2 669.3zM758.0 682.6 762.6 672.2 763.8 672.8 764.9 665.7 760.4 671.3 761.7 671.8 757.2 682.2zM1057.3 554.5 1067.0 558.2 1066.3 560.1 1073.4 560.0 1068.1 555.2 1067.4 557.0 1057.7 553.3zM1057.2 567.3 1066.9 571.7 1066.1 573.5 1073.3 573.8 1068.3 568.7 1067.5 570.5 1057.8 566.2zM1057.2 580.2 1066.9 585.3 1066.0 587.0 1073.1 587.9 1068.4 582.5 1067.5 584.2 1057.8 579.0zM1057.2 593.0 1066.8 598.8 1065.8 600.5 1072.9 601.8 1068.4 596.1 1067.4 597.7 1057.8 591.9zM1057.1 605.8 1066.6 612.4 1065.6 613.9 1072.7 615.8 1068.4 609.8 1067.4 611.4 1057.9 604.8zM1057.1 618.6 1066.4 626.1 1065.2 627.6 1072.2 630.0 1068.3 623.7 1067.2 625.2 1057.9 617.7zM1057.1 631.4 1066.1 639.7 1064.8 641.1 1071.7 644.1 1068.1 637.5 1066.9 638.9 1057.9 630.6zM1057.1 644.2 1065.6 653.5 1064.3 654.7 1070.8 658.4 1067.8 651.5 1066.4 652.7 1057.9 643.5zM1057.1 657.0 1064.9 667.1 1063.5 668.2 1069.8 672.4 1067.1 665.4 1065.8 666.4 1057.9 656.4zM1057.0 669.8 1063.9 680.8 1062.5 681.6 1068.2 686.6 1066.2 679.3 1064.8 680.2 1058.0 669.3zM1057.1 682.6 1062.6 693.9 1061.2 694.6 1066.2 700.1 1064.8 692.8 1063.5 693.5 1057.9 682.2zM1057.1 695.4 1060.9 706.6 1059.7 707.0 1063.6 713.0 1063.0 705.9 1061.8 706.3 1057.9 695.1zM1157.0 477.3 1160.9 477.5 1160.9 479.1 1165.9 477.1 1161.0 474.8 1161.0 476.4 1157.0 476.3zM1156.9 490.2 1160.8 490.7 1160.6 492.4 1165.9 490.9 1161.2 488.1 1161.0 489.7 1157.1 489.1zM1156.9 503.0 1160.8 503.9 1160.4 505.5 1165.7 504.5 1161.4 501.3 1161.0 502.9 1157.1 502.0zM1156.8 515.9 1160.6 517.1 1160.1 518.6 1165.5 518.1 1161.5 514.6 1161.0 516.1 1157.2 514.8zM1156.8 528.7 1160.5 530.3 1159.9 531.7 1165.3 531.8 1161.5 527.9 1160.9 529.4 1157.2 527.7zM1156.8 541.5 1160.3 543.4 1159.6 544.8 1165.0 545.4 1161.5 541.2 1160.8 542.5 1157.2 540.6zM1156.7 554.3 1160.1 556.6 1159.3 557.8 1164.6 559.0 1161.5 554.5 1160.7 555.8 1157.3 553.5z"/>
<path fill="#ff0000" fill-opacity="1.00" d="M857.5 477.5 871.2 477.4 871.2 479.7 878.6 476.6 871.2 473.7 871.2 475.9 857.5 476.1zM857.5 490.4 871.3 489.9 871.4 492.2 878.7 489.0 871.2 486.2 871.3 488.5 857.5 488.9zM857.5 503.2 871.5 502.5 871.6 504.7 878.9 501.4 871.3 498.8 871.4 501.0 857.5 501.8zM857.6 516.1 871.7 515.0 871.9 517.3 879.2 513.7 871.4 511.3 871.6 513.6 857.4 514.6zM857.6 528.9 872.0 527.5 872.3 529.8 879.6 526.0 871.7 523.8 871.9 526.0 857.4 527.5zM857.6 541.8 872.4 540.0 872.7 542.3 880.0 538.4 872.0 536.2 872.3 538.5 857.4 540.3zM857.6 554.7 873.0 552.5 873.3 554.8 880.6 550.6 872.4 548.6 872.7 550.9 857.4 553.1zM857.6 567.5 873.6 564.9 874.0 567.2 881.4 562.8 872.9 561.0 873.3 563.4 857.4 566.0zM857.6 580.4 874.3 577.2 874.8 579.6 882.2 574.9 873.6 573.3 874.0 575.7 857.4 578.8zM857.7 593.2 875.2 589.6 875.7 592.0 883.3 587.0 874.3 585.6 874.8 588.0 857.3 591.7zM857.7 606.1 876.2 601.9 876.7 604.3 884.5 599.1 875.2 597.8 875.8 600.3 857.3 604.5zM857.7 619.0 877.4 614.0 878.0 616.5 886.0 611.0 876.3 609.8 877.0 612.4 857.3 617.3zM857.7 631.9 878.8 626.2 879.5 628.8 887.7 622.9 877.6 621.9 878.3 624.5 857.3 630.1zM857.8 644.7 880.5 638.2 881.3 640.9 889.8 634.6 879.2 633.8 880.0 636.5 857.2 643.0zM857.8 657.6 882.6 650.4 883.4 653.2 892.4 646.5 881.2 645.7 882.0 648.5 857.2 655.8zM857.8 670.5 885.2 662.6 886.0 665.5 895.6 658.5 883.7 657.7 884.6 660.6 857.2 668.6zM857.8 683.4 888.4 675.2 889.2 678.4 899.6 671.1 887.0 670.0 887.8 673.2 857.2 681.4zM857.8 696.4 892.3 688.7 893.0 692.1 904.6 684.8 891.0 683.0 891.8 686.4 857.2 694.1zM857.7 709.3 896.3 704.1 896.8 707.8 909.7 701.0 895.4 697.9 895.9 701.6 857.3 706.9zM857.5 722.2 898.5 721.1 898.7 725.0 912.8 719.4 898.4 714.6 898.5 718.5 857.5 719.7zM958.0 477.5 971.9 477.6 971.9 479.9 979.4 477.0 971.9 473.9 971.9 476.2 958.0 476.1zM958.0 490.4 972.0 490.8 971.9 493.0 979.5 490.2 972.1 487.0 972.0 489.3 958.0 488.9zM958.0 503.2 972.1 503.9 972.0 506.1 979.7 503.5 972.3 500.1 972.2 502.4 958.0 501.8zM958.0 516.1 972.3 517.0 972.2 519.3 980.0 516.7 972.6 513.2 972.4 515.5 958.0 514.6zM957.9 529.0 972.6 530.2 972.5 532.5 980.4 530.0 973.0 526.4 972.8 528.7 958.1 527.4zM957.9 541.8 973.0 543.3 972.8 545.6 980.9 543.3 973.4 539.5 973.2 541.8 958.1 540.3zM957.9 554.7 973.5 556.6 973.3 558.9 981.5 556.7 974.0 552.7 973.7 555.0 958.1 553.1zM957.9 567.5 974.1 569.8 973.8 572.2 982.3 570.1 974.7 565.9 974.4 568.2 958.1 566.0zM957.9 580.4 974.9 583.1 974.5 585.5 983.2 583.6 975.5 579.1 975.1 581.5 958.1 578.8zM957.9 593.3 975.7 596.4 975.3 598.9 984.3 597.1 976.4 592.4 976.0 594.8 958.1 591.6zM957.8 606.1 976.7 609.8 976.2 612.3 985.5 610.6 977.5 605.6 977.1 608.1 958.2 604.5zM957.8 619.0 977.9 623.3 977.4 625.9 987.0 624.3 978.8 619.0 978.3 621.6 958.2 617.3zM957.8 631.9 979.3 636.7 978.7 639.4 988.8 638.0 980.3 632.4 979.7 635.0 958.2 630.1zM957.8 644.8 981.0 650.3 980.3 653.1 990.9 651.8 982.1 645.8 981.4 648.5 958.2 642.9zM957.8 657.6 983.0 663.8 982.3 666.6 993.4 665.3 984.2 659.0 983.5 661.9 958.2 655.8zM957.8 670.5 985.4 677.2 984.7 680.2 996.5 678.7 986.6 672.2 985.9 675.2 958.2 668.6zM957.8 683.5 988.4 690.1 987.7 693.3 1000.1 691.6 989.5 684.8 988.8 688.0 958.2 681.3zM957.8 696.4 991.7 702.4 991.1 705.8 1004.3 703.5 992.7 696.7 992.1 700.1 958.2 694.1zM957.9 709.3 994.8 713.2 994.5 716.8 1008.2 713.4 995.5 707.2 995.1 710.8 958.1 706.9zM958.0 722.2 996.6 723.0 996.5 726.8 1010.3 722.1 996.7 716.8 996.7 720.6 958.0 719.7zM1057.5 477.5 1067.1 477.7 1067.1 479.7 1073.5 477.2 1067.2 474.4 1067.1 476.4 1057.5 476.1zM1057.4 490.3 1067.1 491.1 1066.9 493.1 1073.5 491.0 1067.3 487.8 1067.2 489.8 1057.6 489.0zM1057.4 503.1 1067.1 504.5 1066.8 506.4 1073.5 504.7 1067.5 501.2 1067.2 503.2 1057.6 501.9zM1057.4 516.0 1067.0 517.8 1066.7 519.8 1073.5 518.4 1067.7 514.6 1067.3 516.6 1057.6 514.7zM1057.3 528.8 1067.0 531.3 1066.5 533.2 1073.5 532.3 1067.8 528.1 1067.3 530.1 1057.7 527.6zM1057.3 541.7 1067.0 544.7 1066.4 546.6 1073.4 546.1 1068.0 541.6 1067.4 543.5 1057.7 540.4z"/>
<path fill="#ff0000" fill-opacity="0.55" d="M1272.0 718.2 1272.1 713.7 1272.9 713.7 1272.1 708.5 1270.8 713.6 1271.6 713.7 1271.4 718.2zM1621.7 718.2 1621.9 722.6 1621.1 722.6 1622.4 727.7 1623.2 722.5 1622.4 722.6 1622.3 718.2z"/>
<path fill="#ff0000" fill-opacity="0.70" d="M1272.1 628.9 1276.2 622.8 1277.4 623.6 1279.1 617.7 1274.3 621.5 1275.4 622.3 1271.3 628.3zM1272.1 641.6 1275.7 635.3 1276.9 636.0 1278.2 630.1 1273.8 634.2 1274.9 634.9 1271.3 641.2zM1272.1 654.4 1275.1 648.0 1276.3 648.5 1277.2 642.6 1273.2 647.1 1274.4 647.6 1271.3 654.0zM1272.1 667.1 1274.5 660.8 1275.6 661.2 1276.2 655.3 1272.7 660.1 1273.8 660.5 1271.3 666.9zM1272.0 679.9 1273.9 673.8 1274.9 674.1 1275.1 668.3 1272.1 673.2 1273.2 673.5 1271.4 679.7zM1272.0 692.7 1273.2 686.9 1274.2 687.1 1274.0 681.5 1271.6 686.6 1272.6 686.8 1271.4 692.5zM1272.0 705.4 1272.6 700.2 1273.5 700.3 1273.0 694.9 1271.2 700.0 1272.1 700.2 1271.4 705.4zM1341.1 718.2 1342.1 705.6 1343.1 705.7 1342.3 698.5 1340.3 705.5 1341.4 705.6 1340.3 718.2zM1551.3 718.2 1552.4 730.8 1551.3 730.9 1553.3 737.9 1554.1 730.7 1553.1 730.8 1552.1 718.2zM1621.6 628.9 1625.7 634.8 1624.5 635.6 1629.4 639.3 1627.6 633.5 1626.5 634.3 1622.4 628.3zM1621.6 641.6 1625.2 647.8 1624.0 648.4 1628.5 652.5 1627.1 646.6 1625.9 647.3 1622.4 641.2zM1621.6 654.4 1624.6 660.6 1623.5 661.1 1627.5 665.6 1626.5 659.7 1625.4 660.2 1622.4 654.0zM1621.6 667.1 1624.0 673.3 1622.9 673.7 1626.4 678.4 1625.8 672.6 1624.8 673.0 1622.4 666.9zM1621.7 679.9 1623.4 685.9 1622.4 686.2 1625.4 691.1 1625.2 685.4 1624.1 685.7 1622.3 679.7zM1621.7 692.7 1622.9 698.2 1621.9 698.4 1624.3 703.5 1624.5 697.9 1623.5 698.1 1622.3 692.5zM1621.7 705.4 1622.3 710.5 1621.5 710.6 1623.3 715.7 1623.8 710.3 1622.9 710.4 1622.3 705.4z"/>
<path fill="#ff0000" fill-opacity="0.85" d="M1271.7 475.6 1278.1 475.3 1278.2 477.1 1283.7 474.5 1278.0 472.4 1278.1 474.2 1271.7 474.4zM1271.8 488.4 1278.2 487.6 1278.4 489.3 1283.7 486.3 1277.8 484.6 1278.0 486.4 1271.6 487.2zM1271.8 501.2 1278.2 499.8 1278.6 501.5 1283.6 498.0 1277.5 496.9 1277.9 498.6 1271.6 500.0zM1271.9 514.0 1278.2 512.1 1278.7 513.8 1283.4 509.9 1277.3 509.3 1277.8 511.0 1271.5 512.8zM1271.9 526.7 1278.1 524.3 1278.8 525.9 1283.2 521.7 1277.1 521.6 1277.7 523.2 1271.5 525.7zM1272.0 539.5 1278.0 536.5 1278.8 538.0 1282.9 533.5 1276.8 533.9 1277.5 535.5 1271.4 538.5zM1272.0 552.3 1277.9 548.7 1278.8 550.1 1282.5 545.3 1276.5 546.3 1277.3 547.8 1271.4 551.3zM1272.0 565.0 1277.8 561.0 1278.7 562.4 1282.2 557.3 1276.2 558.8 1277.2 560.1 1271.4 564.2zM1272.0 577.8 1277.6 573.3 1278.6 574.5 1281.7 569.2 1275.9 571.2 1276.9 572.5 1271.4 577.0zM1272.1 590.6 1277.3 585.6 1278.4 586.7 1281.2 581.2 1275.5 583.7 1276.6 584.8 1271.3 589.8zM1272.1 603.3 1277.0 597.9 1278.1 598.9 1280.6 593.2 1275.1 596.2 1276.3 597.2 1271.3 602.7zM1272.1 616.1 1276.6 610.3 1277.8 611.2 1279.9 605.4 1274.7 608.8 1275.9 609.7 1271.3 615.5zM1341.2 680.1 1350.3 665.0 1351.8 666.0 1354.1 657.5 1347.7 663.5 1349.2 664.4 1340.2 679.5zM1341.2 692.8 1348.0 677.5 1349.4 678.2 1350.8 669.8 1345.5 676.4 1347.0 677.1 1340.2 692.4zM1341.1 705.5 1345.0 690.8 1346.4 691.2 1346.6 683.2 1342.8 690.2 1344.1 690.6 1340.3 705.3zM1551.2 680.1 1560.3 695.1 1558.7 696.1 1565.1 702.0 1562.8 693.6 1561.3 694.5 1552.2 679.5zM1551.2 692.8 1558.0 708.1 1556.5 708.7 1561.8 715.3 1560.4 707.0 1559.0 707.6 1552.2 692.4zM1551.3 705.5 1555.1 720.2 1553.8 720.5 1557.6 727.6 1557.4 719.6 1556.0 720.0 1552.1 705.3zM1622.0 475.6 1628.4 475.8 1628.4 477.6 1634.1 475.4 1628.5 472.9 1628.5 474.6 1622.0 474.4zM1621.9 488.4 1628.4 489.2 1628.1 491.0 1634.0 489.3 1628.7 486.3 1628.5 488.0 1622.1 487.2zM1621.9 501.2 1628.3 502.6 1627.9 504.3 1633.9 503.2 1628.9 499.7 1628.5 501.4 1622.1 500.0zM1621.8 514.0 1628.2 515.8 1627.7 517.5 1633.7 516.8 1629.0 513.0 1628.5 514.7 1622.2 512.8zM1621.8 526.7 1628.0 529.1 1627.4 530.8 1633.5 530.7 1629.1 526.5 1628.4 528.1 1622.2 525.7zM1621.8 539.5 1627.8 542.5 1627.1 544.0 1633.2 544.5 1629.1 539.9 1628.3 541.5 1622.2 538.5zM1621.7 552.3 1627.7 555.8 1626.8 557.2 1632.9 558.2 1629.1 553.4 1628.2 554.8 1622.3 551.3zM1621.7 565.1 1627.4 569.0 1626.5 570.3 1632.5 571.8 1629.0 566.7 1628.1 568.1 1622.3 564.1zM1621.7 577.8 1627.2 582.2 1626.2 583.5 1632.0 585.4 1628.9 580.2 1627.9 581.4 1622.3 577.0zM1621.6 590.6 1626.9 595.5 1625.8 596.6 1631.5 599.1 1628.7 593.6 1627.6 594.7 1622.4 589.8zM1621.6 603.3 1626.5 608.7 1625.4 609.7 1630.8 612.6 1628.4 607.0 1627.3 608.0 1622.4 602.7zM1621.6 616.1 1626.1 621.8 1625.0 622.7 1630.1 626.1 1628.0 620.3 1626.9 621.2 1622.4 615.5z"/>
<path fill="#ff0000" fill-opacity="1.00" d="M1340.7 475.7 1352.5 475.4 1352.5 477.6 1359.4 474.6 1352.4 471.9 1352.5 474.0 1340.7 474.3zM1340.8 488.5 1352.6 487.6 1352.7 489.7 1359.4 486.4 1352.3 484.1 1352.5 486.2 1340.6 487.1zM1340.8 501.3 1352.7 499.8 1352.9 501.9 1359.5 498.2 1352.2 496.3 1352.5 498.4 1340.6 499.9zM1340.8 514.1 1352.8 512.0 1353.1 514.1 1359.6 510.2 1352.2 508.6 1352.5 510.7 1340.6 512.7zM1340.9 526.9 1352.9 524.1 1353.4 526.2 1359.7 521.9 1352.1 520.7 1352.6 522.8 1340.5 525.5zM1340.9 539.7 1353.1 536.2 1353.7 538.3 1359.8 533.6 1352.1 532.8 1352.7 534.9 1340.5 538.3zM1340.9 552.5 1353.3 548.2 1354.0 550.3 1359.9 545.2 1352.1 544.9 1352.8 546.9 1340.5 551.1zM1341.0 565.3 1353.5 560.4 1354.3 562.3 1360.1 557.0 1352.2 557.1 1353.0 559.0 1340.4 563.9zM1341.0 578.0 1353.7 572.3 1354.5 574.2 1360.2 568.5 1352.2 569.0 1353.1 571.0 1340.4 576.8zM1341.0 590.8 1353.8 584.1 1354.8 586.0 1360.2 579.9 1352.2 580.9 1353.1 582.8 1340.4 589.6zM1341.1 603.6 1353.9 595.8 1355.0 597.6 1360.2 591.2 1352.1 592.8 1353.2 594.6 1340.3 602.4zM1341.1 616.4 1353.9 607.4 1355.1 609.2 1360.0 602.3 1351.9 604.5 1353.1 606.3 1340.3 615.2zM1341.1 629.1 1353.9 619.2 1355.2 620.8 1359.8 613.7 1351.7 616.4 1353.0 618.1 1340.3 628.1zM1341.2 641.9 1353.5 630.6 1354.9 632.2 1359.1 624.6 1351.2 628.1 1352.6 629.6 1340.2 640.9zM1341.2 654.7 1352.9 642.0 1354.4 643.4 1358.1 635.5 1350.5 639.7 1352.0 641.1 1340.2 653.7zM1341.2 667.4 1351.9 653.4 1353.4 654.6 1356.5 646.4 1349.3 651.5 1350.9 652.6 1340.2 666.6zM1411.0 475.8 1426.6 475.7 1426.6 478.0 1434.5 474.8 1426.6 471.8 1426.6 474.1 1411.0 474.2zM1411.0 488.6 1426.7 488.2 1426.8 490.5 1434.7 487.2 1426.6 484.3 1426.7 486.6 1411.0 487.0zM1411.0 501.4 1427.0 500.7 1427.1 503.1 1434.9 499.6 1426.8 496.8 1426.9 499.1 1411.0 499.8zM1411.0 514.2 1427.3 513.2 1427.4 515.6 1435.3 512.0 1427.1 509.3 1427.2 511.7 1411.0 512.6zM1411.1 527.0 1427.7 525.7 1427.9 528.1 1435.8 524.3 1427.4 521.7 1427.6 524.1 1410.9 525.4zM1411.1 539.8 1428.3 538.2 1428.6 540.6 1436.5 536.6 1427.9 534.1 1428.2 536.6 1410.9 538.2zM1411.1 552.6 1429.0 550.6 1429.3 553.0 1437.4 548.8 1428.6 546.5 1428.8 548.9 1410.9 551.0zM1411.1 565.4 1429.9 563.0 1430.2 565.5 1438.5 561.0 1429.4 558.8 1429.7 561.3 1410.9 563.8zM1411.1 578.3 1430.9 575.3 1431.3 577.9 1439.7 573.1 1430.3 571.0 1430.7 573.6 1410.9 576.5zM1411.1 591.1 1432.2 587.5 1432.6 590.2 1441.2 585.1 1431.4 583.1 1431.9 585.8 1410.9 589.3zM1411.2 603.9 1433.6 599.6 1434.1 602.3 1443.0 596.9 1432.8 595.1 1433.3 597.8 1410.8 602.1zM1411.2 616.7 1435.3 611.6 1435.9 614.4 1445.1 608.6 1434.3 606.9 1434.9 609.8 1410.8 614.9zM1411.2 629.6 1437.4 623.6 1438.1 626.5 1447.6 620.3 1436.3 618.8 1437.0 621.7 1410.8 627.6zM1411.2 642.4 1439.8 635.3 1440.6 638.4 1450.6 631.6 1438.6 630.2 1439.3 633.3 1410.8 640.4zM1411.3 655.3 1442.8 646.8 1443.7 650.1 1454.3 642.7 1441.4 641.5 1442.3 644.7 1410.7 653.1zM1411.3 668.1 1446.5 658.3 1447.5 661.7 1458.9 653.6 1445.0 652.6 1445.9 656.0 1410.7 665.9zM1411.3 681.0 1451.4 669.9 1452.4 673.6 1464.9 664.8 1449.6 663.7 1450.7 667.4 1410.7 678.6zM1411.3 693.9 1455.5 682.7 1456.5 686.7 1470.1 677.7 1453.8 676.1 1454.8 680.1 1410.7 691.3zM1411.3 706.7 1456.4 698.2 1457.2 702.3 1471.3 694.0 1455.1 691.4 1455.9 695.5 1410.7 704.1zM1411.1 719.6 1457.3 716.6 1457.6 720.8 1472.8 714.2 1456.9 709.6 1457.2 713.8 1410.9 716.8zM1481.4 475.8 1497.0 475.9 1497.0 478.2 1505.0 475.2 1497.1 472.0 1497.1 474.3 1481.4 474.2zM1481.4 488.6 1497.1 489.0 1497.1 491.3 1505.1 488.4 1497.2 485.0 1497.2 487.4 1481.4 487.0zM1481.4 501.4 1497.3 502.0 1497.2 504.4 1505.3 501.6 1497.5 498.1 1497.4 500.5 1481.4 499.8zM1481.4 514.2 1497.6 515.1 1497.5 517.5 1505.7 514.8 1497.9 511.1 1497.7 513.5 1481.4 512.6zM1481.3 527.0 1498.1 528.2 1497.9 530.6 1506.3 528.0 1498.4 524.2 1498.2 526.6 1481.5 525.4zM1481.3 539.8 1498.6 541.4 1498.4 543.8 1507.0 541.3 1499.0 537.3 1498.7 539.8 1481.5 538.2zM1481.3 552.6 1499.3 554.6 1499.0 557.1 1507.8 554.7 1499.7 550.5 1499.5 553.0 1481.5 551.0zM1481.3 565.4 1500.1 567.8 1499.8 570.3 1508.9 568.0 1500.6 563.6 1500.3 566.1 1481.5 563.8zM1481.3 578.3 1501.1 581.1 1500.7 583.7 1510.2 581.6 1501.7 576.8 1501.4 579.4 1481.5 576.5zM1481.3 591.1 1502.3 594.5 1501.9 597.2 1511.7 595.2 1503.0 590.1 1502.6 592.8 1481.5 589.3zM1481.2 603.9 1503.7 608.1 1503.2 610.8 1513.4 608.9 1504.5 603.5 1504.0 606.3 1481.6 602.1zM1481.2 616.7 1505.4 621.7 1504.8 624.5 1515.5 622.9 1506.3 617.1 1505.8 619.9 1481.6 614.9zM1481.2 629.6 1507.4 635.4 1506.7 638.3 1518.0 636.7 1508.5 630.5 1507.8 633.4 1481.6 627.6zM1481.2 642.4 1509.8 649.3 1509.0 652.4 1521.0 651.0 1511.0 644.3 1510.3 647.3 1481.6 640.4zM1481.1 655.3 1512.7 663.5 1511.8 666.7 1524.7 665.5 1514.1 658.2 1513.2 661.4 1481.7 653.1zM1481.1 668.1 1516.3 677.8 1515.4 681.2 1529.3 680.1 1517.9 672.1 1516.9 675.5 1481.7 665.9zM1481.1 681.0 1521.1 692.0 1520.1 695.7 1535.3 694.5 1522.8 685.8 1521.7 689.5 1481.7 678.6zM1481.1 693.9 1525.3 704.9 1524.4 708.9 1540.6 707.2 1527.0 698.2 1526.0 702.2 1481.7 691.3zM1481.2 706.7 1526.4 715.0 1525.6 719.1 1541.8 716.5 1527.6 708.2 1526.8 712.3 1481.6 704.1zM1481.3 719.6 1527.6 722.5 1527.3 726.7 1543.2 722.1 1528.0 715.5 1527.7 719.7 1481.5 716.8zM1551.7 475.7 1563.6 476.0 1563.5 478.1 1570.5 475.4 1563.6 472.4 1563.6 474.6 1551.7 474.3zM1551.6 488.5 1563.6 489.4 1563.4 491.5 1570.6 489.2 1563.8 485.8 1563.7 488.0 1551.8 487.1zM1551.6 501.3 1563.6 502.8 1563.3 504.9 1570.6 503.0 1564.0 499.3 1563.7 501.4 1551.8 499.9zM1551.6 514.1 1563.6 516.1 1563.3 518.2 1570.7 516.6 1564.2 512.6 1563.9 514.7 1551.8 512.7zM1551.5 526.9 1563.7 529.6 1563.2 531.7 1570.8 530.4 1564.5 526.1 1564.0 528.2 1551.9 525.5zM1551.5 539.7 1563.8 543.1 1563.2 545.1 1570.9 544.3 1564.8 539.7 1564.2 541.7 1551.9 538.3zM1551.5 552.5 1563.9 556.6 1563.2 558.7 1571.0 558.3 1565.0 553.3 1564.4 555.3 1551.9 551.1zM1551.4 565.3 1564.1 570.1 1563.3 572.1 1571.2 572.1 1565.3 566.8 1564.6 568.8 1552.0 563.9zM1551.4 578.0 1564.2 583.8 1563.3 585.7 1571.3 586.2 1565.6 580.5 1564.7 582.5 1552.0 576.8zM1551.4 590.8 1564.2 597.5 1563.3 599.4 1571.3 600.4 1565.9 594.3 1564.9 596.2 1552.0 589.6zM1551.3 603.6 1564.3 611.3 1563.2 613.2 1571.3 614.7 1566.1 608.3 1565.0 610.1 1552.1 602.4zM1551.3 616.4 1564.2 625.2 1563.0 627.0 1571.1 629.1 1566.2 622.3 1565.0 624.1 1552.1 615.2zM1551.3 629.2 1564.1 639.0 1562.8 640.7 1570.9 643.4 1566.2 636.3 1564.9 637.9 1552.1 628.0zM1551.2 641.9 1563.7 653.1 1562.3 654.7 1570.2 658.1 1566.0 650.6 1564.6 652.1 1552.2 640.9zM1551.2 654.7 1563.0 667.2 1561.5 668.6 1569.2 672.8 1565.5 664.9 1564.0 666.3 1552.2 653.7zM1551.2 667.4 1561.9 681.3 1560.4 682.5 1567.5 687.6 1564.5 679.3 1562.9 680.5 1552.2 666.6z"/>
<path fill="#ff0000" fill-opacity="0.55" d="M162.5 983.7 162.7 979.7 163.5 979.7 162.7 974.7 161.4 979.6 162.2 979.6 161.9 983.7zM537.7 983.7 537.9 987.2 537.2 987.3 538.5 992.1 539.2 987.2 538.4 987.2 538.3 983.7zM612.3 944.8 613.0 947.1 612.1 947.4 614.4 950.5 614.5 946.7 613.6 947.0 612.9 944.6zM612.3 957.8 612.8 960.0 612.0 960.2 613.8 963.3 614.2 959.7 613.3 959.9 612.9 957.6zM612.4 970.7 612.6 972.8 611.9 972.9 613.3 976.0 613.9 972.7 613.1 972.8 612.8 970.7zM612.4 983.7 612.5 985.7 611.8 985.7 612.8 988.6 613.6 985.6 612.9 985.6 612.8 983.7z"/>
<path fill="#ff0000" fill-opacity="0.70" d="M162.6 906.0 166.4 900.8 167.6 901.7 169.4 896.1 164.6 899.4 165.7 900.3 161.8 905.4zM162.6 918.9 165.9 913.5 167.1 914.3 168.5 908.6 164.1 912.4 165.2 913.1 161.8 918.5zM162.6 931.9 165.4 926.4 166.5 926.9 167.5 921.2 163.5 925.4 164.6 926.0 161.8 931.5zM162.6 944.8 164.7 939.3 165.8 939.7 166.3 934.1 162.9 938.6 164.0 939.0 161.8 944.6zM162.5 957.8 164.0 952.5 165.0 952.8 165.1 947.3 162.3 952.1 163.3 952.3 161.9 957.6zM162.5 970.7 163.3 966.0 164.2 966.1 163.8 960.8 161.8 965.7 162.7 965.9 161.9 970.7zM463.0 983.8 464.9 998.1 463.7 998.2 466.3 1005.6 466.8 997.8 465.7 998.0 463.8 983.6zM537.6 893.0 541.7 897.6 540.6 898.5 545.7 901.4 543.5 896.0 542.4 896.9 538.4 892.4zM537.6 906.0 541.3 910.8 540.2 911.6 544.9 914.9 543.1 909.4 542.0 910.2 538.4 905.4zM537.6 918.9 540.8 923.9 539.7 924.6 544.0 928.3 542.6 922.8 541.5 923.5 538.4 918.5zM537.6 931.9 540.2 936.9 539.1 937.5 543.0 941.6 542.0 936.0 540.9 936.6 538.4 931.5zM537.7 944.8 539.6 949.9 538.5 950.3 541.8 954.7 541.3 949.2 540.3 949.6 538.3 944.6zM537.7 957.8 539.0 962.5 538.0 962.8 540.7 967.5 540.6 962.1 539.6 962.3 538.3 957.6zM537.7 970.7 538.4 975.0 537.5 975.1 539.5 979.9 539.9 974.7 539.0 974.9 538.3 970.7zM612.4 815.1 615.2 816.6 614.5 817.9 619.5 818.2 616.3 814.4 615.6 815.7 612.8 814.3zM612.3 828.1 615.0 829.7 614.2 831.0 619.2 831.7 616.2 827.7 615.5 828.9 612.9 827.3zM612.3 841.1 614.8 842.9 614.0 844.0 618.8 845.2 616.2 841.0 615.4 842.1 612.9 840.3zM612.3 854.0 614.6 856.0 613.7 857.1 618.4 858.7 616.1 854.3 615.2 855.3 612.9 853.4zM612.3 867.0 614.4 869.1 613.5 870.1 617.9 872.0 615.9 867.6 615.0 868.5 612.9 866.4zM612.3 880.0 614.2 882.2 613.2 883.0 617.3 885.3 615.8 880.9 614.8 881.7 612.9 879.4zM612.3 892.9 613.9 895.3 613.0 896.0 616.8 898.5 615.6 894.1 614.6 894.8 612.9 892.5zM612.3 905.9 613.7 908.3 612.7 908.9 616.2 911.7 615.3 907.3 614.4 907.9 612.9 905.5zM612.3 918.9 613.5 921.3 612.5 921.7 615.6 924.7 615.1 920.5 614.1 920.9 612.9 918.5zM612.3 931.8 613.2 934.2 612.3 934.6 615.0 937.7 614.8 933.6 613.8 934.0 612.9 931.6z"/>
<path fill="#ff0000" fill-opacity="0.85" d="M162.2 737.3 167.9 737.2 167.9 738.9 173.3 736.6 167.9 734.3 167.9 736.0 162.2 736.1zM162.2 750.3 167.9 749.8 168.1 751.6 173.3 748.9 167.7 747.0 167.9 748.7 162.2 749.1zM162.3 763.3 168.0 762.4 168.2 764.1 173.3 761.1 167.5 759.6 167.8 761.3 162.1 762.1zM162.3 776.3 168.0 775.1 168.3 776.7 173.2 773.4 167.4 772.2 167.7 773.9 162.1 775.1zM162.4 789.2 168.0 787.7 168.4 789.3 173.1 785.6 167.2 784.9 167.7 786.6 162.0 788.2zM162.4 802.2 168.0 800.3 168.5 801.9 172.9 797.9 167.0 797.6 167.6 799.2 162.0 801.2zM162.4 815.2 167.9 812.9 168.6 814.4 172.8 810.2 166.8 810.3 167.5 811.8 162.0 814.2zM162.4 828.2 167.9 825.4 168.6 826.9 172.5 822.5 166.6 823.0 167.4 824.5 162.0 827.2zM162.5 841.2 167.8 838.0 168.6 839.4 172.2 834.7 166.4 835.7 167.2 837.1 161.9 840.2zM162.5 854.1 167.6 850.5 168.5 851.8 171.8 846.8 166.1 848.3 167.0 849.6 161.9 853.3zM162.5 867.1 167.4 863.1 168.4 864.3 171.4 859.1 165.8 861.1 166.8 862.3 161.9 866.3zM162.5 880.1 167.2 875.6 168.2 876.7 170.9 871.4 165.4 873.8 166.5 874.9 161.9 879.3zM162.6 893.0 166.8 888.2 167.9 889.2 170.2 883.7 165.0 886.6 166.1 887.6 161.8 892.4zM238.2 737.3 246.5 737.3 246.5 739.2 252.6 736.6 246.5 734.1 246.5 736.0 238.2 736.1zM238.2 750.3 246.6 749.9 246.7 751.8 252.6 749.0 246.4 746.8 246.5 748.7 238.2 749.1zM238.3 763.3 246.6 762.5 246.8 764.4 252.7 761.3 246.3 759.4 246.5 761.3 238.1 762.1zM238.3 776.3 246.8 775.2 247.0 777.1 252.7 773.7 246.3 772.0 246.6 773.9 238.1 775.1zM238.3 789.3 246.9 787.8 247.2 789.7 252.9 786.1 246.3 784.7 246.7 786.5 238.1 788.1zM238.3 802.3 247.1 800.4 247.5 802.2 253.0 798.4 246.4 797.3 246.8 799.1 238.1 801.1zM238.4 815.3 247.2 812.9 247.7 814.8 253.2 810.7 246.4 809.8 246.9 811.7 238.0 814.1zM238.4 828.3 247.5 825.4 248.0 827.3 253.4 822.9 246.5 822.4 247.1 824.2 238.0 827.1zM238.4 841.3 247.7 837.9 248.4 839.7 253.6 835.0 246.6 834.9 247.3 836.7 238.0 840.1zM238.5 854.3 248.0 850.2 248.7 851.9 253.8 846.9 246.7 847.2 247.5 849.0 237.9 853.1zM238.5 867.3 248.3 862.4 249.1 864.2 254.0 858.9 246.8 859.5 247.7 861.3 237.9 866.1zM238.7 958.1 249.1 942.4 250.7 943.5 253.4 934.9 246.4 940.7 248.0 941.7 237.7 957.3zM238.7 970.9 247.0 952.5 248.6 953.3 250.2 944.0 244.3 951.3 245.9 952.1 237.7 970.5zM238.6 983.8 241.7 965.6 243.0 965.8 242.7 957.0 239.4 965.2 240.8 965.5 237.8 983.6zM463.4 737.3 471.5 737.4 471.5 739.3 477.6 736.8 471.6 734.3 471.5 736.1 463.4 736.1zM463.4 750.3 471.5 750.7 471.4 752.6 477.6 750.4 471.7 747.6 471.6 749.5 463.4 749.1zM463.3 763.3 471.5 764.1 471.3 766.0 477.6 764.1 471.8 761.0 471.7 762.9 463.5 762.1zM463.3 776.3 471.6 777.5 471.3 779.4 477.7 777.7 472.0 774.4 471.7 776.3 463.5 775.1zM463.3 789.3 471.6 790.9 471.3 792.7 477.8 791.4 472.2 787.8 471.9 789.6 463.5 788.1zM463.3 802.3 471.7 804.3 471.3 806.1 477.9 805.1 472.4 801.2 472.0 803.1 463.5 801.1zM463.2 815.3 471.8 817.7 471.3 819.6 478.0 818.8 472.7 814.7 472.2 816.5 463.6 814.1zM463.2 828.3 471.9 831.2 471.3 833.0 478.1 832.6 472.9 828.2 472.3 830.0 463.6 827.1zM463.2 841.3 472.1 844.7 471.4 846.5 478.3 846.5 473.2 841.8 472.5 843.6 463.6 840.1zM463.1 854.3 472.2 858.4 471.4 860.2 478.4 860.6 473.5 855.6 472.7 857.3 463.7 853.1zM463.1 867.3 472.4 872.1 471.5 873.8 478.5 874.6 473.8 869.3 473.0 871.0 463.7 866.1zM463.1 880.2 472.5 885.9 471.5 887.5 478.6 888.8 474.1 883.2 473.2 884.8 463.7 879.2zM463.0 893.2 472.6 899.8 471.6 901.4 478.7 903.2 474.4 897.2 473.4 898.7 463.8 892.2zM463.0 906.2 472.7 913.8 471.6 915.3 478.7 917.7 474.7 911.3 473.5 912.8 463.8 905.2zM463.0 919.2 472.7 928.0 471.5 929.4 478.5 932.5 474.8 925.7 473.6 927.1 463.8 918.2zM463.0 932.1 472.6 942.4 471.2 943.7 478.2 947.5 474.8 940.3 473.5 941.6 463.8 931.3zM462.9 945.1 472.0 957.3 470.6 958.4 477.2 963.2 474.5 955.5 473.0 956.6 463.9 944.3zM462.9 958.0 470.9 972.0 469.4 972.9 475.4 978.8 473.4 970.6 471.9 971.5 463.9 957.4zM462.9 970.9 468.6 986.3 467.2 986.8 471.9 993.7 471.0 985.4 469.6 985.9 463.9 970.5zM538.0 737.3 543.6 737.3 543.6 739.1 549.0 736.8 543.6 734.5 543.6 736.2 538.0 736.1zM538.0 750.3 543.6 750.7 543.4 752.4 549.0 750.5 543.8 747.8 543.6 749.5 538.0 749.1zM537.9 763.3 543.5 764.1 543.2 765.8 548.9 764.3 543.9 761.2 543.7 763.0 538.1 762.1zM537.9 776.3 543.4 777.4 543.1 779.1 548.8 778.0 544.0 774.6 543.7 776.3 538.1 775.1zM537.8 789.2 543.3 790.8 542.9 792.4 548.7 791.7 544.1 788.0 543.6 789.7 538.2 788.2zM537.8 802.2 543.2 804.1 542.7 805.7 548.6 805.4 544.2 801.5 543.6 803.1 538.2 801.2zM537.8 815.2 543.1 817.5 542.5 819.0 548.4 819.1 544.2 814.9 543.6 816.5 538.2 814.2zM537.8 828.2 543.0 830.8 542.2 832.3 548.1 832.8 544.2 828.4 543.5 829.9 538.2 827.2zM537.7 841.2 542.8 844.2 542.0 845.6 547.8 846.5 544.2 841.9 543.4 843.3 538.3 840.2zM537.7 854.1 542.6 857.6 541.7 858.9 547.4 860.3 544.1 855.4 543.2 856.7 538.3 853.3zM537.7 867.1 542.4 870.9 541.4 872.1 546.9 874.0 544.0 869.0 543.0 870.2 538.3 866.3zM537.7 880.1 542.1 884.3 541.0 885.3 546.4 887.7 543.8 882.5 542.7 883.5 538.3 879.3zM612.6 737.2 615.8 737.3 615.7 738.9 620.5 736.8 615.8 734.6 615.8 736.2 612.6 736.2zM612.6 750.2 615.7 750.5 615.6 752.1 620.5 750.4 615.9 747.9 615.8 749.5 612.6 749.2zM612.5 763.2 615.6 763.8 615.4 765.3 620.4 764.1 616.1 761.2 615.8 762.7 612.7 762.2zM612.5 776.2 615.5 777.0 615.2 778.5 620.3 777.6 616.2 774.5 615.8 776.0 612.7 775.2zM612.4 789.2 615.4 790.2 614.9 791.6 620.1 791.2 616.2 787.7 615.7 789.2 612.8 788.2zM612.4 802.2 615.3 803.4 614.7 804.8 619.8 804.7 616.3 801.0 615.7 802.4 612.8 801.2z"/>
<path fill="#ff0000" fill-opacity="1.00" d="M238.5 880.3 248.6 874.6 249.5 876.3 254.3 870.7 247.0 871.8 247.9 873.5 237.9 879.1zM238.5 893.2 248.9 886.6 249.9 888.3 254.5 882.3 247.1 883.9 248.2 885.5 237.9 892.2zM238.6 906.2 249.2 898.5 250.4 900.1 254.7 893.7 247.3 895.9 248.4 897.5 237.8 905.2zM238.6 919.2 249.5 910.2 250.8 911.7 254.9 904.8 247.4 907.6 248.7 909.1 237.8 918.2zM238.7 932.2 249.7 921.5 251.1 922.9 254.9 915.6 247.4 919.1 248.8 920.6 237.7 931.2zM238.7 945.1 249.7 932.1 251.2 933.4 254.5 925.4 247.2 930.0 248.7 931.3 237.7 944.3zM312.8 737.4 322.8 737.3 322.8 739.3 329.2 736.7 322.7 734.0 322.8 736.0 312.8 736.0zM312.8 750.4 322.8 750.2 322.8 752.2 329.3 749.4 322.8 746.9 322.8 748.9 312.8 749.0zM312.8 763.4 322.9 763.0 323.0 765.1 329.4 762.2 322.8 759.7 322.9 761.7 312.8 762.0zM312.8 776.4 323.1 775.9 323.2 777.9 329.7 774.9 323.0 772.5 323.1 774.6 312.8 775.0zM312.8 789.4 323.4 788.8 323.5 790.8 330.0 787.7 323.2 785.4 323.3 787.4 312.8 788.0zM312.8 802.4 323.7 801.6 323.9 803.6 330.4 800.4 323.5 798.2 323.6 800.2 312.8 801.0zM312.9 815.4 324.1 814.4 324.3 816.5 330.9 813.1 323.8 811.0 324.0 813.0 312.7 814.0zM312.9 828.4 324.6 827.2 324.9 829.3 331.5 825.8 324.3 823.7 324.5 825.8 312.7 827.0zM312.9 841.4 325.3 840.0 325.5 842.1 332.2 838.5 324.8 836.4 325.1 838.6 312.7 840.0zM312.9 854.4 326.0 852.7 326.3 854.9 333.1 851.0 325.5 849.1 325.8 851.2 312.7 853.0zM312.9 867.4 326.8 865.4 327.2 867.6 334.2 863.5 326.3 861.7 326.6 863.9 312.7 866.0zM312.9 880.5 327.8 878.0 328.2 880.3 335.4 876.0 327.2 874.3 327.6 876.5 312.7 878.9zM312.9 893.5 329.0 890.7 329.4 893.0 336.8 888.5 328.3 886.8 328.7 889.1 312.7 891.9zM312.9 906.5 330.4 903.3 330.8 905.7 338.5 900.9 329.6 899.2 330.1 901.7 312.7 904.9zM313.0 919.5 332.0 915.9 332.4 918.4 340.5 913.4 331.2 911.7 331.6 914.2 312.6 917.9zM313.0 932.6 333.8 928.5 334.3 931.1 342.8 925.9 333.0 924.2 333.5 926.8 312.6 930.8zM313.0 945.6 335.9 941.4 336.4 944.2 345.4 938.7 335.0 936.8 335.5 939.6 312.6 943.8zM312.9 958.7 338.1 954.8 338.5 957.7 348.2 952.2 337.3 950.0 337.8 952.9 312.7 956.7zM312.9 971.7 340.1 968.8 340.4 971.9 350.8 966.7 339.6 963.8 339.9 966.8 312.7 969.7zM312.8 984.7 341.4 983.7 341.5 986.8 352.5 982.2 341.2 978.4 341.3 981.6 312.8 982.7zM388.9 737.4 398.7 737.4 398.7 739.4 405.2 736.8 398.8 734.1 398.8 736.1 388.9 736.0zM388.9 750.4 398.8 750.6 398.7 752.6 405.3 750.0 398.8 747.2 398.8 749.2 388.9 749.0zM388.9 763.4 398.9 763.7 398.8 765.7 405.4 763.3 399.0 760.4 398.9 762.4 388.9 762.0zM388.9 776.4 399.0 776.9 398.9 778.9 405.6 776.6 399.2 773.6 399.1 775.6 388.9 775.0zM388.9 789.4 399.3 790.1 399.1 792.1 405.9 789.9 399.5 786.7 399.4 788.8 388.9 788.0zM388.8 802.4 399.6 803.3 399.4 805.4 406.3 803.2 399.9 799.9 399.7 802.0 389.0 801.0zM388.8 815.4 399.9 816.5 399.7 818.6 406.8 816.6 400.3 813.1 400.1 815.2 389.0 814.0zM388.8 828.4 400.4 829.8 400.1 831.9 407.3 829.9 400.8 826.3 400.6 828.4 389.0 827.0zM388.8 841.4 400.9 843.1 400.7 845.2 408.0 843.4 401.4 839.6 401.1 841.7 389.0 840.0zM388.8 854.4 401.6 856.5 401.3 858.6 408.9 856.9 402.2 852.9 401.8 855.1 389.0 853.0zM388.8 867.4 402.4 869.9 402.0 872.1 409.9 870.5 403.0 866.3 402.6 868.4 389.0 866.0zM388.8 880.4 403.3 883.3 402.9 885.6 411.0 884.1 404.0 879.6 403.6 881.9 389.0 879.0zM388.7 893.5 404.4 896.9 403.9 899.2 412.4 897.8 405.2 893.0 404.7 895.3 389.1 891.9zM388.7 906.5 405.7 910.4 405.2 912.8 414.0 911.5 406.6 906.5 406.1 908.9 389.1 904.9zM388.7 919.5 407.3 924.0 406.7 926.5 416.0 925.3 408.3 920.0 407.7 922.4 389.1 917.9zM388.7 932.5 409.2 937.6 408.5 940.2 418.4 939.0 410.2 933.3 409.6 935.9 389.1 930.9zM388.7 945.6 411.5 951.0 410.8 953.7 421.3 952.4 412.5 946.5 411.9 949.2 389.1 943.8zM388.7 958.7 414.2 963.9 413.6 966.8 424.7 965.0 415.2 959.1 414.6 961.9 389.1 956.7zM388.8 971.7 417.0 975.7 416.6 978.8 428.2 976.3 417.8 970.6 417.3 973.7 389.0 969.7zM388.8 984.8 419.1 986.3 419.0 989.6 430.8 985.9 419.4 980.9 419.3 984.2 389.0 982.6z"/>
<path fill="#ff0000" fill-opacity="0.55" d="M659.3 841.2 659.7 840.4 660.6 840.9 660.1 839.1 658.4 839.6 659.2 840.1 658.7 840.8zM659.3 853.8 659.7 853.0 660.5 853.5 660.1 851.7 658.3 852.3 659.2 852.7 658.7 853.6zM659.3 866.5 659.7 865.7 660.5 866.0 660.0 864.2 658.3 865.0 659.1 865.4 658.7 866.3zM659.3 879.2 659.6 878.3 660.4 878.6 659.9 876.8 658.3 877.8 659.1 878.1 658.7 879.0zM659.3 891.9 659.6 890.9 660.4 891.2 659.8 889.4 658.3 890.5 659.1 890.8 658.7 891.7zM659.3 904.6 659.5 903.6 660.3 903.8 659.7 902.0 658.3 903.2 659.0 903.4 658.7 904.4zM659.2 917.3 659.5 916.2 660.2 916.4 659.6 914.6 658.3 915.9 659.0 916.1 658.8 917.1zM659.2 929.9 659.4 928.9 660.2 929.0 659.5 927.3 658.2 928.7 659.0 928.8 658.8 929.9zM659.2 942.6 659.4 941.6 660.1 941.7 659.4 939.9 658.2 941.4 658.9 941.5 658.8 942.6zM659.2 955.3 659.3 954.3 660.0 954.3 659.3 952.7 658.2 954.1 658.9 954.2 658.8 955.3zM659.2 968.0 659.3 967.0 659.9 967.0 659.2 965.4 658.2 966.9 658.9 966.9 658.8 968.0zM659.2 980.7 659.2 979.7 659.8 979.7 659.1 978.2 658.2 979.7 658.8 979.7 658.8 980.7zM1510.7 828.5 1511.2 829.1 1510.3 829.7 1512.1 829.9 1512.5 828.2 1511.7 828.8 1511.3 828.1zM1510.7 841.2 1511.1 841.9 1510.3 842.3 1512.0 842.7 1512.5 841.1 1511.7 841.5 1511.3 840.8zM1510.7 853.8 1511.1 854.6 1510.3 855.0 1511.9 855.6 1512.4 853.9 1511.6 854.3 1511.3 853.6zM1510.7 866.5 1511.1 867.3 1510.3 867.7 1511.8 868.4 1512.4 866.8 1511.6 867.1 1511.3 866.3zM1510.7 879.2 1511.0 880.0 1510.3 880.3 1511.8 881.2 1512.4 879.6 1511.6 879.9 1511.3 879.0zM1510.7 891.9 1511.0 892.8 1510.3 893.0 1511.7 894.0 1512.3 892.4 1511.5 892.6 1511.3 891.7zM1510.8 904.6 1511.0 905.5 1510.2 905.7 1511.6 906.8 1512.2 905.2 1511.5 905.4 1511.2 904.4zM1510.8 917.3 1511.0 918.2 1510.2 918.4 1511.5 919.6 1512.2 917.9 1511.5 918.1 1511.2 917.1zM1510.8 929.9 1510.9 930.9 1510.2 931.0 1511.4 932.3 1512.1 930.7 1511.4 930.8 1511.2 929.9zM1510.8 942.6 1510.9 943.6 1510.2 943.7 1511.3 945.0 1512.0 943.5 1511.4 943.5 1511.2 942.6zM1510.8 955.3 1510.9 956.3 1510.2 956.4 1511.2 957.7 1512.0 956.2 1511.3 956.2 1511.2 955.3zM1510.8 968.0 1510.8 969.0 1510.2 969.0 1511.1 970.4 1511.9 968.9 1511.3 968.9 1511.2 968.0zM1510.8 980.7 1510.8 981.6 1510.2 981.6 1511.0 983.0 1511.8 981.6 1511.2 981.6 1511.2 980.7z"/>
<path fill="#ff0000" fill-opacity="0.70" d="M659.0 739.8 659.7 739.8 659.8 741.0 660.7 739.2 659.5 737.6 659.6 738.9 659.0 739.0zM659.1 752.5 659.8 752.3 660.1 753.6 660.6 751.7 659.3 750.3 659.6 751.5 658.9 751.7zM659.2 765.2 659.8 764.9 660.3 766.0 660.6 764.1 659.0 763.0 659.5 764.1 658.8 764.4zM659.2 777.8 659.8 777.5 660.4 778.5 660.5 776.6 658.8 775.8 659.4 776.8 658.8 777.2zM659.2 790.5 659.8 790.0 660.5 790.9 660.4 789.0 658.6 788.6 659.3 789.4 658.8 789.9zM659.3 803.2 659.8 802.6 660.6 803.4 660.4 801.6 658.5 801.3 659.3 802.1 658.7 802.6zM659.3 815.8 659.8 815.2 660.6 815.9 660.3 814.1 658.5 814.1 659.3 814.8 658.7 815.4zM659.3 828.5 659.8 827.8 660.6 828.4 660.2 826.6 658.4 826.8 659.2 827.4 658.7 828.1zM754.0 739.9 756.3 739.8 756.3 741.3 759.6 739.3 756.2 737.4 756.2 738.9 754.0 738.9zM754.0 752.6 756.3 752.5 756.4 753.9 759.6 751.8 756.1 750.0 756.2 751.5 754.0 751.6zM754.1 765.3 756.3 765.1 756.5 766.5 759.6 764.2 756.1 762.6 756.2 764.1 753.9 764.3zM754.1 778.0 756.3 777.7 756.5 779.1 759.7 776.7 756.0 775.2 756.2 776.7 753.9 777.0zM754.1 790.7 756.4 790.3 756.6 791.7 759.7 789.1 755.9 787.8 756.2 789.3 753.9 789.7zM754.1 803.4 756.4 802.9 756.7 804.3 759.8 801.6 755.9 800.5 756.2 801.9 753.9 802.4zM754.1 816.1 756.5 815.5 756.9 816.9 759.9 814.1 755.9 813.1 756.2 814.5 753.9 815.1zM754.1 828.8 756.5 828.0 757.0 829.5 760.0 826.5 755.8 825.7 756.3 827.1 753.9 827.8zM754.2 841.5 756.6 840.6 757.1 842.0 760.2 839.0 755.8 838.3 756.3 839.7 753.8 840.5zM754.2 854.2 756.7 853.2 757.2 854.6 760.3 851.4 755.8 850.9 756.4 852.3 753.8 853.2zM754.2 866.9 756.8 865.8 757.3 867.2 760.5 863.8 755.9 863.5 756.4 864.9 753.8 865.9zM754.2 879.6 756.9 878.4 757.5 879.7 760.8 876.2 755.9 876.1 756.5 877.5 753.8 878.6zM754.2 892.3 757.1 891.0 757.7 892.3 761.1 888.6 756.0 888.7 756.6 890.0 753.8 891.3zM1418.5 739.9 1420.6 739.9 1420.6 741.4 1423.9 739.5 1420.7 737.5 1420.7 739.0 1418.5 738.9zM1418.5 752.6 1420.6 752.7 1420.5 754.2 1423.9 752.4 1420.8 750.3 1420.7 751.8 1418.5 751.6zM1418.4 765.3 1420.6 765.5 1420.5 767.0 1423.9 765.4 1420.9 763.1 1420.7 764.6 1418.6 764.3zM1418.4 778.0 1420.6 778.3 1420.4 779.8 1424.0 778.3 1421.0 775.9 1420.8 777.3 1418.6 777.0zM1418.4 790.7 1420.6 791.1 1420.3 792.5 1424.0 791.3 1421.1 788.7 1420.8 790.2 1418.6 789.7zM1418.4 803.4 1420.6 803.9 1420.3 805.3 1424.1 804.2 1421.2 801.5 1420.8 802.9 1418.6 802.4zM1418.4 816.1 1420.6 816.7 1420.2 818.1 1424.1 817.2 1421.3 814.4 1420.9 815.8 1418.6 815.1zM1418.4 828.8 1420.6 829.5 1420.2 830.9 1424.2 830.2 1421.4 827.2 1420.9 828.6 1418.6 827.8zM1418.3 841.5 1420.7 842.3 1420.2 843.7 1424.3 843.1 1421.5 840.0 1421.0 841.4 1418.7 840.5zM1418.3 854.1 1420.7 855.1 1420.2 856.5 1424.5 856.1 1421.6 852.9 1421.1 854.2 1418.7 853.3zM1418.3 866.8 1420.8 867.9 1420.2 869.3 1424.6 869.1 1421.7 865.7 1421.1 867.0 1418.7 866.0zM1418.3 879.5 1420.8 880.8 1420.2 882.1 1424.8 882.1 1421.9 878.6 1421.2 879.9 1418.7 878.7zM1418.3 892.2 1420.9 893.6 1420.2 894.9 1425.1 895.2 1422.0 891.4 1421.4 892.7 1418.7 891.4zM1418.3 904.9 1421.0 906.5 1420.3 907.7 1425.4 908.3 1422.2 904.3 1421.5 905.6 1418.7 904.1zM1418.2 917.6 1421.3 919.4 1420.6 920.7 1425.8 921.5 1422.6 917.3 1421.8 918.6 1418.8 916.8zM1511.0 739.8 1511.6 739.9 1511.4 741.1 1512.5 739.6 1511.8 737.8 1511.7 739.0 1511.0 739.0zM1510.9 752.5 1511.5 752.7 1511.2 753.9 1512.5 752.5 1512.0 750.6 1511.7 751.9 1511.1 751.7zM1510.8 765.2 1511.4 765.4 1510.9 766.5 1512.4 765.5 1512.3 763.6 1511.7 764.7 1511.2 764.4zM1510.8 777.8 1511.3 778.2 1510.7 779.2 1512.4 778.4 1512.4 776.5 1511.8 777.5 1511.2 777.2zM1510.8 790.5 1511.3 790.9 1510.6 791.8 1512.3 791.3 1512.5 789.5 1511.8 790.4 1511.2 789.9zM1510.7 803.1 1511.2 803.7 1510.5 804.4 1512.2 804.2 1512.5 802.4 1511.7 803.2 1511.3 802.7zM1510.7 815.8 1511.2 816.4 1510.4 817.0 1512.1 817.1 1512.5 815.3 1511.7 816.0 1511.3 815.4z"/>
<path fill="#ff0000" fill-opacity="0.85" d="M754.2 905.0 757.4 903.4 758.0 904.8 761.6 900.8 756.3 901.1 756.9 902.5 753.8 904.0zM754.2 917.7 757.9 915.8 758.6 917.2 762.1 913.1 756.7 913.5 757.4 914.9 753.8 916.7zM754.2 930.4 758.5 928.1 759.3 929.5 762.9 925.3 757.3 925.8 758.0 927.2 753.8 929.4zM754.3 943.1 759.5 940.3 760.2 941.7 764.0 937.2 758.2 937.9 758.9 939.3 753.7 942.1zM754.3 955.8 761.0 952.3 761.8 953.8 766.0 949.0 759.6 949.7 760.5 951.3 753.7 954.8zM848.6 739.9 851.8 739.9 851.8 741.5 856.5 739.4 851.7 737.3 851.8 738.9 848.6 738.9zM848.6 752.6 851.8 752.6 851.8 754.2 856.5 752.0 851.7 749.9 851.8 751.5 848.6 751.6zM848.6 765.3 851.8 765.2 851.8 766.8 856.5 764.6 851.7 762.6 851.8 764.2 848.6 764.3zM848.6 778.0 851.8 777.9 851.9 779.5 856.6 777.2 851.7 775.3 851.8 776.9 848.6 777.0zM848.6 790.7 851.9 790.6 851.9 792.2 856.6 789.8 851.7 787.9 851.8 789.5 848.6 789.7zM848.6 803.4 851.9 803.2 852.0 804.8 856.7 802.4 851.8 800.6 851.9 802.2 848.6 802.4zM848.6 816.1 852.0 815.9 852.1 817.5 856.8 815.1 851.8 813.3 851.9 814.9 848.6 815.1zM848.6 828.8 852.1 828.6 852.2 830.2 856.9 827.7 851.9 825.9 852.0 827.5 848.6 827.8zM848.6 841.5 852.2 841.3 852.3 842.9 857.0 840.4 852.0 838.6 852.1 840.2 848.6 840.5zM848.6 854.2 852.3 853.9 852.4 855.6 857.2 853.0 852.1 851.3 852.2 852.9 848.6 853.2zM848.6 866.9 852.4 866.6 852.6 868.2 857.3 865.7 852.2 863.9 852.3 865.6 848.6 865.9zM848.6 879.6 852.6 879.3 852.7 880.9 857.5 878.4 852.3 876.6 852.5 878.2 848.6 878.6zM848.6 892.3 852.7 892.0 852.8 893.7 857.7 891.1 852.5 889.3 852.6 890.9 848.6 891.3zM848.6 905.0 852.8 904.7 853.0 906.4 857.8 903.8 852.6 902.0 852.7 903.6 848.6 904.0zM848.6 917.7 853.0 917.5 853.1 919.1 858.0 916.6 852.8 914.7 852.9 916.4 848.6 916.7zM848.6 930.5 853.1 930.2 853.2 931.9 858.2 929.3 852.9 927.4 853.0 929.1 848.6 929.3zM848.6 943.2 853.2 942.9 853.3 944.6 858.3 942.1 853.1 940.2 853.1 941.8 848.6 942.0zM848.6 955.9 853.3 955.7 853.3 957.4 858.4 954.9 853.2 952.9 853.2 954.6 848.6 954.7zM848.6 968.6 853.3 968.5 853.4 970.1 858.5 967.8 853.3 965.7 853.3 967.3 848.6 967.4zM848.6 981.3 853.4 981.2 853.4 982.9 858.5 980.6 853.3 978.4 853.4 980.1 848.6 980.1zM943.2 739.9 946.9 739.9 946.9 741.6 951.8 739.4 946.9 737.2 946.9 738.9 943.2 738.9zM943.2 752.6 946.9 752.6 946.9 754.2 951.8 752.1 946.9 749.9 946.9 751.5 943.2 751.6zM943.2 765.3 946.9 765.3 946.9 766.9 951.8 764.7 946.9 762.6 946.9 764.2 943.2 764.3zM943.2 778.0 946.9 778.0 946.9 779.6 951.8 777.4 946.9 775.3 946.9 776.9 943.2 777.0zM943.2 790.7 946.9 790.7 946.9 792.3 951.8 790.1 946.9 788.0 946.9 789.6 943.2 789.7zM943.2 803.4 946.9 803.4 947.0 805.0 951.9 802.8 946.9 800.7 946.9 802.3 943.2 802.4zM943.2 816.1 947.0 816.1 947.0 817.7 951.9 815.5 946.9 813.4 946.9 815.0 943.2 815.1zM943.2 828.8 947.0 828.8 947.0 830.4 951.9 828.2 946.9 826.1 947.0 827.7 943.2 827.8zM943.2 841.5 947.0 841.5 947.0 843.1 951.9 840.9 947.0 838.8 947.0 840.4 943.2 840.5zM943.2 854.2 947.0 854.2 947.1 855.8 952.0 853.6 947.0 851.5 947.0 853.1 943.2 853.2zM943.2 866.9 947.1 866.9 947.1 868.5 952.0 866.3 947.0 864.2 947.0 865.8 943.2 865.9zM943.2 879.6 947.1 879.6 947.1 881.2 952.0 879.0 947.0 876.9 947.1 878.5 943.2 878.6zM943.2 892.3 947.1 892.3 947.1 893.9 952.1 891.7 947.1 889.6 947.1 891.2 943.2 891.3zM943.2 905.0 947.1 905.0 947.1 906.6 952.1 904.4 947.1 902.3 947.1 903.9 943.2 904.0zM943.2 917.7 947.1 917.7 947.2 919.3 952.1 917.1 947.1 915.0 947.1 916.6 943.2 916.7zM943.2 930.4 947.2 930.4 947.2 932.0 952.1 929.8 947.1 927.7 947.1 929.3 943.2 929.4zM943.2 943.1 947.2 943.1 947.2 944.7 952.2 942.5 947.1 940.4 947.2 942.0 943.2 942.1zM943.2 955.8 947.2 955.8 947.2 957.5 952.2 955.2 947.2 953.1 947.2 954.7 943.2 954.8zM943.2 968.5 947.2 968.5 947.2 970.2 952.2 968.0 947.2 965.8 947.2 967.4 943.2 967.5zM943.2 981.2 947.2 981.2 947.2 982.9 952.2 980.7 947.2 978.5 947.2 980.2 943.2 980.2zM1037.8 739.9 1041.6 739.9 1041.6 741.6 1046.5 739.4 1041.6 737.2 1041.6 738.9 1037.8 738.9zM1037.8 752.6 1041.6 752.6 1041.6 754.3 1046.5 752.1 1041.6 749.9 1041.6 751.6 1037.8 751.6zM1037.8 765.3 1041.6 765.3 1041.6 767.0 1046.5 764.8 1041.6 762.6 1041.6 764.3 1037.8 764.3zM1037.8 778.0 1041.6 778.0 1041.6 779.7 1046.6 777.5 1041.6 775.3 1041.6 777.0 1037.8 777.0zM1037.8 790.7 1041.6 790.7 1041.6 792.4 1046.6 790.2 1041.6 788.0 1041.6 789.7 1037.8 789.7zM1037.8 803.4 1041.6 803.4 1041.6 805.1 1046.6 802.9 1041.6 800.7 1041.6 802.4 1037.8 802.4zM1037.8 816.1 1041.6 816.1 1041.6 817.8 1046.6 815.6 1041.6 813.4 1041.6 815.1 1037.8 815.1zM1037.8 828.8 1041.6 828.8 1041.6 830.5 1046.6 828.3 1041.6 826.1 1041.6 827.8 1037.8 827.8zM1037.8 841.5 1041.6 841.5 1041.6 843.2 1046.6 841.0 1041.6 838.8 1041.6 840.5 1037.8 840.5zM1037.8 854.2 1041.6 854.2 1041.6 855.9 1046.6 853.7 1041.6 851.5 1041.6 853.2 1037.8 853.2zM1037.8 866.9 1041.6 866.9 1041.6 868.6 1046.6 866.4 1041.6 864.2 1041.6 865.8 1037.8 865.9zM1037.8 879.6 1041.6 879.6 1041.6 881.3 1046.6 879.1 1041.6 876.9 1041.6 878.6 1037.8 878.6zM1037.8 892.3 1041.6 892.3 1041.7 894.0 1046.6 891.8 1041.6 889.6 1041.6 891.3 1037.8 891.3zM1037.8 905.0 1041.7 905.0 1041.7 906.7 1046.6 904.5 1041.6 902.3 1041.7 904.0 1037.8 904.0zM1037.8 917.7 1041.7 917.7 1041.7 919.4 1046.6 917.2 1041.7 915.0 1041.7 916.7 1037.8 916.7zM1037.8 930.4 1041.7 930.4 1041.7 932.1 1046.6 929.9 1041.7 927.7 1041.7 929.4 1037.8 929.4zM1037.8 943.1 1041.7 943.1 1041.7 944.8 1046.6 942.6 1041.7 940.4 1041.7 942.1 1037.8 942.1zM1037.8 955.8 1041.7 955.8 1041.7 957.5 1046.6 955.3 1041.7 953.1 1041.7 954.8 1037.8 954.8zM1037.8 968.5 1041.7 968.5 1041.7 970.2 1046.6 968.0 1041.7 965.8 1041.7 967.5 1037.8 967.5zM1037.8 981.2 1041.7 981.2 1041.7 982.9 1046.6 980.7 1041.7 978.5 1041.7 980.2 1037.8 980.2zM1132.5 739.9 1136.3 739.9 1136.3 741.6 1141.2 739.4 1136.3 737.2 1136.3 738.9 1132.5 738.9zM1132.5 752.6 1136.3 752.6 1136.3 754.3 1141.2 752.1 1136.3 749.9 1136.3 751.6 1132.5 751.6zM1132.5 765.3 1136.3 765.3 1136.3 767.0 1141.2 764.8 1136.3 762.6 1136.3 764.3 1132.5 764.3zM1132.5 778.0 1136.3 778.0 1136.3 779.7 1141.3 777.5 1136.3 775.3 1136.3 777.0 1132.5 777.0zM1132.5 790.7 1136.3 790.7 1136.3 792.4 1141.3 790.2 1136.3 788.0 1136.3 789.7 1132.5 789.7zM1132.5 803.4 1136.3 803.4 1136.3 805.1 1141.3 802.9 1136.3 800.7 1136.3 802.4 1132.5 802.4zM1132.5 816.1 1136.3 816.1 1136.3 817.8 1141.3 815.6 1136.3 813.4 1136.3 815.1 1132.5 815.1zM1132.5 828.8 1136.3 828.9 1136.3 830.5 1141.3 828.3 1136.3 826.1 1136.3 827.8 1132.5 827.8zM1132.5 841.5 1136.3 841.6 1136.3 843.2 1141.3 841.0 1136.3 838.8 1136.3 840.5 1132.5 840.5zM1132.5 854.2 1136.3 854.3 1136.3 855.9 1141.3 853.7 1136.3 851.5 1136.3 853.2 1132.5 853.2zM1132.5 866.9 1136.3 867.0 1136.3 868.6 1141.3 866.4 1136.3 864.2 1136.3 865.9 1132.5 865.9zM1132.5 879.6 1136.3 879.7 1136.3 881.3 1141.3 879.1 1136.3 876.9 1136.3 878.6 1132.5 878.6zM1132.5 892.3 1136.3 892.4 1136.3 894.0 1141.3 891.8 1136.4 889.6 1136.3 891.3 1132.5 891.3zM1132.5 905.0 1136.4 905.1 1136.3 906.7 1141.3 904.5 1136.4 902.3 1136.4 904.0 1132.5 904.0zM1132.5 917.7 1136.4 917.7 1136.4 919.4 1141.3 917.2 1136.4 915.0 1136.4 916.7 1132.5 916.7zM1132.5 930.4 1136.4 930.4 1136.4 932.1 1141.3 929.9 1136.4 927.7 1136.4 929.4 1132.5 929.4zM1132.5 943.1 1136.4 943.1 1136.4 944.8 1141.3 942.6 1136.4 940.4 1136.4 942.1 1132.5 942.1zM1132.5 955.8 1136.4 955.8 1136.4 957.5 1141.3 955.3 1136.4 953.1 1136.4 954.8 1132.5 954.8zM1132.5 968.5 1136.4 968.5 1136.4 970.2 1141.3 968.0 1136.4 965.8 1136.4 967.5 1132.5 967.5zM1132.5 981.2 1136.4 981.2 1136.4 982.9 1141.3 980.7 1136.4 978.5 1136.4 980.2 1132.5 980.2zM1229.2 739.9 1232.9 739.9 1232.9 741.6 1237.8 739.4 1232.9 737.2 1232.9 738.9 1229.2 738.9zM1229.2 752.6 1232.9 752.7 1232.9 754.3 1237.8 752.1 1232.9 750.0 1232.9 751.6 1229.2 751.6zM1229.2 765.3 1232.9 765.4 1232.9 767.0 1237.8 764.9 1232.9 762.7 1232.9 764.3 1229.2 764.3zM1229.2 778.0 1232.9 778.1 1232.9 779.7 1237.8 777.6 1232.9 775.4 1232.9 777.0 1229.2 777.0zM1229.2 790.7 1232.9 790.8 1232.9 792.4 1237.8 790.3 1232.9 788.1 1232.9 789.7 1229.2 789.7zM1229.2 803.4 1232.9 803.5 1232.9 805.1 1237.8 803.0 1232.9 800.8 1232.9 802.4 1229.2 802.4zM1229.2 816.1 1232.9 816.2 1232.9 817.8 1237.9 815.7 1233.0 813.5 1232.9 815.1 1229.2 815.1zM1229.2 828.8 1233.0 828.9 1232.9 830.5 1237.9 828.4 1233.0 826.2 1233.0 827.8 1229.2 827.8zM1229.2 841.5 1233.0 841.6 1232.9 843.2 1237.9 841.2 1233.0 838.9 1233.0 840.5 1229.2 840.5zM1229.2 854.2 1233.0 854.3 1233.0 855.9 1238.0 853.9 1233.1 851.6 1233.0 853.2 1229.2 853.2zM1229.2 866.9 1233.0 867.0 1233.0 868.6 1238.0 866.6 1233.1 864.3 1233.1 865.9 1229.2 865.9zM1229.2 879.6 1233.1 879.7 1233.0 881.3 1238.0 879.3 1233.1 877.0 1233.1 878.6 1229.2 878.6zM1229.2 892.3 1233.1 892.4 1233.1 894.0 1238.1 891.9 1233.1 889.7 1233.1 891.3 1229.2 891.3zM1229.2 905.0 1233.1 905.1 1233.1 906.7 1238.1 904.6 1233.2 902.4 1233.1 904.0 1229.2 904.0zM1229.2 917.7 1233.1 917.8 1233.1 919.4 1238.1 917.3 1233.2 915.1 1233.2 916.7 1229.2 916.7zM1229.2 930.4 1233.2 930.5 1233.1 932.1 1238.2 930.0 1233.2 927.8 1233.2 929.4 1229.2 929.4zM1229.2 943.1 1233.2 943.2 1233.2 944.8 1238.2 942.7 1233.2 940.5 1233.2 942.1 1229.2 942.1zM1229.2 955.8 1233.2 955.9 1233.2 957.5 1238.2 955.4 1233.2 953.1 1233.2 954.8 1229.2 954.8zM1229.2 968.5 1233.2 968.6 1233.2 970.2 1238.2 968.0 1233.2 965.8 1233.2 967.5 1229.2 967.5zM1229.2 981.2 1233.2 981.3 1233.2 982.9 1238.2 980.7 1233.2 978.5 1233.2 980.2 1229.2 980.2zM1323.9 739.9 1327.0 739.9 1327.0 741.5 1331.7 739.5 1327.0 737.3 1327.0 738.9 1323.9 738.9zM1323.9 752.6 1327.0 752.7 1327.0 754.3 1331.7 752.2 1327.1 750.0 1327.0 751.6 1323.9 751.6zM1323.9 765.3 1327.0 765.4 1327.0 767.0 1331.8 765.0 1327.1 762.8 1327.1 764.4 1323.9 764.3zM1323.9 778.0 1327.0 778.2 1327.0 779.7 1331.8 777.8 1327.1 775.5 1327.1 777.1 1323.9 777.0zM1323.9 790.7 1327.1 790.9 1327.0 792.5 1331.9 790.6 1327.2 788.3 1327.1 789.8 1323.9 789.7zM1323.9 803.4 1327.1 803.6 1327.0 805.2 1331.9 803.4 1327.3 801.0 1327.2 802.6 1323.9 802.4zM1323.9 816.1 1327.2 816.4 1327.1 818.0 1332.0 816.2 1327.4 813.7 1327.3 815.3 1323.9 815.1zM1323.9 828.8 1327.3 829.1 1327.1 830.7 1332.1 829.0 1327.5 826.4 1327.4 828.0 1323.9 827.8zM1323.9 841.5 1327.4 841.8 1327.2 843.4 1332.3 841.7 1327.6 839.2 1327.5 840.8 1323.9 840.5zM1323.9 854.2 1327.5 854.6 1327.3 856.2 1332.4 854.5 1327.7 851.9 1327.6 853.5 1323.9 853.2zM1323.9 866.9 1327.6 867.3 1327.5 868.9 1332.6 867.2 1327.9 864.6 1327.7 866.2 1323.9 865.9zM1323.8 879.6 1327.8 880.0 1327.6 881.6 1332.8 879.9 1328.0 877.3 1327.9 878.9 1324.0 878.6zM1323.9 892.3 1327.9 892.7 1327.8 894.3 1333.0 892.6 1328.2 890.0 1328.0 891.6 1323.9 891.3zM1323.9 905.0 1328.1 905.4 1327.9 907.1 1333.2 905.3 1328.3 902.7 1328.2 904.3 1323.9 904.0zM1323.9 917.7 1328.2 918.1 1328.1 919.8 1333.4 918.0 1328.4 915.3 1328.3 917.0 1323.9 916.7zM1323.9 930.5 1328.4 930.8 1328.3 932.4 1333.5 930.6 1328.6 928.0 1328.5 929.7 1323.9 929.3zM1323.9 943.2 1328.5 943.4 1328.4 945.1 1333.7 943.1 1328.7 940.6 1328.6 942.3 1323.9 942.0zM1323.9 955.9 1328.7 956.1 1328.6 957.7 1333.9 955.7 1328.8 953.3 1328.7 954.9 1323.9 954.7zM1323.9 968.6 1328.7 968.7 1328.7 970.4 1334.0 968.3 1328.8 965.9 1328.8 967.6 1323.9 967.4zM1323.9 981.3 1328.8 981.3 1328.8 983.0 1334.0 980.8 1328.8 978.5 1328.8 980.2 1323.9 980.1zM1418.2 930.3 1421.8 932.6 1420.9 933.8 1426.3 934.9 1423.1 930.5 1422.3 931.7 1418.8 929.5zM1418.2 943.0 1422.3 945.9 1421.4 947.2 1426.9 948.5 1423.8 943.8 1422.9 945.1 1418.8 942.2zM1418.2 955.7 1423.2 959.5 1422.2 960.7 1427.9 962.4 1424.7 957.4 1423.8 958.6 1418.8 954.9zM1418.1 968.4 1424.3 974.0 1423.2 975.2 1429.2 977.7 1426.1 972.0 1425.0 973.2 1418.9 967.6zM1418.1 981.0 1424.1 989.7 1422.8 990.6 1428.2 994.8 1426.2 988.2 1424.9 989.1 1418.9 980.4z"/>
<path fill="#ff0000" fill-opacity="1.00" d="M754.3 968.6 764.1 963.8 765.0 965.5 769.9 960.2 762.7 960.9 763.5 962.6 753.7 967.4zM754.2 981.5 773.5 975.8 774.2 978.2 781.9 972.4 772.2 971.7 773.0 974.1 753.8 979.9z"/>
<path d="M462 985L468.5 1023M462.5 1023.5h10" stroke="#ff0000" stroke-width="2" fill="none"/>
<rect x="644" y="722.5" width="8" height="5" fill="#8a0000"/>
<rect x="4.2" y="4.1" width="2061.2" height="1026" fill="none" stroke="#000" stroke-width="3.5"/>
<defs><linearGradient id="cbg" x1="0" y1="0" x2="0" y2="1"><stop offset="0.0000" stop-color="#800000"/><stop offset="0.0312" stop-color="#9f0000"/><stop offset="0.0625" stop-color="#bf0000"/><stop offset="0.0938" stop-color="#df0000"/><stop offset="0.1250" stop-color="#ff0000"/><stop offset="0.1562" stop-color="#ff2000"/><stop offset="0.1875" stop-color="#ff4000"/><stop offset="0.2188" stop-color="#ff6000"/><stop offset="0.2500" stop-color="#ff8000"/><stop offset="0.2812" stop-color="#ff9f00"/><stop offset="0.3125" stop-color="#ffbf00"/><stop offset="0.3438" stop-color="#ffdf00"/><stop offset="0.3750" stop-color="#ffff00"/><stop offset="0.4062" stop-color="#dfff20"/><stop offset="0.4375" stop-color="#bfff40"/><stop offset="0.4688" stop-color="#9fff60"/><stop offset="0.5000" stop-color="#80ff80"/><stop offset="0.5312" stop-color="#60ff9f"/><stop offset="0.5625" stop-color="#40ffbf"/><stop offset="0.5938" stop-color="#20ffdf"/><stop offset="0.6250" stop-color="#00ffff"/><stop offset="0.6562" stop-color="#00dfff"/><stop offset="0.6875" stop-color="#00bfff"/><stop offset="0.7188" stop-color="#009fff"/><stop offset="0.7500" stop-color="#0080ff"/><stop offset="0.7812" stop-color="#0060ff"/><stop offset="0.8125" stop-color="#0040ff"/><stop offset="0.8438" stop-color="#0020ff"/><stop offset="0.8750" stop-color="#0000ff"/><stop offset="0.9062" stop-color="#0000df"/><stop offset="0.9375" stop-color="#0000bf"/><stop offset="0.9688" stop-color="#00009f"/><stop offset="1.0000" stop-color="#000080"/></linearGradient></defs>
<rect x="1724.8" y="504.8" width="23.1" height="455.1" fill="url(#cbg)" stroke="#222" stroke-width="1"/>
<text x="1761" y="966.4" class="cb">0</text>
<text x="1761" y="920.9" class="cb">0.1</text>
<text x="1761" y="875.4" class="cb">0.2</text>
<text x="1761" y="829.9" class="cb">0.3</text>
<text x="1761" y="784.4" class="cb">0.4</text>
<text x="1761" y="738.8" class="cb">0.5</text>
<text x="1761" y="693.3" class="cb">0.6</text>
<text x="1761" y="647.8" class="cb">0.7</text>
<text x="1761" y="602.3" class="cb">0.8</text>
<text x="1761" y="556.8" class="cb">0.9</text>
<text x="1761" y="511.3" class="cb">1</text>
<path d="M1724.8 959.9h3M1747.9 959.9h-3M1724.8 914.4h3M1747.9 914.4h-3M1724.8 868.9h3M1747.9 868.9h-3M1724.8 823.4h3M1747.9 823.4h-3M1724.8 777.9h3M1747.9 777.9h-3M1724.8 732.3h3M1747.9 732.3h-3M1724.8 686.8h3M1747.9 686.8h-3M1724.8 641.3h3M1747.9 641.3h-3M1724.8 595.8h3M1747.9 595.8h-3M1724.8 550.3h3M1747.9 550.3h-3M1724.8 504.8h3M1747.9 504.8h-3" stroke="#222" stroke-width="1"/>
<rect x="1850.8" y="504.1" width="22.5" height="456.9" fill="#fff" stroke="#222" stroke-width="1.2"/>
<rect x="1851.4" y="504.6" width="21.3" height="6.5" fill="#9e0000"/>
<text x="1886.5" y="514.4" class="cb">0.97</text>
<rect x="1851.4" y="528.1" width="21.3" height="6.5" fill="#c70000"/>
<text x="1886.5" y="537.9" class="cb">0.93</text>
<rect x="1851.4" y="551.6" width="21.3" height="6.5" fill="#fa0000"/>
<text x="1886.5" y="561.3" class="cb">0.88</text>
<rect x="1851.4" y="575.1" width="21.3" height="6.5" fill="#ff3800"/>
<text x="1886.5" y="584.8" class="cb">0.82</text>
<rect x="1851.4" y="598.5" width="21.3" height="6.5" fill="#ff6100"/>
<text x="1886.5" y="608.3" class="cb">0.78</text>
<rect x="1851.4" y="622.0" width="21.3" height="6.5" fill="#ff9e00"/>
<text x="1886.5" y="631.8" class="cb">0.72</text>
<rect x="1851.4" y="645.5" width="21.3" height="6.5" fill="#ffc700"/>
<text x="1886.5" y="655.2" class="cb">0.68</text>
<rect x="1851.4" y="668.9" width="21.3" height="6.5" fill="#fffa00"/>
<text x="1886.5" y="678.7" class="cb">0.63</text>
<rect x="1851.4" y="692.4" width="21.3" height="6.5" fill="#c7ff38"/>
<text x="1886.5" y="702.2" class="cb">0.57</text>
<rect x="1851.4" y="715.9" width="21.3" height="6.5" fill="#9eff61"/>
<text x="1886.5" y="725.6" class="cb">0.53</text>
<rect x="1851.4" y="739.3" width="21.3" height="6.5" fill="#61ff9e"/>
<text x="1886.5" y="749.1" class="cb">0.47</text>
<rect x="1851.4" y="762.8" width="21.3" height="6.5" fill="#2effd1"/>
<text x="1886.5" y="772.6" class="cb">0.42</text>
<rect x="1851.4" y="786.3" width="21.3" height="6.5" fill="#05fffa"/>
<text x="1886.5" y="796.0" class="cb">0.38</text>
<rect x="1851.4" y="809.8" width="21.3" height="6.5" fill="#00d1ff"/>
<text x="1886.5" y="819.5" class="cb">0.33</text>
<rect x="1851.4" y="833.2" width="21.3" height="6.5" fill="#009eff"/>
<text x="1886.5" y="843.0" class="cb">0.28</text>
<rect x="1851.4" y="856.7" width="21.3" height="6.5" fill="#006bff"/>
<text x="1886.5" y="866.4" class="cb">0.23</text>
<rect x="1851.4" y="880.2" width="21.3" height="6.5" fill="#002eff"/>
<text x="1886.5" y="889.9" class="cb">0.17</text>
<rect x="1851.4" y="903.6" width="21.3" height="6.5" fill="#0005ff"/>
<text x="1886.5" y="913.4" class="cb">0.13</text>
<rect x="1851.4" y="927.1" width="21.3" height="6.5" fill="#0000c7"/>
<text x="1886.5" y="936.9" class="cb">0.07</text>
<rect x="1851.4" y="950.6" width="21.3" height="6.5" fill="#00009e"/>
<text x="1886.5" y="960.3" class="cb">0.03</text>
<text x="1620.5" y="770" class="fq" text-anchor="middle" textLength="158" lengthAdjust="spacingAndGlyphs">Freq = 12.6</text>
<text x="1620.5" y="811" class="fq" text-anchor="middle">kHz</text>
<text x="1620.8" y="866.0" class="ct" text-anchor="middle" textLength="159" lengthAdjust="spacingAndGlyphs">Contour: Electric</text>
<text x="1620.8" y="893.5" class="ct" text-anchor="middle" textLength="112" lengthAdjust="spacingAndGlyphs">Potential [V]</text>
<text x="1620.8" y="920.5" class="ct" text-anchor="middle" textLength="142" lengthAdjust="spacingAndGlyphs">Arrow Surface:</text>
<text x="1620.8" y="948.0" class="ct" text-anchor="middle" textLength="150" lengthAdjust="spacingAndGlyphs">Current Density</text>
<text x="1620.8" y="976" class="ct" text-anchor="middle" font-size="19" textLength="64" lengthAdjust="spacingAndGlyphs">[A/m<tspan dy="-7" font-size="12">2</tspan><tspan dy="7">]</tspan></text>
</svg></body></html>
